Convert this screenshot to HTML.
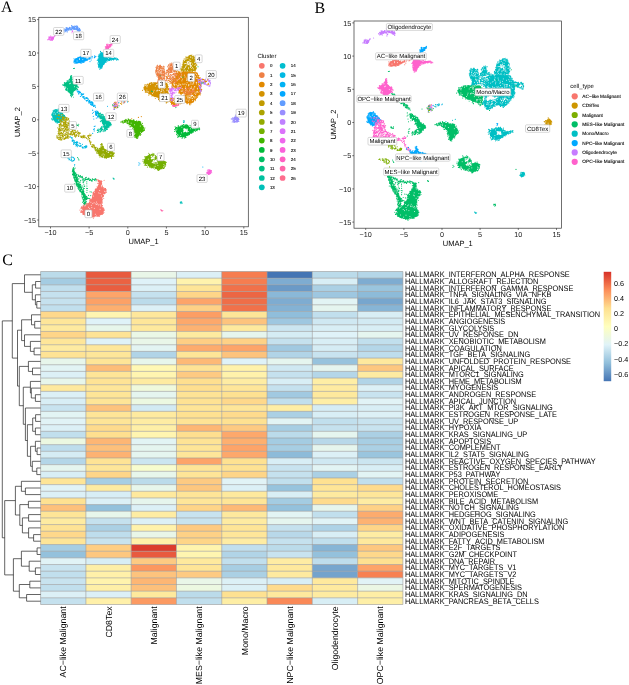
<!DOCTYPE html><html><head><meta charset="utf-8"><title>Figure</title><style>html,body{margin:0;padding:0;background:#fff}svg{display:block}text{font-family:"Liberation Sans",sans-serif;fill:#000;text-rendering:geometricPrecision}.sm{stroke:#000;stroke-width:.1px}.se{font-family:"Liberation Serif",serif}.tk{font-size:7.2px;fill:#1a1a1a}.ax{font-size:7.5px}.lb{font-size:6px;text-anchor:middle}.lt{font-size:6px}.rl{font-size:8px}.cl{font-size:8.8px}.hl{font-size:7.2px}</style></head><body>
<svg width="629" height="685" viewBox="0 0 629 685">
<rect width="629" height="685" fill="#fff"/>
<text class="se" x="1.1" y="12.2" font-size="16">A</text>
<clipPath id="cpA"><rect x="38.8" y="17.3" width="209.5" height="209.5"/></clipPath>
<g clip-path="url(#cpA)"><path d="M48.3 37.5L48.5 39.7L50.7 40.5L53.7 39.3L54.3 37L51.6 36.2Z" fill="#EE67EC"/><path d="M51.1 37.5h0m2.4 1.4h0m-2.8-1.5h0m-1 0.2h0m4.3-1h0m-0.7 1.5h0m-1.9 0.2h0m-1.4 0.6h0m-0.6 0.2h0m-0.1 0.6h0m1.8-3h0m0 1.3h0m-0.4-1.4h0m4-0.7h0m-4.8 2.4h0m-0.4-1.3h0m3 3.2h0m-4.9-0.5h0m4.6 0.2h0m-1.2 0.5h0m0.7-1.2h0m-0.5-2.6h0m-0.3 0h0m-2.1 3h0m1.6-0.4h0m3.1-1.6h0m-4.5-0.8h0m2.4 1.2h0m2-0.1h0m-1.5 0.4h0m0.7 0.7h0m-0.8-0.6h0m-1.1-2.4h0" stroke="#EE67EC" stroke-width="1.15" stroke-linecap="round" fill="none"/><path d="M50.1 38.9h0m1-2.2h0" stroke="#fff" stroke-width="0.85" stroke-linecap="round" fill="none"/><path d="M55 35.6h0m3.5-0.8h0" stroke="#EE67EC" stroke-width="1.15" stroke-linecap="round" fill="none"/><path d="M64.2 30.3L64.9 31.6L68.4 29.9L72.6 28.7L76.5 29.4L79.2 31.2L80 29.8L77.1 27L72.7 26.7L68.4 28.1Z" fill="#619CFF"/><path d="M64.6 29.1h0m10.5 0h0m4.8 3.1h0m-6.6-3.8h0m4.3 2.3h0m-3.1-3.2h0m-7.3 4.4h0m6.1-5.3h0m-9 4.7h0m13.8-1.5h0m-9.6-0.5h0m-3.2 1.8h0m9.5-5.1h0m1.9 3.8h0m-8.1-1h0m-2.4 0.4h0m10.7 0.6h0m2.2-0.4h0m-4.1-2.3h0m-1.5 0.4h0m-8.7 4.4h0m10.2-5h0m-0.6 1.9h0m3.3 1.4h0m-8.8 0h0m10.6-0.2h0m-0.7 0.1h0m-11.8 1h0m-3.5-0.7h0m3.9-2.1h0m-0.4-0.5h0m4.7 0.9h0m-6.5 0.7h0m5.1-1.3h0m-4.3 2.7h0m8.7-2.8h0m-4.3 0.9h0m-3-0.5h0m-2.6 1.6h0m3-0.8h0m8.6-0.6h0m3.1-0.3h0m-11 1.7h0m0.1-1.7h0m9.8 1.7h0m-7.1-1.8h0m8.3 0.5h0m-3.6 0.9h0m-11.8 1.1h0m11.7-3.8h0m2.1 1h0m-3.8 1.5h0m-4.7-2.2h0m-3 1.7h0m5 0.7h0m5-0.6h0m3.4 0.5h0m-4.9-3.4h0m4 4.8h0m-1-3h0m-1-2.1h0m-2.4 1.8h0m-8.1 2.5h0m9.8-1.9h0m-1.3-0.4h0m-2.9 2.3h0m-1.5-0.3h0m1.9-1.1h0m-2.4-0.7h0m2.7-0.2h0m2.9-1.2h0m-6.2 2h0m10.9 1.9h0m-10.4-2.8h0m6.9-0.1h0m-11 2h0m11.9 0.7h0m2.3-0.6h0m-14.4 0.9h0m0.1-0.8h0m0.4-1.2h0m7.5 0.9h0m-1.8-3.2h0m4.8 2.4h0m-10.3 1.7h0m9.8-4.2h0m-0.5 2.1h0m3.2 2.9h0m-11.3-1.7h0m4.4-3.1h0m-6.8 5h0m12.4-0.9h0m-6.1-5h0m-4.5 4.7h0m5.7-2.6h0m1.9-0.7h0m-1.3 1.4h0m-7.3 1.8h0m-1.3 0.1h0m14.8-0.4h0m0 0.9h0m-12.4-3.1h0m11.2 2.9h0m-14.1-0.4h0m4.8-1.7h0m-4.1 2.1h0m2.6-1.8h0m5.3-2.5h0m3.5 0.7h0m1.8 0.6h0m-1.8 1.4h0m1.3-1.5h0m-11.5 0.2h0m-0.5 3.2h0m8.2-3.8h0m4.9 3.2h0m-6-2.1h0m-7.7 3.4h0m12.6-4.8h0" stroke="#619CFF" stroke-width="1.15" stroke-linecap="round" fill="none"/><path d="M64.7 31.7h0m-0.5-1.6h0m6.8-2.1h0m4.7-0.3h0" stroke="#fff" stroke-width="0.85" stroke-linecap="round" fill="none"/><path d="M72.8 31.1h0m-0.5 0.3h0m-0.3 1.3h0" stroke="#EE67EC" stroke-width="1.15" stroke-linecap="round" fill="none"/><path d="M104.8 48.4L107.4 49.1L111.2 46.5L111.9 43.6L107 45.1Z" fill="#FF61C3"/><path d="M110 47.1h0m1.7-2.6h0m-4.3 2.4h0m-0.8 2.1h0m1.3-0.8h0m0.4-1.3h0m1.4-1h0m-2.2-1.2h0m2.5-0.2h0m1-0.2h0m-3.2 4.4h0m-1.8 0.6h0m6.2-5.5h0m-3.8 2.9h0m-0.8-0.1h0m-0.5-2.6h0m0.5 3.2h0m4.2-2h0m-6.3 4.1h0m1-4.5h0m2.4 0.4h0m0.1 0h0m-3.3 1.5h0m6.4-3.5h0m-2.5 3.1h0m-0.8-1.9h0m1 2.8h0m-2.3-2.1h0m-1.1 2.9h0m-0.9-1h0m5.7-3.1h0m-3.6 3.2h0m0-1.3h0m-0.4 0h0m3.7 0.7h0m-0.9 0.1h0m-3.2 1.7h0m1.7 0.1h0m3.1-3.9h0m-3.2 1h0m-1-0.1h0m0.3 2.2h0m-2.4-0.8h0" stroke="#FF61C3" stroke-width="1.15" stroke-linecap="round" fill="none"/><path d="M111.3 46.3h0m-3-1.2h0" stroke="#fff" stroke-width="0.85" stroke-linecap="round" fill="none"/><path d="M74.3 60.9L74.8 62.7L77 63.5L82.1 62.6L86.4 60.5L86.9 58.9L85.2 57.8L81.8 57.1L78 57.5L75.3 58.7Z" fill="#00A8FF"/><path d="M80.9 59.6h0m-5.8 1.8h0m9.1-0.8h0m-10.4 0.5h0m4.8-2.1h0m-2.8 2.6h0m9.6-2.6h0m-5.3 1.8h0m-4.2-0.5h0m4.4 0h0m-0.8-0.1h0m3.6-0.6h0m3.6-0.2h0m-10.8 1.6h0m4 1.7h0m0.4-3.7h0m-4.9 2h0m5.3-4.1h0m-0.6 0.9h0m-1.8 1.9h0m3.9 0.4h0m-3.7-1.3h0m7.4 0.8h0m-10.1-0.7h0m1.2 3.6h0m6.2-3h0m-5.8 2.6h0m8.3-1.3h0m1-0.8h0m-10.1-0.2h0m3.1 2.7h0m4.4-3.8h0m-9.2 4.2h0m9.5-1.2h0m-4.2-4.4h0m-4.5 2.2h0m8 2.4h0m-8.6 1.6h0m4.7-4.8h0m1.4-1.9h0m-0.5 5.7h0m5.6-2.2h0m-9.2 2.5h0m1.6-2.6h0m-0.4-0.7h0m7.8 0.9h0m-10.3 1.2h0m6.9-1.5h0m1.1-1.6h0m-9.8 4.1h0m7.3 0.7h0m-6.8-1.9h0m6.1-3.7h0m3.2 4.3h0m-2.1-0.1h0m-6.9 0.2h0m2.2 0.3h0m9.1-4.4h0m-11.3 4h0m6.1-1.4h0m6.4-1.2h0m-11.1-0.5h0m3.6 1.2h0m1.9-0.6h0m1.5 0.3h0m0.6 0.8h0m-5.3 0.9h0m4.7-4.1h0m1 2.1h0m-7.9 3.5h0m4.1-6.4h0m0.4 6.3h0m1.1-0.2h0m1.9-0.4h0m-4.8-2.3h0m5.1-1.9h0m-4.3 1.7h0m-0.9-2.2h0m-0.5 1.4h0m1.7-0.1h0m-2.8-0.2h0m-1.4 0.4h0m2.1-1.8h0m0.5 3.6h0m3.9-0.7h0m3.3-2.2h0m-6.4-0.9h0m2.2-0.2h0m-2 2h0m4.3 0.5h0m-8.3 0.9h0m7.3 1.9h0m2-3.5h0m-2.2 2.7h0m3.2-3.3h0m-9.1 0.9h0m4-1.1h0m1.3-0.1h0m-5.6 3.4h0m-1.9-1.3h0m8.6-2h0m-5.4 4.6h0m5.2-2.5h0m-8.2 0.1h0m8.1 0.5h0m-1.6 1.7h0m-0.9 0h0m3.8-2.8h0m-4.8-1.8h0m4.5-0.5h0m-5.3 0.9h0m-4.5 0.6h0m7.6 3.1h0m2.5-2.9h0m-7.4 0.5h0m6.6-0.3h0m-4 0.1h0" stroke="#00A8FF" stroke-width="1.15" stroke-linecap="round" fill="none"/><path d="M79.6 58.6h0m0 0.9h0m-2.5 1.5h0m-2.3 1.9h0m8-3.3h0m-1 3.5h0" stroke="#fff" stroke-width="0.85" stroke-linecap="round" fill="none"/><path d="M90.1 58.7h0m1.9-2.3h0m-1.8 1.2h0m4.9-0.7h0m0.8-0.4h0m-6 0.7h0m-2 1.8h0m4.5-2.3h0m-3.4 2.5h0m1.2-1.3h0m4.3-0.5h0m-6.8 1.9h0m6.6-1.6h0m-6.2 0.6h0m3.8-0.4h0m-2.8 0h0m5.6-2h0m-4.7 2.4h0m-0.6 0h0m0.2 0.6h0" stroke="#00A8FF" stroke-width="1.15" stroke-linecap="round" fill="none"/><path d="M91.2 60h0m-1.2 1.6h0m-2.8-1.1h0" stroke="#00A8FF" stroke-width="1.15" stroke-linecap="round" fill="none"/><path d="M100.4 53L98.8 56.3L97.9 60.5L98.4 66.4L99.8 68.8L102 67.1L104.2 63.7L106.5 60.9L111.9 59.6L117.9 59.3L118 58.8L110.2 57.8L104.8 57.4L104.5 57.2L103.6 54.6L102.1 52Z" fill="#00BECF"/><path d="M102.4 66.6h0m0.8-4.3h0m13-4.3h0m-5.4-0.1h0m-5.5 3.1h0m-5.5 4.4h0m0.8-0.9h0m9.2-4h0m-9.6 0h0m2.2-5.3h0m14.8 4.5h0m-15.4-7h0m-1 10.6h0m-2 1.7h0m13.8-6.4h0m-1.7-0.1h0m0.1 0.5h0m3.9-0.7h0m-11.6-2h0m-0.2 0.2h0m11.3 1.4h0m-13.6-2.9h0m2.9 7.4h0m-2.4-3h0m-2-3.9h0m-0.3 8.9h0m4.4-8h0m9.8 2.8h0m-13.9 5.6h0m6.8-2.6h0m11.5-2.8h0m-16.4-3.1h0m-2.8 9.7h0m2.8-10.6h0m1.1 0.6h0m-2.5 5.1h0m0.9-2.3h0m1.3-4.9h0m-3.9 8.9h0m7.3-4.8h0m-3.2-3h0m-1.5 11.8h0m3.5-4.3h0m-6 2h0m6.9-10.4h0m-4.1 2.6h0m5.8 4.2h0m-7.5-0.7h0m-0.4 7.4h0m2-1.5h0m13.1-6.9h0m-12.4 9h0m-1.7-14.4h0m2.5 1.7h0m-2.2 2.1h0m-0.7 1.4h0m11.5-0.5h0m-8.5 3.8h0m6.4-3.9h0m0.8 1.3h0m-11 4h0m15.6-5.3h0m-10.8 1.7h0m-5.5-0.9h0m13.9-0.6h0m-12.1-3.1h0m4.7 4.3h0m-6.3 3.4h0m1.7 1.7h0m8.6-4.9h0m-6.2-4.7h0m-2.9 4.2h0m1.5 0h0m12.7-0.6h0m-14 10.2h0m8.1-9.7h0m-1.3-2.2h0m-4.8 1.2h0m3.2-0.8h0m-1.6-4.1h0m-0.1 0.1h0m9.6 5.8h0m-6.7-0.2h0m-6.2 1.9h0m0.3 7.7h0m9-11.3h0m-8.3-3.4h0m4.3 3.9h0m-5.7 7.8h0m4.8-2.1h0m-3.7-12.3h0m7.6 7.9h0m9.4-0.5h0m-15.7-2.6h0m1.8 5.9h0m-2.2-2.9h0m0.5 8h0m0.1-3.3h0m-2.1 4.1h0m4.9-6.1h0m5.4-2.6h0m-12.4 3.8h0m3.6-4.9h0m12 1.7h0m-12.3-1.2h0m15.5 1.4h0m-17.7-5.1h0m16.9 3.9h0m-12.8-5.8h0m0.6 10.7h0m-5.3-7.5h0m5.2-1.1h0m3.7 6.1h0m-5.2-5.7h0m5.7 1.2h0m-4.9 6.3h0m8.5-2.9h0m-7.3 0.6h0m-4.2-6.1h0m8.7 2.8h0m-8.3 9.8h0m1.5-8.9h0m3.1 3h0m-2.9-7.9h0m-1.9 10h0m5-6.2h0m-5.5 5.1h0m-0.4-3.5h0m14.2 0.7h0m-8.1 2.2h0m3.7-1.2h0m-9.5-2.1h0m14.2 0.5h0m-11.2-1.9h0m2.5 4.6h0m10.5-2.9h0m-16.7 8.2h0m14.8-8.6h0m-9.1 5.4h0m6.9-5.1h0m-12.8 1.1h0m4.1 2.7h0m-0.2-8.1h0m1.9 8.2h0m10.2-3.9h0m-10.9-0.4h0m-4.4 8h0m3.1-5.1h0m-3.9 1.8h0m2.1 5.8h0m0.6-14.7h0m17.4 5.7h0m-14.1-4.3h0m7.1 3.3h0m-10-5.9h0m8.9 5.8h0m-11.7-3.7h0m6 3.4h0m-7.4 2h0m6.1-4h0m1.8 5.8h0m-2.8 0.1h0m-1.8-10.2h0m1.2 15.8h0m0.5-10.8h0m0.3-2.6h0m-2.4 11.7h0m3-1.8h0m-4.4-7.5h0m13.4 2h0m-8.8 2.3h0m-2.7 6.3h0m3.6-6.3h0m12.8-1.8h0m-5.4-0.8h0m-10.5 4.7h0m3-4.4h0m-0.5 5.4h0m7.4-5h0m-4-0.7h0m-8.6 1.5h0m4.1 5.5h0m-1.2-3.3h0m1.6-3.4h0m1.5 0.3h0m-2.7-1.8h0m1.3 1.8h0m-0.3 1.2h0m-3.8 3h0m1.6 2h0m6.9-4.2h0m-7.7 3.5h0m-0.1-5.8h0m15.5-0.7h0m-14.6-6.6h0m1 15h0" stroke="#00BECF" stroke-width="1.15" stroke-linecap="round" fill="none"/><path d="M98.3 63.2h0m9.1-2h0m-7.9 7h0m9-9.8h0" stroke="#fff" stroke-width="0.85" stroke-linecap="round" fill="none"/><path d="M70.8 75.6L69.5 80L63 84.6L65.1 86.4L67.8 90.8L71.2 95.1L72.7 96.3L73.4 91.7L76.6 89.8L78.1 86.7L76.6 84.5L72.2 81.7L71.6 78.1Z" fill="#00C083"/><path d="M77.6 89.5h0m-9.1-2.6h0m0.1 3.7h0m-0.2-8.2h0m1.4 5.8h0m1.9-10.4h0m0.9 4.7h0m2.6 3.3h0m-4.5 9h0m0.9 2h0m3.6-10h0m-3.2-1h0m-5-3h0m0.2-2.2h0m4.7-0.9h0m3.1 7.4h0m-4.7-5.1h0m0.4 13.6h0m0.4-13.6h0m-6 3.4h0m6.7 5h0m-2.7-7.4h0m-1 8.4h0m8.1-3.7h0m-2.7 9.3h0m-8.8-10.1h0m11.9 1.1h0m-9.3-3.8h0m8.1 1.5h0m-4.9 1.4h0m-4.7-2.7h0m3.6 4.7h0m3.5-0.5h0m-1.1-9.7h0m-3.2 7.7h0m2.6-7.6h0m4.5 6.4h0m-8.3 0.3h0m2.4 4h0m4.4-0.8h0m-7.8-1.7h0m9.2-0.2h0m-5.9-6.5h0m5.6 4h0m-8.4 1.7h0m10.2 1h0m-5.3-7.5h0m1.6 11.2h0m0.1-7.1h0m-1.7 6.5h0m-6.8-7.3h0m-1.4 2.5h0m5.5-5.6h0m-1.4 4.9h0m-0.5 1.1h0m4.3-5.9h0m-2.4 12.1h0m-1.1-11.2h0m-3.3 5.7h0m1.2-1.3h0m3.8 1.3h0m3.2 0.8h0m-7.7-1.4h0m5.6-1.4h0m3-1.5h0m1.6 3.5h0m-0.7 1.7h0m-5.4 3.1h0m-2.6-1.1h0m4.6-10.4h0m0.6 10.4h0m-0.4-0.9h0m5.4-4.5h0m-1.9 3.2h0m-11.2-3h0m7.7-2h0m1.3 4.3h0m-4.7 0.3h0m-0.5 2.4h0m2.3 0.5h0m-3.8-3.6h0m4.3-7.3h0m1.8 0h0m-1.8 4.3h0m-3.6 5.9h0m2.9-10.3h0m2.4 7.8h0m-1.5-9.5h0m-3.4 6.5h0m0.3-3h0m-0.5 5h0m4.8-2.3h0m-0.8-7.5h0m1.8 12.5h0m-4.4-5.2h0m7.4 1.4h0m-5.6 1.5h0m-1.3 4.7h0m3.8-9.4h0m4 5.8h0m-6.6-0.4h0m4.2 2.4h0m-3.1-11.3h0m-4 4.2h0m3.3-6h0m1.4 2.2h0m0.3 8.7h0m0.6 7h0m-6-8.8h0m-0.7-0.9h0m3.1-0.1h0m7.9-0.1h0m-0.4 1h0m-3.3-0.7h0m-10.9-0.3h0m5.8-1.7h0m2.3 10.4h0m-2.5-7.8h0m5.8 2.2h0m0-2.6h0m-4.5-4.4h0m0.6 6.4h0m-5.5-1.8h0m8-3.4h0m-4.2 9.7h0m4.3-9.3h0m-5.7-0.3h0m4.6-2.5h0m-2.4 12.5h0m2.9-10h0m-3.1 8.1h0m1.9-0.3h0m5.7-6.2h0m-8.8 3.2h0m-2.3-2.4h0m8.5 0.2h0m0.2-0.4h0m3.5 4.9h0m-4.6 4.8h0m-1.9-0.7h0m-1.4-1.5h0m2.4 2.3h0m-3.8-13.1h0m5.6 1.9h0m-3.4-4.2h0m-4.1 7.7h0m1.3-3.4h0m-3.3-0.6h0m5.8 10.7h0m1.2-16.2h0m-4.2 8.1h0m-1.6 4.1h0m5.2 2.5h0m2.2 1.9h0m-2.4 1.5h0m-0.9-16h0m-2.3 8.6h0m2.3-3.3h0m-2.1 4.2h0m-1.2-4.8h0m-0.8-0.7h0m7.6 11.2h0m-4.5-13.5h0m2.1 10.3h0m-0.4-9.9h0m1.9 2.6h0m-0.7-8.1h0m-8.1 8.7h0m8.5-3.1h0m-5.3 8.3h0m4.9-8.9h0m-2.9-0.5h0m1.9-0.6h0m0.1-3.5h0m0.5 2.8h0m-1.3 12.3h0m1.7-8.5h0m-0.3 9.5h0m2.4-5.4h0m-7.7 3.3h0m6.4-3.6h0m-5.2 0.3h0m-1 0.8h0m7.3-5.3h0m2.5 2.5h0m-5.4-1.3h0m-0.8-3.9h0m1.5 16.4h0m-1.5-10.3h0m1-3.9h0m1.1-4.8h0m0.1 7.6h0m-5.8 4.3h0m6-9.8h0m-4.7 4.6h0m0.9-1.6h0m-1.8 6.6h0m0.5-0.9h0m0.8 0.7h0m5.7-5.9h0m4.9 4.6h0m-13.9-3.3h0m7.5 11.2h0m-1.5-14.3h0m-4.8 4.1h0m6.9 7.7h0m-0.4-6.2h0" stroke="#00C083" stroke-width="1.15" stroke-linecap="round" fill="none"/><path d="M74.4 86.7h0m-1.2 9.8h0m0-2.8h0m-7.4-6.4h0m2.2-6.4h0m-0.4 8h0m5.7 6.3h0m-8.3-8.4h0m-1.8-2.5h0m5.9-3.4h0m1.5 2.4h0m6.4 4.2h0m-7.4-3.8h0" stroke="#fff" stroke-width="0.85" stroke-linecap="round" fill="none"/><path d="M73.5 68.5h0m0.9-0.2h0" stroke="#00C083" stroke-width="1.15" stroke-linecap="round" fill="none"/><path d="M84.3 96.7h0m8.1 8h0m-9.1-6.9h0m4 2.5h0m2.8 2.2h0m-0.7-1.8h0m-4.5-1.5h0m8.9 5.6h0m-0.8 0.5h0m-14.5-13.9h0m13.1 11.3h0m-12.9-11.5h0m-1.9-0.4h0m2.6 1.8h0m1.6 1.2h0m-1.2-1.8h0m-0.4 0.4h0m-1.4-0.3h0m10.8 10.8h0m-5.8-8.5h0m3.6 3.2h0m-4.3-3h0m0.4 2.4h0m0.8-0.4h0m5.1 4.7h0m3.9 0.9h0m-9.8-7.8h0m9.2 9.5h0m-13.3-9.9h0m1.2-1.8h0m12.2 13.2h0m-13.3-12.2h0m1.9-0.7h0m-0.8-1.1h0m-0.7 1.7h0m13.4 9.9h0m-14.1-11.6h0m5.3 2.4h0m-0.8 2.9h0m3.1 0.9h0m-5.9-5.2h0m10.5 12h0m-10.2-8h0m1.7-2.6h0m11.1 9.3h0m-7.3-4.8h0m2.4 1h0m-5.2-1.7h0m11.9 8.7h0m-2.5-3.9h0m-15-11.4h0m0.5 1.1h0m12.7 12h0m-6.5-5.7h0m6.9 6.4h0m-9.3-9.8h0m8.9 8.7h0m4.3 1.7h0m-17-14h0m8.1 9.2h0m6.2 3.3h0m-2.5-3.3h0m-1.3-1.5h0m5.5 6.8h0m-4.6-2.9h0m-8.4-8.9h0m7 4.8h0m3.6 5.4h0m-5.1-3.8h0m3.3 0.2h0m0.7 1.5h0m-9.2-8h0m4.3 3.8h0m-6.7-5h0m10.2 7.3h0m1.4 2.2h0m-4-1.6h0m0.2-2.5h0m5.3 3.8h0m-2.8-1.5h0m-5.8-6.5h0m-5.7-2.2h0m4 1.7h0m2.7 5.1h0m-0.2-1.7h0m8.3 6.8h0m-5-3.2h0m4 1.7h0m-12.5-8.6h0m10.8 8h0m-0.5 0.1h0m-5.4-5.2h0m3.4 1.4h0m-5.6-2.4h0m9.5 5.9h0m-3.7-3.5h0m6 8.3h0m-4.5-4.3h0m0.5-0.7h0" stroke="#00B2F4" stroke-width="1.15" stroke-linecap="round" fill="none"/><path d="M97.6 116.4h0m1 0.3h0m-1.6-5.7h0m-0.7 1.4h0m-0.4 2.4h0m2.2 1.2h0m-1.5-0.5h0m1.7-2.7h0m-0.4 2.2h0m-1.4-2.1h0m1.1-0.7h0m0.1 3.1h0m1.3 1.4h0m-3.6-4.6h0m0.3 0.7h0m3.3 2.2h0m-1.4 1.7h0m-0.2-2.8h0m0.7-1.6h0m0.9 2.8h0m-2.2-0.8h0m1.2 1.2h0m0.2-1.4h0m-0.3 3.7h0m-2.4-3.6h0m2.4-2.6h0m-2.5-0.1h0m0.9 6.6h0m-0.8-4.8h0m1.1-0.1h0m-0.5-2.2h0m0.5 3.9h0m-1.6-3.7h0" stroke="#00B2F4" stroke-width="1.15" stroke-linecap="round" fill="none"/><path d="M92.7 110.3h0m0.7 2h0m2.7 0.7h0m-3.4-2.9h0m2.9 1.6h0m-3.1 1.6h0m3-6h0" stroke="#00B2F4" stroke-width="1.15" stroke-linecap="round" fill="none"/><path d="M116.7 104.8h0m-2.1 4.7h0m0.8-5.9h0m-1.7 1.8h0m1.2-1.7h0m-0.3 3h0m0.3-1h0m-0.6 2.1h0m0.3-1.8h0m-0.1 0h0m1.1 0.9h0m-1.1-0.4h0" stroke="#00B2F4" stroke-width="1.15" stroke-linecap="round" fill="none"/><path d="M113.7 103.7h0m0.1 5.6h0m3.4-7.6h0m-0.4 1.2h0m1 2h0m-3.1 1.2h0m1.1 0.9h0m-0.3-2.3h0m-1.2-1.9h0m0.4 2.3h0m2.9 0.6h0m-0.6-2.7h0" stroke="#FF66AA" stroke-width="1.15" stroke-linecap="round" fill="none"/><path d="M115.1 102h0m3.7 1.1h0m-1.3 3.3h0m-2.3-3.4h0m0.5 4.6h0m0.5-3h0m0.7 3.5h0m-1.1-4.5h0m1.1 0.5h0m-3.6 2.7h0" stroke="#F8766D" stroke-width="1.15" stroke-linecap="round" fill="none"/><path d="M114.3 107.9h0m1.6-5.7h0m0.5 4.2h0m-1.9-2.2h0m0.7 3.4h0m0.8-0.9h0m-3.1-1h0m4.8 1.7h0m-3.1-4.7h0" stroke="#C19B00" stroke-width="1.15" stroke-linecap="round" fill="none"/><path d="M115.5 106.3h0m-1.3-2.5h0m4.8 2h0m-6.4-0.9h0m5.1 2.3h0" stroke="#00BD63" stroke-width="1.15" stroke-linecap="round" fill="none"/><path d="M115.3 105.9h0m0.5 0.1h0m-2.1 0h0m0.3 3h0m0.5-5.5h0m2.1 2.6h0" stroke="#DB72FB" stroke-width="1.15" stroke-linecap="round" fill="none"/><path d="M124.5 102h0m-2.8 1.8h0m-0.1 0.4h0m3-3.2h0m-4.1 2.5h0m1.3-1.4h0m6.3-0.8h0" stroke="#D39200" stroke-width="1.15" stroke-linecap="round" fill="none"/><path d="M123.2 101.7h0m1.1 1.1h0m-5.5-0.2h0m8.8-0.7h0" stroke="#00B2F4" stroke-width="1.15" stroke-linecap="round" fill="none"/><path d="M124.8 101.4h0m-3.5 0.3h0m3.6 0.4h0m-1.3 0.8h0" stroke="#F8766D" stroke-width="1.15" stroke-linecap="round" fill="none"/><path d="M107.5 106.2h0" stroke="#00B2F4" stroke-width="1.15" stroke-linecap="round" fill="none"/><path d="M51.9 114.2L52.5 118.3L55.5 121.9L58.9 123.1L62.5 120.1L65.4 117.2L63.7 114.4L59.9 111.9L57.6 109L54.2 110.7Z" fill="#00C0B9"/><path d="M56.4 121.4h0m6.4-2.7h0m-5-0.9h0m3-0.5h0m1.6 1.1h0m-1.2 1.8h0m2.4-1.1h0m-10.5-8.2h0m5.7 2.8h0m-4.7 2.9h0m0.4-0.4h0m7.3 1.9h0m-2 4.2h0m1.8-4.1h0m-0.1-0.3h0m-6.4-0.4h0m3.1-4.6h0m-6.4 1.2h0m12.7 2h0m-12.2 3.7h0m7.4-1.3h0m-1.5 2.2h0m-1.6-6.3h0m4.9 3.2h0m-3.2 3.3h0m0-11.4h0m0.8 3.5h0m-2.5-1.8h0m7.4 7h0m-1.5-1.6h0m-8 3.4h0m-1.8-7h0m6.6 5h0m-6.5-5.5h0m1.3-1.1h0m6.6 3.1h0m-3.6 8h0m2.5-12.2h0m0.5 2.7h0m-2.4 0.6h0m2.2 6.5h0m1.4-1.2h0m2.4 1.1h0m-4.5-5.7h0m1.6 0h0m-3.6 6.5h0m7.3-5.4h0m-11.1 3.8h0m7.9-1.4h0m-5.8 2.3h0m5.3-2.9h0m0.9-2.5h0m-2.7-3.3h0m-0.1 10.9h0m-5.8-2.3h0m0.2-7.7h0m8.5 3.6h0m-9.7-0.4h0m12.8 2.1h0m-7.7-1.3h0m3.4 0.4h0m-5.7-5.4h0m8.6 7.4h0m-3.4-1.5h0m-3.2 2.3h0m-1.9-3.2h0m5.1 1.2h0m5.2-0.5h0m-5-5.8h0m-3.1 2.4h0m4.5 6.5h0m-2.4-5.7h0m3.4 0.6h0m-1.6-1.8h0m-6.4-2h0m6.5 8.5h0m0.6-2.2h0m-3.7 3.6h0m-4.5-10h0m2.9 7h0m-2.9-2.7h0m-1.8-0.4h0m12.5 3.2h0m1.1-1.1h0m-2.6 0.4h0m-0.9-4.5h0m-3.6 8.1h0m3.9-0.4h0m-6-3.5h0m-1.6-4.6h0m6.3 7.8h0m-4-7.8h0m1.7 3.4h0m-4.7 1.8h0m-0.3-0.6h0m-0.4 1.7h0m0-5.8h0m7.3 2.1h0m-4.5 5.1h0m-2.9-6.6h0m4.7-0.4h0m4.6 0h0m1.2 6.8h0m-4.6-3.1h0m-5.5-1.9h0m-1.8 3.9h0m9-4.3h0m-2.3 2.5h0m-3.5-5.4h0m1.3 2.1h0m-0.6-1.9h0m1.1-1.9h0m5.6 8.7h0m-4.3-4.8h0m0.3-4.1h0m-3 3.8h0m-0.7-3.6h0m10.9 7.5h0m-8.6-8h0m-1.7 11.7h0m0-1.7h0m4.4-1.4h0m-2.3-6.4h0m-5.3 2.9h0m3.7 3.6h0m-2.6-1.8h0m7.5 1.7h0m-7.8-5h0m4.9-1.6h0m-4.6 0.7h0m5.3-0.8h0m-0.2 10.9h0m1-1.3h0m0.7-4.3h0m-4.7 0.5h0m-1.4-0.8h0m1-3.7h0m2 0.1h0m0.4 10.4h0m-1.1-4.8h0m2.7 3.9h0m-5.3-10.9h0m1 1.5h0m0.4 7.9h0m5.4-5.3h0m-5.2 0h0m0.1 5.7h0m-2.9-6.2h0m5.4 3.7h0m-3.8-6.4h0m4.5 6.5h0m-2 1.2h0m-2.4-7.4h0m7.7 6h0m-2-3.6h0m-3.4 5.9h0m3.7-4.6h0m-1.4-3.2h0m-2-3.4h0m3.6 4.5h0m-1.6-1.2h0m-5.6 1.7h0m11.1 3.9h0m-2.8 2.5h0m-3.8-4.6h0m5.4-2.5h0m-4.2-3.3h0m5 6.9h0m-5.5-8.8h0m4 9h0m-3.2 3.7h0m2.8-4.6h0m-7.7-6.8h0m8.3 6.8h0m-6.9-7.3h0m4.2 7.9h0m-3 2h0m-0.8-1.1h0m5.5-2.2h0m-6.3-0.7h0m4.2 0h0m-4.4 1.8h0m6.3 2.4h0m2.7-1.6h0m-2.7-5.4h0m-2.6 4.4h0m5.7 1h0m-10.3-7.7h0m6 5.7h0m-3.5-4.4h0m3.8 0.6h0m-4.1 7.8h0m-0.4 2h0m-4-3.6h0m3.7-5.4h0m5.5 5.2h0m1-4.2h0" stroke="#00C0B9" stroke-width="1.15" stroke-linecap="round" fill="none"/><path d="M59.1 113.8h0m-1.1-2.6h0m-0.5-2.2h0m1.2 11.2h0m3-5h0m-7.6-2.9h0m-0.2 1.8h0m1.7 0h0m1.6-1.6h0" stroke="#fff" stroke-width="0.85" stroke-linecap="round" fill="none"/><path d="M57.7 118.3h0m7.5 1.9h0m-4.2-5.5h0m-1.9 4h0m0.9 2.4h0m-2.7-2.6h0m6.5 1h0m-1.8 2.3h0m-3.8-6.9h0m6.6 4.9h0m1.1-0.7h0m-5.1-1.9h0m-0.8 4.8h0m-3.9-6.8h0m1.1 3.2h0m3.5-1.8h0m2.3-0.6h0m-3.5-0.8h0m3.2-0.9h0m-4.1 1.1h0m3 6h0" stroke="#ACA300" stroke-width="1.15" stroke-linecap="round" fill="none"/><path d="M60.7 130.3h0m18.9 2.5h0m-15.7-14.2h0m11.6 12.2h0m-14.2 9h0m6.2-14.2h0m1.6-3.6h0m-9.6 15.5h0m-1.3-6.3h0m5.6-2.3h0m-2.9-9.3h0m13.2 12.5h0m-7.2 5.2h0m1.1-13.4h0m-3.9-3.1h0m-1 4.4h0m7.5 9.3h0m-2.2-5.4h0m-2.5-4.7h0m7.4 8.6h0m-5.8-0.1h0m-3.7-15.3h0m-1.2 1.5h0m3.5 14.2h0m8.3 2.6h0m-9.2-15.9h0m0.3 4.6h0m3.6 12.4h0m4-7.4h0m-11.9-4h0m7.4-2.1h0m-1.3-5.6h0m-5.9 11.8h0m-3 3.3h0m1.8-8.6h0m0.9 13.7h0m4.2 0h0m-1-11h0m-4 11.1h0m-2.2-4.4h0m3.9 1.9h0m-1.8 3.7h0m4.2-9h0m1.5-4.3h0m-3.6-7.8h0m0 10.3h0m3.8 8.8h0m2-5.6h0m-9-2.3h0m4.5-4.7h0m6.3 1.9h0m3.1 6h0m-12-11.4h0m1.1 0.4h0m-3 10.1h0m9.5-9.1h0m1.7 6h0m1.1 5.4h0m-8-2.3h0m4.2 5.7h0m0.1 0.5h0m-4.8-3.8h0m11.7-0.8h0m-0.1 1.3h0m2.1 0.1h0m-4.6-4.9h0m-8.1-9.9h0m4.7-0.5h0m-6 17.5h0m2.1-11.1h0m2.8-3.2h0m-1 3h0m-3 7.1h0m0-13.5h0m0.4 1.3h0m-2.7 12h0m-2.6 0.2h0m3.3 6.5h0m-1.2-15.6h0m2.6 1.8h0m-4.2-0.7h0m8 10.8h0m-3.3-9.6h0m1 1.8h0m15.5 5.3h0m-21.1-8.7h0m19.7 10.9h0m-17.7-6.8h0m8.4-5h0m-3.8 0.3h0m-5.1 9.8h0m5.6-3.9h0m1.7-1.8h0m0.1 10.4h0m1.9-13.4h0m-5.7-4.2h0m2.5 3.6h0m2.3 6h0m-8.4 0.7h0m18.5 2.2h0m-14.3-7.9h0m-2.4 10.1h0m2.1-18.2h0m7.1 12.2h0m2.5 4.8h0m-4.2-5.6h0m-4.6-6.4h0m3.1 9.9h0m-3.2-5.8h0m-1.2 12.1h0m3.1-1.4h0m-3.2-10.8h0m1.8 11.5h0m-1.6-2.4h0m1.4 1.5h0m0.9-19.3h0m0.4 12.4h0m12.8 3.3h0m-18.7-3.5h0m12.4 3.9h0m-7.3 0.9h0m0 3.3h0m-6 1h0m-0.7-13.4h0m12.1 6.3h0m-7.1-0.5h0m-4.6 2.7h0m0.6-10.8h0m-0.3 4.1h0m6.6 3.7h0m3.9-7.9h0m2.4 7.1h0m-2.1 3.4h0m-11.3 1.1h0m16-2.4h0m-2.1 1.8h0m-8-12.6h0m-6.9 12.4h0m5.7-9.4h0m-4.9 7.4h0m8.4 4.7h0m-4.7-18.4h0m-0.8 2.9h0m2.5-3.8h0m0.3 16.1h0m-3.7-8.1h0m0.3 14.7h0m9.5-5.6h0m2.5-0.2h0m-9.3-3.1h0m-1.2-8.8h0m-2.7 15h0m-3.6-0.3h0m6.2-6.2h0m6.4-2.2h0m9.5 5.9h0m-9.9-8.9h0m-8.5 4.2h0m14.6 1.1h0m-7 2.9h0m-5.9 2h0m-3.7-6.1h0m2.5 6h0m13.9-0.9h0m-6.9 2.2h0m-8.2-2.2h0m-0.6-8.3h0m0.9 3.6h0m-0.2-2h0m10.2 1h0m-7.7-11.3h0m6.2 11.6h0m-7.4-9.2h0m6.5 6.6h0m-4.9-9.4h0m-1.3 16.7h0m7.4 2.5h0m7.3-0.9h0m-7 1.5h0m7.5-2.8h0m-8.1-11.1h0m4.2 8.6h0m-7.7 3.6h0m14.8-1.9h0m-11.9 2h0m2.1-7.4h0m3 1.7h0m-7.4-2.9h0m9.6 5.8h0m-10.1-9.2h0m-6.7 14h0m16.3-4.8h0m-12.2-7.7h0m4.7-4.9h0m-1.2 6.4h0m1.7 11.7h0m-2.8-11.8h0m1-4.3h0m-6.3 10.9h0m6.8 4h0m-5.4-12.4h0m-4.2 11.1h0m9.4-17.2h0m5.8 16.7h0m-0.6-6.2h0m-8.1-5.8h0m2.3 15.3h0m9.8-1.4h0m-9.8-17.1h0m6.8 10.8h0m-4.1-7.3h0m9.2 9.9h0m-14.1 3.6h0m4.3-6.9h0m-9.3 8.9h0m13.6-7.7h0m-12.6-0.9h0m8.6-11.6h0m5.6 13.3h0m-7.6-9.3h0m4 8.8h0m0.6 3.1h0m-8.6-0.7h0m6.9-0.2h0m-1.9 2.5h0m11.5-2.4h0m-11.7-7.2h0m1.5-7.9h0m-4.5-1.5h0m2.1 8.5h0m-2.7 10.3h0m16-2.9h0m-13.5-3.8h0m-0.8-6.6h0m-4.6 2.9h0m5.8 6.6h0m-0.8 5.5h0m12.9-1.7h0m-12.2 2.4h0m-1-13.2h0m11.6 6.5h0m0.2 3.8h0m-13.1 3.7h0m10.6-6h0m-9.5 2.1h0m10.4 0.3h0m-15 2h0m2-20.7h0m1.3 2.5h0m14.4 12.8h0m-14.5-8h0m0.4 9.9h0m-5.3 3.4h0m3.9-3.6h0m-2.5 1.7h0m0.6-4.9h0m7-1.2h0m-6.5 2.8h0m-1.9-4.4h0m0.7 0.1h0m6.2-7.8h0m1.2 9.9h0m5.4 4.3h0m-12.1-1.8h0m4.6-1.6h0m-2.6 7.1h0m16-2h0m-21.3 2h0m8.3-3.6h0m5.3-5.7h0m-3.2-8.9h0m-2.8 18.1h0m-6.1 0.9h0m0.4 0.1h0m2.7-5.3h0m14.8 0.5h0m-12.5-7.1h0m-1-1.3h0m-1.5 7h0m16.9-0.3h0m-17.4-2.3h0m9.9 2.1h0m-8.7 1.2h0m7.4 1h0m-3.6-6.6h0m7.9 2.4h0m-13-7.6h0m2.2 5.5h0m1.4 10.8h0m-7-11.3h0m1.8-3.2h0m18.1 6.3h0m-16.3-4.1h0m7.3-8.6h0m-9.6 18.5h0m11.5-9.2h0m-3.6-2.6h0m-5.8 0.5h0m13.6 10.8h0m-9.9-6.4h0m-5.3 0.1h0m-2 7.9h0m4.9-11.9h0m6.4-1.2h0m-11.7 12h0m6.7-14.6h0m7.5 11h0m-4.9-13.8h0m-7.6 14.4h0m6.8-5.1h0m0.3-7.2h0m0.8-2.1h0m-2.9 3.7h0m3.3-3.2h0m11.5 16.7h0m-13.9 2.2h0m-4.6 1.2h0m4.8-10.1h0m0.3-11.9h0m7.5 16.2h0m-10.4-4.4h0m-1.3 0.8h0m-2.9 3.4h0m9.1 2.3h0m6-2.7h0m-9.7-16.4h0m12.4 19.1h0m-16.1 2.6h0m-1.2-10.1h0m7.2-0.2h0m-2.9 1.7h0m-5.9 7.7h0m4.2-0.4h0m5-19.3h0m-7.6 17h0m10.5-14.5h0m-10.7 9.4h0m10.2-4.8h0m-9.1 3.3h0m12.5 6.5h0m-4-0.4h0m1.9-10.7h0m0.3 9.5h0m-5.7-11.4h0m1.7 10.3h0m0.8-4.3h0m-5.1-8.9h0m5 15.3h0m-0.9-7.6h0m-7.4 12.6h0m6.6-19.9h0m-5.9 10.2h0m7.6-2.6h0m-2.4-3.6h0m0.7 5.5h0m10.7 3.3h0m2-0.2h0m-17.6-11.7h0m-0.4 18.3h0m2.6-2.6h0m-2.5-5.5h0m9.6-7.3h0m-0.5-2.5h0m1.8 11.6h0" stroke="#ACA300" stroke-width="1.15" stroke-linecap="round" fill="none"/><path d="M84.2 137.4h0m-1-1h0m5.1-1.1h0m-4.6 1.4h0m0.3-0.4h0m-0.7 1.2h0m5.8-1.7h0m-6.8 2h0m-1.1-0.4h0m-0.3-0.6h0m7.7-1.2h0m2.5-0.8h0m-9.2 1.4h0m2.2 1.4h0m6.2-2.1h0m-8.7 2h0m0.9-1.3h0m5.2-0.2h0m0.5-0.3h0m-3.9 1.5h0m-3.6-1.1h0m3.5 1.7h0m-0.6-1.1h0m-1.9-0.1h0m9.1-0.9h0m-1.6-0.1h0m-4.3 0.3h0m-1.1-0.5h0m3.7 0.7h0m-3.2 1h0m-2.4-0.8h0m6.8 0h0m-3.2 1h0m4.4-1.5h0m-0.1-1.7h0m-6.7 3.5h0" stroke="#ACA300" stroke-width="1.15" stroke-linecap="round" fill="none"/><path d="M91.1 142.1h0m-1.1-0.4h0m4.1 4.3h0m0.2 0h0m-0.1 2.1h0m0.1-1.4h0m-7.4-8.2h0m-0.6-0.6h0m8.1 7.8h0m-0.8-0.4h0m-3.2-2.3h0m-2.6-3.3h0m2.7 2.3h0m-0.1 1.2h0m5.3 4h0m-2.8-2.2h0m0-0.4h0m-0.5 2h0m-2.8-5.6h0m6.5 6.2h0m-4.1-2.4h0m1 2.3h0m-4-8.2h0m-2-0.6h0m2.7 2.9h0m0.8 3h0m2 3h0m-3.6-8.3h0m0.9-0.6h0m1.9 8h0m-2-6.1h0m0.4 2.5h0m-1.6-5.3h0m4.9 9.6h0m2.3 0.7h0m-0.6 0.2h0m-0.1 1.8h0m-5.6-8.8h0" stroke="#ACA300" stroke-width="1.15" stroke-linecap="round" fill="none"/><path d="M101.5 145.3L101.4 146.7L99.4 149.4L96.5 149.6L97 152L100 156.3L104.8 158.1L109.7 157.5L113.3 155.7L114.3 153.7L112.2 152L107.1 150.2L104.5 148.8L101.8 146.2Z" fill="#93AA00"/><path d="M100.9 147.7h0m1.2-1.2h0m7.6 5.4h0m-8.9-2.1h0m8.7 2.4h0m-9.6 4.7h0m8.6-4.3h0m1.2 3.3h0m-8.2-2.1h0m8.4-2.4h0m-4.8-1.3h0m-4.1 1.3h0m-0.8 1.1h0m8.5-0.3h0m-5.2-5.4h0m-4.8 3.4h0m12 3.9h0m-10-1.2h0m13.1 2.2h0m-11.3-6.5h0m7.7 2.6h0m-6.2-0.5h0m-3.9-1.6h0m1.3 0.3h0m11 2.2h0m-1.7 3h0m-11.8 0.4h0m3.8 0.9h0m-6.8-6h0m7.3 6.7h0m9-4.7h0m-1.8-0.3h0m-12.2-0.4h0m0.2 0.4h0m12.1-0.6h0m1 5h0m-4.4-2.5h0m-5.3 1.4h0m9.8 3.5h0m-11.9-7h0m7.5 5.8h0m-3.6-10.1h0m2.9 6.4h0m-5.6 0.1h0m5.1-1.8h0m2.8 0h0m-8.9-0.1h0m5.2 1.6h0m-2.3 4.1h0m4.2-0.3h0m-4.4-5.8h0m-3 2.9h0m6.4-0.6h0m-7.7-0.9h0m3.9-3.1h0m0.1 3.3h0m-0.3-1.3h0m1.7 1.8h0m-0.9-6.3h0m8.4 6.3h0m-11.5-1.5h0m3.4-3.2h0m3.9 5.2h0m-7.2-3h0m-2.2 2.3h0m1.8 0.3h0m1.9-2.8h0m0.3 5.6h0m1.3-0.7h0m-1-5.8h0m-0.6-2h0m1.8 1.6h0m-5.9 1.3h0m-0.2 2.8h0m5.8 1.8h0m-2.9-1.7h0m3.8 3.2h0m-4-5.5h0m7.3 2.2h0m0.1-1.7h0m-6.2-0.7h0m3.4-1.4h0m7.2 7.5h0m-9.2-1.6h0m-4-2.9h0m4-1.2h0m2.4 1.8h0m6.2-1.4h0m-4.7 0.9h0m4.7-1.8h0m1.6 3.7h0m-14.8-3.8h0m8.8 7.4h0m0.7-5.3h0m-9.4-1.1h0m6.5 2.2h0m-0.3-2.6h0m-0.1-2.6h0m8.7 7h0m-15.8-3.3h0m5.7 3h0m6.4 0.5h0m-5.4-2.2h0m-0.1-1.4h0m3.6 3.7h0m-6.1-4.3h0m-3.4-3.2h0m4.6 3.6h0m1.2-3.1h0m-1.6 4.1h0m7-2.4h0m-7.2-6.2h0m11.5 11.8h0m-7.6-4.5h0m-4.9-1.2h0m3.2 5.1h0m7.9-3.1h0m-8.9-2.5h0m-5.5 0.8h0m16 2.2h0m-10.5-2.6h0m4-0.2h0m-6.9 3.6h0m5 3.8h0m-7.1-9.7h0m3.1-2.1h0m11.1 9.4h0m-0.3-1.8h0m1.2-0.7h0m-13.4-0.4h0m5.1 2.1h0m4.7 1.6h0m-2.7-3.6h0m7.8 0.5h0m-10.7 4.1h0m-0.4-0.7h0m7.6-5.8h0m-8.8 4.8h0m5.9-1.7h0m5.2-0.7h0m-16-4.1h0m4.9 1.7h0m5.1 2.6h0m-7.7 0.6h0m10.1-2.9h0m-4.1 3.4h0m4.5-3.1h0m-5.4 4.3h0m6.7-0.1h0m-1.3 0.3h0m3.7-0.5h0m-5.1 1.6h0m5.3-1h0m-9.7-3.5h0m-3.9-3.1h0m0.5-4.9h0m0.2 8.4h0m4.4 4.4h0m2.5-3.3h0m-2.9 2.9h0m-5.5-8.5h0m3.2-0.2h0m7.6 7.8h0m-6.3 1.4h0m-5.6-6.3h0m13 5.3h0m-0.4-3.9h0m-7.8-4.8h0m6.1 5.2h0m3.5 2h0m-3-2.9h0m-0.4 3h0m-5.9-4.8h0m-5.3 2.4h0m10.2 0h0m-7.6-2.2h0m9.7 0.4h0m-14.8-0.1h0m6.3 2.7h0m9.2-1.5h0m-11 1.7h0m3.4 1.2h0m5.3-4.3h0m-8.7-1.4h0m13.8 4.1h0m-16.7-0.5h0m4.4-9h0m3 13.6h0m4.5-5.7h0m-6.8-3.1h0m-0.6 4.9h0m-0.9 1h0m8.6-0.7h0m-2.8 1.6h0m-3.8-9.1h0m-0.7 4.5h0m-5.2-1h0m1.6 1.8h0m15 3.1h0m-4.1-1.5h0m-6.4 1.6h0m3.3 2.6h0m-9-5.9h0m8.5 0.3h0m0.3 6.2h0m-7.3-4.6h0m3.5-9.1h0m3.3 9.7h0m2.8-4h0m-0.4 6h0m-5.2-1.6h0m8.3-1.2h0m-13.3-4.2h0m14.4 7.1h0m-11-6.6h0m2.1 3.5h0m1-3.2h0m0.7 5.3h0m0.7-0.9h0m2.9 1.5h0m-6.6-5.1h0m-2.1 3.1h0m11 1.7h0m-8.8 0.9h0m-3.5-5.9h0m6.4 0.5h0m-2-2.7h0m-5.1 4.4h0m13.2 2.5h0m-11.8-2.7h0m-1.2 0h0m5.9 0.3h0m-8.4-3.9h0m8.3 8.6h0m0.2-2.9h0m-5.1-1h0m2.8-8.8h0m-0.3 4.6h0m6.9 5.8h0m3.3-1.4h0m2.1-0.7h0m-7.9-3.1h0m-0.2 6.5h0m3.6-5.1h0m-9.6 4h0m1-7.4h0m0.3 0.5h0m12.5 7.6h0m-8.7-3.9h0m-4.6 2.5h0m3.5-0.1h0m5.2 1.1h0m-6.9-9.9h0m0.3 10h0m-0.4-7.3h0m0.3 6.8h0m-2.6 0.3h0m-2.7-4.5h0m4.6 5.9h0m3-0.5h0m8.2-0.9h0m-11.9-4.7h0m9.9 4.7h0m-2.4 1.7h0m2.8-5.8h0m-3.4-0.7h0m3.3 4.2h0m-5.6 0.8h0m-1.3-5h0m-4.1 0.8h0m1.6-0.8h0m-4.9 0.4h0m8.2 4h0m-0.1 1.4h0m-7.3-4.9h0m7.4 0.7h0" stroke="#93AA00" stroke-width="1.15" stroke-linecap="round" fill="none"/><path d="M104.3 154.9h0m2.3-3.7h0m-3.2 6.5h0m-6.1-4.8h0m13.6 1.5h0m-7.8-3.8h0m10.6 4.7h0m-11.7-0.2h0m1.7 1.3h0m-0.6-2.4h0m5-1.7h0m0.3 0.2h0" stroke="#fff" stroke-width="0.85" stroke-linecap="round" fill="none"/><path d="M94.6 147.5h0m0.7 1.5h0m-1.4-4.1h0m-2.1 1.8h0m0.3-0.6h0m3.8 1.7h0" stroke="#93AA00" stroke-width="1.15" stroke-linecap="round" fill="none"/><path d="M83.6 147.7h0m1.6-1.1h0m-12.1-6.2h0m4.6 5.4h0m-4.2-2.9h0m3.8 3.8h0m-3.5-5.9h0m1.3 2h0m0.1 1.5h0m9.6 2.3h0m2.1-0.5h0m-10.3-0.7h0m-4.2-4.9h0m10.4 6.3h0m2.7 0.8h0m-3.3-0.1h0m-5.9-3.1h0m-2.2-2.7h0m0.1 0.6h0m7 3.4h0m5 0.8h0m-12.1-3.1h0m4.1 1.8h0m-5.6-3.9h0m8 4.5h0m-3.3-1.6h0m8.4 1.5h0m-4.6 0.4h0m-4.9-1.8h0m-4.1-5.7h0m2.5 2.1h0m9.8 5.8h0m-13.9-9.7h0m16.2 10.3h0m-13.1-2.8h0m-1.9-6.4h0m6 6.7h0m-3.5-3.6h0m-2.1-3.4h0m0.4 3.5h0m-1.5-3.9h0m11.4 10.6h0m-1.7-2.4h0m1.8 2.5h0m-10.3-7.8h0m7.6 6.3h0m6.4 0.5h0m-5.2-0.7h0m5.5-0.4h0m-0.6 0.2h0m-2.6 2h0m2.5-0.3h0m-13.7-6.7h0m1-1.3h0m11.8 8.2h0m-4.6-1.8h0m-4.3-0.2h0m3.1-0.2h0m-3.9-1.5h0" stroke="#00B9E3" stroke-width="1.15" stroke-linecap="round" fill="none"/><path d="M76.7 142.7h0m-0.2 0.8h0m3.1-0.4h0m-2.4-0.4h0m-0.1-0.1h0m-1.7-0.1h0m1-0.5h0m3.9 1.6h0m-4.4-1.3h0m2 0.5h0m4.5 1.5h0m-5.1-2.4h0m-0.4-0.4h0" stroke="#00B9E3" stroke-width="1.15" stroke-linecap="round" fill="none"/><path d="M72 161.5h0m2.5-2.1h0m-3.1-2.8h0m1.8 0.8h0m-7.6 0.1h0m3.4 1.1h0m2.6-0.8h0m1.5 3.1h0m-3-3.5h0m-5.3-1.2h0m5.3 1.1h0m1.8 3.2h0m-0.8-1.5h0m-0.3 1.3h0m-1.7-0.5h0m-4.6-2.8h0m10.1 1.8h0m-6.5-2.2h0m5.9 3.8h0m-5.2-2.5h0m0.7 1.6h0m4.2 0.7h0m-4.6-1.1h0m-0.8-1.5h0m3.8-0.6h0m-0.7-0.3h0m-1.2-0.4h0m3.7 1.8h0m-10-1.1h0m7.2-0.8h0m-3.6 1.6h0m-0.2-1.4h0m4.2 2.9h0" stroke="#00B9E3" stroke-width="1.15" stroke-linecap="round" fill="none"/><path d="M74.6 165.8h0m0.1-1.3h0" stroke="#00B9E3" stroke-width="1.15" stroke-linecap="round" fill="none"/><path d="M77.6 157.5h0m1.3 2.4h0m-0.6-1.1h0" stroke="#00BD63" stroke-width="1.15" stroke-linecap="round" fill="none"/><path d="M78.4 125.8h0m-1-0.4h0m-1.4-0.7h0m0.4 0.6h0m-0.1-1.3h0m1.3 1.5h0m1.1-1.3h0m-1.7 0.6h0" stroke="#00BD63" stroke-width="1.15" stroke-linecap="round" fill="none"/><path d="M97.5 112.2L97.1 114L101.4 120.2L103.3 125.3L105.6 128.7L108.3 127.6L111.2 124.7L110.7 122.7L107 120.8L104.4 116.9L100.7 113.2Z" fill="#00C19F"/><path d="M102.5 123.3h0m1.1-2.3h0m3 3.5h0m3.1-0.9h0m-7.4-1h0m0.8-2.6h0m1.8 4.2h0m-0.7 0.1h0m1.9 0.1h0m-4.2-5.6h0m-2.5-1.9h0m9 9.3h0m-0.2 0.6h0m-5.7-5h0m4.2 2.9h0m4.5 0.1h0m-3.1-1.7h0m-2.4 5.3h0m-4-7.5h0m-1.2-6.1h0m-3.2-1.8h0m5.8 11.9h0m5.2-0.5h0m-2.3 0.8h0m-7.2-11h0m0.4 1.6h0m2 5.2h0m1-1.2h0m-1.6-6.8h0m1 2.2h0m0.8 0.3h0m7.1 6.7h0m-5.9-5.9h0m4.6 5.6h0m-1.1-0.1h0m-4.8-7.5h0m4.2 12.6h0m-9-14.7h0m11.3 14.1h0m-12.6-12.3h0m8.5 13.2h0m-7-15.2h0m0.8 1.1h0m8.3 7.3h0m-6.4 1.2h0m6.6-1.3h0m3.1 3h0m-1.7 3.5h0m-6.5-5.8h0m7.4 4.8h0m-0.7-1h0m-5.4-9.9h0m4.2 10.6h0m-2.8 0.7h0m-1.4-7.3h0m-1.3-1.2h0m-3.6-3.1h0m5.8 12.1h0m4.7-3.4h0m0 3.1h0m-6.8-9.2h0m3.6 8.7h0m-0.3-5.6h0m-0.4 3.2h0m1.5 4.4h0m0.4-1.2h0m-2.8-7.2h0m4.7 1.7h0m-7.1-1.4h0m3.4 1.5h0m0.3 7.2h0m5.4-4.8h0m-8.4-9.3h0m2.8 8.3h0m-0.2-1.7h0m-6.9-7.7h0m-0.8-1.3h0m8.5 12.1h0m-1.5-5.1h0m3.6 4.9h0m-6.2-9.3h0m6 7h0m-8.1-5.1h0m0.6 1.9h0m3.8 1.3h0m-3.9-4.4h0m2.1 2.8h0m1.1-2.2h0m1.4 2.7h0m-3.2-0.9h0m-0.6-1.7h0m2.2 0.2h0m-0.8 2.9h0m5.8 6.1h0m1.5-2.8h0m0.4 1.7h0m-7.4-2.3h0m-3.4-6.9h0m8.1 13.2h0m0.4-4.1h0m-5.3-4.1h0m5 7.7h0m-4.7-6.7h0m3.9 4.7h0m-7.7-10.4h0m6.4 4.8h0m3.7 1.1h0m-6.9 0h0m2.9 2h0m5.7-0.2h0m-4.9 1.2h0m-3.1-1.4h0m5.2 2.7h0m-0.7-0.7h0m-2.4-6.6h0m6.5 6.4h0m-6.3 3.8h0m1.3 1h0m2.7-1.7h0m-5.8-0.9h0m-2.3-5.7h0m3.7-0.4h0m-0.1 2h0m0.1-0.7h0m-1.3-1.3h0m0.3-0.1h0m1.3 4.8h0m-7.8-12.3h0m13.7 10.1h0m-9.3-3.8h0m3.1-1.1h0m1.9 8.4h0m-2-10h0m-1.3 4.9h0m4.7 1.9h0m-4 0.3h0m1-4.1h0m-1.5 0.3h0m7.4 5.8h0m-6.3-1.7h0" stroke="#00C19F" stroke-width="1.15" stroke-linecap="round" fill="none"/><path d="M97.5 114.7h0m2.6 0.1h0m1.6 4.7h0m0.5-3.8h0m3.1 9.3h0m-7.5-10.1h0" stroke="#fff" stroke-width="0.85" stroke-linecap="round" fill="none"/><path d="M105.2 127.6h0m-0.9-0.7h0m-2.5 1.8h0m-3.5 1.9h0m2.9-0.6h0m0-2h0m-1.3 1.3h0m-2.7 1.2h0m1.1 1.4h0m3.5-1.4h0m-3.9-0.7h0m8.4-2.4h0m-8.8 5.1h0m9.1-3.4h0m-4.1 0.1h0m0.1 0.2h0m-1.4-0.2h0m4.3 1.5h0m-7.4-0.6h0m4.7-0.5h0m2.2 1.3h0m-3.1-3.2h0m-3.8 2.2h0m8.9-2.6h0m-6 4h0m-0.3-0.5h0m-2.9-1.1h0m2.1 2.2h0m0.1-0.5h0m6.3-1.8h0m-6 2.3h0m-2.1-2.9h0m9.1 0.4h0m-4.2 2.2h0m1.3-3.3h0m-1.3-1.3h0m2-0.2h0m-3.8 1.3h0m-1.3 0.9h0m0.5-0.9h0m-0.9 1.7h0m1.1-0.7h0m3.6 1.9h0m0.6-1.9h0m-6.3 1.6h0m8.3-2h0m-2.4 1h0m0.7-2.8h0m0.2 3.4h0m-1.3-3.5h0m-0.6 3.3h0m2.5-1.1h0m-4.3-2.3h0m-0.1 2.6h0" stroke="#00C19F" stroke-width="1.15" stroke-linecap="round" fill="none"/><path d="M96.9 114.8h0m0.7-1.5h0m-1-0.9h0m0.9 0.4h0m-1.4 2.7h0m0.1-2.5h0m1-0.6h0m0.2-0.4h0m-0.7 2.4h0" stroke="#00B2F4" stroke-width="1.15" stroke-linecap="round" fill="none"/><path d="M94.2 126.5h0m-0.5 2.9h0m0.5 1.5h0m-1.5 2.5h0m1.7-4.5h0m-0.2-0.2h0m0.9-2.6h0" stroke="#00B2F4" stroke-width="1.15" stroke-linecap="round" fill="none"/><path d="M93.8 119h0m-0.5-2.7h0" stroke="#00B2F4" stroke-width="1.15" stroke-linecap="round" fill="none"/><path d="M121.2 121.4L125.5 122.8L130.4 125.2L133.7 128.5L135.3 137.4L136.5 138.9L140.9 133.3L144 130.9L144.7 128.9L142.4 125.2L140.1 122.1L130.9 120.1L124.6 120.6Z" fill="#41B500"/><path d="M139.8 126h0m-8.7 0h0m6.5 5.1h0m-13.9-9.7h0m18.2 9.3h0m-8.9-9.9h0m-4.6 2.5h0m10.8 8.3h0m-0.1-4.9h0m1.2 2.2h0m2.5-1.8h0m-4.6-0.2h0m-13-4.4h0m13 10.5h0m-3.7 2.4h0m-2.2-10.5h0m5.1 7.3h0m-1.9-3.5h0m3.7 2.7h0m0.5-8.5h0m-15.9-2.2h0m5.9 3.3h0m5.7 5.1h0m-2.2-1.7h0m-3.8-4.1h0m10.7 4.5h0m-1.5-1.8h0m-4.6-5.9h0m2.4 14.6h0m-0.2-11.6h0m0.3 13.5h0m3.5-10.1h0m1-1.2h0m-7.6 6.3h0m4.2 6.7h0m0.9-14.4h0m-4.7 2h0m3.2-0.1h0m2.9 2.9h0m-0.2-3.9h0m-3.9 7.7h0m-13.1-9.9h0m15.5-1.3h0m-6.1-0.6h0m7.4 8.5h0m0.1-6.8h0m2.3 5.8h0m-4.2 1.3h0m0.8-3.7h0m-10.2-5h0m7.9 1.5h0m-2.6-0.4h0m9.1 7.8h0m-14.4-9.9h0m11.9 2.4h0m-3 8.9h0m-1.7 1.2h0m0.9-9.4h0m-0.1 5.9h0m-1.5-1.7h0m1.7-1h0m1.6-1.5h0m5 2.4h0m-2.6 5.4h0m-3.5-4.7h0m-7.1-0.9h0m-0.6-3.1h0m7.8 4.5h0m7.2 2.2h0m-9-3.7h0m-1.3-3.3h0m0.4 1.3h0m1 1.7h0m-10-5.8h0m5.5 5h0m3.1-1.7h0m-5.4-4.1h0m1 4.6h0m9.3 2.8h0m0.2 5h0m-8.9-12.3h0m5.4 13.3h0m-1.1 3.7h0m2.5-8.9h0m5.7-1.8h0m-7.3 7.8h0m1.7-5.3h0m-11.7-8.5h0m4.3 1.3h0m1-1.4h0m6.7 12.6h0m-1.3-1.1h0m-2.5-10.7h0m5.4 5h0m-9.1-3.3h0m0.9 3.1h0m6.7 4.1h0m-0.7 7.2h0m-3.6-6.3h0m6.8-9.1h0m-7.1 4.7h0m3.5-0.4h0m-1.4-1.5h0m6.7 6.6h0m-0.1-5.3h0m2.8 3.3h0m-5.9-1.7h0m1.3 7.7h0m0.3-12.6h0m-9.1-0.2h0m4.5 4h0m3.1 7h0m-7.9-11.8h0m5 12h0m5.9-0.9h0m1.7-3.7h0m-2.2 3.3h0m-2.6-4.2h0m1.9 1.4h0m-6.4-8.4h0m-8-1.5h0m5.6 5.2h0m-3.3-4.8h0m12.1 15.5h0m-0.3-13.1h0m-1.6 11.7h0m-11-10.3h0m13.4 10.6h0m-2.5-3.3h0m1.6 1.8h0m-10.7-10.7h0m10.3 2.9h0m-17.3-3.8h0m11.9 4.4h0m2.2-3.6h0m-14.6 0h0m14 6.9h0m-13-7.5h0m12.3 10.5h0m3.7-1.2h0m-2.4-2h0m1-2h0m-11.3-6.7h0m11.9 13.4h0m0.1-7.2h0m-2.5 3.4h0m6.7 0.9h0m-2.6-6.6h0m-0.7 6.8h0m-3-4.8h0m3.9 2.8h0m-13.5-8.6h0m7.8 9.3h0m6.6 1h0m0.1-2.5h0m-6.4-1.3h0m2.3 1.4h0m2.5 1.7h0m-3.1-6.4h0m-1.9 7.7h0m7.3 0.9h0m-0.4-7.1h0m0.4 3.2h0m-10.8-1.2h0m9.9 0.7h0m-8.5-1.5h0m1.7-0.4h0m3.9 1h0m-14.2-4.1h0m0.4-0.4h0m12.6 7.6h0m-7.7-10h0m13.9 8.2h0m-13.3-7.4h0m-1.3-1.5h0m5.1 7.2h0m9.4 1.4h0m-4-5.3h0m-5.1 11.2h0m2.6-9.8h0m8 5.7h0m-5.4-8h0m-0.8 8.9h0m-5.1-6.5h0m-6.1-2.6h0m8.2 11.7h0m4.2-11.4h0m-10.1 3.6h0m-4.9-3.2h0m3.6 0.1h0m15.8 8.3h0m-9.9-0.6h0m-9.5-7.2h0m8.3 4.4h0m0.2 1.6h0m11.2 1.6h0m-20-7.8h0m15.2 2.5h0m-3.4 10.1h0m0.5-2.7h0m2.4-0.2h0m-6.7-6.1h0m9.4 0h0m-18.1-2.7h0m11.5 1h0m-4.3-3.3h0m11.3 4.3h0m-3.2-2.1h0m-3.1-1.5h0m-0.8 1.1h0m5.8 1.5h0m-2.1 10.3h0m6.5-6.5h0m-11.8-0.8h0m2.6-1.8h0m-10.7-4.7h0m11.5 4.7h0m4.4-3.2h0m-3.7 8.3h0m5-1h0m-11.1-8.3h0m9.6 12.7h0m-3.2-3.9h0m3.2-2.8h0m-3.7 9h0m1.2 0.8h0m1-12.4h0m3.1 3.4h0m-2.2-5h0m-5.3 7.7h0m7.6-7.2h0m-1.9 7h0m-5.7-7.7h0m-0.4 6.7h0m3.8-7.4h0m-4.9 2.4h0m1.7 5.2h0m1.7-0.1h0m-3.6-2.5h0m1.3 0.5h0m5.8 7.7h0m3.2-4.5h0m-13.1-8.8h0m7.6 3.9h0m1.2 1.4h0m-5.3-6.6h0m5.9 10.1h0m-3.2-2.2h0m1.4-3.1h0m-4.9-3.6h0m6.8 8.4h0m-13.6-8.1h0m16.6 3.3h0m-1 3.8h0m-1.2-3.3h0m-3.8-5h0m-3 2.8h0m0.9 4.8h0m-11.2-6h0m14.7 9.2h0m-1-6.3h0m-3.1 4.3h0m-8.7-7.5h0m11.1 10.3h0m-2.6-8.4h0m0.6-0.7h0m4.8 6.8h0m-4.9-3.2h0m4-3.4h0m1.3 6.4h0m-3.2-3.3h0m-9.5-4h0m9.2 14.5h0m2.3-13.3h0m-10.4-2.6h0m10.6 12h0m3.5-5.4h0m-18.9-6.1h0m20.4 6.4h0m-11.7-3.2h0m5.2 11.2h0m-10.5-15.2h0m10.7 4.6h0m-2.8 1.6h0m2.3 8.4h0m-1.2-1h0m0.3-0.3h0m4.7-7.4h0m-0.6-4.7h0m-4 2.8h0m3.2 2.8h0m3.6-2.3h0m-2.7 8.2h0m-14-13.7h0m6.5 3.5h0m10 6.4h0m-21.9-7.9h0m17.1 4.1h0m-13.5-5.8h0m18.8 9.8h0m-2.7-4.7h0m-5 8.2h0m1.8-9.9h0m-9.7-3h0m9.7 4.1h0m-3.8-4.9h0m2.1 13.7h0" stroke="#41B500" stroke-width="1.15" stroke-linecap="round" fill="none"/><path d="M123.8 122h0m20.7 5.9h0m-17.8-5.9h0m5.9 5.9h0m11.3 1.2h0m-18.1-6.2h0m2.4-0.2h0m6.7 10.8h0m-0.4-8.7h0m5.8 1.3h0m-17-5h0m17.4 11.3h0m-10.4-6.8h0m-1.8-4.3h0m13.7 3.5h0m-11.1-1.6h0" stroke="#fff" stroke-width="0.85" stroke-linecap="round" fill="none"/><path d="M138.4 117.4h0m-6.7 1.4h0m9.6-2.2h0" stroke="#E28900" stroke-width="1.15" stroke-linecap="round" fill="none"/><path d="M175.6 127.6L175.6 130.4L176.6 133.3L179.7 136.4L183.3 137.8L195 130.8L199.7 129.2L200 128.7L192.8 129.3L189.4 126.1L186.5 124.9Z" fill="#00BA38"/><path d="M177.4 128.9h0m19.7 1.7h0m-9 0.1h0m-4.6 1.7h0m4.9-3.9h0m1.9 3.9h0m1-2.9h0m-4.9 3.1h0m0.7-7.2h0m-1 7.6h0m-0.6 0h0m6.3-0.9h0m-7.4-5.8h0m11.6 3.3h0m-14.8-1.9h0m1.3 7h0m3.4-1.7h0m-8.1-4.7h0m12.2-2.9h0m-11.1 8.3h0m7.5-6h0m-4.1 3.9h0m9.6-3.3h0m-14.2 8.9h0m8.9-9.3h0m6.6 1.9h0m-15.1-3h0m10.9 7.4h0m9.8-6h0m-17.6-2.1h0m-2.4 6.3h0m6.6-6.9h0m7.1 6.3h0m-6.5 2.8h0m-2-8.4h0m9.3 5.9h0m-10.5-6.4h0m3.1 11.7h0m10.6-7.5h0m-14.4 8.3h0m-4.2-7.4h0m7.2-6.3h0m8.8 4h0m-12.5 4h0m-3.9-1.4h0m3.7 4.1h0m-3.2-5.6h0m-2.5-1.4h0m5.3 6.5h0m-5.2-5.8h0m5 7.8h0m9-7.2h0m-5.7 3.8h0m3.2-8.1h0m-6.2 6h0m-1.8 1.9h0m7.9-6h0m0.8-0.2h0m-4.8 10.2h0m12.7-6.5h0m-16.2 0.4h0m5.7-0.7h0m9.7 0h0m-14.8 4.3h0m10.9-6.5h0m-7.5-3.5h0m-0.8 2.8h0m1.2 4.7h0m-4 3.6h0m8.2-8.1h0m-8.8 1.5h0m8.9 2.2h0m-13.6-1.8h0m1.8-0.4h0m0.7 3.7h0m0.5-3.1h0m9.5 5.9h0m4.1-4.9h0m-13.7 5h0m4.3-9.1h0m-2.8 8.6h0m4.1-7.4h0m13 1.8h0m-19.4 4.8h0m2.9-2.5h0m2.7 3.4h0m-1.3-7.6h0m16 2.6h0m0.4-1.2h0m-10.8-0.4h0m3.4 1.4h0m1 2.8h0m-0.5-3h0m5-1.1h0m-12.3 4.4h0m-2.8 0h0m6.9-1.4h0m-6.3-3.8h0m7.4 0.2h0m-9.8 4.4h0m9 2.5h0m-1.6-7.4h0m9.3 3.5h0m-14-2.5h0m6.7 0.5h0m0.5 5.6h0m-10.7-3.1h0m2-0.3h0m5.2 1.3h0m2.1 0.5h0m12.5-3.5h0m-12.7-3.8h0m7.7 4.4h0m-17.9-1.3h0m9 7.5h0m-5-6.1h0m2.3 1.8h0m1.4 5.8h0m0.5-10h0m-8.9 2.3h0m10 0h0m-8.9-0.5h0m15 2.6h0m-4.4 0.8h0m-9.2-7.4h0m13.2 7.5h0m-14.9-4.3h0m9.7-2.7h0m0.4-1.5h0m-6.8 7.5h0m1.7 0.2h0m4 0.9h0m-3.8-5.6h0m6.4 3.7h0m-11.9-1.7h0m9.7 5.4h0m-7.8-5.4h0m4.4 2.2h0m-4-2.7h0m4.1-1.5h0m9.5 3.2h0m-13.7-1.4h0m8.8 2h0m6.1-2.4h0m-6.6 3.4h0m-8.5-4h0m6.9 4.9h0m-1.6-4.3h0m7.5 0.2h0m-15.3-2.1h0m23 1.3h0m-16.6 1.1h0m0.6 6.1h0m3.6-1.6h0m1.7-2.2h0m-3.6-2.7h0m-1.7 2.3h0m-6.3-2.6h0m4.1 5.4h0m5.4-6h0m-9.1 6.3h0m6.5-4.3h0m-5.1 6.3h0m5.9-7.2h0m-2.3-4h0m2.7 0.5h0m-9.7 0.8h0m16.4 4h0m-8.2-2.2h0m-5.4 2h0m9.8-4.9h0m0.2 5.1h0m9.5-1.6h0m-7.7 4.1h0m1.9-5.1h0m-14.5 1.9h0m7.2-1.2h0m9 0.9h0m-8.4-1h0m4.7 0.4h0m-14.8 2.2h0m21.6-1.4h0m-16-0.8h0m7.3 5.3h0m-8.7 2.2h0m12.4-4.4h0m-8.8-6.5h0m4.2-1.1h0m-8.8 5.9h0m5.8-1h0m1.3 1.1h0m-4.2 4.9h0m13.3-6.6h0m-3.4 0.3h0m-12 6.9h0m-1-8.1h0m16.9 2.3h0m-7 0.1h0m0.2-2.8h0m4.9 1.8h0m-11.1 1.9h0m4 2.8h0m11.7-5h0m-1.2 1.3h0m-11.5 2.5h0m-1.3-5.6h0m-4 5.5h0m0.7-4.9h0m2.1 2.8h0m-0.3-3.1h0m1.4 0.3h0m2 2.5h0m-1.5 2.9h0m4.7-0.8h0m-8.2-0.3h0m2.6 4.4h0m1.6-8.4h0m-3.2 2.8h0m-1.8 0.7h0m0.1 1.7h0m6.6 0.2h0m-4.8 0.6h0m4.9-7.7h0m9.6 2.4h0m-6.5 5.4h0m-2.3 0.8h0m-5-4.4h0m14-0.8h0m-11.1-2.5h0m14.6 0.5h0m-16.7 8.6h0m-1.3-3h0m-1.1-7.5h0m10.2 4.8h0m-5.4-5.4h0m-5.5 5.5h0m4.7-3h0m-7.6 0.6h0m5 6.2h0m-2.8-7.8h0m-1.1-1h0m10.7 9h0m1.9-4.5h0m-10.8 4.1h0m13.1-5.1h0m-13.5-1h0m-0.2 0.5h0m6.5-2.3h0m11.6 1.5h0m-11.6 1.8h0m-0.2-4.2h0m3.8 3.7h0m-9.6 1h0m10-4h0m-0.2 8h0m-10.7-4.8h0m-2.1-1h0m8.2 9h0m4.9-11.1h0m-10 1.6h0m2.7 2.7h0m0.9 5h0m-1.9-8.6h0m0.6-2.2h0m1.8 7.1h0m1.5 3.8h0m-5.7-2.5h0m0-0.3h0m3-5.6h0m0-1.7h0m-5.8 1.8h0m5.2 0.2h0m9.3 4.6h0m0.1-0.5h0m4.1-1h0m-7.5 1.7h0m8.5-3.9h0m-3.6 1.8h0m-0.2 0.4h0m-6.8-1.2h0m-0.4 4.6h0" stroke="#00BA38" stroke-width="1.15" stroke-linecap="round" fill="none"/><path d="M195.8 130.1h0m-6.5-3.9h0m-2.4 4.4h0m3.7-1.8h0m-12.8 6.1h0m3.6-2h0m7-1.4h0m-6.5-4.2h0m-4.5-0.5h0m12-0.4h0m-5.8 11.1h0m0-5.6h0m-2.9 3.6h0m-3.8-6.4h0m-0.8 1.2h0" stroke="#fff" stroke-width="0.85" stroke-linecap="round" fill="none"/><path d="M184.5 129.6h0m0 0.2h0m2.4 2.1h0m0.4-0.6h0m-1.4-2.2h0m-0.1 0.6h0m0.6 1.5h0m0.8 0.2h0m-2.4-0.1h0m1.6 0.4h0m-0.1-1h0m0.9-1.3h0m-2.4 1h0m-1.3-1.3h0m3.7 0.9h0m-2.6-1.1h0m0.9 0.6h0m1.5 0.6h0m-2.8 1.4h0m0.3-2.6h0m-0.6 2h0m3-1h0m-1.1 0.4h0m0.1 0.9h0m-1.7-1.2h0m-0.1 1.7h0m1.9-0.6h0m1.2-2h0" stroke="#fff" stroke-width="1.15" stroke-linecap="round" fill="none"/><path d="M184.2 122.1h0m0-1.2h0m-0.8 0h0m0.1 1.6h0" stroke="#00C0B9" stroke-width="1.15" stroke-linecap="round" fill="none"/><path d="M144.4 158.5L143.8 162.1L145.5 165L149.4 166.5L158.7 169.7L163.2 168.2L166.1 165.2L165.4 161.8L162.6 160.4L157.7 161.1L157.3 161L156.7 157.7L153.7 154.8L150.9 154.5L147.1 156.3Z" fill="#73B000"/><path d="M149.3 154.6h0m13.7 13.1h0m-1.7-3.7h0m-6.7-6.1h0m4.9 6.4h0m-4.8-3.3h0m-0.4-0.5h0m0.6 5.7h0m-11.2-3.5h0m13.1 5.7h0m-12.7-5.2h0m7.4 1.2h0m1.2-5.3h0m-9.6 0.4h0m15.7 5.4h0m-2.5-5h0m-5.3 4.6h0m-6.2-2.5h0m13.4 5.6h0m-5.5-3h0m-0.5 1.3h0m-3.3-3.8h0m12 6.7h0m-5.2-2.2h0m-7.9-3h0m10.8 6.2h0m-6.4-9.3h0m8 3.8h0m1.8 0.1h0m-6.5 3.9h0m-0.7 0.7h0m-5-4.6h0m-1.3-7.6h0m11.2 10.9h0m-2.4-8.6h0m4.9 7.7h0m-5.1-1.6h0m-0.7-0.7h0m7 3.1h0m-17-2.1h0m12.3-3.2h0m6.9 3.4h0m-8.9-3h0m2.8 4h0m-2.3-0.6h0m-1.6-2.9h0m-3.4 0.2h0m0.9-3.5h0m1.6-1.5h0m10.2 8h0m-13.2-6.9h0m-5.2 4.5h0m7.9 3h0m-4.9-1h0m0.9-6.7h0m0.2-0.4h0m12.1 3.2h0m-7.7 3.7h0m-6.5-10h0m6.6 9.7h0m-1.2-6.4h0m-3.3 3.6h0m-3.5-5.7h0m7.5 4.7h0m8.7 4.2h0m2.9-3.5h0m-19.7 2.6h0m1.2-8.9h0m10.3 8.7h0m-6.7-10.5h0m-2.1 10.6h0m15.2 0.1h0m-7.1-7.1h0m0.3 11.5h0m1.6-8.3h0m-7.6-3h0m5.5 7.3h0m-10.5 0h0m13.3 1h0m-6-10.1h0m-5.4 1.9h0m6.8 9.3h0m-0.9 0.8h0m-3.4-0.7h0m-0.3-3.5h0m3.6-6.6h0m-3.4 2.9h0m8.1 2.7h0m6.5-1.2h0m-0.6 4.2h0m-11.9-7.6h0m-1.5 0.5h0m-4.1 8.1h0m10.5-3.5h0m-7.9-1.9h0m-0.8-2.7h0m1 3.8h0m-2.8-2.1h0m4.1 1.7h0m8.3 2.5h0m2.3-0.7h0m0.4-2.2h0m-14-4.5h0m-2.2 7.2h0m10.6-4.8h0m-4-6.6h0m-1.2 13.2h0m3.6 1h0m-2.4-12.6h0m-8.3 6h0m12.6-2.5h0m-6.4 4.6h0m7.3 7.4h0m0-8.3h0m5.9 3.8h0m0-1.1h0m-17-3.6h0m1.9-4.7h0m-4.6 4.6h0m9.9 0.7h0m7.8 5.2h0m-13.2-13.7h0m-0.4 4.9h0m3-2h0m3.6 11.8h0m1.5-11.4h0m0.6 5.8h0m1.9 7.3h0m-10.4-13.8h0m1.2 10.3h0m-4.1-1.4h0m18.2 0.9h0m-8.5-2.3h0m-0.5 1.8h0m0.4 2.7h0m-12.3-6.7h0m10.3 2.7h0m2.5-3.5h0m4 5.1h0m-8.9-3.6h0m-0.6 2h0m-5.4-1.4h0m9.6-1.9h0m5.3 7.4h0m-6.3-5.2h0m-5.6-5.2h0m4.6 9.1h0m2.4 0.8h0m9.5-0.1h0m-12.6-9.4h0m-3.2-2.3h0m15.6 12.3h0m-9.1-4.5h0m4.2 5.5h0m-3.1-11.2h0m6.7 7h0m-3.4-3h0m3.8-2.1h0m-6.9 1.3h0m0.8-2.5h0m-4.1-2h0m3.5 2.3h0m-11.3 1.3h0m2.2-3.6h0m7.6 11.6h0m0.3-11.2h0m9.4 6.2h0m-15.5-3.5h0m14 1.2h0m-7.2-3.4h0m-2.7 3.8h0m10.4 1.8h0m-10-1h0m-8.4 3.2h0m0.5-8.4h0m17.3 5h0m-9.1-7.6h0m-0.9 13.2h0m4.4-7h0m-12.6-0.6h0m9.3 6.3h0m-1.4-10.2h0m7 6.5h0m-8.1 1.3h0m1.5-9.1h0m-2.9 3.8h0m0.8-0.9h0m-5.2 0.7h0m0.2-1.3h0m1.3 1.2h0m14.9 8.8h0m-11.2-2.3h0m-1.9-7h0m-1.6 2h0m17.1 3.3h0m-5.5 1h0m2-3.9h0m-7.3 6.8h0m4.9-3.2h0m-9-2.2h0m-2.6-0.6h0m5.3 4.9h0m6.7-4.3h0m-9.7-0.6h0m4.4 0.8h0m-5.3-3h0m3.9-3.9h0m-5.6 4h0m12.3 3.5h0m2.2-2.2h0m-1.9 1.4h0m-6.8-2.4h0m-6 1.8h0m3.5-0.5h0m11.6 7.5h0m-10.7-2.5h0m14.3-3.5h0m-13.4 6h0m6.4-5.1h0m-2.3 1h0m-7.2-1.1h0m16.2-0.4h0m-9.7-3.4h0m1.9-0.4h0m-9.7 2.5h0m7.6 4.2h0m5.7-2.1h0m-4.5 3.3h0m-3.3-7.8h0m-7 1.9h0m6.8 1.3h0m-5.1 0.9h0m1.9 0.1h0m4.1-7.2h0m-2.7 12h0m9.5-6.4h0m-13.7 3.7h0m5-6.7h0m10.7 5.2h0m-6.8-2.5h0m-9.3 2.4h0m16.9 5.3h0m1.7-6.5h0m-3.9 1.3h0m-4.3-0.2h0m-9.7-6h0m4.2 10.7h0m2-5h0m3.6 4.3h0m-9.8-5h0m9.6-3.2h0m-12.5 6.1h0m8.6-2.1h0m-3.3-0.8h0m13.1 2.2h0m-16.2 0.3h0m18.3-1.6h0m-7.8 3.4h0m4.5 2.1h0m-6.6-3.1h0m-5-1.1h0m0 0.7h0m6.9 3.8h0m-5-6.4h0m-4-5h0m-3.1 3.3h0m15.1 5.1h0m-15-9.3h0m8.9-2.4h0m10.3 10.3h0m-5.3 1.3h0m-9.2-11.1h0m8.1 11.6h0m6.6-4.9h0m-4.5 8h0m-11.6-8h0m0.9-5.5h0m1.9 4.9h0m7.7 4.6h0m5.9-3.3h0m-18.2-4.6h0m-1.3-0.1h0m4.4 2.2h0m11 2.8h0m-14.2-2.5h0m12.5 3.2h0m2.7 2.7h0m0.8-1.5h0m-7.4-3.9h0m-2 6.1h0m6-2.4h0m-10.1-6h0m2.4 0.4h0m1.8 1.6h0m12.1 3.6h0m-3.2 5.1h0m-16.7-6.5h0m-0.3-2h0m4.9 7h0m0-3.3h0m13.7 2.1h0m-9.7 0.7h0m4.6-2.9h0m2 2.8h0m-0.3-0.1h0m-15.4-4.2h0m3.2-3.5h0m6 8.6h0m-0.4-0.4h0m0.3 1.2h0m-7.2-11.7h0m7.2 6.3h0m-8.8-2.5h0m16.5 7.3h0m-13.6-2.5h0m2.9-4.6h0m-2.7 2.2h0m6.7-5.8h0m0.6-1.3h0m-3.4 12.2h0m4.6-3.3h0m1.7-1h0m2.7 3.3h0m-13.9-5.6h0m17.3 5.5h0m1.3-2.6h0m-16.9-7h0m14.7 4.4h0m-11.4 3.9h0m-6.2-7.3h0m5.7-3.2h0m7.3 15.3h0m-0.7-2.1h0m-4-0.9h0m-0.9-2.1h0m1.8 1.4h0m-5.1-9.2h0m1.7 6h0m3.4-3.5h0m-1 6h0" stroke="#73B000" stroke-width="1.15" stroke-linecap="round" fill="none"/><path d="M155.2 166.3h0m-7.8-0.9h0m17.6 0.1h0m-1 1.3h0m-11-8.7h0m-8.3 0.4h0m1.7 6.2h0m7.9 3.7h0m-0.2-1.3h0m1.7-3.2h0m-3.5-6.4h0m2.2 5.7h0m9.3 3.7h0m-16.7-2.4h0m10.8 0.9h0m6-0.8h0m-15.6-5.4h0m5.9 9.5h0" stroke="#fff" stroke-width="0.85" stroke-linecap="round" fill="none"/><path d="M152.1 158.3h0m-0.8 0h0m0.9-0.4h0m1.9 0.5h0m-1.3-0.1h0m-1 0.6h0m-0.2-2.3h0m2 1.4h0m0.9-1.1h0m-1.5-0.9h0m0.7 2.2h0m-0.6-0.7h0m-1.8-1.5h0m-0.1 0.6h0m3.3-0.5h0m-1.1 1.5h0m-0.1-0.1h0m0.1-0.9h0m-0.3 1h0" stroke="#fff" stroke-width="1.15" stroke-linecap="round" fill="none"/><path d="M152.9 162.5h0m1.9-0.9h0m1.7-1.7h0m-0.6 0.6h0m0.5-0.4h0m-3.7 1.9h0m-0.5 0.2h0m3.2-1.9h0m1.3 1.3h0m-2.4 0.2h0m-1-1h0m2.2 0.1h0m1.6 1.1h0m-1.9-0.2h0m1.2-0.1h0m-2.6-0.6h0m3.4 2.1h0m-1.5-1.7h0m-1.2 0.3h0m1.4-1h0m-1.8 0.8h0m1.1-0.5h0m-1.1-1.2h0m-0.8 3h0m0.5-1.2h0m1.4-0.9h0" stroke="#fff" stroke-width="1.15" stroke-linecap="round" fill="none"/><path d="M138.9 165.1h0m0-2.4h0m1 1.1h0" stroke="#00B2F4" stroke-width="1.15" stroke-linecap="round" fill="none"/><path d="M206.3 172.6L208.1 175L210.5 173.9L211.3 170.5L208.7 169.3Z" fill="#FA62DA"/><path d="M209.4 173.8h0m-0.1-1.7h0m0.7-1.9h0m0.4 0.7h0m0.6-0.4h0m-0.5 3h0m-2.7-3.5h0m-0.5 0.9h0m2.2 0.4h0m-0.1 1.9h0m-1.4-1.5h0m1.7 1.5h0m1.1-2.3h0m-0.5 2.4h0m-2.2-3.2h0m1.8 2.2h0m1.8 0.5h0m-3.3 0.4h0m0.4 1.3h0m-2-1.4h0m3.7-2.3h0m-1.2-0.7h0m0.7 3.6h0m1.4-3.1h0m-2.1-0.1h0m0.9-0.5h0m1.1 1.6h0m-2.2 2.4h0m0.3-3.2h0m-1.5 2h0m0.9 0h0m-0.2-1.8h0m2.6 1.2h0" stroke="#FA62DA" stroke-width="1.15" stroke-linecap="round" fill="none"/><path d="M208 170.8h0m-1 0.7h0" stroke="#fff" stroke-width="0.85" stroke-linecap="round" fill="none"/><path d="M202.8 167h0" stroke="#00B2F4" stroke-width="1.15" stroke-linecap="round" fill="none"/><path d="M179.8 201.5L181.1 204.1L182.6 203.8L181.3 201.8Z" fill="#00C0B9"/><path d="M181 203.6h0m-0.5-1.2h0m0.7 0.5h0m-1-0.2h0m0.9 0.4h0m0.5-1.2h0m0 1.5h0m0.4-0.7h0" stroke="#00C0B9" stroke-width="1.15" stroke-linecap="round" fill="none"/><path d="M181.2 203.3h0" stroke="#fff" stroke-width="0.85" stroke-linecap="round" fill="none"/><path d="M161.6 210h0m1.2 0.6h0m-1.3 0h0m-0.8-0.8h0m1.3 1.3h0" stroke="#FF66AA" stroke-width="1.15" stroke-linecap="round" fill="none"/><path d="M231.9 119.2L232.6 121L234.5 122.2L237.9 121.6L239.1 118.7L236.9 116.9L234.6 116.6Z" fill="#998EFF"/><path d="M237.7 117.3h0m-4.6 3.2h0m4.9-1.7h0m-1.6-1.2h0m-1.4 4.5h0m-0.6-3h0m2.6 0.2h0m-1.7-2.3h0m-0.4 5.4h0m0.9-6.1h0m1.5 3.5h0m-0.2-2.2h0m-2.9 3.4h0m-0.6-0.1h0m4.2-2.5h0m-4.9 2.6h0m0.5-2.2h0m-1.2 3.2h0m5 0.1h0m-2.8-1h0m-0.2-2.8h0m2.9 3.6h0m-1-4.1h0m-2.1 2.5h0m-0.1-0.2h0m4 0.5h0m-5.2-1.3h0m3.8-3h0m0.4 4.9h0m0.6 0.3h0m-5-2.2h0m2.6-1.6h0m-2.3 2.3h0m4.5-2.8h0m-3.6 5h0m1.3-1.5h0m-1.5 0.3h0m2.7-0.4h0m0.5-1.8h0m-2.2 0.5h0m4 0h0m-1.4-0.2h0m1.4 2h0m-1.3-0.1h0m-1.1-3h0m-0.8 1h0m-0.8 2.7h0m0.8-4h0m2.3 0.8h0m-2.9 1h0m1.5 1.3h0m-1.3-2.7h0m1.7-0.6h0m-3.6 2h0m-1.7-0.6h0m2.6 1.9h0m0.3-2.7h0m4.3 0.3h0m-1 3.2h0m1.3-0.2h0m-3.4-6.3h0m1.3 3.6h0m0.2 3.6h0m-4.9-3.2h0m7 0.2h0m-6.3-1.4h0" stroke="#998EFF" stroke-width="1.15" stroke-linecap="round" fill="none"/><path d="M233 119.1h0m2.3 1.4h0m-2.9-0.2h0" stroke="#fff" stroke-width="0.85" stroke-linecap="round" fill="none"/><path d="M73.3 168.2L72.7 174L74.5 180.3L78.3 187.8L82.8 195.5L84.1 204.2L86.3 205.1L86.3 197.1L81.9 189.5L75.5 174.3L73.7 168.2Z" fill="#00BD63"/><path d="M80.8 186.7h0m-6-6.9h0m0.1-6.2h0m10.3 24.4h0m-11.3-26.6h0m0.3-0.5h0m0.5 6.7h0m6.9 14.3h0m-1.2-1.3h0m-3.9-5.7h0m0-0.2h0m-0.1-4.2h0m7.5 17h0m-9.5-13.8h0m5.5 1.2h0m5.5 10h0m-12.8-24.2h0m8 20.5h0m2.2 1.1h0m-2.6-6.6h0m-1.4-2.1h0m6 16.9h0m-10.7-29.8h0m5 14h0m-5.3-15.2h0m9.5 26.7h0m-5.5-16.1h0m4.5 14.2h0m4.3 5.3h0m-2.4-4.3h0m-11.6-23.6h0m4.2 12.1h0m4.5 5.2h0m5 9.9h0m-8.8-17.9h0m-4.9-11.1h0m1.8 3.5h0m-0.6-0.7h0m12 23.5h0m-0.8 1.3h0m-9.2-24.4h0m-2.7 2.1h0m5.8 6.6h0m-2.3 0.3h0m0.8 2h0m6.8 15h0m-0.5-1h0m0.1 3.2h0m-6.6-16.8h0m5.3 7h0m3.5 7.5h0m-3.3-9.5h0m-4.6-1.2h0m3.2 3.2h0m-7.6-21.6h0m9.6 22.3h0m-0.6-1.4h0m1 0.4h0m3.2 12.6h0m-3.6-12.1h0m-5.8-14.5h0m-1.5 6.9h0m9.2 19.9h0m-7.3-17.6h0m-0.1-3.1h0m-0.5-0.6h0m-0.9-1.3h0m4.3 10.2h0m3.5 5.7h0m1.7 2.2h0m-11-20.2h0m-0.4-1.4h0m2.4 8h0m0.9 0.7h0m0.7 2.7h0m-6-14.9h0m2.5 3.1h0m9.6 21.5h0m-0.1-0.9h0m-1.1-5.7h0m-9.5-14.4h0m3.9 6.5h0m5.8 19.2h0m-6-20.3h0m6.3 8.6h0m-5.9-4.9h0m0.1-8.1h0m5.8 14.4h0m-2.6-5.4h0m-0.9-3.2h0m-5.3-16.7h0m-1.8 6.5h0m10.1 25.1h0m4.2-0.9h0m-13.8-30.3h0m2.7 14.4h0m10.3 13.6h0m-9.7-14.4h0m5.8 15.6h0m0.2-7.4h0m-1.7-2.7h0m4.9 17.8h0m-1.6-7.9h0m-5.7-10.6h0m1 1.6h0m3.8 3.2h0m-2.5-0.3h0m3.2 2.5h0m-10.1-23.5h0m5.2 14.9h0m-2.7-7.2h0m4.6 10.5h0m3.3 10.5h0m-6.6-11.3h0m-4.1-17h0m8.1 23h0m-0.8-2.3h0m-6.5-10.5h0m10.5 18h0m-6.3-12.2h0m-2.7-11.8h0m8.1 29.2h0m-4-18.2h0m5.5 11h0m-8.2-18.2h0m-0.2 3.7h0m0.5 2.2h0m4.6 17.8h0m-2.1-18.3h0m-7.1-13.1h0m13.1 28.5h0m-5.8-9.2h0m3.7 12h0m-4.2-15.1h0m-5.3-11.3h0m-1.1 0h0m7 14.1h0m3.6 10.9h0m-4.3-9.2h0m-3.8-9.9h0m4.2 6h0m3.8 17.2h0m-2.7-9.1h0m-4.7-16.7h0m4.4 12.8h0m-3-10.2h0m-4.6-5.1h0m2.4 0.7h0m4.4 11.6h0m-1.4-6.8h0m-6.9-10.5h0m0.4 2.3h0m3.6 2.1h0m-2.3-7.3h0m10.1 25.6h0m-3.9-6.2h0m-4-5.3h0m7 18.4h0m-3.4-10.4h0m2.5 6.2h0m3.7-0.6h0m-6.6-6.4h0m-0.1-6.2h0m4.6 11h0m-8.7-22.1h0m8.4 30.6h0m-2.7-17.2h0m-6.9-13.1h0m11 29.1h0m1.4-3.4h0m0.2-0.5h0m-0.7-0.6h0m-7.7-10.3h0m-3.7-12.4h0m7.4 16.4h0m-8.1-13.6h0m6.3 10.1h0m1.5 6.1h0m-6.4-15.8h0m10.3 19.6h0m-7.2-9.4h0m7.7 9.9h0m-0.4 6.4h0m-11.2-31.4h0m9 27.2h0m-0.2-6.4h0m-9.8-26.7h0m13.3 29.5h0m-9.5-16.2h0m-2.7-4.7h0m-1.6-7.4h0m11.9 29.1h0m-2.4 1h0m-2.6-12.4h0m6.4 15h0m-2.1 1.7h0" stroke="#00BD63" stroke-width="1.15" stroke-linecap="round" fill="none"/><path d="M85.1 200.3h0m1.1 3.3h0m-8.2-20.9h0m8.6 17.9h0m-11.4-21.8h0m6.3 11.9h0m-3.5-8h0m2.1 5.9h0m3.2 9.8h0m-9.3-22.1h0m10.9 25.2h0m-10.2-31.1h0" stroke="#fff" stroke-width="0.85" stroke-linecap="round" fill="none"/><path d="M92.4 178.7h0m-3 1h0m-7.2-3.1h0m1.4 2.2h0m-1.4-2.4h0m-5.8-1.8h0m19.7 6.2h0m-12.3-1.6h0m-5.7-4.4h0m-1.9 0.7h0m19 3.1h0m-11.3 0.5h0m-3.4-3h0m14.4 3.6h0m-11.2-0.4h0m3.5-0.4h0m8.3 0.1h0m-20.5-4.2h0m7.6 2.8h0m-0.4-0.5h0m6.8 1.3h0m3.8 1.2h0m-13.6-3.2h0m10.2 4.1h0m3.1-0.5h0m-10.6-2.8h0m9.9 3.5h0m-0.2 0.1h0m3.9-1.6h0m-7.1-1h0m-11.5-3.4h0m13.2 5.4h0m-8.2-3.2h0m-0.7-0.3h0m-2.2-1h0m-3.3-2.2h0m9.1 5.2h0m11.6 1.5h0m-1.8 0.1h0m-9-0.6h0m2.5-0.2h0m-9.7-3.3h0m3.7 1.6h0m3.5 2.2h0m0.6-0.6h0m10.4 0h0m-14-1.5h0m9.4 3.3h0m-6.5-2.4h0m-7-3.5h0m14.5 4.1h0m-6.4 0.1h0m-1-1.9h0m4.9 1.7h0m-2.4 0.1h0m-8.1-3.2h0m15.4 2.5h0m-1.3 0.8h0m-6.5 0.1h0m-1.1-2.4h0m-6.1-1.7h0m1.9 1.6h0m6.3 1.3h0m3.1 2.1h0m-1.6-0.4h0m0.9-0.1h0m-12-4.3h0m6.8 3.4h0m4.9 0.5h0m-1.9-0.8h0m-8.7-1.3h0m8.6 1.1h0m-3.5 0.7h0m-3.4-1.7h0" stroke="#00BD63" stroke-width="1.15" stroke-linecap="round" fill="none"/><path d="M83.3 182.4h0m0.6 2.3h0m-0.6 3.4h0m1.2-7.5h0m-2.1-0.9h0m4.1 8.5h0m-2.2 0.3h0m-0.9 0.5h0m-4.5-10.2h0m5.4 7.6h0m2.6-0.4h0m-6.9-3.7h0m0.5-1.5h0m4.2 5.2h0m2.2 6.5h0m-0.7 3.7h0m-2.3-15.1h0m-1.7 6h0m1.4-6.2h0m-0.6 1.2h0m0.5 7.1h0m-1-9.3h0m4.3 3.8h0m0.2 6.6h0m-5-4.6h0m1.3-3h0m3.5-0.9h0m0.7 6.7h0m-6.7-8.3h0" stroke="#00BD63" stroke-width="1.15" stroke-linecap="round" fill="none"/><path d="M90.7 195.6h0m-1 3.1h0m-1.9-0.4h0m-0.3-0.4h0m1-2.6h0m-1.2 2.9h0m1.6 0.2h0m1.2-6.6h0m1.5 0.2h0" stroke="#00BD63" stroke-width="1.15" stroke-linecap="round" fill="none"/><path d="M97 180.4L98.7 182.3L97.5 186.9L93.6 192.1L91.7 198.5L87.1 205L82.7 206.3L81 210.9L83.9 215L90.7 217.1L96.9 216.8L102.3 214.4L104 211L101.6 205.9L102.2 198.2L105.4 193L106 189L102.3 187L101.6 180.9Z" fill="#F8766D"/><path d="M101.3 187.2h0m-0.3 22.4h0m-0.5-3.8h0m-6-2.7h0m5.8 0h0m-10.2-1.8h0m8.3-11.4h0m0.3 25.2h0m1.3-23.7h0m1.9 7.6h0m-8.2-5.5h0m8.8 12.1h0m-14.3-1.2h0m-2 2.3h0m8.6-14.3h0m-11.9 15.6h0m17.6 1.8h0m-0.4-14.1h0m-16.9 13.4h0m17-19.3h0m-11 23.9h0m-1.9-4.6h0m7.6 4.5h0m6.6-7.9h0m4.9-15.7h0m-14.6 24h0m2.8-16.3h0m-1.1-5h0m-9 16.9h0m21.5-17.2h0m-13.4 22.2h0m-5.3-4h0m-5.9 1.8h0m14.6-21.9h0m2.8-0.4h0m-0.4 5.4h0m-6.9 7.9h0m0.7-1.2h0m0.2 6.2h0m1.3 3.3h0m8.7 2.5h0m-6.8-18.8h0m-0.3-5.8h0m2.5 23.1h0m6.6-23h0m-3.6 24.5h0m-5.5 0.2h0m2.4-21.3h0m-1.1 15.1h0m4.5 1.9h0m-1.2 4h0m-14.8-2.4h0m3.1 0.8h0m-5.9-4.5h0m8.8 6.2h0m11-2.8h0m2.6-22.5h0m-8.9 1h0m-2.4 23.2h0m-0.6-4.1h0m11.3-15h0m-7.2 19.6h0m-4.4-3.1h0m5.1-12.8h0m-1.6 5h0m0.6-6.4h0m1.3-6.4h0m-5.7 14.3h0m7.9-14.5h0m-1.5-6.1h0m-3.4 21.1h0m-8.4 4.4h0m8.2 3.4h0m6.6-21.9h0m-3.7 14.9h0m-10.3 7.2h0m15.5-24.9h0m-14.6 17h0m-0.1 3.1h0m7.4 2.5h0m4.1-19.5h0m-8.6 23.3h0m-7.8-1.8h0m9.5-19.5h0m8.3-1.2h0m-19.7 16.9h0m19.9-22.6h0m-10.4 19.4h0m4.7 6.7h0m5.1-31.1h0m-12.4 32.7h0m7.5-10.8h0m-1.5 13.5h0m2.6-29.6h0m5.3 5.5h0m-7.7 8.8h0m0.4-8.8h0m-11.3 21.3h0m11.3-22.3h0m8.6 7h0m-20.7 14.7h0m11.4-9.8h0m-2.6 7h0m9.5-15.1h0m-0.1 10.2h0m-5.7 5.4h0m-8.7-1.1h0m8.3-15.8h0m-4.5 6.2h0m10.4 2.7h0m-17.4 5.3h0m8.4-3.3h0m2.7 2.5h0m2.3-11.6h0m-1.4 17.5h0m-0.1-18.3h0m3 18.3h0m-6.6-1.8h0m12.5-17.7h0m-11.4 15.1h0m5.5-10.9h0m-6-1.9h0m-8.5 9.2h0m9.8-4.4h0m-6.8 13.6h0m7.1-10.3h0m7.9 8.7h0m-7.5-5.6h0m8.9-11.6h0m-0.9 7.6h0m-15.1 4.3h0m8.4-16.5h0m-12.1 14.8h0m0 0.7h0m7-3.5h0m2.1 11.7h0m3.4-5.7h0m-13.3 2.4h0m5.8-1.4h0m0.5-0.3h0m-0.4 2.1h0m11.2-11.1h0m-15.2 7.5h0m14.9-24.5h0m-5.1 22.5h0m6.5-11.3h0m4.3-1.9h0m-3.2-4h0m-6.9 23.2h0m3.6-8.5h0m-0.8 3.9h0m-14.7 1.5h0m9.6 7.5h0m2.2-12.3h0m1.1-0.9h0m-2.5-2.8h0m7 4.4h0m-0.8 6.5h0m-5.3-11.4h0m-8 15.9h0m14.1-15.8h0m-9.6 4.5h0m6.7-24.7h0m3.9 4.2h0m-10 28.6h0m-7.2 0.1h0m18.5-20.1h0m-10 11.1h0m0.9 11.5h0m5.5-25.1h0m1.8-0.8h0m-5.2 21h0m0.1 3.4h0m-7.3-9.4h0m-3.2 5.3h0m12.4-10.9h0m7.2-9.5h0m-4.4-6.6h0m-7.7 16.2h0m-8.9 8.4h0m18.2-17.7h0m-1.6-7.8h0m-10.2 25.5h0m-5.2-1.5h0m9.6-8h0m4.7 15.8h0m0.8-1h0m-10.9-5.7h0m7.7-3.5h0m0-3.9h0m-5.1 9h0m7.1 3.1h0m0-26h0m-10.3 30.5h0m13.9-25h0m-5.7 20.4h0m4.5-12.9h0m-3.9-9.6h0m-2.3 16.7h0m1.5-4.4h0m-8.9 4.3h0m-5.2 5.9h0m15.4-7h0m-7.2 5h0m4.3-17.1h0m2.6-12.6h0m1.5 27.5h0m-1.7-5.8h0m-5.9-1.3h0m11.3-3.8h0m-7.5-7.4h0m5.3 20.2h0m-5.3-13.4h0m-2.7 2.7h0m7.4-13.6h0m-11.2 20h0m12.1-15.9h0m-5 23.1h0m-9.3-1.1h0m15-22.8h0m-11.9 25.8h0m4.7-8h0m3.3-3.9h0m2.6 5.1h0m-1.1-21.8h0m-5.9 17.7h0m6.2-19.1h0m-6.9 12.7h0m5.8 2.1h0m-14.1 15.1h0m0.4 0.6h0m15.6-28.9h0m-7.6 23.9h0m-3.1-8.7h0m-4.3 13.4h0m1.4-0.9h0m10.3-8h0m-11.7 6h0m14.3-12.3h0m-6.7 14.9h0m8.9-12.1h0m-7.3 0.3h0m6.3-16.2h0m-8.1 27.6h0m6.9-8.5h0m1.8-2.6h0m-3.6 13.8h0m3-27.6h0m-13.8 18.2h0m8.1 5.5h0m10.1-21.1h0m-19.4 15h0m14.1 7.6h0m-11.2 1.5h0m8.8-13.9h0m-9.1 14.6h0m12.5-25.8h0m-9 9.7h0m5.9-2.6h0m-7.3 17.2h0m8.5 1.7h0m-3.3-15h0m1.6-4.3h0m-1.5-7.1h0m6.7 1.1h0m-7.8 22.8h0m1.7 2.2h0m-8.3-10.7h0m14.4 4.1h0m-8.6-11h0m10.1-8.9h0m-4.1-6.9h0m3.3 28h0m-1.7 2h0m0-22.4h0m-0.3 6.3h0m-0.5 16.8h0m0.6-13.2h0m-5.6 11.9h0m2.6-10.5h0m-0.1 5.5h0m-13.4 3.5h0m7.4 6.5h0m11.2-4.4h0m-3.2-12.2h0m-6.3 9.4h0m10.9-20.2h0m-12.9 8.9h0m-1.7 11.5h0m9.5-9.4h0m-3 4.9h0m-9.4-1.6h0m12.8 9.3h0m-2.5-9.4h0m-5.4-2.9h0m4.8 14.8h0m-3.2-21h0m2.5 5.8h0m-7.8 8.5h0m8.4-21.6h0m-12.8 22.8h0m1.3-3.3h0m15.4-26h0m-2-0.3h0m1.4 26.5h0m-9.3-1.6h0m-2.6-1.9h0m-6.3 8.1h0m10.3 1.8h0m10.8-20.6h0m-5.6 5.5h0m-4.1 17.6h0m-5.7-10.8h0m11.6-0.4h0m-1.6 8.1h0m0.5-5.7h0m4.4-16.7h0m-1.2 15.9h0m-15.3 7.9h0m7.7-3.3h0m-2.2-9.5h0m5.1 9.7h0m-13.1-2.6h0m17.7-20.6h0m-12.2 12.2h0m13.7 9.7h0m-7.6-3.4h0m-1.5 9.7h0m3.1-15.2h0m-7.1 2.5h0m0.7 2.2h0m9.1-17.8h0m-10.1 17.6h0m6-10.7h0m2.7-14.2h0m-11.6 27.9h0m4.9-0.3h0m-4.6 4.5h0m1.4-6.8h0m12.7-8.1h0m-15.4 7.2h0m16.1-8.8h0m2.4-3.1h0m-2.8 19.9h0m-20-5.5h0m15.9 0.2h0m-4.2 5.5h0m5.5-9.4h0m3.2 4.1h0m-7.9-15.9h0m-2.1 7.6h0m4.5-7.9h0m1 0.9h0m3.2 19.9h0m-5.6 3.5h0m0.8-3.3h0m-12.7 1.8h0m6.6-4.7h0m-4.1 2.3h0m-0.8-2.2h0m-3.1 1.4h0m9.3-10h0m9 4.8h0m-14.2 2.1h0m-2.9-0.3h0m19-7.8h0m-12.2 11.5h0m6-7.9h0m-3.3 1.2h0m2.2 5.9h0m5.7-20.3h0m0.8 13.7h0m-1.8-2.8h0m1.8-6.8h0m-5.1 13.2h0m-0.8-3.7h0m10.1-15.3h0m-8.6 17.8h0m-15.9 1.7h0m12.6-3.3h0m10.7 5.1h0m1-21.3h0m-4.6 24.3h0m-0.6-28.7h0m-12.3 29.7h0m8.8-34.5h0m0.2 33.7h0m2.6-29.7h0m-10.7 26.1h0m13.7-0.7h0m-6.5-1.6h0m-3.9-4.1h0m-4.8 12.1h0m3.1-13.8h0m11.2-18.3h0m0.3 9.6h0m-7.3 18.6h0m11-20.9h0m-4.8-6.2h0m-16.9 28.2h0m15.8-23.9h0m-3.2 18.2h0m-5.7-6.7h0m3.6 16.7h0m8.6-28.6h0m-4.4 4.3h0m2.3-3.6h0m-19.2 17.9h0m11.7 1.2h0m2.2-10.8h0m-7.8 13.4h0m9.5-13.4h0m3.5 3.5h0m-15.8 14.1h0m18-25.2h0m-9.3 4.6h0m2.8 20.2h0m2.7-29h0m-4.6 9.8h0m-11.6 18.9h0m10.6-19.1h0m0.6 19.4h0m9.9-20.5h0m-3.2 8h0m-4.9 9.8h0m4.2-17.6h0m-4.2-3.2h0m-1.1 24.9h0m-2-16.6h0m3.7 11.3h0m3.4-22.5h0m0.7 25.3h0m-0.7-11.2h0m-4-6.6h0m-1.5-3.5h0m1-2.8h0m5.7 13.7h0m-0.7-14.9h0m-7.5 5.1h0m7.1-2.3h0m-11.5 24.5h0m2.8-14.3h0m10.5-0.6h0m-0.4 2h0m1-9.2h0m-12.8 15.5h0m13.1 0.6h0m-11.8 7.8h0m-0.7-14.7h0m8.6-2h0m-7 11.7h0m-6.2-6.7h0m15.7-20.7h0m-5.9 20.2h0m1.1-2.8h0m2.1 13.6h0m-7.3-1.3h0m2-4h0m-0.2-14.6h0m2.2 18h0m1.9-16.6h0m-2.6 16.1h0m8.1 0.3h0m-3.2-2.2h0m5.4-22.9h0m-24.9 21.6h0m5.9 5.2h0m9.8-13.2h0m-2.9 3.7h0m1.1-13.7h0m7.5 9.8h0m-6.1-7.8h0m-6.9 13.2h0m11.1-10.5h0m-13.1 6.5h0m18.6-12.8h0m-9 12.3h0m-7.1 2.2h0m-8.2 7.2h0m20.4-9.8h0m-5.3-3.7h0m-7.4 17.4h0m7.4-9h0m-12.9 5.7h0m9.5 3.8h0m11.1-3.5h0m-4.5-14.3h0m-5.6 12.8h0m6.6-20h0m-2.1 12.7h0m-5.3 11h0m3.8-20.9h0m6.6 13.3h0m-18.4 5h0m17.8-25.9h0m-9.3 7.9h0m-0.6 13.1h0m-11.8 4.1h0m10.7 3.6h0m-4.1-9.7h0m-1.1 9.5h0m1.3-11h0m9.7 11h0m1.5 0.1h0m2-34.5h0m-6.2 35.4h0m8.9-27.8h0m-13.4 19.9h0m13.7-20.7h0m-9.9 26.5h0m1.5-6.3h0m5.1-16.9h0m-3 22.5h0m4.8-23.5h0m-6.5 22h0m7.3-21.5h0m-5.9 5.2h0m2.6-0.7h0m4.7 15.1h0m-13.3 7.1h0m10.2-31.7h0m-10.8 28.2h0m-2.1-2h0m11.7 0h0m-6.1-13.8h0m6.8 9.8h0m-17.9-1.7h0m4.3 1.7h0m11.4-2.2h0m2.9 2.1h0m-2.7-4.1h0m-4.4-2.8h0m-7.7 7.2h0m-3.4 4.9h0m2.5-5.9h0m8.8-0.1h0m5-9.3h0m-1 15.3h0m-4.8-15.4h0m1.5-2.3h0m-9.3 13.8h0m15.8-27.5h0m-13.4 28.5h0m12.5 2.6h0m-6.4 4.1h0m-10.2-2.7h0m9.5-9.1h0m0.7 9h0m0.4-15.9h0m-11.9 14.8h0m18.9-23.7h0m-1.7-3.1h0m4.2 7.7h0m-9.5 16.4h0m-0.3-14.5h0m1.8 19.6h0m1.2-19.1h0m-3.1 18.2h0m5.7-24.8h0m-1.5 10.5h0m3.1-12.7h0m1.5 3.1h0m-10.3 22.3h0m5.5-4.7h0m-7.9-8.7h0m9.6-5.5h0m-13.8 11.9h0m4.2-2.1h0m9.1 2h0m-1.7-5.3h0m0.6 7.9h0m5-13h0m-19.4 14.5h0m18-0.1h0m-9.3 0.2h0m0.9-7.5h0m6.4-13.7h0m1.3 8.4h0m-4.1 4.9h0m-3.2 1.9h0m11.5-11.8h0m-16 15.5h0m8.4-6.4h0m-6.1 3.6h0m5.9-15.1h0m5.4 2.8h0m-19.5 14.3h0m17.2-15.1h0m-12.5 20.3h0m14.8-2.2h0m-5.3-18.1h0m-11.8 15h0m13.1-0.1h0m-2.8-0.7h0m-14.3 4.6h0m18.1-12.7h0m-14.5 7.7h0m13.8-6.1h0m-6.6 4.5h0m5.7-7h0m-0.2 18.6h0m-10.9-11.4h0m9.4-9.8h0m2.5 7.3h0m-1.4-13.4h0m2.5-4.4h0m-5.2 22.6h0m5.3-19.6h0m-1.4 2.4h0m1.5 10.1h0m-14.5 7.9h0m10.9-5h0m0.6-18.6h0m2.6 1.5h0m2.9 10h0m-5.2 14.8h0m-9.4-5.8h0m4.5 3.1h0m9.2 5.8h0m-4.4-12.5h0m8.4-8.2h0m-7.7 18.6h0m1.7-3.9h0m-14.1 5.1h0m12.1-30.7h0m-2.7 16.9h0m2.8 6.6h0m-5.1 13.4h0m-9.4-4.9h0m11.7-9.6h0m3.5 3.8h0m-6-9h0m-9.7 9.9h0m17-6.5h0m4.3-11.1h0m-15.9 23.5h0m17-24.5h0m-7.8 10.8h0m2-7.2h0m-1.7-2.8h0m1.4-5.9h0m-0.4 1h0m-8.7 21.1h0m6.4 2.7h0m0.5-6h0m-2.9 12.9h0m3.3-18.2h0m-14.4 9.8h0m0.3 0.7h0m5.2 2h0m10.3-30h0m-3 24.6h0m3.8 7.2h0m-7.6-13.7h0m3.6 14.4h0m-7.4-6.5h0m1.7 0.8h0m6.1 1.4h0m-6.1-6.1h0m7 6.5h0m-5.4-9.1h0m8.4-14.3h0m-16 22.2h0m13.9 0.6h0m-4-0.2h0m8.6-15.6h0m0.7 15.9h0m-20.5-0.7h0m4.8 5.8h0m14.6-19.1h0m-2.5-11.7h0m-6.8 30.9h0m8.2-19.1h0m-3.7-2h0m-5.1 7.2h0m12.6-9.9h0m-19.7 15.8h0m16.6-20h0m-3.7 2.9h0m3.9 10.9h0m0.2-5.7h0m-5.4 11.8h0m-4-7.5h0m1.3-5.5h0m-5.8 11.6h0m1.5-4.3h0m11.1-11.2h0m1.3 6.2h0m-15.7 12.9h0m8.6-5.6h0m-10.2 2.1h0m16.6 5.1h0m-1.4-22.9h0" stroke="#F8766D" stroke-width="1.15" stroke-linecap="round" fill="none"/><path d="M100.4 205.9h0m-0.3 3.4h0m-11.1 5.8h0m6.8-11.2h0m-1.7-1.1h0m8.1-18.2h0m-20.5 24.7h0m0.2 0h0m7.8-0.8h0m12-21.8h0m-16.8 19.3h0m15.2-1.6h0m-7.3-0.8h0m3.6 0.8h0m8-13.1h0m-7.8 24.8h0m3.5-22.6h0m4.3 1.2h0m-18.5 18.2h0m9.4 1.4h0m-9.7-9.2h0m13.2-12.2h0m-0.1 12.1h0m-0.5-20.8h0m4 18.9h0m-20 7.4h0m14.4-8.4h0m-3.3-6h0m-1.5 11.5h0m12.1-19.7h0m-15.4 19.4h0m13.1-11.3h0m-4 7.9h0m-3-11.7h0m5.1-1.7h0m-8.4 22.6h0m0-7.8h0m-0.4-3h0m12.6-7.9h0m-9.2 14h0m11.6-16.6h0m-10.7 24.7h0m6.2-31h0m-4.6-5.1h0" stroke="#fff" stroke-width="0.85" stroke-linecap="round" fill="none"/><path d="M104.1 180.2h0" stroke="#F8766D" stroke-width="1.15" stroke-linecap="round" fill="none"/><path d="M113.6 178.9h0m0.5-0.1h0m0 0.3h0m-1-1h0" stroke="#00C19F" stroke-width="1.15" stroke-linecap="round" fill="none"/><path d="M143.7 89.9L148.4 93.5L158.5 98.5L163.6 100.4L167.6 101.6L169.3 98.3L168 93.3L168.7 88.2L167.5 83.8L163.4 82.9L157.1 82.3L147.8 84.2L145.4 85.9Z" fill="#D39200"/><path d="M151 87.1h0m-1.7 0.6h0m-4.7 0.6h0m6.3-5.4h0m10.1 4.1h0m-0.5 1.8h0m-1.6 1.8h0m0.4 3.9h0m4.9-1.1h0m3.8-2.5h0m-1.6 5.5h0m0.7-1.3h0m-19.7-4.4h0m16.7 5.6h0m-1.4-12.8h0m-5.1 9.4h0m-6.9-6.6h0m-6.6 2.7h0m16-0.5h0m1.7-0.2h0m-16.5-2h0m18.9 3.4h0m-2-6.3h0m4.6 18.9h0m-15-9.1h0m11.3 4.2h0m-10.3-14h0m-8.3 1.6h0m13.3 11.8h0m5.4-5.3h0m-7.2-8.6h0m-10.2 5.4h0m19.3 13.2h0m-10.2-11.4h0m-2-3.4h0m-2.7 2.1h0m10.7-3.5h0m-7 8h0m12.1-4.5h0m-1.8-1.1h0m-6.4-4.6h0m9 5.5h0m-0.6-1.4h0m-4.9 1.3h0m5.1 11.8h0m-4.7-10.1h0m-13.3-4.7h0m10.9 7.5h0m4.2-8.5h0m-4 2.4h0m1.9 10.8h0m-9.9-9.1h0m2 5.5h0m13.8-6.1h0m-14.8 3h0m13.6 4.5h0m-9.6-6.6h0m6.6 7.6h0m-6.1-4.7h0m10.9 6.8h0m-2.1 0.4h0m0.9-3.5h0m-15.7-10.7h0m-5 5.5h0m21.7 11.5h0m-20.2-11.8h0m17.7 7.7h0m-6.7 1.7h0m-0.6-16.3h0m3 5.1h0m5.3-0.4h0m-22.2-0.1h0m20.6 12.2h0m-1-3.2h0m-8.4-7.8h0m0.6 4.3h0m-1.4-6.2h0m13.4 5.6h0m-3.2-5.8h0m-14.8-2.3h0m13.9-1.5h0m-3 6h0m-5.3 9.2h0m10.1-12.2h0m-10.2 9.4h0m10.5-2.4h0m-9-6.5h0m11.7 13.2h0m-23.6-12.4h0m10.9 5.6h0m1.8-6.3h0m1.7 3.8h0m8.1 9.1h0m-22-8.5h0m20.5-6h0m0.9 5.2h0m-6.7-1.6h0m-1.9 0.3h0m6.4 12h0m-12.2-7.8h0m-3.8-5.7h0m6.1 4.3h0m12.6 7.9h0m-9.9-4.4h0m-3.8-6.2h0m9.4 5.9h0m4.8 1.1h0m-1.9 0.8h0m-12.2-10.5h0m-4 1.4h0m12.2-4.4h0m-2.8 0.3h0m-2.9 13.2h0m7.9-4.6h0m-18.1-4.8h0m14-3h0m8.7 0.2h0m-16.6 8.4h0m9.6-7.2h0m-9.1 1.6h0m3.1 4.1h0m12.3 2.3h0m-11.6-1.5h0m1.1-9.2h0m9 0.7h0m-19.3 6h0m10.8 6.1h0m5-7.9h0m-2.4 6.6h0m6.6 0.5h0m-1.5-12.2h0m-3.9 5.9h0m1.9-2.4h0m-8.4 4.8h0m-0.8-8.5h0m14.2 15.3h0m-17.9-8.8h0m-5.5 2.9h0m14.2 6.4h0m8.5-10h0m-10.6 9h0m1.9-5h0m-14.2-4.5h0m9.7-2.7h0m-7.8 3.4h0m17.4-2.9h0m-6.4 6.1h0m-9.1-3.3h0m16.8 7.1h0m-4.5-0.4h0m-15.6-5.7h0m18.7 3.4h0m-6-3.7h0m-4.2 2.1h0m-6.7-6.5h0m13.7 10.7h0m1.6-6h0m-9.5-2h0m3.4-4.2h0m6.4 6.4h0m5.4-1.2h0m-14.5 4.2h0m14.6 3.7h0m-10-7.6h0m-7.1 5.7h0m15.4-4.5h0m-1 8.5h0m-4.2-3.2h0m-0.5-5.6h0m-9.8-2.2h0m9 0h0m-1.5-3.9h0m-3.9 1.3h0m-5.6 8.8h0m12.7-10.7h0m-2.9 14.8h0m7.6-2.6h0m-11.4-11h0m-3.6 6.8h0m5.5 4h0m7.4-11.7h0m-1.7 6.6h0m-9.6-5h0m-4.5 0.3h0m13.4 10.7h0m-8.4-3h0m-1.4-4.8h0m0.8-0.7h0m7.7-0.8h0m6.9 5h0m-4.6 6.4h0m1.7-12.1h0m-10.5 2.4h0m10.1 4.9h0m2.4-3.9h0m-12.9 0.4h0m12.8 3.3h0m-3.9 0h0m-18.3-5.3h0m6.5-3.8h0m15.9 5.6h0m-4.9-3.8h0m-1.3 1.4h0m1.4 0.6h0m-2.1 3.3h0m2 5.1h0m1.8-2.3h0m-2.4 4.5h0m3.6-1.5h0m-16.3-1.8h0m9.9-6h0m-9.4-5.8h0m14.8 16h0m-3.7-3.8h0m-1.7-1.3h0m6.4-6.7h0m-11.6-4.6h0m-2.7 1.5h0m6.1 11.7h0m6.3-11.7h0m-13.5-0.4h0m9.5 9.4h0m7.4-1.6h0m0-5.2h0m0 3.9h0m-0.5-5.1h0m-6.6 6.5h0m-2.2 1.3h0m8.3 5.4h0m-19.7-14h0m-1.3 3.9h0m3.2 3.3h0m18.1-7.7h0m-6.9 9.7h0m-11.9-6h0m15.7-2.5h0m-13.2 6.7h0m9.6 6.9h0m-0.7-3.3h0m5.4-4.8h0m-1-5.7h0m3 12.2h0m-7.1-2.7h0m-5.5-2.7h0m-0.5-1.4h0m4.7 6.9h0m1.9 3h0m3.3-4.5h0m-16.9-8.9h0m22.2 13.4h0m-16-16.6h0m16.8 5.5h0m-3.5 1.9h0m-3.4-1.8h0m-4.9 2.5h0m-2.3-4.6h0m3.6 9.4h0m-0.4-13.6h0m-4.5-0.3h0m10.8 8.8h0m0.6-6.1h0m-9.4-2.1h0m-1.1 12.7h0m-0.2 0.5h0m-2.2-4h0m7.9 1h0m3 2.2h0m2.4 0.9h0m-8-0.7h0m1.5-1.9h0m3.6-5.9h0m1-1.2h0m3.2 13.3h0m-12.2-16.3h0m7.4 8.7h0m2.5-8.3h0m-2.2 14.2h0m-4.4-11.1h0m8.7 15.5h0m-10.4-9.7h0m9.6-1.8h0m3.1 2h0m-22.7-4.1h0m22.2-3.8h0m-16.8 7.9h0m14.7-9.7h0m-12.9 8h0m-1.9-1.7h0m16.8-0.6h0m-6-3h0m-7.1 0.2h0m-8.2-1.5h0m4.5 7.8h0m15.1-8.4h0m-12.4 2.5h0m4.2 1.9h0m6.7-6h0m-3.4 3.6h0m-11.1 7.1h0m12.3 1.8h0m5.5-2.6h0m-9.2-2.2h0m4.6 2h0m-8.2 3.7h0m2.2-3.5h0m-6-5h0m8-1.4h0m-14.8 3.9h0m11.9 0.8h0m-1.5-7.8h0m-1.2 8.2h0m9.5 6.8h0m-1.2-15.7h0m-8.2 12.5h0m3.2 2.2h0m9-13.4h0m-9.1 2.8h0m10.8 9.3h0m-16.2-4.5h0m8.8 1.4h0m-13.9-3.5h0m8-4.5h0m6.9 13.2h0m-4.2-15.3h0m3 8.2h0m7.3 6.6h0m-20.3-7.5h0m3.9 0.2h0m10.8 8.5h0m3.8-9.3h0m-18.3-5.6h0m20.3 14.2h0m-10.2-14.3h0m4.3 5.4h0m2.3-2.1h0m-13.8-3.3h0m16.2 7.7h0m-6.9 2.8h0m9.1 7.2h0m-6.6-2.7h0m-7.2-9h0m-2.8-0.6h0m5.3-6.1h0m7.6 1.9h0m-5.8-1.1h0m-2.9 2.7h0m-6.9-0.8h0m8.9 5.2h0m-6-8h0m-6.1 9.3h0m6.2 3h0m1.6-1.9h0m3 0.1h0m9.1 8.3h0m-12.7-6.3h0m4-7.5h0m-14.9 2.2h0m10.8 3.9h0m-1.6 0.6h0m9.2-1.6h0m-2 5.3h0m6.4-1.1h0m-11.7-7.1h0m1.6 0.2h0m4.9 5.6h0m-15.8-9.2h0m13.6 2.7h0m-4.7-3.3h0m1.2 4h0m9.5 0.3h0m-6.7-4.9h0m9.5 11.9h0m-11.7-6.6h0m-3.1 5h0m-3.7-5.1h0m6.3-1.3h0m-2.5 3.8h0m-3.4-6.7h0m14.8 9.8h0m0.2-4.8h0m-18.2-5.3h0m9.9-0.7h0m6.4 2.3h0m5.6-2.7h0m-9.1 3.8h0m8.9 3.2h0m-16.4-8h0m11.5 9.1h0m-3.5-9.9h0m1 10.7h0m-0.3-11h0m-1 13.3h0m9.9 0.7h0m-21.3-8.8h0m12.7 12.5h0m0.3-7.7h0m-0.7-4.7h0m-12.3 2.9h0m7-6.7h0m8.6-1.5h0m-11.3 6h0m1.6 3.4h0m4.3 2.1h0m5.1 0.4h0m5 5.9h0m-3-12.9h0m-12 2.7h0m9.5 5.1h0m0.8-0.6h0m5.1 2.9h0m-4.3-12.3h0m-1.1 12.7h0m0.6-0.7h0m4.1 0h0m-18.4-5h0m1-2.2h0m14.9 1.3h0m-4-8.1h0m-12.3 8.6h0m13.5 0.6h0m-9-4h0m11.5 0.9h0m-0.5 8.6h0m1.8-4.2h0m-16.7-7.1h0m0.4 5.1h0m-1.6 0.1h0m21.2-2.6h0m-4.3 11.1h0m-9-13.7h0m1.6 3.5h0m-0.2-8h0m9.1 0.8h0m-17.4 0.7h0m18.1 7h0m-2.6 6h0m-14.2-11.9h0m17.5-0.3h0m-4.8 10.6h0m-18.9-7.9h0m12.1 3h0m7.9-4.7h0m-11.3-0.8h0m11.2 9.1h0m2.6-3.6h0m1.4 6.4h0m-15.4-2.3h0m6.4-11.2h0m-6.4 5.4h0m15.8-2.2h0m-9.6-3h0m-7.3 5.3h0m17.9 5h0m-14.6-9.9h0m-2 6.3h0m5.3-4.3h0m8.9-2.9h0m0.4 6h0m-12 2.8h0m12 0.8h0m-8.7-1h0m10.3 3.1h0m-1.7-1.6h0m-18.9-4.4h0m12-4h0m5.9 12h0m-16.1-13.9h0m16.4 0.8h0m-11.4 11.1h0m8.2-4.9h0m-8.6 0.7h0m8.8-7.4h0m-13.2 2.8h0m9.5 0.7h0m3.7-2.5h0m-0.8-1.1h0m-2.7-0.1h0m-8.4-0.7h0m16.3 18.9h0m-16.7-16.4h0m17.8-0.3h0m-3.4 3.6h0m-8.7 0.1h0m-1-4.8h0m13 10.9h0m-8.5-1.2h0" stroke="#D39200" stroke-width="1.15" stroke-linecap="round" fill="none"/><path d="M161.8 89h0m-5.3-6.6h0m1 1.8h0m-13 6.2h0m17.9 10h0m-5.5-9.4h0m-4.4 2.6h0m-5.5-0.6h0m12.7-4.4h0m-9.1-4.3h0m14.6 3.3h0m-0.4-0.1h0m-4.1 4.4h0m7.6-1.2h0m-4.9 6.5h0m-16.4-10.3h0m8.8 10.7h0m4.7-3.8h0m2.2 6.5h0m1.3-8.3h0m2.6 8.6h0m-3.2-10.4h0m-4.1-3.9h0m8.7 15.6h0m-8.8-16h0m9.2-0.6h0m-13.1 0.8h0m-1.2 4.2h0m-0.6 1.7h0m-6.8-6h0m18 8.3h0m-0.5-5.8h0m2.9 0.6h0m-9.6 1.1h0m8.8 6.1h0m0.4 2.6h0m-0.4-5.3h0m2.4-2.1h0m-21.2 2h0m11.5-3h0m-2.1 7h0m4.7-6.1h0m-5.1-6.8h0m0.5 6.1h0m8.5 10.4h0m-4.4-1.6h0m-8.1-16.2h0m-4.5 8.6h0m14.7 6.3h0m5.7 0.5h0m-6.9-9.4h0m5.4 11.3h0m0.9-15.2h0m-4.3 15.7h0m0.1-4.5h0m2.9-6h0m-19.7-5h0m15.6 11.4h0m-3.2-12.2h0m3.4-2.5h0m3.3 14.8h0m-18.3-13.2h0m11.4 6.6h0m4.4-4.1h0m-17 3.7h0m21.3 7.1h0m-9.4-12.2h0m-11.7 6.5h0m14.1-8h0m0.7 7.3h0m3.4-5h0m0.2 14.7h0m-6.4-16.7h0" stroke="#fff" stroke-width="0.85" stroke-linecap="round" fill="none"/><path d="M155.7 69.2L156.3 74L158.2 77.3L157.9 82.1L160.7 82.1L163.6 80.2L164.8 75.4L164.8 70.5L163.1 66.9L160.2 65.2L157.4 66.3Z" fill="#EE8045"/><path d="M160.9 77.6h0m3.6-0.9h0m-1.5 1.1h0m-4.8-3.8h0m1.9-8.8h0m-0.2 14.9h0m-0.3-2.2h0m-0.5-0.9h0m2.2-10.3h0m1.1 5h0m1.3-0.5h0m-4-0.3h0m-2.9 5h0m3-0.8h0m-1.7-6.1h0m4.6 6.1h0m-5.2-0.1h0m0.1-1h0m2.7 7.4h0m-1-11.8h0m4.1 6.9h0m-1.3 0.6h0m1.9 3.6h0m-4.5-4.7h0m2.6-0.6h0m-2.6-0.6h0m2.2-2.4h0m-2.8-3.4h0m0.6 7.2h0m0.4 5h0m-0.5-10.3h0m-1.1 5.2h0m-1.1-10.7h0m2.4 1.2h0m-0.3-0.3h0m-0.6 7.7h0m5.3-5.8h0m-1.1-0.3h0m-4.3 4.6h0m5.6-1.8h0m-4 3.9h0m1.4-3.6h0m-4.2-5.6h0m2.9 13.1h0m-3.1-11.3h0m3.7 13.4h0m1.2-9.7h0m-1.8 7.2h0m-1.6-2.8h0m5 1.1h0m-0.3 1.7h0m-5.8-2.5h0m4.8 5.5h0m1-11.7h0m-7.3 4.3h0m1.8 8h0m3.2-3.6h0m-4.9-5.8h0m6 6.5h0m-2.6-1.1h0m2-7.6h0m-1.7 1.3h0m2.5 2.9h0m-3.4 6.5h0m4-0.4h0m0-2.2h0m-1.1 0.3h0m-4.8 3.9h0m1.8-12.1h0m4.9 1.8h0m-1.8 1.6h0m-3.4 6.6h0m-0.3-9.4h0m4.3 2h0m-2.7 0.8h0m2.4-0.6h0m-1.5 8.3h0m-0.3-6.9h0m-1.9-6.2h0m-2.6 1.6h0m5.3 1h0m2.2 4.4h0m-4-4.1h0m4.4-4.7h0m-4.7 9.5h0m1-8.8h0m2.3 7.3h0m-1.4-4h0m-2.1 10.3h0m1-8.4h0m2.4-3.6h0m1.4 9h0m-6.1 2.4h0m4.6-6h0m-3.5 6.3h0m1.3-9.2h0m-0.3-5.8h0m2.4 2.7h0m-1.3 3.3h0m-0.6 6.3h0m-4.5-5.3h0m0.3-0.3h0m8-1h0m-1.4 8.9h0m0.4-9.5h0m-4.4 7.2h0m-0.2-1.6h0m-1.9-9.1h0m2.7 10.8h0m2.7-6.5h0m0.6 3.4h0m1.5 2h0m-1 2.4h0m-2.8-13.7h0m1.6 5.7h0m-2.2-0.7h0m1.4 0.1h0m2.3-4.3h0m-3.8 3.4h0m-1.4-2.3h0m4.3 4.3h0m0 2.9h0m-6.1-7.8h0m7 6.9h0m0 3h0m-2.1-8.4h0m-0.3 4.2h0m-2.4 0.3h0m2.3-6.4h0m-0.9-1.1h0m0.8 16.4h0m-2.8-12h0m2.3-4.1h0m3.8 8.4h0m-3.8 3.8h0m-2.2-0.3h0m0.6 4.1h0m5.4-4.7h0m-8.6-6.2h0m3.7 1.4h0m1.7 2h0m1.3 3.3h0m-5.4-7h0m4.3-3.3h0m0.3 3.7h0m1.3 0.8h0m-1-3h0m-2.3 4.9h0m1.3 6.2h0m-3.8-10.7h0m6 12.3h0m-4.7-13.7h0m5.7-1.3h0m-2.7 8.1h0m-4.7-0.8h0m2-3.7h0m-0.5 2.8h0m4.5-2.1h0m-3.7-2.6h0m4.3 6.3h0m-4.6-7.4h0m1.6 5.3h0m-2.9-5.4h0m-0.2 5.5h0m-1.1-4.7h0m5.5 12.5h0m-0.7-13.3h0m-0.2 7.7h0m3.6-7.7h0m-5.3 7h0m-2 0.8h0m-0.1-6h0m1.6-0.3h0m-2.7 2.8h0m1 0h0m2.8 1.1h0m-2.5 1.6h0m5.8-3.7h0m-2.2 10.7h0m2.7-0.5h0m-0.7-11.9h0m1.5 4.9h0m-6.7 1.8h0m1.5-5.6h0m4.4 5.4h0m-3.1-7.9h0m-3.4 4.7h0" stroke="#EE8045" stroke-width="1.15" stroke-linecap="round" fill="none"/><path d="M160.4 72h0m3.6-1.8h0m-1.9-2.5h0m-4.1 3.4h0m3.7 0.1h0m-3.6 0.9h0m1.5-1.4h0m1.5 1.6h0m-0.9 0.9h0m-1.2-0.4h0m-3.4-3.1h0m8.1 10h0m-0.5-6.1h0m-5-6.3h0m4.5 10.6h0m-5.1 2.2h0m4.4-3.4h0m-1.4-7.4h0m-2.9 0.2h0m5.2 0.2h0m-1.5 0.1h0m1.9 7h0m-5.2-7.9h0m-1.7 4h0m4.4 6.6h0m3.4-9.3h0m-2.5 3.5h0m0.3 2.4h0" stroke="#fff" stroke-width="0.85" stroke-linecap="round" fill="none"/><path d="M167.8 66.6L168.3 69.9L171.2 70.5L173.1 68.9L172.5 63.4L169.5 64.2Z" fill="#EE8045"/><path d="M170.4 65.9h0m0.9-0.7h0m1.7 3h0m-2.8 0.9h0m3.4-5.4h0m-2.2 2.6h0m-0.4 3.2h0m0.2-6.3h0m0.3 3.1h0m-1.5-2.9h0m-0.8 3.3h0m0.9 4.5h0m2.3-3h0m-3.1 2.5h0m3.1-4.3h0m1.2 1.4h0m-4 1.7h0m-1.3-3.9h0m4.2 1.8h0m-1.9-0.2h0m0 0.4h0m0.6 2.8h0m1.6-5.1h0m-1.5 2.2h0m-0.7 1.2h0m1.3-1.9h0m-0.1 0.4h0m-3.1-1h0m3.2-3.2h0m0.4 4.1h0m-0.5 2.6h0m-0.4-1.6h0m1.9-4.4h0m-4.4 4.8h0m0.5-2.6h0m-0.6-1.4h0m0.6 3.8h0m0.8-3.3h0m1.4 5.1h0m-2.9-2.2h0m2.6-3.2h0m1.1 2h0m0.8 2.5h0m-4.4-2.7h0m-1.2 0.2h0m4.4 2.3h0" stroke="#EE8045" stroke-width="1.15" stroke-linecap="round" fill="none"/><path d="M172.9 65.2h0m-3.4 0.7h0m0.5-1.9h0m-1.1 3.6h0m4.5-0.8h0m-2.3-0.2h0m-3.4 1.7h0m1-1.7h0" stroke="#fff" stroke-width="0.85" stroke-linecap="round" fill="none"/><path d="M168.8 71.8h0m0.3 0.7h0m6.3 8.2h0m0-3.9h0m-2.1-3h0m3.5 1.4h0m-9 0.3h0m10.1 2.2h0m-0.8-3.9h0m-9.1 0.8h0m3.3 8h0m-3.8-5h0m6.5 2.2h0m-3.6-7h0m7.6 3.2h0m-10 0.2h0m5.7-0.5h0m7.5 2.1h0m-8.1-6.8h0m-5 11.3h0m8.5-8.9h0m-3.9 5.7h0m0.9-4.5h0m6.3 2.8h0m-9.4 1.5h0m5.8-5.1h0m-7.8 6.7h0m1.5 0.7h0m0.9 0.5h0m9.6-5.7h0m-13.8 1.5h0m11 1.7h0m-4.9 1.9h0" stroke="#E28900" stroke-width="1.15" stroke-linecap="round" fill="none"/><path d="M180.6 69L182.1 70.5L191.4 71.7L195.4 70.6L196 66.5L195.4 60.3L193.6 56.8L190.2 55.6L186 57.4L183.6 60.4L183 65.4Z" fill="#C19B00"/><path d="M181.6 68.3h0m8.5-9.9h0m4.8 7.4h0m-8.1-4.7h0m-2.3 2.5h0m-1 0.6h0m2-4h0m10.7 5h0m-10.1-1.7h0m6.8-0.8h0m-1.5-5.6h0m-4.5 9.7h0m-0.9 2.4h0m5.4-13.1h0m2.2 11.5h0m-3.7 1.2h0m2-13.7h0m-2.4 1.7h0m-6.4 5.4h0m6.6 1.3h0m-2.6 4.2h0m1.2 1.1h0m1.5-5.5h0m0.9-7.9h0m-5.9 14.3h0m-0.4-4.8h0m0.5 6.4h0m4.5-12.1h0m-5.1 7.9h0m3.2 3h0m6.5-3.9h0m-7-3.3h0m-2.9-3.9h0m5.1 6.5h0m2.4-4.5h0m4 7.8h0m-4-0.7h0m3.4 1.1h0m-3.6-3.7h0m-0.5-1h0m-0.3-2.2h0m-2.2 1.1h0m2.6-0.1h0m-7.8 8.1h0m-1-1.8h0m11-6h0m-6.8 4h0m3.3 4.1h0m2.7-11h0m-1.5-0.7h0m-7.3 4.9h0m5.9 3.2h0m-0.6-8.4h0m3.3 12.2h0m-3.8-6h0m0.1-1.3h0m-3.7 4.7h0m5.9-3.8h0m-1.6-9.1h0m-1.4 8.8h0m2.3 1.3h0m-5.7 0.5h0m6.5-0.9h0m1.7 3.3h0m-4.9-6.7h0m6-6.4h0m-8.5 13h0m6.5-3.6h0m3.7-1.8h0m-12 5.1h0m8.8-0.5h0m-5-4h0m-3.3 4.8h0m8.7-4.5h0m-0.4-2.9h0m2.6 4.7h0m-12.2 1.4h0m9.6-5.7h0m-8.4 8.6h0m8.5-8.3h0m0.6-0.8h0m2.6 6.5h0m-5.1-11h0m-2.4 4.5h0m-0.6 7.5h0m-1.6-1.8h0m-2.6-3.7h0m0.6 2h0m1.2 4.2h0m6.2-1.1h0m-2.9-0.9h0m1.4-5.9h0m-2.6-2h0m5.1 10.4h0m-9.5-4.7h0m8.9-4.9h0m-0.6-1.8h0m-1.5 2.6h0m-5.8 1.1h0m4.8 9.2h0m7.4-11h0m-6.6 0.3h0m2.7 2.4h0m-1.1 1.3h0m1.6 6.7h0m-5.2-4.6h0m4.4-6h0m-9.2 3.2h0m2.3-3.9h0m8.4 2.2h0m-2.3 2.4h0m-4.3-6.3h0m2.3 11.1h0m-3.4-4.6h0m1.9-7.9h0m8.6 4.4h0m-6.6-2.5h0m-4.2 11.7h0m4.3-10.1h0m2.1 5.7h0m2.9 4.4h0m-8-6.4h0m5.8 4.3h0m-3.4-2.7h0m5.1 3.4h0m-8.4-3.8h0m8.9-6.4h0m-6.6 1.1h0m-0.2 8.5h0m4.1-2.4h0m-1.1 0.9h0m-4.9-9.2h0m10 2h0m-4.1 3.8h0m-0.5-4.8h0m-5.5 6.3h0m2.8 1.5h0m-2.1 3.4h0m3.7 1.9h0m-5-7.6h0m2.2 4.7h0m-0.4-9.7h0m-0.4-1h0m0 12.9h0m-1.9-7.1h0m8-6.5h0m-3.5 3.8h0m6.6 7h0m-9.4-0.3h0m8.5-7.2h0m-8.9 0.5h0m1.9 5.9h0m1.4 1.3h0m-2.8-0.7h0m0.8 1.4h0m4.9-11.4h0m-9.9 12.2h0m2.5-8.3h0m-1.1 9.3h0m4.8-5.5h0m-6.2 3.2h0m12.5-8.8h0m-1 1.9h0m-6.5 8.2h0m3.5-5.3h0m-9.5 4.1h0m13.6-8.7h0m-4.2 5.4h0m5.1 0.3h0m-1.6-4.9h0m-5 0.5h0m5.4-4.3h0m-1.9-0.7h0m2 2.9h0m-0.4 0.7h0m-1.5 0.4h0m-0.6-0.8h0m-6-3.2h0m7.7 0.4h0m-5.6 8.2h0m4.6-3.8h0m-8.4 6.6h0m9.7 2.3h0m2.9-5.5h0m-8.5-1.9h0m-0.8 4.7h0m0.3-2.7h0m-1-4.5h0m8.8 7.8h0m-8.5-10.1h0m-2.7 0.6h0m10.5 2.3h0m-9.3 7.2h0m-0.8-7.1h0m7.5 6h0m-0.5-3.4h0m-4 8.2h0m1.8-5.1h0m4.2-10.9h0m-9.7 8.1h0m12.3 3.5h0m-6.1-6.2h0m2.1 5.4h0m3.2-3.9h0m-7.4-4.1h0m-1 8.4h0m3.4 0h0m-1.4-4.3h0m-8.4 6h0m11.2-8.4h0m-0.6 6.6h0m4.8 0.9h0m-0.8 0h0m-3.9 3.6h0m-3-13.8h0m3.9 6.1h0m-2.4 0.6h0m-4.9-4.1h0m5.1-5h0m6.1 8.8h0m-7.2-8.8h0m-4.5 11.7h0m-0.5 0.1h0m6.9-8.1h0m-1.2 5h0m-9.2 4.7h0m0.3-0.7h0m12.1-8h0m-2.7 9.2h0m-2-9.1h0m7.2 0.6h0m-2-0.3h0m-3.1 4.5h0m-5.5-2.2h0m9.8-4h0m-7.9 6.9h0m3 0.4h0m-5.5-1.7h0m-0.3-4.2h0m0.1 4.1h0m6 1.2h0m5.3 4.5h0m-1.8-0.9h0m-7.9-4h0m4.8-5.4h0m-6.5 10.6h0m5.2-10.2h0m1.6 0.8h0m-9.7 9.4h0m9.6-10.1h0m-3 1.5h0m4.9 5.9h0m-3.3-0.7h0m-2.1-7.2h0m-3.2 3.2h0m5.5-3.5h0m5.8 1.9h0m0.6 7.5h0m-7.5-9.3h0m1.1 2.6h0m4.9 5.9h0m0.1-4.9h0m-1.2-7h0m-2.5 10h0m-3.3 5.4h0m-4.2-1.2h0m-0.1-9.4h0m0.5 3h0m8.9-3.9h0m-10.6 6.2h0m6.3 2.3h0m-0.4-8.1h0m-2 1.5h0" stroke="#C19B00" stroke-width="1.15" stroke-linecap="round" fill="none"/><path d="M195.1 62.1h0m-6.3-0.6h0m-3.6-3.6h0m1.1 1h0m9.6 5.8h0m-3.4 2.7h0m-7.2-8.4h0m3.2 9.7h0m-2.9-2.4h0m8 2.6h0m-6.5-4.7h0m2.2-4.2h0m2.5 8.5h0m-5.8-5h0m3.7-0.5h0m0.8 4.1h0m-1.8 0.6h0m2.2-10.6h0m3.8 5.5h0m-9.2 0.9h0m-0.7-4h0m4.4 4.3h0m2 7.3h0m-6.6-2.8h0m6.9-2.2h0m-9.6 2.1h0m2.6-4.5h0m8 0.4h0m-4.7-5.8h0m4.6-0.3h0m-0.8 7.8h0m3.7-4.5h0m-10.2 9.1h0m5.6-10.1h0m-5.2 7.1h0m-1.5 1.6h0m3.1-7.5h0m3.4-4.4h0m0 7.8h0m-4 1h0m8.3-0.5h0m-4.3 1.9h0m-6.1-6.8h0m3.1 10.2h0" stroke="#fff" stroke-width="0.85" stroke-linecap="round" fill="none"/><path d="M188 63.5h0m2.9-1h0m-1.2 0.2h0m-1.6 1.9h0m0.7-2.9h0m1.6 1.3h0m-2.5 1.8h0m2.2-1.8h0m0.2 2.7h0m-0.1-0.8h0m0.5-1.3h0m-2.2 0.5h0m1.9 1.8h0m-3.3-2.9h0m0.6-0.9h0m0.1 0.5h0m1.2 1.6h0" stroke="#fff" stroke-width="1.15" stroke-linecap="round" fill="none"/><path d="M176.7 71.5L176.6 75.6L173.4 78.9L171.3 83.4L171.8 87.7L176.4 87.7L180.3 93.4L183.9 94L184.2 94.3L184.3 94.7L180.1 97.5L170.1 98.8L169.1 100.8L172 104.3L174.9 105.4L179.8 103.6L182.4 102.3L188.9 103.5L193.6 102.4L195.5 98.7L197.4 96.1L199.9 94.2L201.1 91.9L201.1 84.4L199.8 78.8L198 74.4L195.7 71.6L191.4 72.8L181.8 71.5Z" fill="#E28900"/><path d="M181.4 94.2h0m-1.4 7.8h0m6.3-15h0m-11.1 18.4h0m0.9-22.1h0m10-8.9h0m-7.5 5.4h0m12.8 15.7h0m4 5.1h0m2.7-14.8h0m-7.6 4.4h0m1.3-6.8h0m-20.3 20h0m20.9-27.8h0m-15.7 11.4h0m-1.9-3.2h0m18.4 3.6h0m-13.9 1.7h0m19.6-4.6h0m-15.1 17.3h0m-4.6-1.5h0m8-13.4h0m6-0.8h0m-2.6-2.7h0m-10.5 0.3h0m6.7-9.7h0m-11 25.2h0m8.2-16.2h0m0.9 1.3h0m0.9-4.3h0m-5.1 2.1h0m9.3 5.6h0m-16.1-7.1h0m12.4 18.8h0m-3.1-18.2h0m-4 9.5h0m16.5-0.4h0m-22.6 11h0m12.8-3.9h0m4.7-20h0m-10.9 15.5h0m1.6-12.9h0m-2.4 2.3h0m12.4 1.4h0m-11.3 15.5h0m0.2-25.8h0m8.7-1.4h0m6.8 22.7h0m-22.2 7.2h0m8.6-9.7h0m8.9-17.7h0m1.4 14.8h0m8.4-2.8h0m-16.4 4.9h0m15.3-12.4h0m-16 23.4h0m-1-24.2h0m5.7-3.5h0m-5.7 23.9h0m-5.5-27h0m12.5 32.1h0m-15.7-3.5h0m12.1-14.8h0m6.7-8.1h0m-12.7 8.1h0m18.1 0h0m-11.2 18.3h0m-12.9-1.2h0m20-10.9h0m-2.1-6h0m-3.4-8h0m3.1 19.5h0m-7.6-5.6h0m12-12.6h0m-19.3 6.6h0m5.4-6.4h0m5.6 15.6h0m4.3-3.5h0m-3.5 1.8h0m-12.9-16.1h0m12.1 5.2h0m-12.2 5.8h0m-6.1 13.3h0m9.8-19.3h0m6.9-9h0m10.1 0.1h0m-15 13.3h0m0.4-12h0m13.1 8.2h0m-6.4 19.4h0m-3.4-4.3h0m-7 5.7h0m4.8-15.4h0m-4.2-8h0m2 19.9h0m3.7-21h0m5.3 0.9h0m-9-1.1h0m-2.3-4.9h0m1.2-0.3h0m11.2 7.4h0m-15.8 4.3h0m5-6.7h0m-1.6 7.4h0m11.9 14.4h0m-0.1-15h0m2.7 13.7h0m-6.8-6.4h0m-8.4-15.7h0m21.1 2.6h0m-4.1 17.9h0m-20.9-15h0m15.7 12.5h0m-11.8-21.2h0m22.9 11.8h0m-4.4-12.6h0m-15.5 0.2h0m-3.9 24h0m22.2-19.4h0m-2.3 12.9h0m-14.5-0.8h0m6.1 11.4h0m11.4-17.9h0m-7.1 0.1h0m-3.3 2.7h0m-3.1-9.4h0m12.9 3.4h0m-14.9 16.7h0m1.5-13.7h0m5.6-8.6h0m-12.2 14.4h0m18.5-6.5h0m-7.9 5.3h0m0.2 2.7h0m0.3-4.9h0m-18.9 13.4h0m11.3-25.3h0m-8.8 11.2h0m9.1-3.2h0m1.6-7.8h0m14.5 15.5h0m-5.9 8.7h0m-20.6 0.1h0m12-7.4h0m-6 10.4h0m-5.9-15.9h0m11.7 7h0m-10.3-11.1h0m4.4 7h0m14.9 1.4h0m-7.1 12h0m4.2-21.6h0m3.8-5.7h0m-8.7 8.2h0m-4.2 15.2h0m-5.5-11.8h0m17-9.3h0m-8.7 7.3h0m-1.1 2.4h0m10.2-10.2h0m-4.9 17.3h0m11.7-12.2h0m-16.4-4.2h0m3 17.7h0m0.1-3.6h0m10.7-12.5h0m-14.8 18.3h0m7 7.4h0m-16.9-20.7h0m10.7 7.4h0m7.5-18.9h0m1.7 21.9h0m-12.1-19.9h0m17.7 21.8h0m-16.1 2.1h0m-4.2-10.6h0m3.2 4.3h0m-10.8 7.6h0m30-18.7h0m-2.8 10h0m-13.5 0.4h0m-12.2-10.2h0m18.7 16.9h0m6.9-2.6h0m-10.1-13.7h0m-4.3 10.9h0m8.8-10.2h0m-6.1 4.6h0m1.8 10.7h0m8.4-16.2h0m-16.2 18.3h0m15.9-2.3h0m-15-3.2h0m2.5-15.1h0m14.2 7.5h0m-4.4 10.4h0m-8.9-5.3h0m16.2-5.3h0m-4.9-10.6h0m-19.7 30.3h0m6.6-31h0m-4.2 2h0m9.2-4.4h0m2.9 1h0m-12 25.4h0m1-0.1h0m2.9-26.3h0m6.7 9.5h0m4.3-5.4h0m-14 1.6h0m-2.1 20.9h0m11.2-6.2h0m-7-14.8h0m-9.5 25.7h0m6.7-5.7h0m21.3-3.9h0m-4.7-2.7h0m-10.4-1.1h0m15.2-6.7h0m-10.5 19.3h0m-7-12.6h0m5.1-0.7h0m7.6 10.2h0m-9.6-16.8h0m9.6 8.8h0m-7.1 6.4h0m0.7-13.8h0m-11.1-4.3h0m15.6-3.8h0m-7.5 15h0m5.9-14.1h0m-1.2 11h0m1.8-1.6h0m-6.5-11.1h0m11.5 21.7h0m-3.8-20.3h0m4.1 18.2h0m-4.8-14.7h0m-6.5-5.2h0m15.6 8.4h0m-18.8 6.7h0m9 3.3h0m-4-4.1h0m0.2-4.5h0m-6.4-4.2h0m9 13.8h0m-14.6-9.8h0m8.1-3h0m16.2 8.8h0m-15.3-0.8h0m-0.3-3.8h0m-0.3 13.3h0m8.7-24h0m-16.7 13.3h0m7.6-1.9h0m8.2 2.2h0m-22.8 12h0m19.1-11.1h0m-3.5 11.1h0m-9.5-21.7h0m10.4 0.4h0m-11.3 3.3h0m0.9-4.8h0m17.1 18.3h0m1-23.8h0m-8.5 12.5h0m-2.6 0.5h0m-1.9 17h0m-1.7-15.1h0m1.6-0.8h0m12.1 5.6h0m-14-13.8h0m11.9 24.4h0m9-8.6h0m-10.2 2.5h0m-3-2.7h0m-8.6 4.2h0m1.6-21.3h0m2.3 13.3h0m17.4-11.7h0m-18 18.3h0m-2-3.8h0m11.1 0.5h0m2.7 4h0m-11.3-16h0m3.8 19.5h0m-0.3-25.2h0m-6.9 2.3h0m15.2 0.1h0m-6.9-4.8h0m-2.6 11h0m13.7-2.6h0m-4.3 19.4h0m-9.1-10.4h0m16-1.4h0m-8.3 4.2h0m-1.3-2.2h0m-1.6 4.4h0m8.6-18.3h0m-2.6-1.6h0m-4.4 0.1h0m-7.9 3.3h0m-0.5-3.7h0m11 11h0m-11.1-0.6h0m12.6-2h0m-10.3-11.3h0m-14.1 10.9h0m29.8 2.5h0m-4.4 5.8h0m-11.8-9.1h0m4.1 11.1h0m-12 5.7h0m10.9-25.9h0m6.8 12.3h0m-11.3-13.1h0m-7.4 26.1h0m2.8 1.7h0m1.5-9.8h0m0.3 0.7h0m-4.7-6.6h0m3 15.1h0m19.5-23.6h0m-25 8.2h0m9.2 14.1h0m19.5-14.5h0m-24.7-2.6h0m16.3-9.2h0m-2.4 26.9h0m7-19.1h0m-9.7-2.4h0m3 11.3h0m-0.7 15.1h0m-2.5-18.3h0m3.5-8.6h0m-18.8 21.6h0m17.6-17.1h0m-6.3 18.2h0m-2.4-16.5h0m2-1.7h0m13.6 3.4h0m1.3 3.6h0m-8.1-0.9h0m-9.2-2.6h0m15.5-8.9h0m2.9 7.9h0m-15.5 7.9h0m-5.5 10.6h0m21.2-19.4h0m-18.1-8.3h0m-0.3 4.8h0m13.1 14.7h0m-12.1 4.1h0m6-25.9h0m-1.1 22.8h0m11.2-9.4h0m-10.8-2.7h0m4.6-8.9h0m-11 25.7h0m10-11.9h0m0.1-1.2h0m-16.6 13.7h0m4.7-0.5h0m-5.5-14.3h0m25.6-3.6h0m-15.8-1.1h0m11 8.4h0m3.1-9.5h0m-8.9-5.3h0m-17.7 25.3h0m21.3-26.2h0m-13.9 23.3h0m4.5-22.9h0m18.2 19.2h0m-8.1 2.2h0m2.9-17.8h0m-6.6-3h0m-6.7 3.3h0m5.9 14.3h0m-10.2-17.8h0m1.5 0h0m1.4 3.4h0m-4.6-1.9h0m6.1 8.6h0m1.7-5h0m13.2 3.3h0m1 6.3h0m-21.7-1.3h0m0.9-12.3h0m18.9 12.9h0m1.8-7.5h0m-16.3-1.6h0m6.3-2.7h0m-9.8 25.4h0m7.1-3.8h0m13-4.3h0m-18.5-17.4h0m-1.5-4.4h0m17.9 8.7h0m-23.4 17.3h0m12.9-13.7h0m8.5 12.2h0m-10.8-15.3h0m-8.4 21.5h0m9.3-22.5h0m9 0.9h0m-10.5-6.8h0m8.9 7.1h0m-0.9 17.1h0m9.9-15.7h0m-4.3 14.6h0m-0.7-3.5h0m-10.3-4h0m-2.1-16.6h0m5.6 27.3h0m-1.4-7.2h0m3.3 6h0m2-23.9h0m-16.9 4.8h0m23.3-2.7h0m-1.6 18.8h0m-8.3-13h0m2.3-2.1h0m-20.2 22.3h0m5.7-5.1h0m23.4-14.5h0m-19-11.9h0m-0.2 24.5h0m-4.3-15.1h0m19.9-8.1h0m-18.7 11h0m1.1-10.2h0m19.5 0.5h0m-20.3 25.7h0m18.3-12.5h0m-1.1-9.5h0m2 0.7h0m-8.2 15h0m-6-21.9h0m-10.9 11.8h0m11.2 1.3h0m3.7-3.4h0m-18.7 17.9h0m28.7-26.6h0m-11.1 13.1h0m5.2 10.1h0m-6.8-5.5h0m-5.2-14.8h0m-6.2 24.8h0m20.6-4.7h0m2.2-15.7h0m-16.7 15.9h0m-5.5 3.8h0m24.1-25.4h0m-11.8 19.2h0m0.8-8.1h0m-8.7 16.1h0m10.5-5.1h0m-6.2 4.1h0m10-25.7h0m5.9 7.5h0m-9.2 12.4h0m1-18.8h0m6 5.8h0m-16.9-9.3h0m6.7 6.1h0m-2.4 5.8h0m11.3-1.5h0m-7.2-9.6h0m4.6 6.1h0m-3.1 13.4h0m7.3-15.9h0m-4.1 14.9h0m-5.3 1.1h0m-1.4 2.6h0m-9.2 8.6h0m-1-19.5h0m8.4-8.1h0m-5.4 23.8h0m16.4-16.9h0m-13.5-3.9h0m4.2 7.1h0m-7.9 15h0m15.4-11.6h0m-14.3-4h0m5 9h0m0 6.1h0m13.5-6.9h0m-5.9-22.7h0m-1.8 10.4h0m-0.2-10.7h0m-4.9 17.2h0m-4.7-1.6h0m9.1-16.3h0m-4.6 21.1h0m4.1-4.4h0m-1 6.2h0m-4.5 7h0m-6.6-1.5h0m10.4 2.9h0m-3.5-16.5h0m2.4-2.2h0m-3.8 12.2h0m3.2-24.8h0m-3.3 9.8h0m-8.4-3.5h0m-0.5 21.3h0m25.4-20.3h0m-9.7 20h0m-7.6-9.4h0m4.4 11.5h0m-13.7 0h0m7.4 1.6h0m13.2-10.9h0m0.2-12.7h0m5 3.4h0m-28.5 18.5h0m17.7-10.4h0m4-3.2h0m-9.1-10.9h0m-5.7-0.2h0m13.1 11.7h0m1.2 12.7h0m2.4-23.2h0m-5 13.6h0m10.5 4.5h0m-3.8-20h0m0.8-1.8h0m1.9 7.3h0m-7.9 2.5h0m-12.6 2.5h0m20.2-4.9h0m-2.6-5.5h0m-12.3 13.5h0m5.3 4.7h0m0.4-20.2h0m12.1 10.5h0m-2.3-1.6h0m-1.8 2.8h0m-7.8-5.2h0m-4.8 6.1h0m7 18.6h0m5.5-5.6h0m-12.9-2.8h0m15-4.9h0m-24.3 11.2h0m22.8-21.7h0m-7 0h0m-0.1 7.6h0m-4.1-2h0m13.1 5.9h0m-15-20.1h0m-5.3 30.3h0m7-13.8h0m-3.5-12.1h0m15.7-3.9h0m-18.3-0.9h0m-3.9 34.3h0m26.3-22.2h0m-23.7 13.8h0m13.8 5.8h0m-5-21.6h0m6.4 1h0m-5.4 1h0m6.6 0.1h0m-19.6 20.5h0m26.2-9.9h0m-13.9-4.9h0m-4.6-8.5h0m11 1.8h0m-2.3 5.3h0m0.3-4.1h0m-6.3-5.4h0m-5.7-5.7h0m7.9 5.2h0m9.7 7.7h0m-0.7 5.5h0m-24.1 10.7h0m22.4-29.3h0m-10 5.7h0m6 5.2h0m-6 6.9h0m-6.7 8.6h0m23.1-17.6h0m-0.8-2.3h0m-8-5h0m-0.8 18h0m0.3-7.8h0m-8.4 13.8h0m9.2-2.3h0m4.7-7.5h0m-1.2-2.7h0m-11.6 13h0m3.2-3.1h0m1.6-3h0m7.7-6.4h0m-13 15.7h0m13.1-13.2h0m-14-1.4h0m17.2-1.1h0m-4.9-2.7h0m4.1-6.3h0m-24.9 8.6h0m19.6 14.1h0m-6.7-25.8h0m-1.6 13.9h0m-2.7-8.1h0m0.1 20.3h0m5.5-21h0m-8.7 11.1h0m2.2 12.7h0m14.8-7.7h0m-15.1-18.7h0m8.9 1.6h0m-19.3 5.7h0m23.5 10.1h0m-18.5 10.5h0m9.1-8.8h0m-7.3 2.3h0m9.4-6.9h0m-8.5 12.9h0m3.9-27.5h0m5.8 4.9h0m9.7-3h0m-19.3 3.2h0m19.4 7.2h0m3 0h0m-21.1-1h0m7.6-13.9h0m0 13.3h0m5.2 12.4h0m-3.6-1.9h0m-10.5-26.3h0m4.9 28h0m11.8-23.9h0m-17.5 27.4h0m13-25.7h0m-6.5 16.2h0m6-3.8h0m0.4-8.3h0m-14.1 19.2h0m15.4-16.8h0m-10.3 8h0m-3.9 12.3h0m-3.4-0.3h0m3.5-23.6h0m3.5-6.3h0m-3.7 0.2h0m4.2 5.8h0m3.2 6.3h0m-12.2 14.6h0m18.7-1.4h0m-7.3-19h0m1.9 5.2h0m9.1 1.1h0m-14.9-8.5h0m15.7 6.1h0m-4.8-3.2h0m2.2 18.3h0m-3.3-11.2h0m2.6-10.4h0m3.5 16.1h0m-21.6 5.2h0m9.1-5.9h0m17.2-7.5h0m-28.6 1.4h0m12.5-12.5h0m-5.2-1.9h0m11.1 12.2h0m-2.8-12h0m-10.7-2.1h0m9.1 15.5h0m-3.6-8.5h0m-5.4-2.3h0m-2.4 26.6h0m3.8-17h0m11.9 4h0m1.5-8.2h0m-0.6 19.8h0m9.1-20.5h0m-3 1.1h0m-17.9-4.1h0m0.1 10.5h0m10.4-7.5h0m2 8.3h0m-9.1 11.4h0m-7.6 0.8h0m1.7-26.5h0m7.8-1.9h0m10.3 23.2h0m-3.2 5.6h0m-10-21.9h0m0.5 18.6h0m1.8 1.3h0m6.6-8.4h0m-11-5.7h0m4.2-7.9h0m11.6 17.6h0m-12.2-19.7h0m5.9 15.6h0m-0.9-4.6h0m-10.2-14.2h0m0 15.9h0m16.5 5.9h0m-9.7 3.6h0m1.8-24.8h0m9.3 15.2h0m-3.3-2.1h0m-7.1 4.4h0m-5.7 13.5h0m5.1-15.6h0m-11.8-9.2h0m23.7 17.9h0m-15-10.4h0m8.5-8.9h0m-7.4 14h0m9.9 9.3h0m-14.6-19h0m5.8 16.7h0m1.1-23.3h0m-9.8 1h0m9.1 0.2h0m6.9 13.8h0m-1.2-10.1h0m-11 7.8h0m-1.1-12h0m13.7 4.3h0m-7.5 14.1h0m3.3-17.3h0m1.6 8.1h0m-4.7 6.4h0m9.6-17.9h0m-2 18.6h0m-15.4-15.1h0m6.3 10.7h0m5.7 2.3h0m-8.9-15.6h0m17.5 3.7h0m0.1 7.2h0m-19.4 3.5h0m11.9-9.5h0m4.7 13h0m-11.3-4.1h0m15.1-0.6h0m-13.1-10h0m-3.4 6.9h0m4.4 15.7h0m12.7-18.9h0m-14.7 16.9h0m-9.6-12.3h0m17.1 1.2h0m2.4-8.7h0m-3.7 10.8h0m-2.6-2.8h0m-1.3 10.5h0m-13.3-19.3h0m7.3 20.3h0m11.7-20.7h0m-8.3 1h0m0 5h0m-5.4 1h0m15.9-11.5h0m-9.1 4.3h0m-0.9 4.2h0m5.3-1.2h0m-5.2-5.9h0m12.3 10.6h0m-2.6 11.1h0m0.3 2.1h0m5.7-18.2h0m-8.3 19.4h0m6.2-20.8h0m-13.2 12.8h0m6.8 4.2h0m-7.1-7.3h0m3.5 3.2h0m6.2-9.2h0m-13.9 6.9h0m16.9 4.6h0m-2.4-21.3h0m-17.1 32.6h0m1.8-23.1h0m17.8-1.2h0m-25.3 18.8h0m3.1-15.8h0m23.6 2.8h0m-25.3 1.5h0m23.4-11.1h0m-14.8 6.9h0m11.9 6.2h0m-2.5 0.8h0m-13-18.3h0m14.6 17.7h0m-10.5-11.1h0m-2.7 5.6h0m11.1 7.2h0m-13.5-8h0m19-1.7h0m-14 15.3h0m-0.4-13h0m-2.5 15.9h0m-3.6-1h0m15.9-4.9h0m2.1-17.3h0m-11.1 13.7h0m13.5-0.7h0m0.2-10.6h0m-22 21.1h0m18-17.6h0m-20.7 3.1h0m9.1 12.3h0m-4.5 6.8h0m14-23.3h0m7.5 10.4h0m-18.3-16.6h0m20.5 15.1h0m-8.2-11.2h0m4.8 9.4h0m-19.5-3.3h0m15.3-5.6h0m-6.7-7.7h0m-4 14.8h0m17.3-6.8h0m-23.7 23.5h0m19.9-7.1h0m0.2-4.6h0m4.5-8.3h0m-13.7-6.6h0m5.7 4.9h0m-0.4 19.2h0m-4.7-10.3h0m-1.3-4.7h0m-6.4 14.4h0m19.5-21.8h0m-11.4 15.7h0m-12.6-13.5h0m13.6 6h0m-9.9-2.8h0m1.7 16.4h0m-1.4-19.4h0m10.6 9.5h0m-14.4-7.9h0m18.2 16.3h0m-13.3-18.5h0m7.7-1.5h0m-1.4 7.8h0m-5.1 3.6h0m7-17.7h0m-4.4 12h0m11.8 1.5h0m-0.8-0.9h0m-10 11.3h0m8.9-13.5h0m-3.4-7.6h0m-12.4 5.4h0m-4.6 22.9h0m15.4-12.6h0m-7.7-9.8h0m-0.9 7.5h0m2.1-0.1h0m12.4-11h0m-0.5-6.8h0m-9 2.6h0m8.1 26h0m-13.5-22.1h0m11.5 19.6h0m-16.4-13.8h0m16.8 1.5h0m-11.5 8.1h0m9.2-16h0m10 4.1h0m-27.4 3h0m5.3 16.9h0m9.5-7.7h0m-7.7 5.8h0m6-20.9h0m14.3 11.3h0m-24.3-12h0m-6 21.7h0m21.5-18.2h0m-6.7 15h0m-11-16.9h0m17.6-5.6h0m-9.1 16.1h0m19.9-0.3h0m-27.1-9.9h0m1.8 24.4h0m15-11.6h0m-3.8-13.7h0m-10.8 20.9h0m14.9-12.2h0m8.5-9.5h0m-11.6 17.9h0m5.5-10.6h0m-2-6.9h0m1.2 22.9h0m-13.2-28.1h0m18.4 18.1h0m-20.3-7.6h0m6 2.5h0m15.5-0.7h0m-13.8 5h0m-10-3.2h0m5.2-10.8h0m9.5 4.4h0m5.9 8.8h0m-22.7-4.5h0m7.6-5.5h0m16.2 6.4h0m-20.2-15.1h0m24.4 12.3h0m-17.5 17.7h0m-8.8-1.6h0m15.5-18h0m-1.7 4.1h0m-12.9-6.3h0m18 16.2h0m-17.2-8.2h0m24-5.8h0m-23.3-2.9h0m6.9 13.5h0m-12.7-5.2h0m12.4-4h0m-6-8.8h0m3.8 0.2h0m-6.1 7.9h0m19.9 16.4h0m-2.5-5.6h0m-15.2-15h0m2.2 0.9h0m-0.1 20.9h0m14.4-26.5h0m-12.3 28.8h0m6.8-11.3h0m-5.9-12.5h0m5.7 5.5h0m-1.5 12.2h0m-11.2-15.4h0m14.6-6.1h0m-1.2 18.7h0m-0.4 8.4h0m-1.6-4h0m-0.4-10.3h0m12.3-2.1h0m-0.8 5.3h0m-15.5-11.9h0m8.7-2.5h0m-2.3 20.5h0m6.6-6.4h0m-25.7 12.2h0m18-28.4h0m-4.5 20.4h0m2.3-5.5h0m-5.4-2.9h0m5.9 7.4h0m-1.7-3.3h0m5 2.3h0m2.8-5.8h0m-23 12.2h0m25.3 0.7h0m-6.7-18.2h0m10 0.1h0m-3.4 10.1h0m-13.4-13.3h0m3.4 18.1h0m-7.7-25h0m-6 27.5h0m7.4-9h0m2.1-2h0m10.1 0.4h0m-14.4-16.2h0m4.8 16.7h0m3-14.6h0m5.2 28.2h0m-11.4-25.2h0m12.4 4.2h0m-3 10.3h0m-2 9.4h0m13.5-17.1h0m-16.3 2.9h0m13.1 3.5h0m-24.3-1.8h0m28.7 5h0m-21-8.5h0m5.3-12.3h0m9.7 3.5h0m2.1 17.7h0m-11.6-5.4h0m8.8-5.6h0m-18.2 15.1h0m-1.7-10.3h0m16.2-14.8h0m-4.1 18.9h0m3.9 1.6h0m-14.7 7.5h0m-0.2-15.7h0m8.5 3.7h0m-3.7-8.8h0m17.1 7.2h0m2-9.8h0m1.5 11.7h0m-8.3-1.1h0m-2.2 9.8h0m-1.3-1.1h0m-11.8 2.6h0m9.5-12h0m6.2-8.9h0m-2.3 1h0m8.5 15.6h0m-22.5-23.5h0m0.2 6.4h0m7.8-1.8h0m-11.6 25.4h0m4.9-29.4h0m-2.7 5.6h0m0.7 8.8h0m18.8 7.7h0m-13.6-1.4h0m1.8 5.9h0m14.3-25.4h0m-15.1 12.1h0m16.6 2.1h0m-13.5-0.2h0m-11.5 12.6h0m21.4-5.8h0m4.9-9.2h0m-7.6 15.6h0m-16.6-2.3h0m2.9-26h0m16.9 20.9h0m-14.8 10.1h0m7-20.6h0m-0.1-6.3h0m4.7 12.8h0m6 2h0m-22.3 9.2h0m16.6-25.3h0m-16.8 27.6h0m14.1-6.4h0m9.7-13.8h0m2.1 8.3h0m-11.2-14.8h0m4.3 9.2h0m-4.8 15.5h0m-0.8-7.3h0m5-2.1h0m-6.6 12.5h0m-14.6-4.5h0m21.2-16.9h0m-2 20.3h0m-8.3-17.6h0m-10.1 1.3h0m4.3-2.9h0m8.5 1h0m6.8 12.6h0m0.5-4.8h0m-12.1-9.4h0m12.4-3.7h0m-18.4 20.9h0m20.9-22.9h0m-24.8 23.7h0m10.1-7.2h0m-3.1-6.9h0m1.3-10.2h0m-5 28.6h0m12.7-7.5h0m-2.7-18.5h0m-6.7 5.4h0m0.6 8.1h0m12.2 9.4h0m-5.9-5.8h0m5.6-7.5h0m-17.7-6.2h0m20.5 15.8h0m-12.2-12.6h0m7.5-7.8h0m0.7 18.8h0m10.4-10.2h0m-25.7 18.4h0m10.5-26.7h0m0.5 19.3h0m-12.4 2.7h0m7.2-24.3h0m-0.7 22.5h0m14-3h0m-1.9-6.7h0m-17.9-6.1h0m20.8-5.7h0m-14.2 10.1h0m5.1 1.5h0m10.1 5.3h0m-0.2-12h0" stroke="#E28900" stroke-width="1.15" stroke-linecap="round" fill="none"/><path d="M197.8 76.2h0m0.5 6.6h0m-16.7-5.5h0m8.6 18h0m-16.6-11.3h0m11.8 6.2h0m-3.4-1.5h0m14.2-6.1h0m-12.8 10.6h0m-8.5-8.9h0m10.1 10h0m-7.3 7.5h0m-2.4 0.2h0m15.7-17.8h0m-4.6 5.6h0m2.8 10h0m2.1-11.5h0m-17.2-0.4h0m5 13.1h0m1.7-24.6h0m1.9 7.7h0m14.7 4.9h0m-18.6-9.7h0m3.5-0.1h0m-2.8-0.6h0m2.1-3.8h0m14.9-0.2h0m-12 20.3h0m7.9-5.4h0m-14.3-3.9h0m7.6 7h0m7.2-1.1h0m-8.3 2.6h0m0.4-10.1h0m-7.1 14.8h0m-4.6 1.1h0m19.2 0.7h0m1.4-12.4h0m-15.4 12h0m10.6-5.1h0m-7.9-22.3h0m17.3 9.6h0m-16.4 13.7h0m2.5-20.9h0m-11.1 4.1h0m9.8 20.1h0m11.4-12.6h0m-6.2 14.3h0m-7.6-3.2h0m4.7-10.9h0m-5.3-2.2h0m8.5 7h0m-9.8-7.9h0m14.5 5.4h0m-2 4.6h0m1.2-3.6h0m3.7-18.7h0m-8 13.2h0m6.3 13.2h0m1.4-5.8h0m-6.7-11.4h0m6.4-7.6h0m-22.6 14.1h0m17.6-5.9h0m5.6 1h0m-17.4 15.8h0m-0.6 2.6h0m4-12h0m8.5-6h0m-1-6.9h0m-15.1 3.9h0m-3.6 5h0m9.7 0.2h0m-6.3-0.3h0m19.1-0.9h0m-16.2-11.6h0m-5.4 14h0m25.7-7.8h0m-17.5 18.9h0m6.8-14.6h0m-9.1 18.6h0m0-15.6h0m17.7 8.8h0m3.3-13h0m-9.9 3.4h0m-14.6-7.5h0m21.3 19.6h0m-13.9-5.7h0m-5.6-16h0m9 13.4h0m-1.4-4.4h0m-8.2 15h0m1.9-27.3h0m8.8 12.8h0m0.5 15.3h0m-13.4 1.5h0m24.5-9.3h0m-9-13.9h0m5.8 8.3h0m0 13.7h0m-18.8 4.3h0m0.3-19.9h0m17.8-3h0m-8.5 6.7h0m-11.3-2.9h0m10.7-8.6h0m-2.9 21.3h0m4.3-18h0m2.1 5.4h0m1.2 4.4h0m-8.9-12.9h0m18.8 8.5h0m-17.7 12.3h0m16.7-17.9h0m-17.2 21.8h0m15.8-10.4h0m-5.7-4.5h0m-13.5 0h0m10.8 9.2h0m9.7-11.4h0m1.9-4.9h0m-13.5-0.2h0m-10.1 22.4h0m22.5-16.5h0m-22.1-14.6h0m9.5 7.2h0m-5.6 12.9h0m14.8 2.2h0m-14-12.5h0m-7.8 3.2h0m19.4-1.3h0m-6.4 8.2h0m-10-11.2h0m6.7 17h0m-9.3 3.8h0m2.5-20.2h0m3.6-8.3h0m12 9.6h0m-13.5 3.4h0m3 15.8h0m-10.9-16.4h0m13.2 18.4h0m-2-11.8h0m-9.2 10.5h0m3.6-20.9h0m0.9 6.6h0m21.2 8.3h0m-5.5-13.9h0m-5 22.3h0m-8.1-16.3h0m-10.1 13.6h0m23-23.8h0m3.9 14.5h0m-3.1 5.1h0m0.8-3.8h0m2.5-4.9h0m-2.8-16.6h0m2.1 12.2h0m-1.1-7.2h0m-14.9 20.9h0m19.6-3.5h0m-20.7-4.8h0m-5.3 10.5h0m10.8 3.3h0m5.5-14.7h0m5.8-10h0m-3.6 5.7h0m-18.2-1.7h0m25.6 8.8h0" stroke="#fff" stroke-width="0.85" stroke-linecap="round" fill="none"/><path d="M184 91h0m3.1 2.7h0m5.3-3.7h0m-8.2 1.6h0m3.2-0.9h0m8.5 2.9h0m-9.2-5.5h0m4 1.2h0m0 3.8h0m-4.1-4.4h0m3.4 2.5h0m0.6 0.2h0m2.5 0.2h0m0.5-1h0m-2.9 4.4h0m-6.4-3.1h0m3.2 2h0m6.9-4.9h0m-5.8-0.5h0m-4.3 0.5h0m6.7 2.2h0m3.5 0h0m-6.9 0.5h0m-0.9 0.1h0m4.2 1.9h0m1.8-0.9h0m2-0.8h0m-6.8 0.3h0m4.8-3.6h0m-6.6 1.4h0m-0.3-0.8h0m-0.7 5.2h0m3.5-1.7h0m-5.1-3h0m5.2 4h0m2.6 0.2h0m-3.9-0.2h0m-3.5-4.4h0m8 2.8h0m0.9-0.6h0m-3.4 2.8h0m5.1-3.1h0m-1.4-0.3h0m-10 0.2h0m3.9 2.6h0m-0.9-3.5h0m-2.1 2.1h0m4.1-2.2h0m6-0.8h0m-0.8 4.9h0m-3.9-5.6h0m1 4.6h0m-6 0h0m0.7-1.8h0m6.3 0.2h0m-2.5 1.8h0m-3-2h0m2.3-3h0m0.6-0.3h0m3.6 2.8h0m-1.4 4.3h0m-5.1-1.6h0m4.2 0.5h0m-1.3-2.4h0m-1.8-3.8h0m-2 4.3h0m4.8-4.6h0m-0.5 4.4h0m1.1-1.1h0m1.9 0.7h0m-9.4-2.5h0" stroke="#EE8045" stroke-width="1.15" stroke-linecap="round" fill="none"/><path d="M174.3 75.2h0m-3.9 4.3h0m-1.6-1h0m6.2-0.4h0m-1-7h0m-4.5 7.1h0m3.6-6.3h0m2.6-1.9h0m-8.5 4.1h0m3.5 5.6h0m3.7-7.6h0m-2.3 9.9h0m-7.7-3.5h0m2.4-4.5h0m2.6 4.1h0m-3.9 2.8h0m4.6-2.1h0m0.9-4.4h0m2.4 7.8h0m-8.4-1.6h0m-1.8-6.4h0m3.8 4.4h0m0.1-6.5h0m-0.2 2h0m3.7-3h0m-2.9-0.7h0m3.4 3.2h0m-6.6-3.8h0m6.9 3.1h0m4.3 8.5h0m-2.6-11h0m-0.5 7h0m1.8-6.7h0m-1.3 0.4h0m0.4 5.8h0m-5.4-5.3h0m-1 5.2h0m4.1-4.5h0m-0.9 2h0m-0.8 7.2h0m-4.8-3.3h0m9.9-1.9h0m-5.2-2h0m2.3 1.5h0m-3.5-2.6h0m-1.8 5.9h0m0.1-5h0m5.6 4h0m3.4-6.9h0m-5-1.2h0m-5.8 1.3h0m2.9-1.3h0m4.1 0.9h0m3 2.4h0m-6 1.3h0m-1.7 3.6h0m-2.9-5.5h0m8 3.3h0m3.2 6.6h0m-8.8-6.6h0m6.1 0.6h0m-5.4 1.5h0m7.4-6.5h0m-5.8 4.8h0m7 5.5h0m-9.5-7.7h0m8.3 6.7h0m-2.7-0.7h0m-7.2-0.7h0m6.6-8.4h0m-6.8 3.9h0m8.9 3.9h0m-0.7-5.9h0m2.8-3.6h0m-3.2 5.8h0m1.3-0.9h0m-7 6.3h0m6.2-11h0m0.7 4.2h0m-2.8-2.1h0m5.1 1.7h0m-2.6 8.3h0m-8.2-5.8h0m7.1 2.7h0m-5.5-5.6h0m4.8 9.8h0m-0.5-13.4h0m0 5.2h0m-2.1-3.1h0m7.3 0.7h0m-6.1 5h0m-0.2-1.2h0m-3.9-2h0m10.6 0.7h0m-8.3-3.6h0m4.5 8.4h0m2.7-6h0m-4.1-2.2h0m4.7 2.3h0m-6.9 4.8h0m-2.5-8.1h0m0.5 7.6h0m-2.4 2.8h0m11.4-8.2h0m-2.4 10h0m-6.9-11.5h0m3.4 1.5h0m-1.9-3.1h0m1.5 5.5h0m1.7-3.4h0m3.1 5.6h0m-3.6 0.5h0m-2.2-1.8h0m3.3-3.5h0m2.7 2.3h0m-3.7 0.4h0m4.3 0.1h0m-3.1-2.1h0m-3.3-2.9h0m-2.3 2.5h0m5 6.3h0m-5.3-2.6h0m5.4-0.7h0m-5 3.5h0m1.6-0.3h0m2.7 3.3h0m-4.3-9.9h0m-1 0.6h0m8.5 6.6h0m-1.2-9.1h0m-1.5 12.7h0m0.2-4.8h0m2.9-4.1h0m1.2 4.2h0m-4.4-7.4h0m3.1-1h0m1.1 7.8h0m-4.6-5.7h0m-3.6 6.2h0m0.3-4.1h0m2.8-3.8h0m-5.8 3.3h0m5.2 8.4h0m-2.7-1.1h0m6.5-3.6h0m-4-4.9h0m2.8 2.1h0m-3.1 5.6h0m1.1-9.2h0m5.4 4.9h0m-5.5 0.4h0m3.2 3.3h0m-0.3 0.5h0m1.8-5.8h0m-0.3 1.3h0m-6-1.6h0m-3.6 6.6h0m7.8-5.1h0m-7 0.9h0m4.3-0.1h0m-2.3 2.6h0m-0.1-6.2h0m7 4.5h0" stroke="#EE8045" stroke-width="1.15" stroke-linecap="round" fill="none"/><path d="M179.5 79.4h0m-1.1-1.8h0m-1.6 3.6h0m4.7-7.3h0m-3.5-0.5h0m0.4 2.5h0m-1.4-0.8h0m1.1 2.8h0m0.1-1.7h0m-0.7-1.5h0m1.4 2.9h0m-0.3-4.9h0m-2.3 7.8h0m3.8-4.5h0m-0.1 1.5h0m-3.7 2.5h0m3.6-5.5h0m-2.7 4.7h0" stroke="#EE8045" stroke-width="1.15" stroke-linecap="round" fill="none"/><path d="M187.1 96.1h0m2.7 1.1h0m1.2-0.4h0m-3 1.1h0m4.2 0.5h0m-2.2-0.3h0m-0.2-0.5h0m2.8-2h0m-1.4-0.2h0m0.1 1.3h0m2.4-0.1h0m-5.7 1h0m3.1-1h0m1.3-1.3h0" stroke="#fff" stroke-width="1.15" stroke-linecap="round" fill="none"/><path d="M168.7 87.5h0m-0.1-2.9h0m0.8 3.6h0m1.3-3.7h0m0 1.2h0m-0.4-1.1h0m-1.3 0.8h0m1.8 0h0m-0.7-0.2h0" stroke="#fff" stroke-width="1.15" stroke-linecap="round" fill="none"/><path d="M174.8 77.1h0m-7.6-3.7h0m6.7-1.2h0m-2.3 1.2h0m-4.3 0.8h0m5.2-0.7h0m1.2 2h0m-4.3-0.9h0m4.9 2.4h0m-2-1.4h0m0.4-3.6h0m-5.8 3.3h0m3.7-1.7h0" stroke="#fff" stroke-width="1.15" stroke-linecap="round" fill="none"/><path d="M177.1 89.1h0m-4.8 4.8h0m-0.1 1h0m5.6-6.9h0m-5.9 0.1h0m-0.9 11.7h0m3.1-11.3h0m-3.4 9.3h0m2-4.6h0m-0.9 0.4h0m3-3.3h0m-2.6 10h0m0.7-3.1h0m-1.9-6.9h0m0.7 10.5h0m1.4-7.1h0m3.1-3.3h0m-0.7-0.3h0m-4.6 5.1h0m0.6-4.3h0m3.2 2.3h0m-3.1-4.1h0m0.7 8h0m-1.2-5.9h0m3.8-0.5h0m-5.2-2.3h0m3 1.7h0m-1 10h0m-1.9-11.1h0m2.6 5.7h0m-1.1 2.5h0m-1.1-4h0m0.5-4.3h0m7.1 1.4h0m-4.9 8.9h0m-0.2-4.2h0m0.6-1.2h0m1.9-4.1h0m-4.5 3.5h0m-1-2.7h0m3 1.4h0m0.7 0.5h0m-1.8 7.8h0m-0.4-4.1h0m-1.7-5h0m1.5 8.4h0m3.4-9.4h0m1-0.7h0m3.5-0.5h0m-7.1 0.9h0m0.7-1.4h0m6.4-0.5h0m-3.7 1.8h0m4.4-2.1h0m-6 1.1h0m-2.8 4.4h0m0.7 0.1h0m6.7-3.9h0m-6 5.1h0m-0.7 1.1h0m1.1 2.6h0m4.1-10h0m-0.5 3.9h0m-5.8-2.1h0m7.4-1.4h0m-4.9-0.2h0m-0.9 11.6h0m0.3-2.2h0m0.1-7.9h0m2.3 2.8h0m-4-1.5h0m-0.4 0.2h0m1.2 4.1h0m-0.6-5.7h0m1.4 2.7h0m4.6-4h0m1.5 2.1h0m-7 5.6h0m-1.1-3.1h0m-0.3-3.5h0m1.9-2.8h0m0.8 12.5h0m-0.9-10.2h0m1.4 0.7h0m2.5 0.1h0m1.3-0.8h0" stroke="#DB72FB" stroke-width="1.15" stroke-linecap="round" fill="none"/><path d="M181.5 86.8h0m-1.2 1.6h0m-0.1-0.2h0" stroke="#DB72FB" stroke-width="1.15" stroke-linecap="round" fill="none"/><path d="M205.2 80.6h0m-2.7-0.8h0m1.5 4.2h0m1.6 0.1h0m-1.1-0.4h0m0.9-4.5h0m-3.3-0.3h0m5.7 0.4h0m-8.7 0.3h0m10.6 6.7h0m-11.1-6.5h0m0.6-0.4h0m2.4 4.8h0m-0.5-2.2h0m8.3-1h0m-9.6 5.1h0m0.6-4.6h0m5.2 1.5h0m-6.4 3.7h0m11.2-4.1h0m-0.2 1.1h0m-3.8 1.2h0m-6.3-1.8h0m2.6-3h0m7.1 1.2h0m0.2-0.4h0m-9.7-1.7h0m3.2 3.6h0m0.7 0.1h0m6.3 0.6h0m-12.7-3.6h0m8.8 0.9h0m2.2 0.3h0m-0.5-0.1h0m-4.7-1.5h0m-2.3 4.2h0m8.2-1.7h0m-1.3-2.6h0m-7.4 4.7h0m-0.2-2.7h0m8.8 4.5h0m-6.6-5.8h0m-4.5 1.4h0m6.5 0h0m3.9-1.3h0m-6.2-0.9h0m0.7 0.4h0m-1.7 4.6h0m0-0.6h0m-2.9-4.1h0m10.7 2.3h0m-10.2 4.6h0m7.3-5.4h0m-5.5-1.7h0m-1.8 2.4h0m6.7 0h0m-1 0.9h0m-5.1 3.8h0m8.5-5.5h0m-7.1-1.8h0m9.1 5.8h0m-8.5-5.5h0m2.7 1.4h0m-2 0.9h0m3.4 0.2h0m1.9 3.3h0m-8.2 1.7h0m2.9-4.6h0m2.1 0.4h0m0.3 1.4h0m-3.8-1.5h0m2.8 1h0m0.2-0.7h0m4.8 3h0m-0.5-2.1h0m-8.6-2.5h0m5.3-1.4h0m-1.1 1.6h0m-3.7-0.7h0m0-1.5h0m2.6 2.4h0m-2.5 4.4h0m-2-3.9h0m1.4-0.4h0m10.3-1.6h0m-9 2.1h0m-1.2-0.9h0" stroke="#BF80FF" stroke-width="1.15" stroke-linecap="round" fill="none"/><path d="M208.8 84.2h0m-5.1-4.7h0m-1.1-0.1h0m2.6 2.5h0m-0.9-1.9h0m2.9 4.6h0m-2-3.6h0m-2.1-1.7h0m4.3 0.6h0m-1.6 1.5h0m2.8 2.9h0m-2-2.8h0m-3.3 0.8h0m4.9 1h0" stroke="#E28900" stroke-width="1.15" stroke-linecap="round" fill="none"/><path d="M199.7 88.6h0m0.3 0h0m0.4 4.1h0m-1.2-6.3h0m0.9 5h0m1.3-5.6h0m0.1 5h0m-1.9-3.8h0m1 1.7h0m0 0.4h0m0.7 2h0m-1.2-3.9h0m0.2 3.1h0m0.2 0.2h0m0.4-3.5h0" stroke="#BF80FF" stroke-width="1.15" stroke-linecap="round" fill="none"/><path d="M172 105.1L172.7 106.6L175.5 106.4L179.1 104.6L178.8 103.9L174.9 105.1Z" fill="#FF66AA"/><path d="M174.4 106.1h0m0.1-0.1h0m-0.7 0.4h0m2.9-1h0m2.1-0.7h0m-1.9 1.2h0m1.6-1.1h0m0 0.3h0m-5.3 0.9h0m2.6-0.1h0m1.2-1.8h0m-4.3 1h0m0.3 0.9h0m4.1-1.2h0" stroke="#FF66AA" stroke-width="1.15" stroke-linecap="round" fill="none"/><path d="M177.3 104.1h0" stroke="#fff" stroke-width="0.85" stroke-linecap="round" fill="none"/><path d="M175.9 107.6h0" stroke="#00BD63" stroke-width="1.15" stroke-linecap="round" fill="none"/><path d="M151.5 91.1h0m0.8 0.4h0" stroke="#00BD63" stroke-width="1.15" stroke-linecap="round" fill="none"/><path d="M160.1 75.7h0" stroke="#00BD63" stroke-width="1.15" stroke-linecap="round" fill="none"/><path d="M183 77.1h0" stroke="#00BD63" stroke-width="1.15" stroke-linecap="round" fill="none"/><path d="M203 83.1h0m-1.2-0.2h0" stroke="#00BD63" stroke-width="1.15" stroke-linecap="round" fill="none"/><path d="M198 66.7h0" stroke="#00BD63" stroke-width="1.15" stroke-linecap="round" fill="none"/></g>
<rect x="38.8" y="17.3" width="209.5" height="209.5" fill="none" stroke="#333" stroke-width="0.7"/>
<text class="tk" x="50.5" y="235.4" text-anchor="middle">−10</text>
<text class="tk" x="89.1" y="235.4" text-anchor="middle">−5</text>
<text class="tk" x="127.8" y="235.4" text-anchor="middle">0</text>
<text class="tk" x="166.4" y="235.4" text-anchor="middle">5</text>
<text class="tk" x="205.1" y="235.4" text-anchor="middle">10</text>
<text class="tk" x="243.8" y="235.4" text-anchor="middle">15</text>
<text class="tk" x="36.1" y="222.6" text-anchor="end">−15</text>
<text class="tk" x="36.1" y="189.2" text-anchor="end">−10</text>
<text class="tk" x="36.1" y="155.8" text-anchor="end">−5</text>
<text class="tk" x="36.1" y="122.4" text-anchor="end">0</text>
<text class="tk" x="36.1" y="89.0" text-anchor="end">5</text>
<text class="tk" x="36.1" y="55.6" text-anchor="end">10</text>
<text class="tk" x="36.1" y="22.2" text-anchor="end">15</text>
<path d="M50.5 226.8v1.7M89.1 226.8v1.7M127.8 226.8v1.7M166.4 226.8v1.7M205.1 226.8v1.7M243.8 226.8v1.7M38.8 220.0h-1.7M38.8 186.6h-1.7M38.8 153.2h-1.7M38.8 119.8h-1.7M38.8 86.4h-1.7M38.8 53.0h-1.7M38.8 19.6h-1.7" stroke="#333" stroke-width="0.7" fill="none"/>
<text class="ax" x="143.6" y="244.3" text-anchor="middle">UMAP_1</text>
<text class="ax" transform="translate(20.3 122.1) rotate(-90)" text-anchor="middle">UMAP_2</text>
<rect x="53.6" y="27.5" width="10.2" height="7.8" rx="1" fill="#fff" stroke="#bdbdbd" stroke-width="0.6"/>
<text class="lb" x="58.7" y="33.5">22</text>
<rect x="73.5" y="31.9" width="10.2" height="7.8" rx="1" fill="#fff" stroke="#bdbdbd" stroke-width="0.6"/>
<text class="lb" x="78.6" y="37.9">18</text>
<rect x="110.1" y="35.6" width="10.2" height="7.8" rx="1" fill="#fff" stroke="#bdbdbd" stroke-width="0.6"/>
<text class="lb" x="115.2" y="41.6">24</text>
<rect x="80.8" y="49.3" width="10.2" height="7.8" rx="1" fill="#fff" stroke="#bdbdbd" stroke-width="0.6"/>
<text class="lb" x="85.9" y="55.4">17</text>
<rect x="103.5" y="49.3" width="10.2" height="7.8" rx="1" fill="#fff" stroke="#bdbdbd" stroke-width="0.6"/>
<text class="lb" x="108.6" y="55.4">14</text>
<rect x="73.0" y="76.4" width="10.2" height="7.8" rx="1" fill="#fff" stroke="#bdbdbd" stroke-width="0.6"/>
<text class="lb" x="78.1" y="82.5">11</text>
<rect x="93.5" y="93.1" width="10.2" height="7.8" rx="1" fill="#fff" stroke="#bdbdbd" stroke-width="0.6"/>
<text class="lb" x="98.6" y="99.2">16</text>
<rect x="117.3" y="93.1" width="10.2" height="7.8" rx="1" fill="#fff" stroke="#bdbdbd" stroke-width="0.6"/>
<text class="lb" x="122.4" y="99.2">26</text>
<rect x="58.8" y="104.4" width="10.2" height="7.8" rx="1" fill="#fff" stroke="#bdbdbd" stroke-width="0.6"/>
<text class="lb" x="63.9" y="110.5">13</text>
<rect x="105.9" y="112.8" width="10.2" height="7.8" rx="1" fill="#fff" stroke="#bdbdbd" stroke-width="0.6"/>
<text class="lb" x="111.0" y="118.9">12</text>
<rect x="69.5" y="121.6" width="6.9" height="7.8" rx="1" fill="#fff" stroke="#bdbdbd" stroke-width="0.6"/>
<text class="lb" x="73.0" y="127.7">5</text>
<rect x="107.5" y="143.3" width="6.9" height="7.8" rx="1" fill="#fff" stroke="#bdbdbd" stroke-width="0.6"/>
<text class="lb" x="111.0" y="149.3">6</text>
<rect x="61.1" y="149.9" width="10.2" height="7.8" rx="1" fill="#fff" stroke="#bdbdbd" stroke-width="0.6"/>
<text class="lb" x="66.2" y="156.0">15</text>
<rect x="64.7" y="184.3" width="10.2" height="7.8" rx="1" fill="#fff" stroke="#bdbdbd" stroke-width="0.6"/>
<text class="lb" x="69.8" y="190.3">10</text>
<rect x="85.0" y="209.9" width="6.9" height="7.8" rx="1" fill="#fff" stroke="#bdbdbd" stroke-width="0.6"/>
<text class="lb" x="88.5" y="216.0">0</text>
<rect x="195.2" y="54.9" width="6.9" height="7.8" rx="1" fill="#fff" stroke="#bdbdbd" stroke-width="0.6"/>
<text class="lb" x="198.7" y="60.9">4</text>
<rect x="173.2" y="62.2" width="6.9" height="7.8" rx="1" fill="#fff" stroke="#bdbdbd" stroke-width="0.6"/>
<text class="lb" x="176.7" y="68.2">1</text>
<rect x="206.2" y="70.6" width="10.2" height="7.8" rx="1" fill="#fff" stroke="#bdbdbd" stroke-width="0.6"/>
<text class="lb" x="211.3" y="76.7">20</text>
<rect x="187.7" y="73.5" width="6.9" height="7.8" rx="1" fill="#fff" stroke="#bdbdbd" stroke-width="0.6"/>
<text class="lb" x="191.1" y="79.6">2</text>
<rect x="158.2" y="80.3" width="6.9" height="7.8" rx="1" fill="#fff" stroke="#bdbdbd" stroke-width="0.6"/>
<text class="lb" x="161.7" y="86.4">3</text>
<rect x="159.6" y="93.8" width="10.2" height="7.8" rx="1" fill="#fff" stroke="#bdbdbd" stroke-width="0.6"/>
<text class="lb" x="164.7" y="99.9">21</text>
<rect x="174.7" y="95.6" width="10.2" height="7.8" rx="1" fill="#fff" stroke="#bdbdbd" stroke-width="0.6"/>
<text class="lb" x="179.8" y="101.7">25</text>
<rect x="191.5" y="120.3" width="6.9" height="7.8" rx="1" fill="#fff" stroke="#bdbdbd" stroke-width="0.6"/>
<text class="lb" x="194.9" y="126.4">9</text>
<rect x="157.2" y="153.0" width="6.9" height="7.8" rx="1" fill="#fff" stroke="#bdbdbd" stroke-width="0.6"/>
<text class="lb" x="160.6" y="159.1">7</text>
<rect x="197.0" y="174.6" width="10.2" height="7.8" rx="1" fill="#fff" stroke="#bdbdbd" stroke-width="0.6"/>
<text class="lb" x="202.1" y="180.7">23</text>
<rect x="236.1" y="109.2" width="10.2" height="7.8" rx="1" fill="#fff" stroke="#bdbdbd" stroke-width="0.6"/>
<text class="lb" x="241.2" y="115.2">19</text>
<rect x="126.9" y="129.5" width="6.9" height="7.8" rx="1" fill="#fff" stroke="#bdbdbd" stroke-width="0.6"/>
<text class="lb" x="130.3" y="135.6">8</text>
<text class="lt" x="257.4" y="57.6">Cluster</text>
<circle cx="261.8" cy="65.8" r="2.85" fill="#F8766D"/>
<text class="sm" x="269.9" y="67.4" font-size="4.4">0</text>
<circle cx="261.8" cy="75.1" r="2.85" fill="#EE8045"/>
<text class="sm" x="269.9" y="76.7" font-size="4.4">1</text>
<circle cx="261.8" cy="84.5" r="2.85" fill="#E28900"/>
<text class="sm" x="269.9" y="86.1" font-size="4.4">2</text>
<circle cx="261.8" cy="93.8" r="2.85" fill="#D39200"/>
<text class="sm" x="269.9" y="95.4" font-size="4.4">3</text>
<circle cx="261.8" cy="103.2" r="2.85" fill="#C19B00"/>
<text class="sm" x="269.9" y="104.8" font-size="4.4">4</text>
<circle cx="261.8" cy="112.5" r="2.85" fill="#ACA300"/>
<text class="sm" x="269.9" y="114.1" font-size="4.4">5</text>
<circle cx="261.8" cy="121.9" r="2.85" fill="#93AA00"/>
<text class="sm" x="269.9" y="123.5" font-size="4.4">6</text>
<circle cx="261.8" cy="131.2" r="2.85" fill="#73B000"/>
<text class="sm" x="269.9" y="132.8" font-size="4.4">7</text>
<circle cx="261.8" cy="140.6" r="2.85" fill="#41B500"/>
<text class="sm" x="269.9" y="142.2" font-size="4.4">8</text>
<circle cx="261.8" cy="149.9" r="2.85" fill="#00BA38"/>
<text class="sm" x="269.9" y="151.5" font-size="4.4">9</text>
<circle cx="261.8" cy="159.3" r="2.85" fill="#00BD63"/>
<text class="sm" x="269.9" y="160.9" font-size="4.4">10</text>
<circle cx="261.8" cy="168.6" r="2.85" fill="#00C083"/>
<text class="sm" x="269.9" y="170.2" font-size="4.4">11</text>
<circle cx="261.8" cy="178.0" r="2.85" fill="#00C19F"/>
<text class="sm" x="269.9" y="179.6" font-size="4.4">12</text>
<circle cx="261.8" cy="187.3" r="2.85" fill="#00C0B9"/>
<text class="sm" x="269.9" y="188.9" font-size="4.4">13</text>
<circle cx="282.6" cy="65.8" r="2.85" fill="#00BECF"/>
<text class="sm" x="290.7" y="67.4" font-size="4.4">14</text>
<circle cx="282.6" cy="75.1" r="2.85" fill="#00B9E3"/>
<text class="sm" x="290.7" y="76.7" font-size="4.4">15</text>
<circle cx="282.6" cy="84.5" r="2.85" fill="#00B2F4"/>
<text class="sm" x="290.7" y="86.1" font-size="4.4">16</text>
<circle cx="282.6" cy="93.8" r="2.85" fill="#00A8FF"/>
<text class="sm" x="290.7" y="95.4" font-size="4.4">17</text>
<circle cx="282.6" cy="103.2" r="2.85" fill="#619CFF"/>
<text class="sm" x="290.7" y="104.8" font-size="4.4">18</text>
<circle cx="282.6" cy="112.5" r="2.85" fill="#998EFF"/>
<text class="sm" x="290.7" y="114.1" font-size="4.4">19</text>
<circle cx="282.6" cy="121.9" r="2.85" fill="#BF80FF"/>
<text class="sm" x="290.7" y="123.5" font-size="4.4">20</text>
<circle cx="282.6" cy="131.2" r="2.85" fill="#DB72FB"/>
<text class="sm" x="290.7" y="132.8" font-size="4.4">21</text>
<circle cx="282.6" cy="140.6" r="2.85" fill="#EE67EC"/>
<text class="sm" x="290.7" y="142.2" font-size="4.4">22</text>
<circle cx="282.6" cy="149.9" r="2.85" fill="#FA62DA"/>
<text class="sm" x="290.7" y="151.5" font-size="4.4">23</text>
<circle cx="282.6" cy="159.3" r="2.85" fill="#FF61C3"/>
<text class="sm" x="290.7" y="160.9" font-size="4.4">24</text>
<circle cx="282.6" cy="168.6" r="2.85" fill="#FF66AA"/>
<text class="sm" x="290.7" y="170.2" font-size="4.4">25</text>
<circle cx="282.6" cy="178.0" r="2.85" fill="#FE6D8D"/>
<text class="sm" x="290.7" y="179.6" font-size="4.4">26</text>
<text class="se" x="314.6" y="12.9" font-size="16">B</text>
<clipPath id="cpB"><rect x="354.0" y="21.0" width="207.5" height="207.2"/></clipPath>
<g clip-path="url(#cpB)"><path d="M363.6 40.7L363.7 42.9L365.9 43.7L368.9 42.5L369.5 40.2L366.8 39.4Z" fill="#C77CFF"/><path d="M366.3 40.7h0m2.3 1.4h0m-2.7-1.5h0m-0.9 0.2h0m4.2-1h0m-0.7 1.5h0m-1.9 0.1h0m-1.4 0.6h0m-0.6 0.3h0m0 0.5h0m1.7-2.9h0m0 1.3h0m-0.4-1.4h0m3.9-0.7h0m-4.7 2.4h0m-0.4-1.3h0m2.9 3.2h0m-4.7-0.5h0m4.4 0.2h0m-1.1 0.4h0m0.7-1.1h0m-0.5-2.6h0m-0.3 0h0m-2.1 3h0m1.6-0.5h0m3.1-1.5h0m-4.5-0.8h0m2.4 1.2h0m2-0.1h0m-1.6 0.4h0m0.8 0.7h0m-0.8-0.6h0m-1.1-2.4h0" stroke="#C77CFF" stroke-width="1.15" stroke-linecap="round" fill="none"/><path d="M365.4 42.1h0m0.9-2.2h0" stroke="#fff" stroke-width="0.85" stroke-linecap="round" fill="none"/><path d="M370.2 38.9h0m3.4-0.9h0" stroke="#C77CFF" stroke-width="1.15" stroke-linecap="round" fill="none"/><path d="M379.2 33.5L380 34.9L383.4 33.2L387.6 31.9L391.3 32.6L394.1 34.5L394.8 33L392 30.3L387.6 30L383.4 31.3Z" fill="#C77CFF"/><path d="M379.6 32.4h0m10.3 0h0m4.8 3h0m-6.5-3.8h0m4.2 2.3h0m-3-3.2h0m-7.2 4.4h0m6-5.3h0m-8.9 4.7h0m13.7-1.5h0m-9.6-0.5h0m-3.1 1.8h0m9.4-5.1h0m1.9 3.8h0m-8.1-0.9h0m-2.3 0.4h0m10.6 0.6h0m2.2-0.4h0m-4.1-2.3h0m-1.5 0.3h0m-8.6 4.4h0m10.1-4.9h0m-0.6 1.8h0m3.3 1.4h0m-8.7 0h0m10.4-0.1h0m-0.6 0h0m-11.7 1.1h0m-3.5-0.8h0m3.9-2.1h0m-0.4-0.4h0m4.6 0.8h0m-6.4 0.7h0m5.1-1.3h0m-4.3 2.7h0m8.6-2.7h0m-4.2 0.9h0m-3-0.6h0m-2.6 1.6h0m3-0.7h0m8.5-0.7h0m3-0.3h0m-10.9 1.7h0m0.2-1.7h0m9.6 1.7h0m-7-1.7h0m8.2 0.4h0m-3.6 0.9h0m-11.6 1.1h0m11.5-3.8h0m2.1 1.1h0m-3.7 1.4h0m-4.7-2.1h0m-2.9 1.7h0m5 0.6h0m4.8-0.5h0m3.4 0.5h0m-4.9-3.4h0m4 4.8h0m-1-3h0m-0.9-2.1h0m-2.4 1.8h0m-8 2.4h0m9.6-1.9h0m-1.2-0.4h0m-2.9 2.3h0m-1.4-0.3h0m1.8-1.1h0m-2.3-0.6h0m2.6-0.2h0m2.8-1.3h0m-6 2h0m10.7 1.9h0m-10.2-2.8h0m6.8 0h0m-10.9 2h0m11.7 0.6h0m2.3-0.6h0m-14.2 1h0m0.1-0.9h0m0.4-1.1h0m7.4 0.8h0m-1.8-3.2h0m4.8 2.5h0m-10.2 1.6h0m9.7-4.1h0m-0.6 2.1h0m3.2 2.9h0m-11.2-1.8h0m4.5-3h0m-6.8 4.9h0m12.3-0.9h0m-6.1-4.9h0m-4.4 4.6h0m5.6-2.6h0m1.9-0.6h0m-1.3 1.4h0m-7.2 1.8h0m-1.3 0h0m14.6-0.4h0m0 1h0m-12.2-3.1h0m11.1 2.8h0m-14-0.4h0m4.7-1.6h0m-4 2h0m2.6-1.7h0m5.2-2.6h0m3.5 0.8h0m1.7 0.5h0m-1.7 1.5h0m1.2-1.5h0m-11.3 0.2h0m-0.5 3.1h0m8.1-3.8h0m4.8 3.2h0m-5.9-2h0m-7.6 3.3h0m12.4-4.7h0" stroke="#C77CFF" stroke-width="1.15" stroke-linecap="round" fill="none"/><path d="M379.7 34.9h0m-0.5-1.5h0m6.8-2.1h0m4.6-0.3h0" stroke="#fff" stroke-width="0.85" stroke-linecap="round" fill="none"/><path d="M387.7 34.3h0m-0.5 0.3h0m-0.3 1.3h0" stroke="#C77CFF" stroke-width="1.15" stroke-linecap="round" fill="none"/><path d="M419.3 51.6L421.8 52.2L425.7 49.7L426.3 46.8L421.5 48.2Z" fill="#00A9FF"/><path d="M424.4 50.2h0m1.7-2.6h0m-4.3 2.4h0m-0.7 2.1h0m1.3-0.8h0m0.3-1.3h0m1.5-1h0m-2.2-1.1h0m2.4-0.3h0m1-0.1h0m-3.1 4.3h0m-1.8 0.6h0m6.1-5.4h0m-3.7 2.9h0m-0.9-0.1h0m-0.4-2.6h0m0.5 3.1h0m4.1-2h0m-6.2 4.1h0m1-4.5h0m2.3 0.5h0m0.1 0h0m-3.2 1.5h0m6.3-3.6h0m-2.5 3.1h0m-0.8-1.8h0m1.1 2.8h0m-2.4-2.1h0m-1 2.9h0m-0.9-1h0m5.6-3.1h0m-3.5 3.1h0m-0.1-1.3h0m-0.4 0.1h0m3.7 0.7h0m-0.9 0.1h0m-3.1 1.6h0m1.7 0.1h0m3-3.9h0m-3.2 1.1h0m-0.9-0.1h0m0.3 2.1h0m-2.4-0.8h0" stroke="#00A9FF" stroke-width="1.15" stroke-linecap="round" fill="none"/><path d="M425.7 49.5h0m-2.9-1.2h0" stroke="#fff" stroke-width="0.85" stroke-linecap="round" fill="none"/><path d="M389.2 63.9L389.7 65.7L391.9 66.5L396.9 65.7L401.1 63.5L401.6 62L399.9 60.9L396.6 60.2L392.8 60.5L390.1 61.8Z" fill="#F8766D"/><path d="M395.7 62.6h0m-5.8 1.8h0m9.1-0.7h0m-10.3 0.4h0m4.8-2.1h0m-2.8 2.6h0m9.4-2.6h0m-5.2 1.9h0m-4.1-0.5h0m4.4 0h0m-0.8-0.1h0m3.5-0.7h0m3.6-0.1h0m-10.7 1.6h0m3.9 1.6h0m0.5-3.6h0m-4.9 1.9h0m5.2-4h0m-0.6 0.8h0m-1.8 1.9h0m3.8 0.5h0m-3.5-1.3h0m7.2 0.7h0m-9.9-0.7h0m1.2 3.6h0m6.1-2.9h0m-5.8 2.5h0m8.2-1.2h0m1-0.8h0m-9.9-0.3h0m3 2.7h0m4.3-3.7h0m-9 4.1h0m9.4-1.1h0m-4.2-4.4h0m-4.4 2.2h0m7.9 2.4h0m-8.5 1.5h0m4.6-4.7h0m1.4-1.9h0m-0.5 5.7h0m5.5-2.2h0m-9.1 2.5h0m1.7-2.6h0m-0.5-0.8h0m7.7 0.9h0m-10.1 1.2h0m6.8-1.5h0m1.1-1.5h0m-9.8 4h0m7.3 0.7h0m-6.7-1.8h0m6.1-3.7h0m3.1 4.2h0m-2.1-0.1h0m-6.8 0.2h0m2.1 0.3h0m9-4.4h0m-11.1 4h0m6-1.3h0m6.3-1.3h0m-11-0.5h0m3.6 1.2h0m1.9-0.5h0m1.5 0.2h0m0.6 0.9h0m-5.3 0.8h0m4.7-4h0m1 2h0m-7.9 3.6h0m4.1-6.4h0m0.4 6.2h0m1-0.1h0m1.9-0.5h0m-4.6-2.3h0m5-1.8h0m-4.3 1.7h0m-0.9-2.2h0m-0.5 1.4h0m1.7-0.1h0m-2.7-0.2h0m-1.4 0.4h0m2-1.8h0m0.5 3.6h0m3.9-0.7h0m3.3-2.3h0m-6.4-0.8h0m2.2-0.3h0m-2 2.1h0m4.3 0.5h0m-8.3 0.8h0m7.3 2h0m1.9-3.5h0m-2.1 2.7h0m3.2-3.3h0m-9 0.9h0m3.9-1.1h0m1.3-0.1h0m-5.6 3.3h0m-1.8-1.2h0m8.5-2.1h0m-5.3 4.6h0m5.1-2.4h0m-8.1 0.1h0m8 0.4h0m-1.6 1.8h0m-0.8-0.1h0m3.7-2.7h0m-4.8-1.8h0m4.5-0.5h0m-5.2 0.9h0m-4.5 0.6h0m7.5 3h0m2.5-2.8h0m-7.3 0.4h0m6.5-0.3h0m-4 0.2h0" stroke="#F8766D" stroke-width="1.15" stroke-linecap="round" fill="none"/><path d="M394.4 61.7h0m0 0.9h0m-2.4 1.5h0m-2.3 1.9h0m7.9-3.4h0m-1 3.6h0" stroke="#fff" stroke-width="0.85" stroke-linecap="round" fill="none"/><path d="M404.8 61.7h0m1.9-2.2h0m-1.9 1.2h0m5-0.7h0m0.7-0.4h0m-5.9 0.7h0m-2 1.7h0m4.5-2.2h0m-3.4 2.5h0m1.2-1.4h0m4.2-0.4h0m-6.6 1.9h0m6.5-1.6h0m-6.2 0.6h0m3.7-0.4h0m-2.7 0h0m5.5-2h0m-4.6 2.4h0m-0.6 0h0m0.2 0.5h0" stroke="#F8766D" stroke-width="1.15" stroke-linecap="round" fill="none"/><path d="M405.8 63.1h0m-1.1 1.6h0m-2.8-1.1h0" stroke="#F8766D" stroke-width="1.15" stroke-linecap="round" fill="none"/><path d="M415 56.1L413.4 59.3L412.5 63.6L413 69.5L414.4 71.8L416.5 70.1L418.7 66.7L420.9 64L426.3 62.7L432.2 62.4L432.3 61.9L424.6 60.9L419.3 60.5L419 60.3L418.1 57.6L416.7 55.2Z" fill="#FF61CC"/><path d="M417 69.6h0m0.7-4.3h0m12.9-4.2h0m-5.3-0.1h0m-5.5 3.1h0m-5.5 4.3h0m0.9-0.9h0m9-3.9h0m-9.4-0.1h0m2.1-5.2h0m14.6 4.4h0m-15.2-6.9h0m-1 10.5h0m-2 1.7h0m13.7-6.4h0m-1.7 0h0m0.1 0.5h0m3.9-0.7h0m-11.5-2h0m-0.2 0.1h0m11.2 1.5h0m-13.4-2.9h0m2.8 7.4h0m-2.4-3h0m-2-4h0m-0.2 8.9h0m4.3-7.9h0m9.6 2.7h0m-13.6 5.6h0m6.7-2.6h0m11.3-2.7h0m-16.1-3.1h0m-2.8 9.6h0m2.7-10.6h0m1.1 0.7h0m-2.4 5.1h0m0.9-2.4h0m1.2-4.8h0m-3.8 8.9h0m7.1-4.9h0m-3-3h0m-1.6 11.8h0m3.5-4.2h0m-5.9 1.9h0m6.8-10.3h0m-4 2.6h0m5.6 4.2h0m-7.3-0.7h0m-0.4 7.3h0m2-1.5h0m12.9-6.8h0m-12.3 8.9h0m-1.6-14.4h0m2.5 1.8h0m-2.2 2h0m-0.7 1.5h0m11.3-0.6h0m-8.3 3.9h0m6.3-3.9h0m0.8 1.2h0m-11 4h0m15.5-5.2h0m-10.7 1.7h0m-5.4-1h0m13.7-0.5h0m-12-3.1h0m4.7 4.3h0m-6.2 3.3h0m1.7 1.7h0m8.4-4.9h0m-6.1-4.6h0m-2.8 4.1h0m1.5 0.1h0m12.5-0.7h0m-13.8 10.2h0m7.9-9.7h0m-1.2-2.1h0m-4.7 1.1h0m3.1-0.7h0m-1.6-4.1h0m0 0.1h0m9.4 5.8h0m-6.6-0.2h0m-6.2 1.8h0m0.4 7.7h0m8.9-11.3h0m-8.3-3.3h0m4.3 3.9h0m-5.6 7.7h0m4.7-2.1h0m-3.7-12.1h0m7.5 7.8h0m9.3-0.6h0m-15.5-2.5h0m1.8 5.8h0m-2.2-2.8h0m0.6 7.9h0m0-3.2h0m-2.1 4.1h0m4.9-6.1h0m5.3-2.6h0m-12.2 3.7h0m3.5-4.8h0m11.9 1.7h0m-12.2-1.2h0m15.4 1.4h0m-17.5-5.2h0m16.7 3.9h0m-12.6-5.7h0m0.5 10.6h0m-5.2-7.4h0m5.1-1.1h0m3.7 6.1h0m-5.1-5.7h0m5.6 1.1h0m-4.9 6.3h0m8.4-2.8h0m-7.1 0.6h0m-4.2-6.1h0m8.6 2.8h0m-8.2 9.7h0m1.4-8.8h0m3.1 2.9h0m-2.9-7.9h0m-1.9 10.1h0m5-6.2h0m-5.5 5h0m-0.3-3.4h0m14 0.7h0m-8.1 2.2h0m3.7-1.2h0m-9.3-2.2h0m14 0.5h0m-11.1-1.8h0m2.5 4.6h0m10.4-3h0m-16.5 8.2h0m14.5-8.6h0m-8.9 5.4h0m6.8-5h0m-12.6 1.1h0m4.1 2.6h0m-0.3-8h0m1.9 8.1h0m10-3.9h0m-10.7-0.3h0m-4.3 7.9h0m3-5.1h0m-3.8 1.8h0m2.1 5.8h0m0.6-14.6h0m17.1 5.6h0m-13.9-4.2h0m7 3.3h0m-9.8-5.9h0m8.8 5.7h0m-11.7-3.6h0m6 3.4h0m-7.3 1.9h0m6-4h0m1.8 5.8h0m-2.7 0.1h0m-1.8-10.1h0m1.1 15.8h0m0.5-10.8h0m0.3-2.6h0m-2.3 11.6h0m2.9-1.8h0m-4.3-7.4h0m13.2 2h0m-8.7 2.2h0m-2.6 6.3h0m3.5-6.3h0m12.6-1.7h0m-5.3-0.8h0m-10.4 4.6h0m3-4.4h0m-0.5 5.4h0m7.3-4.9h0m-4-0.7h0m-8.5 1.4h0m4.1 5.5h0m-1.2-3.3h0m1.6-3.4h0m1.5 0.4h0m-2.7-1.8h0m1.3 1.8h0m-0.3 1.2h0m-3.7 2.9h0m1.6 2h0m6.8-4.1h0m-7.6 3.5h0m-0.2-5.8h0m15.4-0.7h0m-14.4-6.6h0m1 14.9h0" stroke="#FF61CC" stroke-width="1.15" stroke-linecap="round" fill="none"/><path d="M412.9 66.3h0m8.9-2.1h0m-7.8 7h0m9-9.8h0" stroke="#fff" stroke-width="0.85" stroke-linecap="round" fill="none"/><path d="M385.7 78.5L384.4 83L378 87.6L380.1 89.3L382.7 93.7L386.1 97.9L387.7 99.1L388.3 94.6L391.5 92.7L393 89.6L391.5 87.4L387.1 84.6L386.5 81Z" fill="#FF61CC"/><path d="M392.4 92.4h0m-9-2.6h0m0.2 3.7h0m-0.2-8.1h0m1.3 5.6h0m1.9-10.3h0m0.9 4.7h0m2.6 3.3h0m-4.4 8.9h0m0.8 2h0m3.6-9.9h0m-3.2-1h0m-4.9-3h0m0.2-2.2h0m4.7-0.8h0m3 7.3h0m-4.6-5.1h0m0.4 13.6h0m0.3-13.6h0m-5.9 3.4h0m6.6 4.9h0m-2.7-7.3h0m-0.9 8.4h0m8-3.7h0m-2.7 9.3h0m-8.7-10.1h0m11.8 1.1h0m-9.2-3.8h0m8 1.5h0m-4.9 1.4h0m-4.6-2.7h0m3.6 4.7h0m3.4-0.5h0m-1.1-9.6h0m-3.1 7.6h0m2.6-7.6h0m4.4 6.4h0m-8.2 0.3h0m2.4 4h0m4.3-0.8h0m-7.7-1.7h0m9.1-0.2h0m-5.9-6.5h0m5.6 4h0m-8.3 1.7h0m10 1h0m-5.1-7.5h0m1.5 11.2h0m0.1-7.1h0m-1.6 6.4h0m-6.8-7.2h0m-1.4 2.5h0m5.5-5.5h0m-1.4 4.8h0m-0.5 1.1h0m4.2-5.9h0m-2.4 12h0m-1.1-11.1h0m-3.2 5.7h0m1.2-1.3h0m3.8 1.3h0m3.1 0.8h0m-7.6-1.4h0m5.5-1.4h0m3-1.5h0m1.6 3.5h0m-0.7 1.7h0m-5.3 3.1h0m-2.6-1.1h0m4.5-10.4h0m0.6 10.4h0m-0.4-0.9h0m5.4-4.5h0m-1.9 3.1h0m-11.1-2.9h0m7.7-2h0m1.2 4.3h0m-4.6 0.3h0m-0.6 2.4h0m2.4 0.5h0m-3.8-3.6h0m4.3-7.3h0m1.7 0.1h0m-1.7 4.2h0m-3.7 5.8h0m2.9-10.2h0m2.4 7.8h0m-1.5-9.4h0m-3.4 6.4h0m0.4-3h0m-0.6 5h0m4.8-2.3h0m-0.8-7.5h0m1.8 12.5h0m-4.3-5.2h0m7.3 1.5h0m-5.5 1.4h0m-1.3 4.6h0m3.7-9.3h0m3.9 5.7h0m-6.5-0.3h0m4.2 2.3h0m-3.1-11.1h0m-3.9 4.1h0m3.3-5.9h0m1.3 2.1h0m0.3 8.7h0m0.6 6.9h0m-5.9-8.7h0m-0.7-0.9h0m3.1-0.1h0m7.8-0.1h0m-0.4 1h0m-3.3-0.7h0m-10.7-0.3h0m5.7-1.7h0m2.3 10.3h0m-2.6-7.7h0m5.8 2.1h0m0-2.5h0m-4.5-4.3h0m0.7 6.3h0m-5.5-1.8h0m7.9-3.3h0m-4.1 9.5h0m4.2-9.1h0m-5.7-0.4h0m4.6-2.4h0m-2.3 12.4h0m2.8-10h0m-3 8h0m1.9-0.3h0m5.6-6h0m-8.7 3.1h0m-2.3-2.4h0m8.4 0.2h0m0.2-0.4h0m3.4 4.8h0m-4.5 4.8h0m-1.9-0.6h0m-1.4-1.5h0m2.4 2.2h0m-3.8-13h0m5.6 2h0m-3.4-4.3h0m-4 7.7h0m1.3-3.4h0m-3.3-0.5h0m5.7 10.6h0m1.2-16.1h0m-4.1 8h0m-1.6 4.1h0m5.1 2.5h0m2.2 1.8h0m-2.4 1.6h0m-0.8-16h0m-2.4 8.6h0m2.3-3.3h0m-2 4.2h0m-1.2-4.8h0m-0.8-0.7h0m7.5 11.1h0m-4.5-13.4h0m2.1 10.3h0m-0.4-9.9h0m1.9 2.6h0m-0.6-8h0m-8.1 8.6h0m8.4-3.1h0m-5.2 8.2h0m4.8-8.7h0m-2.8-0.6h0m1.9-0.6h0m0-3.4h0m0.5 2.8h0m-1.2 12.2h0m1.6-8.5h0m-0.2 9.4h0m2.3-5.3h0m-7.6 3.3h0m6.3-3.6h0m-5.1 0.3h0m-1 0.8h0m7.2-5.3h0m2.5 2.5h0m-5.4-1.3h0m-0.7-3.8h0m1.4 16.2h0m-1.4-10.2h0m1-3.9h0m1.1-4.7h0m0 7.5h0m-5.7 4.3h0m6-9.7h0m-4.7 4.5h0m0.9-1.5h0m-1.8 6.5h0m0.5-0.9h0m0.7 0.7h0m5.7-5.9h0m4.8 4.5h0m-13.7-3.2h0m7.4 11.2h0m-1.5-14.2h0m-4.7 4h0m6.8 7.7h0m-0.4-6.2h0" stroke="#FF61CC" stroke-width="1.15" stroke-linecap="round" fill="none"/><path d="M389.3 89.6h0m-1.1 9.8h0m-0.1-2.9h0m-7.2-6.3h0m2-6.4h0m-0.3 8h0m5.6 6.2h0m-8.2-8.3h0m-1.8-2.5h0m5.8-3.4h0m1.6 2.4h0m6.3 4.2h0m-7.3-3.7h0" stroke="#fff" stroke-width="0.85" stroke-linecap="round" fill="none"/><path d="M388.4 71.5h0m0.9-0.2h0" stroke="#00BE67" stroke-width="1.15" stroke-linecap="round" fill="none"/><path d="M399.1 99.6h0m8 7.9h0m-9-6.9h0m3.9 2.5h0m2.8 2.2h0m-0.7-1.8h0m-4.5-1.5h0m8.8 5.6h0m-0.7 0.4h0m-14.3-13.7h0m12.9 11.2h0m-12.7-11.4h0m-1.9-0.4h0m2.5 1.8h0m1.6 1.2h0m-1.2-1.8h0m-0.3 0.3h0m-1.5-0.3h0m10.7 10.8h0m-5.7-8.4h0m3.5 3.1h0m-4.2-2.9h0m0.4 2.3h0m0.7-0.4h0m5.1 4.7h0m3.9 0.9h0m-9.7-7.8h0m9.1 9.5h0m-13.1-9.9h0m1.1-1.7h0m12.1 13h0m-13.1-12.1h0m1.9-0.7h0m-0.9-1.1h0m-0.7 1.8h0m13.3 9.8h0m-13.9-11.5h0m5.2 2.3h0m-0.8 3h0m3 0.8h0m-5.7-5.1h0m10.3 11.8h0m-10-7.9h0m1.6-2.5h0m10.9 9.2h0m-7.2-4.8h0m2.4 1h0m-5.1-1.7h0m11.7 8.7h0m-2.5-3.9h0m-14.8-11.3h0m0.6 1h0m12.5 12h0m-6.4-5.7h0m6.7 6.4h0m-9.1-9.7h0m8.7 8.6h0m4.4 1.6h0m-16.9-13.9h0m8.1 9.2h0m6.1 3.3h0m-2.5-3.3h0m-1.3-1.5h0m5.4 6.8h0m-4.5-2.9h0m-8.3-8.8h0m6.9 4.8h0m3.5 5.3h0m-5-3.8h0m3.3 0.2h0m0.6 1.5h0m-9-8h0m4.3 3.9h0m-6.6-5h0m10 7.2h0m1.4 2.2h0m-4-1.6h0m0.2-2.5h0m5.3 3.8h0m-2.8-1.5h0m-5.8-6.5h0m-5.6-2.1h0m4 1.7h0m2.6 5.1h0m-0.1-1.8h0m8.1 6.8h0m-4.9-3.2h0m3.9 1.7h0m-12.2-8.5h0m10.5 7.9h0m-0.4 0.1h0m-5.4-5.2h0m3.4 1.4h0m-5.5-2.3h0m9.4 5.8h0m-3.7-3.5h0m6 8.2h0m-4.5-4.2h0m0.5-0.7h0" stroke="#00BE67" stroke-width="1.15" stroke-linecap="round" fill="none"/><path d="M412.2 119.2h0m1 0.2h0m-1.6-5.6h0m-0.7 1.3h0m-0.4 2.5h0m2.2 1.1h0m-1.5-0.5h0m1.7-2.6h0m-0.4 2.2h0m-1.4-2.2h0m1.1-0.7h0m0.1 3.1h0m1.3 1.5h0m-3.6-4.7h0m0.3 0.7h0m3.3 2.3h0m-1.4 1.6h0m-0.2-2.8h0m0.7-1.5h0m0.9 2.7h0m-2.2-0.7h0m1.1 1.1h0m0.3-1.4h0m-0.3 3.7h0m-2.4-3.6h0m2.4-2.5h0m-2.5-0.1h0m0.9 6.5h0m-0.7-4.7h0m1-0.2h0m-0.5-2.1h0m0.5 3.8h0m-1.5-3.6h0" stroke="#00BE67" stroke-width="1.15" stroke-linecap="round" fill="none"/><path d="M407.3 113h0m0.7 2.1h0m2.8 0.6h0m-3.5-2.8h0m3 1.5h0m-3.2 1.6h0m3.1-5.9h0" stroke="#00BE67" stroke-width="1.15" stroke-linecap="round" fill="none"/><path d="M431.1 107.6h0m-2.1 4.7h0m0.8-5.9h0m-1.8 1.7h0m1.2-1.6h0m-0.2 3h0m0.3-1h0m-0.6 2.1h0m0.3-1.9h0m-0.2 0.1h0m1.2 0.9h0m-1.2-0.4h0" stroke="#7CAE00" stroke-width="1.15" stroke-linecap="round" fill="none"/><path d="M428.1 106.5h0m0.1 5.5h0m3.4-7.4h0m-0.5 1.1h0m1 2h0m-3 1.1h0m1 0.9h0m-0.2-2.2h0m-1.2-1.9h0m0.4 2.3h0m2.8 0.6h0m-0.5-2.7h0" stroke="#FF61CC" stroke-width="1.15" stroke-linecap="round" fill="none"/><path d="M429.4 104.9h0m3.7 1h0m-1.3 3.3h0m-2.2-3.4h0m0.4 4.5h0m0.6-2.9h0m0.6 3.5h0m-1.1-4.5h0m1.2 0.5h0m-3.6 2.7h0" stroke="#C77CFF" stroke-width="1.15" stroke-linecap="round" fill="none"/><path d="M428.6 110.7h0m1.7-5.7h0m0.5 4.2h0m-1.9-2.2h0m0.7 3.3h0m0.8-0.8h0m-3.1-1h0m4.7 1.7h0m-3-4.7h0" stroke="#7CAE00" stroke-width="1.15" stroke-linecap="round" fill="none"/><path d="M429.8 109.1h0m-1.2-2.5h0m4.7 2h0m-6.3-0.9h0m5.1 2.3h0" stroke="#00BE67" stroke-width="1.15" stroke-linecap="round" fill="none"/><path d="M429.7 108.7h0m0.5 0.1h0m-2.1 0h0m0.3 3h0m0.5-5.5h0m2.1 2.6h0" stroke="#00BFC4" stroke-width="1.15" stroke-linecap="round" fill="none"/><path d="M438.8 104.8h0m-2.9 1.8h0m0 0.4h0m3-3.2h0m-4.1 2.5h0m1.2-1.4h0m6.3-0.8h0" stroke="#00BFC4" stroke-width="1.15" stroke-linecap="round" fill="none"/><path d="M437.5 104.5h0m1.1 1.1h0m-5.5-0.2h0m8.7-0.7h0" stroke="#00A9FF" stroke-width="1.15" stroke-linecap="round" fill="none"/><path d="M439.1 104.2h0m-3.5 0.3h0m3.6 0.4h0m-1.4 0.8h0" stroke="#00BFC4" stroke-width="1.15" stroke-linecap="round" fill="none"/><path d="M422 109h0" stroke="#00BE67" stroke-width="1.15" stroke-linecap="round" fill="none"/><path d="M367.1 116.9L367.6 121L370.6 124.6L374 125.7L377.5 122.8L380.4 119.9L378.7 117.2L375 114.7L372.7 111.7L369.4 113.4Z" fill="#00A9FF"/><path d="M371.5 124.1h0m6.4-2.7h0m-5-0.9h0m2.9-0.5h0m1.6 1.1h0m-1.1 1.8h0m2.3-1.1h0m-10.4-8.1h0m5.7 2.7h0m-4.7 3h0m0.4-0.4h0m7.3 1.8h0m-2 4.1h0m1.8-4h0m-0.1-0.3h0m-6.4-0.4h0m3.1-4.6h0m-6.4 1.2h0m12.6 2h0m-12.1 3.7h0m7.4-1.3h0m-1.5 2.2h0m-1.5-6.2h0m4.8 3.1h0m-3.2 3.3h0m0-11.3h0m0.7 3.4h0m-2.4-1.7h0m7.3 6.9h0m-1.5-1.6h0m-7.9 3.4h0m-1.7-7h0m6.5 5h0m-6.5-5.4h0m1.4-1.1h0m6.4 3h0m-3.4 8h0m2.4-12.1h0m0.5 2.6h0m-2.4 0.6h0m2.2 6.4h0m1.3-1.1h0m2.5 1.1h0m-4.5-5.7h0m1.6 0h0m-3.6 6.5h0m7.2-5.4h0m-10.9 3.8h0m7.8-1.4h0m-5.8 2.3h0m5.3-2.9h0m0.8-2.5h0m-2.6-3.2h0m-0.1 10.8h0m-5.7-2.3h0m0.1-7.6h0m8.5 3.5h0m-9.6-0.4h0m12.6 2.1h0m-7.6-1.2h0m3.3 0.3h0m-5.5-5.3h0m8.5 7.3h0m-3.4-1.5h0m-3.2 2.3h0m-1.8-3.1h0m4.9 1.1h0m5.2-0.4h0m-5-5.9h0m-2.9 2.4h0m4.4 6.5h0m-2.4-5.6h0m3.3 0.5h0m-1.5-1.8h0m-6.3-1.9h0m6.3 8.4h0m0.7-2.2h0m-3.7 3.6h0m-4.5-10h0m2.9 7h0m-2.9-2.7h0m-1.7-0.4h0m12.4 3.2h0m1-1.1h0m-2.6 0.4h0m-0.8-4.5h0m-3.6 8.1h0m3.8-0.4h0m-5.9-3.5h0m-1.5-4.5h0m6.1 7.7h0m-3.9-7.8h0m1.7 3.5h0m-4.6 1.7h0m-0.3-0.6h0m-0.5 1.7h0m0.1-5.8h0m7.2 2.1h0m-4.4 5.1h0m-3-6.6h0m4.7-0.4h0m4.6 0.1h0m1.2 6.7h0m-4.6-3.1h0m-5.5-1.8h0m-1.7 3.8h0m8.9-4.3h0m-2.3 2.6h0m-3.4-5.4h0m1.3 2h0m-0.7-1.9h0m1.1-1.8h0m5.5 8.6h0m-4.2-4.8h0m0.3-4h0m-3 3.7h0m-0.7-3.6h0m10.8 7.5h0m-8.4-8h0m-1.8 11.6h0m0-1.6h0m4.4-1.4h0m-2.3-6.4h0m-5.3 2.9h0m3.7 3.6h0m-2.5-1.8h0m7.4 1.7h0m-7.7-5h0m4.8-1.5h0m-4.6 0.6h0m5.3-0.7h0m-0.2 10.8h0m1-1.3h0m0.7-4.3h0m-4.7 0.5h0m-1.3-0.7h0m0.9-3.8h0m2 0.1h0m0.5 10.3h0m-1.1-4.6h0m2.6 3.8h0m-5.2-10.9h0m1 1.6h0m0.3 7.8h0m5.4-5.3h0m-5.1 0.1h0m0 5.6h0m-2.8-6.2h0m5.3 3.7h0m-3.7-6.4h0m4.4 6.5h0m-1.9 1.2h0m-2.5-7.4h0m7.6 6h0m-1.9-3.6h0m-3.4 5.9h0m3.6-4.6h0m-1.3-3.1h0m-2-3.5h0m3.5 4.5h0m-1.5-1.2h0m-5.5 1.7h0m10.9 3.9h0m-2.7 2.5h0m-3.8-4.5h0m5.3-2.5h0m-4.1-3.3h0m4.9 6.8h0m-5.4-8.7h0m3.9 8.9h0m-3.1 3.6h0m2.8-4.5h0m-7.7-6.8h0m8.2 6.8h0m-6.8-7.3h0m4.2 7.9h0m-3 2h0m-0.7-1.1h0m5.4-2.1h0m-6.2-0.8h0m4.1 0h0m-4.4 1.9h0m6.3 2.3h0m2.6-1.5h0m-2.7-5.5h0m-2.5 4.4h0m5.6 1h0m-10.2-7.6h0m6 5.6h0m-3.4-4.4h0m3.6 0.6h0m-4 7.8h0m-0.4 2h0m-3.9-3.6h0m3.6-5.4h0m5.5 5.2h0m1-4.1h0" stroke="#00A9FF" stroke-width="1.15" stroke-linecap="round" fill="none"/><path d="M374.2 116.5h0m-1.1-2.5h0m-0.5-2.3h0m1.2 11.2h0m2.9-5h0m-7.5-2.8h0m-0.1 1.7h0m1.6 0h0m1.6-1.6h0" stroke="#fff" stroke-width="0.85" stroke-linecap="round" fill="none"/><path d="M372.8 121h0m7.4 1.9h0m-4.1-5.5h0m-1.9 4h0m0.9 2.4h0m-2.7-2.6h0m6.4 1h0m-1.7 2.3h0m-3.8-6.8h0m6.6 4.8h0m1-0.7h0m-5-1.9h0m-0.8 4.8h0m-3.8-6.8h0m1 3.2h0m3.5-1.8h0m2.2-0.6h0m-3.4-0.8h0m3.1-0.9h0m-4 1.2h0m3 5.9h0" stroke="#FF61CC" stroke-width="1.15" stroke-linecap="round" fill="none"/><path d="M375.7 132.9h0m18.7 2.5h0m-15.5-14.1h0m11.4 12.2h0m-13.9 8.9h0m6.1-14.2h0m1.6-3.5h0m-9.6 15.4h0m-1.2-6.3h0m5.5-2.3h0m-2.9-9.2h0m13.1 12.4h0m-7.1 5.2h0m1-13.4h0m-3.8-3h0m-1 4.4h0m7.5 9.2h0m-2.3-5.3h0m-2.4-4.7h0m7.3 8.5h0m-5.8-0.1h0m-3.6-15.1h0m-1.2 1.4h0m3.5 14.2h0m8.2 2.5h0m-9.1-15.8h0m0.3 4.6h0m3.5 12.3h0m4-7.3h0m-11.7-4h0m7.2-2.2h0m-1.2-5.5h0m-5.8 11.8h0m-3 3.2h0m1.8-8.5h0m0.8 13.6h0m4.2 0h0m-1-10.9h0m-4 11h0m-2.1-4.4h0m3.9 1.9h0m-1.9 3.7h0m4.3-9h0m1.4-4.3h0m-3.5-7.7h0m-0.1 10.2h0m3.8 8.8h0m1.9-5.6h0m-8.8-2.3h0m4.4-4.6h0m6.3 1.9h0m3 5.9h0m-11.9-11.3h0m1.1 0.4h0m-2.9 10h0m9.3-9.1h0m1.7 6.1h0m1.1 5.3h0m-7.9-2.3h0m4.2 5.7h0m0.1 0.5h0m-4.7-3.8h0m11.5-0.8h0m-0.1 1.4h0m2 0h0m-4.5-4.8h0m-7.9-9.9h0m4.5-0.5h0m-5.9 17.4h0m2.2-11h0m2.7-3.2h0m-1.1 2.9h0m-2.8 7.1h0m0-13.4h0m0.3 1.3h0m-2.6 11.9h0m-2.6 0.2h0m3.2 6.5h0m-1.2-15.5h0m2.6 1.8h0m-4.1-0.7h0m7.9 10.8h0m-3.3-9.6h0m1 1.7h0m15.3 5.3h0m-20.8-8.6h0m19.4 10.8h0m-17.4-6.7h0m8.2-5h0m-3.7 0.2h0m-5 9.8h0m5.5-3.9h0m1.7-1.8h0m0.1 10.3h0m1.8-13.2h0m-5.6-4.2h0m2.5 3.6h0m2.3 5.9h0m-8.3 0.7h0m18.2 2.2h0m-14.1-7.9h0m-2.3 10.1h0m2-18.1h0m7 12.1h0m2.5 4.8h0m-4.2-5.5h0m-4.5-6.4h0m3.1 9.9h0m-3.2-5.8h0m-1.2 12h0m3.1-1.4h0m-3.1-10.8h0m1.7 11.5h0m-1.5-2.4h0m1.3 1.5h0m0.9-19.2h0m0.4 12.4h0m12.7 3.2h0m-18.5-3.5h0m12.2 3.9h0m-7.2 0.9h0m0 3.3h0m-5.9 1h0m-0.7-13.3h0m12 6.3h0m-7.1-0.5h0m-4.5 2.7h0m0.5-10.8h0m-0.2 4.1h0m6.5 3.7h0m3.9-7.9h0m2.3 7h0m-2.1 3.4h0m-11.1 1.1h0m15.8-2.4h0m-2.1 1.8h0m-7.9-12.5h0m-6.8 12.3h0m5.7-9.3h0m-5 7.3h0m8.4 4.7h0m-4.6-18.2h0m-0.9 2.8h0m2.5-3.8h0m0.3 16h0m-3.6-8h0m0.2 14.5h0m9.4-5.5h0m2.5-0.2h0m-9.1-3.1h0m-1.3-8.7h0m-2.6 14.9h0m-3.6-0.3h0m6.1-6.2h0m6.4-2.1h0m9.3 5.8h0m-9.7-8.8h0m-8.4 4.2h0m14.4 1h0m-7 2.9h0m-5.8 2h0m-3.6-6h0m2.5 5.9h0m13.7-0.9h0m-6.8 2.2h0m-8.1-2.2h0m-0.6-8.3h0m0.9 3.6h0m-0.2-1.9h0m10 0.9h0m-7.6-11.2h0m6.2 11.5h0m-7.3-9.1h0m6.3 6.5h0m-4.8-9.3h0m-1.3 16.6h0m7.3 2.5h0m7.3-0.9h0m-7 1.5h0m7.5-2.8h0m-8.1-11h0m4.2 8.5h0m-7.6 3.7h0m14.6-1.9h0m-11.8 1.9h0m2.1-7.3h0m3 1.6h0m-7.3-2.8h0m9.5 5.7h0m-9.9-9.1h0m-6.7 13.9h0m16.1-4.8h0m-12.1-7.6h0m4.7-4.9h0m-1.2 6.3h0m1.7 11.7h0m-2.8-11.7h0m1-4.3h0m-6.2 10.9h0m6.7 3.9h0m-5.3-12.3h0m-4.2 11h0m9.3-17.1h0m5.7 16.6h0m-0.6-6.2h0m-8-5.8h0m2.3 15.3h0m9.7-1.4h0m-9.7-17h0m6.7 10.7h0m-4-7.2h0m9.1 9.8h0m-14 3.6h0m4.3-6.9h0m-9.3 8.9h0m13.5-7.7h0m-12.5-0.9h0m8.6-11.5h0m5.5 13.3h0m-7.5-9.4h0m3.9 8.8h0m0.6 3.1h0m-8.4-0.7h0m6.8-0.2h0m-1.9 2.5h0m11.3-2.4h0m-11.6-7.2h0m1.6-7.8h0m-4.5-1.4h0m2.1 8.3h0m-2.7 10.3h0m15.8-2.8h0m-13.3-3.9h0m-0.7-6.5h0m-4.7 2.8h0m5.8 6.6h0m-0.8 5.5h0m12.8-1.7h0m-12.1 2.4h0m-1-13.1h0m11.5 6.5h0m0.2 3.7h0m-13 3.6h0m10.5-5.9h0m-9.4 2.2h0m10.3 0.2h0m-14.8 2h0m1.9-20.6h0m1.4 2.5h0m14.1 12.7h0m-14.3-7.9h0m0.4 9.8h0m-5.2 3.4h0m3.9-3.6h0m-2.5 1.7h0m0.5-4.9h0m7-1.2h0m-6.5 2.8h0m-1.8-4.4h0m0.7 0.1h0m6.1-7.7h0m1.2 9.9h0m5.3 4.2h0m-11.9-1.8h0m4.5-1.6h0m-2.6 7.1h0m15.9-2h0m-21.1 1.9h0m8.2-3.5h0m5.2-5.6h0m-3.2-8.9h0m-2.7 18h0m-6 0.8h0m0.4 0.2h0m2.6-5.3h0m14.7 0.5h0m-12.4-7h0m-1-1.4h0m-1.5 7h0m16.8-0.2h0m-17.3-2.4h0m9.8 2.1h0m-8.5 1.2h0m7.2 1h0m-3.5-6.6h0m7.8 2.5h0m-12.8-7.6h0m2.1 5.4h0m1.4 10.8h0m-6.9-11.3h0m1.8-3.1h0m17.9 6.2h0m-16.2-4h0m7.2-8.6h0m-9.4 18.4h0m11.3-9.2h0m-3.5-2.5h0m-5.7 0.5h0m13.4 10.7h0m-9.8-6.4h0m-5.3 0.2h0m-1.9 7.8h0m4.9-11.8h0m6.3-1.3h0m-11.6 12h0m6.6-14.5h0m7.5 10.9h0m-4.9-13.7h0m-7.5 14.3h0m6.7-5.1h0m0.3-7.1h0m0.8-2.1h0m-2.9 3.7h0m3.3-3.2h0m11.3 16.6h0m-13.7 2.1h0m-4.5 1.2h0m4.7-10h0m0.3-11.8h0m7.4 16.1h0m-10.2-4.4h0m-1.4 0.8h0m-2.8 3.4h0m9 2.3h0m5.9-2.7h0m-9.6-16.3h0m12.3 19h0m-15.9 2.6h0m-1.2-10.1h0m7.1-0.1h0m-2.9 1.6h0m-5.8 7.7h0m4.2-0.4h0m4.9-19.2h0m-7.5 16.9h0m10.4-14.4h0m-10.6 9.4h0m10.1-4.8h0m-9 3.3h0m12.3 6.4h0m-3.9-0.4h0m1.8-10.6h0m0.3 9.4h0m-5.6-11.3h0m1.7 10.2h0m0.8-4.2h0m-5.1-8.9h0m5 15.2h0m-0.9-7.6h0m-7.3 12.5h0m6.5-19.7h0m-5.8 10.1h0m7.5-2.5h0m-2.3-3.7h0m0.6 5.5h0m10.5 3.3h0m2-0.2h0m-17.3-11.6h0m-0.4 18.2h0m2.6-2.6h0m-2.6-5.4h0m9.5-7.3h0m-0.4-2.5h0m1.7 11.5h0" stroke="#FF61CC" stroke-width="1.15" stroke-linecap="round" fill="none"/><path d="M398.9 140h0m-0.9-1h0m5-1.1h0m-4.5 1.4h0m0.2-0.4h0m-0.6 1.2h0m5.7-1.7h0m-6.8 2h0m-1-0.4h0m-0.3-0.6h0m7.6-1.2h0m2.5-0.8h0m-9.1 1.4h0m2.2 1.4h0m6.1-2.1h0m-8.6 2h0m0.9-1.3h0m5.1-0.2h0m0.5-0.3h0m-3.9 1.5h0m-3.4-1.1h0m3.4 1.6h0m-0.6-1h0m-1.9-0.1h0m9-0.8h0m-1.6-0.2h0m-4.2 0.3h0m-1.2-0.5h0m3.7 0.7h0m-3.1 1h0m-2.4-0.8h0m6.7 0h0m-3.2 1h0m4.4-1.5h0m-0.2-1.7h0m-6.5 3.5h0" stroke="#FF61CC" stroke-width="1.15" stroke-linecap="round" fill="none"/><path d="M405.8 144.7h0m-1.1-0.5h0m4.1 4.3h0m0.2 0.1h0m-0.2 2h0m0.1-1.4h0m-7.2-8.1h0m-0.7-0.6h0m8 7.8h0m-0.7-0.5h0m-3.3-2.2h0m-2.5-3.3h0m2.6 2.2h0m0 1.2h0m5.2 4.1h0m-2.8-2.3h0m0.1-0.3h0m-0.5 1.9h0m-2.8-5.5h0m6.4 6.2h0m-4-2.4h0m0.9 2.3h0m-3.9-8.2h0m-2-0.6h0m2.7 2.8h0m0.7 3h0m2.1 3.1h0m-3.6-8.3h0m0.9-0.6h0m1.9 7.9h0m-2-6h0m0.4 2.5h0m-1.6-5.3h0m4.8 9.5h0m2.3 0.7h0m-0.5 0.3h0m-0.1 1.8h0m-5.6-8.8h0" stroke="#FF61CC" stroke-width="1.15" stroke-linecap="round" fill="none"/><path d="M416 147.8L416 149.3L414 152L411.1 152.1L411.6 154.5L414.6 158.8L419.3 160.6L424.2 159.9L427.7 158.2L428.7 156.2L426.6 154.5L421.6 152.7L419 151.4L416.4 148.7Z" fill="#00A9FF"/><path d="M415.4 150.2h0m1.2-1.2h0m7.5 5.4h0m-8.7-2.1h0m8.5 2.4h0m-9.5 4.7h0m8.5-4.3h0m1.2 3.2h0m-8-2h0m8.2-2.4h0m-4.7-1.3h0m-4 1.3h0m-0.9 1.1h0m8.5-0.3h0m-5.2-5.4h0m-4.7 3.5h0m11.9 3.8h0m-9.9-1.2h0m12.9 2.1h0m-11.2-6.4h0m7.7 2.6h0m-6.2-0.5h0m-3.9-1.6h0m1.3 0.3h0m10.9 2.2h0m-1.7 3h0m-11.6 0.4h0m3.7 0.9h0m-6.7-6h0m7.2 6.7h0m8.9-4.7h0m-1.8-0.3h0m-12-0.4h0m0.1 0.4h0m12-0.6h0m1.1 5h0m-4.4-2.5h0m-5.2 1.4h0m9.6 3.4h0m-11.8-6.9h0m7.5 5.8h0m-3.6-10.1h0m2.8 6.4h0m-5.4 0.1h0m5-1.7h0m2.7 0h0m-8.7-0.2h0m5.1 1.6h0m-2.3 4.1h0m4.2-0.3h0m-4.4-5.8h0m-2.9 2.9h0m6.3-0.6h0m-7.6-0.9h0m3.8-3.1h0m0.1 3.3h0m-0.3-1.2h0m1.7 1.7h0m-0.8-6.3h0m8.2 6.3h0m-11.3-1.5h0m3.3-3.2h0m3.9 5.2h0m-7.2-3h0m-2.1 2.3h0m1.8 0.3h0m1.9-2.8h0m0.2 5.6h0m1.4-0.7h0m-1-5.8h0m-0.7-2h0m1.8 1.6h0m-5.8 1.3h0m-0.2 2.8h0m5.7 1.8h0m-2.8-1.7h0m3.7 3.2h0m-3.9-5.4h0m7.2 2.1h0m0.1-1.7h0m-6.2-0.7h0m3.4-1.4h0m7.2 7.4h0m-9.2-1.5h0m-3.9-2.9h0m3.9-1.2h0m2.4 1.8h0m6.1-1.4h0m-4.7 0.9h0m4.7-1.8h0m1.6 3.7h0m-14.6-3.8h0m8.7 7.4h0m0.6-5.3h0m-9.2-1h0m6.4 2.1h0m-0.3-2.6h0m-0.1-2.5h0m8.6 6.8h0m-15.6-3.2h0m5.6 3h0m6.3 0.5h0m-5.3-2.2h0m-0.1-1.4h0m3.5 3.7h0m-6-4.3h0m-3.3-3.1h0m4.6 3.5h0m1.1-3.1h0m-1.6 4.1h0m6.9-2.4h0m-7.1-6.1h0m11.4 11.7h0m-7.5-4.5h0m-4.8-1.2h0m3.1 5.1h0m7.8-3.1h0m-8.8-2.5h0m-5.4 0.8h0m15.8 2.2h0m-10.4-2.6h0m4-0.2h0m-6.9 3.6h0m4.9 3.7h0m-6.9-9.5h0m3.1-2.2h0m10.9 9.4h0m-0.3-1.8h0m1.2-0.7h0m-13.3-0.4h0m5.1 2.1h0m4.6 1.6h0m-2.6-3.6h0m7.6 0.5h0m-10.5 4.1h0m-0.4-0.7h0m7.5-5.7h0m-8.7 4.6h0m5.9-1.6h0m5-0.7h0m-15.7-4.1h0m4.8 1.7h0m5.1 2.6h0m-7.7 0.6h0m10-2.9h0m-4 3.4h0m4.4-3.1h0m-5.3 4.3h0m6.6-0.1h0m-1.2 0.2h0m3.6-0.5h0m-5 1.7h0m5.2-1.1h0m-9.6-3.4h0m-3.8-3.1h0m0.4-4.8h0m0.2 8.3h0m4.3 4.4h0m2.5-3.3h0m-2.8 2.9h0m-5.4-8.5h0m3.1-0.2h0m7.5 7.8h0m-6.2 1.4h0m-5.5-6.3h0m12.8 5.3h0m-0.4-3.9h0m-7.7-4.8h0m6.1 5.2h0m3.4 2h0m-2.9-2.9h0m-0.5 3h0m-5.8-4.8h0m-5.2 2.4h0m10.1 0h0m-7.6-2.2h0m9.6 0.4h0m-14.6-0.1h0m6.2 2.7h0m9.1-1.5h0m-10.8 1.6h0m3.3 1.3h0m5.2-4.3h0m-8.6-1.4h0m13.7 4.1h0m-16.5-0.5h0m4.4-8.9h0m2.9 13.5h0m4.4-5.7h0m-6.7-3.1h0m-0.6 4.9h0m-0.8 1h0m8.5-0.7h0m-2.8 1.6h0m-3.8-9h0m-0.6 4.4h0m-5.2-1h0m1.6 1.8h0m14.8 3.1h0m-4.1-1.5h0m-6.3 1.6h0m3.3 2.6h0m-8.9-5.9h0m8.3 0.3h0m0.4 6.2h0m-7.2-4.6h0m3.5-9h0m3.2 9.6h0m2.7-4h0m-0.4 6h0m-5.1-1.6h0m8.2-1.2h0m-13.1-4.1h0m14.2 7h0m-10.9-6.6h0m2.1 3.5h0m1-3.1h0m0.7 5.2h0m0.7-0.9h0m2.8 1.5h0m-6.5-5h0m-2 3h0m10.8 1.7h0m-8.7 0.9h0m-3.5-5.9h0m6.4 0.5h0m-2-2.7h0m-5 4.4h0m13 2.5h0m-11.6-2.7h0m-1.2 0h0m5.8 0.3h0m-8.3-3.9h0m8.3 8.6h0m0.1-2.9h0m-5-1h0m2.8-8.7h0m-0.3 4.5h0m6.8 5.8h0m3.2-1.4h0m2.1-0.7h0m-7.8-3.1h0m-0.3 6.4h0m3.6-5h0m-9.4 4h0m1-7.4h0m0.3 0.5h0m12.2 7.6h0m-8.5-3.9h0m-4.5 2.4h0m3.4 0h0m5.2 1.1h0m-6.9-9.8h0m0.3 9.9h0m-0.4-7.3h0m0.3 6.8h0m-2.5 0.3h0m-2.7-4.5h0m4.5 5.9h0m3-0.5h0m8.1-0.9h0m-11.7-4.7h0m9.8 4.7h0m-2.5 1.6h0m2.8-5.6h0m-3.3-0.8h0m3.3 4.2h0m-5.6 0.8h0m-1.3-5h0m-4 0.8h0m1.6-0.8h0m-4.9 0.4h0m8.1 4h0m-0.1 1.4h0m-7.2-4.9h0m7.3 0.7h0" stroke="#00A9FF" stroke-width="1.15" stroke-linecap="round" fill="none"/><path d="M418.9 157.4h0m2.2-3.7h0m-3.2 6.5h0m-6-4.8h0m13.5 1.5h0m-7.8-3.8h0m10.5 4.7h0m-11.6-0.2h0m1.7 1.3h0m-0.6-2.4h0m5-1.7h0m0.2 0.2h0" stroke="#fff" stroke-width="0.85" stroke-linecap="round" fill="none"/><path d="M409.2 150.1h0m0.7 1.4h0m-1.4-4.1h0m-2.1 1.8h0m0.4-0.6h0m3.7 1.7h0" stroke="#00A9FF" stroke-width="1.15" stroke-linecap="round" fill="none"/><path d="M398.4 150.2h0m1.5-1.1h0m-11.9-6.1h0m4.5 5.3h0m-4.1-2.8h0m3.7 3.7h0m-3.4-5.9h0m1.3 2.1h0m0.1 1.4h0m9.4 2.3h0m2.2-0.5h0m-10.3-0.7h0m-4.1-4.8h0m10.3 6.2h0m2.6 0.8h0m-3.2 0h0m-5.9-3.1h0m-2.1-2.8h0m0.1 0.7h0m6.9 3.3h0m5 0.8h0m-12.1-3h0m4.1 1.8h0m-5.5-4h0m7.9 4.5h0m-3.3-1.6h0m8.3 1.5h0m-4.5 0.4h0m-4.8-1.8h0m-4-5.6h0m2.4 2.1h0m9.7 5.7h0m-13.8-9.6h0m16.1 10.3h0m-13-2.8h0m-1.8-6.4h0m5.9 6.7h0m-3.5-3.7h0m-2.1-3.3h0m0.4 3.5h0m-1.5-3.9h0m11.3 10.5h0m-1.7-2.4h0m1.8 2.5h0m-10.2-7.7h0m7.5 6.2h0m6.3 0.5h0m-5.1-0.6h0m5.5-0.4h0m-0.7 0.1h0m-2.5 2h0m2.5-0.2h0m-13.6-6.8h0m1-1.2h0m11.6 8.1h0m-4.5-1.7h0m-4.2-0.3h0m3-0.2h0m-3.8-1.5h0" stroke="#7CAE00" stroke-width="1.15" stroke-linecap="round" fill="none"/><path d="M391.5 145.2h0m-0.2 0.8h0m3.1-0.4h0m-2.3-0.3h0m-0.2-0.1h0m-1.6-0.1h0m0.9-0.6h0m3.9 1.7h0m-4.3-1.3h0m1.9 0.5h0m4.5 1.4h0m-5.1-2.3h0m-0.3-0.4h0" stroke="#7CAE00" stroke-width="1.15" stroke-linecap="round" fill="none"/><path d="M386.9 163.9h0m2.5-2.1h0m-3.1-2.7h0m1.8 0.8h0m-7.5 0.1h0m3.3 1.1h0m2.6-0.9h0m1.5 3.1h0m-3-3.4h0m-5.2-1.2h0m5.3 1h0m1.7 3.2h0m-0.8-1.5h0m-0.2 1.3h0m-1.7-0.4h0m-4.6-2.8h0m10 1.7h0m-6.4-2.1h0m5.8 3.8h0m-5.1-2.5h0m0.6 1.6h0m4.2 0.7h0m-4.5-1.1h0m-0.9-1.6h0m3.8-0.5h0m-0.7-0.3h0m-1.2-0.4h0m3.7 1.8h0m-9.9-1.1h0m7.2-0.8h0m-3.6 1.6h0m-0.2-1.4h0m4.2 2.9h0" stroke="#7CAE00" stroke-width="1.15" stroke-linecap="round" fill="none"/><path d="M389.5 168.2h0m0.1-1.3h0" stroke="#7CAE00" stroke-width="1.15" stroke-linecap="round" fill="none"/><path d="M392.5 160h0m1.2 2.4h0m-0.5-1.2h0" stroke="#00BE67" stroke-width="1.15" stroke-linecap="round" fill="none"/><path d="M393.3 128.4h0m-1.1-0.3h0m-1.3-0.7h0m0.4 0.6h0m-0.2-1.3h0m1.3 1.5h0m1.1-1.3h0m-1.6 0.6h0" stroke="#00BE67" stroke-width="1.15" stroke-linecap="round" fill="none"/><path d="M412.1 114.9L411.7 116.7L415.9 122.9L417.8 128L420.1 131.4L422.8 130.3L425.6 127.4L425.1 125.4L421.4 123.5L418.9 119.7L415.2 116Z" fill="#00BE67"/><path d="M417 126h0m1.2-2.3h0m2.9 3.4h0m3-0.8h0m-7.3-1h0m0.9-2.6h0m1.7 4.1h0m-0.7 0.2h0m1.9 0.1h0m-4.2-5.6h0m-2.4-1.9h0m8.8 9.2h0m-0.1 0.7h0m-5.6-5h0m4.1 2.8h0m4.4 0.2h0m-3.1-1.7h0m-2.3 5.3h0m-3.9-7.5h0m-1.2-6.1h0m-3.2-1.8h0m5.7 11.9h0m5.2-0.6h0m-2.3 0.9h0m-7.1-11h0m0.4 1.6h0m1.9 5.2h0m1.1-1.2h0m-1.7-6.7h0m1.1 2.2h0m0.8 0.2h0m7 6.7h0m-5.9-5.9h0m4.6 5.6h0m-1.1-0.1h0m-4.8-7.5h0m4.1 12.6h0m-8.8-14.7h0m11.1 14.1h0m-12.4-12.2h0m8.4 13h0m-6.9-15.1h0m0.8 1.1h0m8.2 7.3h0m-6.3 1.2h0m6.5-1.3h0m3 2.9h0m-1.7 3.6h0m-6.4-5.8h0m7.4 4.8h0m-0.7-1h0m-5.4-9.9h0m4.2 10.6h0m-2.8 0.7h0m-1.4-7.3h0m-1.3-1.2h0m-3.5-3.1h0m5.7 12h0m4.7-3.3h0m-0.1 3.1h0m-6.7-9.2h0m3.6 8.7h0m-0.3-5.6h0m-0.4 3.2h0m1.5 4.3h0m0.4-1.2h0m-2.8-7.1h0m4.7 1.7h0m-7.1-1.4h0m3.4 1.5h0m0.3 7.1h0m5.3-4.7h0m-8.3-9.3h0m2.8 8.3h0m-0.2-1.7h0m-6.8-7.7h0m-0.8-1.3h0m8.4 12.1h0m-1.4-5.1h0m3.5 4.9h0m-6.2-9.2h0m5.9 6.9h0m-8-5.1h0m0.6 1.9h0m3.8 1.3h0m-3.9-4.4h0m2.1 2.8h0m1.1-2.2h0m1.4 2.7h0m-3.2-0.8h0m-0.5-1.8h0m2.1 0.2h0m-0.8 2.9h0m5.7 6.1h0m1.5-2.8h0m0.4 1.7h0m-7.2-2.3h0m-3.4-6.8h0m8 13h0m0.3-4.1h0m-5.2-4h0m5 7.6h0m-4.6-6.6h0m3.8 4.7h0m-7.7-10.3h0m6.4 4.7h0m3.7 1.1h0m-6.8 0h0m2.8 2h0m5.6-0.2h0m-4.9 1.2h0m-2.9-1.4h0m5.1 2.6h0m-0.7-0.6h0m-2.4-6.6h0m6.4 6.4h0m-6.2 3.7h0m1.3 1.1h0m2.6-1.8h0m-5.7-0.9h0m-2.3-5.6h0m3.7-0.4h0m-0.1 2h0m0.1-0.7h0m-1.3-1.3h0m0.3-0.1h0m1.3 4.8h0m-7.7-12.2h0m13.6 9.9h0m-9.3-3.7h0m3.1-1.1h0m1.9 8.3h0m-2-9.9h0m-1.3 4.9h0m4.7 1.8h0m-4 0.4h0m1-4.1h0m-1.5 0.3h0m7.3 5.8h0m-6.2-1.8h0" stroke="#00BE67" stroke-width="1.15" stroke-linecap="round" fill="none"/><path d="M412.1 117.4h0m2.5 0.1h0m1.6 4.7h0m0.5-3.8h0m3.1 9.3h0m-7.4-10h0" stroke="#fff" stroke-width="0.85" stroke-linecap="round" fill="none"/><path d="M419.7 130.2h0m-0.9-0.6h0m-2.5 1.7h0m-3.4 1.9h0m2.8-0.5h0m0-2h0m-1.3 1.3h0m-2.6 1.1h0m1.1 1.5h0m3.4-1.5h0m-3.8-0.7h0m8.2-2.4h0m-8.6 5.1h0m9-3.4h0m-4 0.1h0m0.1 0.3h0m-1.5-0.3h0m4.3 1.5h0m-7.3-0.6h0m4.6-0.4h0m2.2 1.3h0m-3.1-3.2h0m-3.7 2.1h0m8.8-2.6h0m-6 4h0m-0.3-0.5h0m-2.8-1.1h0m2 2.3h0m0.2-0.5h0m6.1-1.8h0m-5.8 2.2h0m-2.1-2.9h0m8.9 0.5h0m-4 2.2h0m1.2-3.4h0m-1.3-1.3h0m1.9-0.2h0m-3.6 1.3h0m-1.3 1h0m0.5-0.9h0m-1 1.6h0m1.1-0.6h0m3.6 1.8h0m0.5-1.9h0m-6.1 1.6h0m8.1-1.9h0m-2.3 1h0m0.7-2.9h0m0.2 3.4h0m-1.3-3.4h0m-0.6 3.2h0m2.5-1.1h0m-4.2-2.3h0m-0.2 2.6h0" stroke="#00BE67" stroke-width="1.15" stroke-linecap="round" fill="none"/><path d="M411.5 117.5h0m0.7-1.4h0m-1-0.9h0m0.9 0.3h0m-1.4 2.8h0m0.1-2.5h0m0.9-0.6h0m0.3-0.4h0m-0.7 2.3h0" stroke="#00BE67" stroke-width="1.15" stroke-linecap="round" fill="none"/><path d="M408.9 129.2h0m-0.6 2.9h0m0.5 1.4h0m-1.5 2.5h0m1.7-4.5h0m-0.2-0.1h0m0.9-2.6h0" stroke="#00BE67" stroke-width="1.15" stroke-linecap="round" fill="none"/><path d="M408.5 121.7h0m-0.5-2.7h0" stroke="#00BE67" stroke-width="1.15" stroke-linecap="round" fill="none"/><path d="M435.5 124.1L439.7 125.5L444.5 127.9L447.8 131.2L449.4 140L450.6 141.4L454.9 135.9L458 133.6L458.6 131.6L456.4 127.8L454.2 124.8L445 122.8L438.9 123.3Z" fill="#00BE67"/><path d="M453.8 128.7h0m-8.6 0h0m6.4 5h0m-13.7-9.6h0m18 9.3h0m-8.8-9.9h0m-4.5 2.4h0m10.6 8.4h0m0-5h0m1.2 2.3h0m2.4-1.8h0m-4.6-0.2h0m-12.8-4.4h0m12.8 10.4h0m-3.6 2.4h0m-2.2-10.4h0m5.1 7.3h0m-1.9-3.6h0m3.6 2.8h0m0.6-8.6h0m-15.7-2.1h0m5.8 3.3h0m5.6 5h0m-2.2-1.6h0m-3.7-4.1h0m10.5 4.5h0m-1.5-1.8h0m-4.5-5.9h0m2.4 14.5h0m-0.2-11.6h0m0.3 13.5h0m3.5-10h0m1-1.2h0m-7.6 6.2h0m4.2 6.7h0m0.9-14.3h0m-4.7 1.9h0m3.1-0.1h0m3 3h0m-0.2-4h0m-3.9 7.7h0m-13-9.8h0m15.4-1.4h0m-6-0.5h0m7.2 8.5h0m0.1-6.8h0m2.4 5.7h0m-4.2 1.4h0m0.7-3.8h0m-10-4.9h0m7.8 1.5h0m-2.6-0.4h0m9 7.7h0m-14.2-9.8h0m11.7 2.4h0m-2.9 8.8h0m-1.7 1.2h0m0.9-9.3h0m-0.1 5.9h0m-1.4-1.7h0m1.6-1.1h0m1.5-1.4h0m5 2.4h0m-2.6 5.3h0m-3.4-4.7h0m-7-0.9h0m-0.6-3h0m7.7 4.4h0m7.1 2.2h0m-8.9-3.7h0m-1.3-3.2h0m0.4 1.3h0m1 1.6h0m-9.9-5.7h0m5.4 4.9h0m3.1-1.7h0m-5.3-4h0m1 4.6h0m9.1 2.7h0m0.2 5h0m-8.7-12.2h0m5.3 13.2h0m-1.1 3.7h0m2.5-8.8h0m5.7-1.8h0m-7.3 7.7h0m1.7-5.2h0m-11.5-8.5h0m4.2 1.3h0m1-1.4h0m6.6 12.6h0m-1.3-1.1h0m-2.5-10.7h0m5.3 4.9h0m-9-3.2h0m1 3h0m6.6 4.1h0m-0.7 7.2h0m-3.6-6.3h0m6.8-9h0m-7.1 4.6h0m3.5-0.3h0m-1.4-1.5h0m6.6 6.6h0m-0.1-5.4h0m2.7 3.4h0m-5.7-1.8h0m1.2 7.7h0m0.3-12.5h0m-8.9-0.2h0m4.4 3.9h0m3 7h0m-7.7-11.7h0m4.9 11.9h0m5.8-0.9h0m1.7-3.7h0m-2.2 3.4h0m-2.5-4.3h0m1.8 1.5h0m-6.3-8.4h0m-7.9-1.5h0m5.6 5.1h0m-3.3-4.7h0m11.9 15.4h0m-0.2-13h0m-1.6 11.6h0m-10.9-10.2h0m13.3 10.5h0m-2.5-3.3h0m1.5 1.9h0m-10.5-10.7h0m10.2 2.9h0m-17.2-3.8h0m11.8 4.4h0m2.2-3.6h0m-14.4-0.1h0m13.8 7h0m-12.8-7.5h0m12.2 10.4h0m3.5-1.1h0m-2.3-2h0m0.9-2h0m-11.1-6.7h0m11.8 13.4h0m0.1-7.2h0m-2.5 3.3h0m6.7 0.9h0m-2.6-6.5h0m-0.8 6.7h0m-3-4.8h0m3.9 2.8h0m-13.3-8.5h0m7.8 9.2h0m6.4 1h0m0.1-2.4h0m-6.3-1.3h0m2.2 1.3h0m2.6 1.8h0m-3.1-6.4h0m-1.9 7.6h0m7.2 0.9h0m-0.3-7h0m0.3 3.2h0m-10.7-1.3h0m9.8 0.7h0m-8.4-1.4h0m1.8-0.5h0m3.8 1.1h0m-14-4.1h0m0.4-0.4h0m12.4 7.6h0m-7.7-10h0m13.8 8.2h0m-13.1-7.4h0m-1.3-1.5h0m5.1 7.1h0m9.2 1.5h0m-4-5.3h0m-5 11.1h0m2.6-9.7h0m7.9 5.7h0m-5.3-8h0m-0.8 8.9h0m-5.1-6.5h0m-6-2.6h0m8.1 11.6h0m4.1-11.3h0m-10 3.6h0m-4.7-3.2h0m3.5 0.1h0m15.6 8.2h0m-9.8-0.6h0m-9.4-7.1h0m8.2 4.4h0m0.3 1.6h0m11 1.5h0m-19.7-7.7h0m15 2.4h0m-3.4 10.1h0m0.5-2.6h0m2.3-0.3h0m-6.6-6h0m9.4-0.1h0m-18-2.7h0m11.4 1.1h0m-4.3-3.3h0m11.2 4.3h0m-3.2-2.1h0m-3-1.5h0m-0.8 1.1h0m5.7 1.4h0m-2 10.3h0m6.4-6.5h0m-11.7-0.8h0m2.6-1.7h0m-10.5-4.7h0m11.3 4.6h0m4.3-3.1h0m-3.7 8.3h0m5-1h0m-11-8.3h0m9.5 12.6h0m-3.1-3.8h0m3.2-2.8h0m-3.7 8.9h0m1.1 0.8h0m1-12.3h0m3.1 3.4h0m-2.1-5h0m-5.2 7.6h0m7.4-7.1h0m-1.9 6.9h0m-5.6-7.6h0m-0.4 6.6h0m3.8-7.3h0m-4.8 2.3h0m1.6 5.2h0m1.7 0h0m-3.6-2.6h0m1.3 0.6h0m5.8 7.7h0m3.1-4.6h0m-12.9-8.7h0m7.5 3.9h0m1.2 1.4h0m-5.3-6.6h0m5.8 10h0m-3.1-2.2h0m1.3-3.1h0m-4.8-3.5h0m6.8 8.3h0m-13.4-8h0m16.3 3.2h0m-1 3.8h0m-1.1-3.2h0m-3.8-5h0m-3 2.8h0m0.9 4.7h0m-11-6h0m14.5 9.2h0m-1-6.2h0m-3.1 4.3h0m-8.6-7.5h0m10.9 10.2h0m-2.5-8.3h0m0.6-0.7h0m4.7 6.8h0m-4.8-3.2h0m3.9-3.5h0m1.4 6.4h0m-3.2-3.3h0m-9.4-3.9h0m9.1 14.4h0m2.2-13.2h0m-10.2-2.6h0m10.5 11.9h0m3.4-5.4h0m-18.7-6h0m20.2 6.3h0m-11.5-3.2h0m5.1 11.2h0m-10.4-15.1h0m10.6 4.5h0m-2.8 1.7h0m2.3 8.3h0m-1.2-1h0m0.3-0.2h0m4.6-7.4h0m-0.6-4.7h0m-3.9 2.8h0m3.2 2.8h0m3.5-2.4h0m-2.7 8.2h0m-13.8-13.6h0m6.4 3.5h0m9.9 6.4h0m-21.6-7.9h0m16.9 4h0m-13.4-5.7h0m18.6 9.7h0m-2.7-4.6h0m-4.9 8.2h0m1.8-10h0m-9.6-2.9h0m9.6 4.1h0m-3.8-4.9h0m2.1 13.6h0" stroke="#00BE67" stroke-width="1.15" stroke-linecap="round" fill="none"/><path d="M438 124.7h0m20.4 5.9h0m-17.5-5.9h0m5.8 5.9h0m11.2 1.2h0m-17.9-6.2h0m2.4-0.3h0m6.6 10.8h0m-0.4-8.6h0m5.7 1.2h0m-16.7-4.9h0m17.1 11.2h0m-10.2-6.7h0m-1.8-4.3h0m13.5 3.5h0m-10.9-1.6h0" stroke="#fff" stroke-width="0.85" stroke-linecap="round" fill="none"/><path d="M452.5 120.2h0m-6.6 1.3h0m9.4-2.2h0" stroke="#00BFC4" stroke-width="1.15" stroke-linecap="round" fill="none"/><path d="M489.2 130.3L489.2 133L490.2 136L493.2 139L496.8 140.4L508.4 133.4L513 131.9L513.3 131.3L506.1 132L502.8 128.8L500 127.6Z" fill="#00BFC4"/><path d="M491 131.6h0m19.4 1.6h0m-8.9 0.2h0m-4.5 1.6h0m4.8-3.9h0m1.9 3.9h0m1-2.9h0m-4.8 3.1h0m0.6-7.2h0m-1 7.6h0m-0.6 0h0m6.3-0.9h0m-7.4-5.7h0m11.5 3.2h0m-14.6-1.9h0m1.3 7.1h0m3.4-1.7h0m-8-4.7h0m12-2.9h0m-10.9 8.2h0m7.4-5.9h0m-4.1 3.8h0m9.4-3.3h0m-13.9 8.9h0m8.7-9.2h0m6.6 1.8h0m-15-2.9h0m10.8 7.3h0m9.6-5.9h0m-17.3-2.2h0m-2.3 6.3h0m6.5-6.9h0m7 6.4h0m-6.4 2.7h0m-2-8.3h0m9.2 5.9h0m-10.4-6.5h0m3.1 11.7h0m10.4-7.5h0m-14.2 8.3h0m-4.2-7.4h0m7.1-6.2h0m8.7 4h0m-12.3 3.9h0m-3.9-1.3h0m3.7 4h0m-3.1-5.5h0m-2.5-1.4h0m5.2 6.4h0m-5.2-5.8h0m5 7.8h0m8.9-7.1h0m-5.6 3.7h0m3.1-8.1h0m-6.1 6h0m-1.7 1.9h0m7.7-5.9h0m0.8-0.2h0m-4.7 10.1h0m12.6-6.4h0m-16 0.3h0m5.5-0.6h0m9.6-0.1h0m-14.6 4.3h0m10.8-6.4h0m-7.5-3.6h0m-0.7 2.9h0m1.2 4.7h0m-4 3.5h0m8.1-8.1h0m-8.7 1.6h0m8.8 2.1h0m-13.4-1.7h0m1.7-0.4h0m0.7 3.6h0m0.5-3h0m9.4 5.9h0m4.1-4.9h0m-13.6 4.9h0m4.3-9.1h0m-2.8 8.6h0m4.1-7.3h0m12.8 1.7h0m-19.1 4.8h0m2.8-2.5h0m2.7 3.4h0m-1.3-7.5h0m15.8 2.6h0m0.4-1.2h0m-10.7-0.4h0m3.4 1.3h0m1 2.8h0m-0.5-3h0m4.9-1h0m-12.2 4.3h0m-2.7 0h0m6.9-1.3h0m-6.3-3.8h0m7.4 0.2h0m-9.8 4.4h0m8.9 2.4h0m-1.5-7.4h0m9.1 3.6h0m-13.8-2.5h0m6.6 0.5h0m0.5 5.6h0m-10.5-3.2h0m1.9-0.2h0m5.1 1.2h0m2.2 0.5h0m12.3-3.5h0m-12.6-3.7h0m7.6 4.4h0m-17.6-1.3h0m8.9 7.4h0m-4.9-6.1h0m2.1 1.9h0m1.5 5.7h0m0.5-10h0m-8.8 2.4h0m9.8-0.1h0m-8.7-0.4h0m14.7 2.5h0m-4.3 0.9h0m-9-7.4h0m13 7.5h0m-14.7-4.4h0m9.6-2.7h0m0.4-1.5h0m-6.8 7.5h0m1.7 0.2h0m4 1h0m-3.8-5.7h0m6.3 3.8h0m-11.7-1.7h0m9.6 5.4h0m-7.7-5.5h0m4.3 2.3h0m-3.9-2.8h0m4-1.5h0m9.4 3.2h0m-13.6-1.3h0m8.7 2h0m6-2.5h0m-6.4 3.5h0m-8.5-4h0m6.8 4.8h0m-1.5-4.3h0m7.3 0.3h0m-15-2.2h0m22.7 1.3h0m-16.4 1.2h0m0.6 6h0m3.5-1.6h0m1.7-2.1h0m-3.5-2.7h0m-1.8 2.2h0m-6.2-2.5h0m4.2 5.3h0m5.2-5.9h0m-8.9 6.2h0m6.4-4.3h0m-5 6.3h0m5.8-7.2h0m-2.3-4h0m2.7 0.5h0m-9.6 0.8h0m16.2 4h0m-8.1-2.2h0m-5.3 2h0m9.6-4.8h0m0.2 5h0m9.4-1.6h0m-7.6 4.1h0m1.9-5.1h0m-14.3 2h0m7-1.2h0m8.9 0.8h0m-8.3-0.9h0m4.7 0.4h0m-14.6 2.2h0m21.3-1.4h0m-15.8-0.9h0m7.2 5.3h0m-8.6 2.2h0m12.3-4.3h0m-8.7-6.6h0m4.1-1h0m-8.7 5.9h0m5.8-1.1h0m1.3 1.1h0m-4.2 4.9h0m13.1-6.5h0m-3.3 0.3h0m-11.8 6.8h0m-1-8.1h0m16.6 2.3h0m-6.9 0.1h0m0.2-2.8h0m4.8 1.8h0m-10.9 1.9h0m4 2.8h0m11.5-5h0m-1.2 1.4h0m-11.4 2.4h0m-1.2-5.6h0m-4 5.6h0m0.7-5h0m2.1 2.9h0m-0.3-3.2h0m1.4 0.4h0m1.9 2.4h0m-1.5 2.9h0m4.7-0.8h0m-8.1-0.3h0m2.6 4.4h0m1.6-8.4h0m-3.2 2.8h0m-1.8 0.7h0m0.1 1.8h0m6.6 0.1h0m-4.8 0.6h0m4.8-7.7h0m9.5 2.4h0m-6.4 5.4h0m-2.2 0.8h0m-5-4.4h0m13.8-0.8h0m-11-2.4h0m14.5 0.4h0m-16.5 8.6h0m-1.3-3h0m-1.1-7.4h0m10.1 4.7h0m-5.3-5.4h0m-5.4 5.6h0m4.6-3.1h0m-7.5 0.7h0m4.9 6.2h0m-2.8-7.8h0m-1-1h0m10.5 8.9h0m1.9-4.5h0m-10.7 4.1h0m13-5.1h0m-13.4-0.9h0m-0.1 0.4h0m6.3-2.2h0m11.5 1.4h0m-11.5 1.8h0m-0.2-4.1h0m3.8 3.7h0m-9.4 0.9h0m9.8-4h0m-0.2 8h0m-10.6-4.7h0m-2.1-1.1h0m8.1 9h0m4.9-11.1h0m-9.9 1.7h0m2.7 2.7h0m0.9 4.9h0m-1.9-8.6h0m0.6-2.1h0m1.8 7h0m1.5 3.8h0m-5.7-2.5h0m0-0.2h0m3-5.6h0m-0.1-1.7h0m-5.7 1.7h0m5.2 0.2h0m9.2 4.6h0m0.1-0.5h0m4-1h0m-7.4 1.7h0m8.4-3.9h0m-3.6 1.8h0m-0.1 0.4h0m-6.7-1.1h0m-0.5 4.5h0" stroke="#00BFC4" stroke-width="1.15" stroke-linecap="round" fill="none"/><path d="M509.2 132.8h0m-6.5-3.9h0m-2.3 4.4h0m3.5-1.8h0m-12.6 6h0m3.6-2h0m6.9-1.4h0m-6.4-4.2h0m-4.5-0.5h0m11.9-0.4h0m-5.7 11.1h0m0-5.6h0m-2.9 3.6h0m-3.8-6.4h0m-0.7 1.2h0" stroke="#fff" stroke-width="0.85" stroke-linecap="round" fill="none"/><path d="M498 132.3h0m0 0.1h0m2.4 2.1h0m0.4-0.6h0m-1.4-2.1h0m-0.2 0.5h0m0.6 1.6h0m0.8 0.1h0m-2.3 0h0m1.6 0.3h0m-0.1-1h0m0.8-1.3h0m-2.3 1h0m-1.3-1.3h0m3.6 1h0m-2.5-1.1h0m0.9 0.5h0m1.4 0.6h0m-2.7 1.4h0m0.2-2.6h0m-0.5 2h0m2.9-1h0m-1 0.5h0m0.1 0.9h0m-1.7-1.3h0m-0.2 1.7h0m2-0.6h0m1.1-1.9h0" stroke="#fff" stroke-width="1.15" stroke-linecap="round" fill="none"/><path d="M497.6 124.8h0m0.1-1.2h0m-0.8 0h0m0.1 1.6h0" stroke="#00A9FF" stroke-width="1.15" stroke-linecap="round" fill="none"/><path d="M458.4 161L457.8 164.6L459.5 167.4L463.3 169L472.5 172.1L477 170.6L479.8 167.7L479.1 164.2L476.4 162.8L471.5 163.6L471.1 163.5L470.5 160.2L467.6 157.3L464.8 157L461 158.8Z" fill="#00BE67"/><path d="M463.2 157.1h0m13.6 13h0m-1.8-3.7h0m-6.6-6h0m4.9 6.3h0m-4.8-3.3h0m-0.3-0.4h0m0.6 5.6h0m-11.1-3.5h0m12.9 5.7h0m-12.5-5.2h0m7.3 1.2h0m1.2-5.2h0m-9.5 0.4h0m15.5 5.3h0m-2.5-4.9h0m-5.2 4.5h0m-6.2-2.4h0m13.3 5.5h0m-5.4-2.9h0m-0.5 1.3h0m-3.2-3.8h0m11.8 6.6h0m-5.1-2.2h0m-7.9-3h0m10.7 6.2h0m-6.4-9.2h0m8 3.7h0m1.8 0.1h0m-6.5 3.9h0m-0.6 0.7h0m-5-4.6h0m-1.3-7.5h0m11.1 10.8h0m-2.3-8.5h0m4.8 7.6h0m-5.1-1.6h0m-0.7-0.7h0m6.9 3.1h0m-16.7-2.1h0m12.1-3.2h0m6.8 3.4h0m-8.8-3h0m2.8 4h0m-2.3-0.5h0m-1.6-2.9h0m-3.4 0.1h0m1-3.4h0m1.5-1.6h0m10.1 8h0m-13-6.8h0m-5.2 4.5h0m7.8 2.9h0m-4.8-1h0m0.9-6.7h0m0.2-0.3h0m12 3.2h0m-7.7 3.6h0m-6.4-9.9h0m6.6 9.6h0m-1.2-6.3h0m-3.3 3.6h0m-3.4-5.8h0m7.3 4.8h0m8.7 4.1h0m2.8-3.5h0m-19.5 2.6h0m1.3-8.8h0m10.1 8.6h0m-6.6-10.4h0m-2.1 10.5h0m15 0.1h0m-7-7.1h0m0.3 11.5h0m1.6-8.3h0m-7.5-2.9h0m5.4 7.2h0m-10.4 0h0m13.2 1h0m-6-10h0m-5.3 1.9h0m6.7 9.2h0m-0.8 0.8h0m-3.4-0.7h0m-0.3-3.4h0m3.5-6.6h0m-3.3 2.9h0m8 2.6h0m6.4-1.1h0m-0.6 4.1h0m-11.7-7.5h0m-1.5 0.5h0m-4.1 8.1h0m10.4-3.5h0m-7.8-1.9h0m-0.8-2.7h0m1 3.7h0m-2.7-2h0m4 1.7h0m8.2 2.4h0m2.3-0.7h0m0.4-2.1h0m-13.9-4.5h0m-2.1 7.1h0m10.4-4.8h0m-4-6.5h0m-1.1 13.1h0m3.6 1h0m-2.4-12.5h0m-8.3 6h0m12.5-2.5h0m-6.3 4.5h0m7.2 7.4h0m0-8.3h0m5.8 3.8h0m0-1h0m-16.7-3.7h0m1.8-4.6h0m-4.5 4.6h0m9.8 0.6h0m7.6 5.3h0m-13-13.7h0m-0.4 4.9h0m3-2h0m3.5 11.7h0m1.6-11.3h0m0.5 5.7h0m1.9 7.3h0m-10.3-13.7h0m1.2 10.2h0m-4-1.3h0m18 0.9h0m-8.4-2.4h0m-0.5 1.9h0m0.3 2.6h0m-12.1-6.7h0m10.2 2.8h0m2.5-3.5h0m3.9 5.1h0m-8.8-3.6h0m-0.6 1.9h0m-5.3-1.3h0m9.5-2h0m5.2 7.4h0m-6.3-5.2h0m-5.5-5.1h0m4.6 9h0m2.4 0.8h0m9.3-0.1h0m-12.5-9.3h0m-3.1-2.3h0m15.4 12.2h0m-8.9-4.4h0m4.1 5.4h0m-3.1-11.1h0m6.6 6.9h0m-3.3-3h0m3.8-2.1h0m-6.9 1.3h0m0.8-2.4h0m-4-2h0m3.5 2.3h0m-11.2 1.2h0m2.1-3.5h0m7.6 11.5h0m0.2-11.1h0m9.3 6.2h0m-15.3-3.5h0m13.9 1.1h0m-7.2-3.4h0m-2.7 3.8h0m10.4 1.9h0m-9.9-1h0m-8.3 3.1h0m0.5-8.4h0m17.1 5h0m-9.1-7.5h0m-0.8 13.1h0m4.3-7h0m-12.4-0.5h0m9.2 6.3h0m-1.4-10.2h0m6.9 6.4h0m-8 1.3h0m1.4-9h0m-2.8 3.8h0m0.8-0.9h0m-5.1 0.6h0m0.1-1.3h0m1.4 1.3h0m14.7 8.8h0m-11.1-2.4h0m-1.8-6.9h0m-1.6 2h0m16.8 3.2h0m-5.4 1h0m2-3.9h0m-7.2 6.8h0m4.8-3.2h0m-8.9-2.1h0m-2.6-0.7h0m5.3 4.9h0m6.6-4.2h0m-9.6-0.7h0m4.4 0.9h0m-5.2-3h0m3.8-3.9h0m-5.6 4h0m12.2 3.5h0m2.1-2.2h0m-1.9 1.4h0m-6.6-2.4h0m-5.9 1.8h0m3.4-0.6h0m11.5 7.6h0m-10.6-2.6h0m14.1-3.5h0m-13.2 6h0m6.3-5.1h0m-2.3 1h0m-7.1-1h0m16-0.4h0m-9.6-3.4h0m1.9-0.4h0m-9.6 2.5h0m7.5 4.1h0m5.7-2.1h0m-4.4 3.3h0m-3.3-7.8h0m-6.9 2h0m6.7 1.2h0m-5.1 1h0m1.9 0.1h0m4.1-7.2h0m-2.7 11.9h0m9.4-6.3h0m-13.6 3.7h0m5-6.7h0m10.6 5.1h0m-6.8-2.4h0m-9.1 2.3h0m16.6 5.3h0m1.7-6.5h0m-3.9 1.3h0m-4.2-0.2h0m-9.6-6h0m4.2 10.7h0m2-4.9h0m3.6 4.3h0m-9.8-5.1h0m9.5-3.2h0m-12.3 6.1h0m8.5-2.1h0m-3.3-0.7h0m13 2.1h0m-16.1 0.3h0m18.2-1.6h0m-7.8 3.4h0m4.5 2.1h0m-6.6-3.1h0m-4.9-1.1h0m0 0.7h0m6.9 3.8h0m-5-6.4h0m-4-4.9h0m-3 3.2h0m14.9 5.2h0m-14.8-9.3h0m8.7-2.4h0m10.3 10.2h0m-5.3 1.3h0m-9.1-11h0m8 11.6h0m6.5-4.9h0m-4.4 7.9h0m-11.5-7.9h0m0.9-5.5h0m1.9 4.9h0m7.6 4.5h0m5.8-3.2h0m-17.9-4.6h0m-1.4-0.1h0m4.4 2.2h0m10.8 2.8h0m-13.9-2.6h0m12.3 3.2h0m2.7 2.8h0m0.7-1.5h0m-7.2-4h0m-2 6.1h0m5.9-2.4h0m-9.9-5.9h0m2.3 0.4h0m1.8 1.5h0m11.9 3.6h0m-3.2 5.1h0m-16.4-6.4h0m-0.3-2.1h0m4.8 7h0m0-3.3h0m13.6 2.2h0m-9.6 0.6h0m4.5-2.8h0m1.9 2.7h0m-0.2-0.1h0m-15.2-4.2h0m3.1-3.4h0m6 8.5h0m-0.4-0.3h0m0.2 1.1h0m-7-11.6h0m7 6.3h0m-8.6-2.6h0m16.3 7.3h0m-13.5-2.5h0m2.9-4.5h0m-2.7 2.2h0m6.7-5.8h0m0.5-1.3h0m-3.3 12.1h0m4.6-3.3h0m1.6-0.9h0m2.7 3.2h0m-13.8-5.5h0m17.1 5.4h0m1.3-2.5h0m-16.7-7h0m14.6 4.3h0m-11.3 3.9h0m-6.2-7.2h0m5.7-3.2h0m7.2 15.2h0m-0.7-2.1h0m-3.9-0.8h0m-0.9-2.2h0m1.7 1.4h0m-5-9.1h0m1.7 5.9h0m3.4-3.5h0m-1 6h0" stroke="#00BE67" stroke-width="1.15" stroke-linecap="round" fill="none"/><path d="M469.1 168.7h0m-7.8-0.9h0m17.4 0.1h0m-1 1.3h0m-10.8-8.7h0m-8.3 0.5h0m1.7 6.2h0m7.9 3.6h0m-0.2-1.3h0m1.6-3.2h0m-3.4-6.3h0m2.2 5.6h0m9.1 3.8h0m-16.4-2.5h0m10.7 1h0m5.8-0.8h0m-15.4-5.4h0m5.9 9.4h0" stroke="#fff" stroke-width="0.85" stroke-linecap="round" fill="none"/><path d="M466 160.8h0m-0.8-0.1h0m0.9-0.3h0m1.8 0.5h0m-1.2-0.2h0m-1 0.7h0m-0.2-2.3h0m2 1.4h0m0.8-1.1h0m-1.4-0.9h0m0.7 2.2h0m-0.6-0.7h0m-1.8-1.5h0m-0.1 0.6h0m3.3-0.5h0m-1.1 1.4h0m-0.2 0h0m0.2-0.9h0m-0.3 1h0" stroke="#fff" stroke-width="1.15" stroke-linecap="round" fill="none"/><path d="M466.7 165h0m2-1h0m1.7-1.6h0m-0.6 0.6h0m0.5-0.4h0m-3.7 1.9h0m-0.5 0.1h0m3.2-1.8h0m1.2 1.2h0m-2.3 0.2h0m-1-1h0m2.1 0.1h0m1.6 1.1h0m-1.9-0.2h0m1.3 0h0m-2.7-0.7h0m3.4 2.1h0m-1.5-1.7h0m-1.1 0.4h0m1.3-1.1h0m-1.7 0.9h0m1.1-0.6h0m-1.2-1.2h0m-0.8 3h0m0.5-1.1h0m1.4-0.9h0" stroke="#fff" stroke-width="1.15" stroke-linecap="round" fill="none"/><path d="M452.9 167.5h0m0.1-2.3h0m0.9 1.1h0" stroke="#00BE67" stroke-width="1.15" stroke-linecap="round" fill="none"/><path d="M519.5 175L521.2 177.4L523.7 176.2L524.4 172.9L521.9 171.7Z" fill="#00BFC4"/><path d="M522.5 176.2h0m-0.1-1.7h0m0.7-1.9h0m0.5 0.7h0m0.6-0.4h0m-0.5 3h0m-2.7-3.5h0m-0.5 0.9h0m2.2 0.4h0m-0.2 1.9h0m-1.3-1.5h0m1.6 1.5h0m1.1-2.3h0m-0.5 2.4h0m-2.1-3.2h0m1.7 2.2h0m1.8 0.4h0m-3.2 0.5h0m0.3 1.2h0m-1.9-1.3h0m3.7-2.3h0m-1.2-0.7h0m0.6 3.6h0m1.4-3.1h0m-2-0.1h0m0.8-0.5h0m1.1 1.5h0m-2.2 2.4h0m0.4-3.2h0m-1.6 2.1h0m0.9-0.1h0m-0.1-1.7h0m2.6 1.2h0" stroke="#00BFC4" stroke-width="1.15" stroke-linecap="round" fill="none"/><path d="M521.2 173.2h0m-1.1 0.7h0" stroke="#fff" stroke-width="0.85" stroke-linecap="round" fill="none"/><path d="M516 169.4h0" stroke="#00BE67" stroke-width="1.15" stroke-linecap="round" fill="none"/><path d="M493.3 203.7L494.6 206.3L496.1 206L494.8 204Z" fill="#00BE67"/><path d="M494.5 205.8h0m-0.5-1.2h0m0.7 0.5h0m-1-0.1h0m0.9 0.3h0m0.5-1.2h0m0.1 1.5h0m0.3-0.7h0" stroke="#00BE67" stroke-width="1.15" stroke-linecap="round" fill="none"/><path d="M494.7 205.5h0" stroke="#fff" stroke-width="0.85" stroke-linecap="round" fill="none"/><path d="M475.4 212.2h0m1.2 0.6h0m-1.4-0.1h0m-0.7-0.7h0m1.2 1.3h0" stroke="#00BFC4" stroke-width="1.15" stroke-linecap="round" fill="none"/><path d="M544.7 121.9L545.4 123.7L547.4 124.9L550.7 124.3L551.8 121.4L549.6 119.6L547.4 119.3Z" fill="#CD9600"/><path d="M550.5 120h0m-4.6 3.2h0m4.9-1.7h0m-1.6-1.2h0m-1.4 4.5h0m-0.5-3h0m2.5 0.2h0m-1.7-2.3h0m-0.3 5.4h0m0.8-6.1h0m1.5 3.5h0m-0.2-2.2h0m-2.9 3.4h0m-0.6-0.1h0m4.2-2.5h0m-4.9 2.6h0m0.5-2.2h0m-1.2 3.1h0m5 0.2h0m-2.8-1h0m-0.2-2.8h0m2.9 3.6h0m-1-4.1h0m-2.1 2.5h0m-0.1-0.2h0m3.9 0.5h0m-5.1-1.3h0m3.8-2.9h0m0.4 4.8h0m0.6 0.3h0m-4.9-2.2h0m2.5-1.6h0m-2.2 2.3h0m4.4-2.8h0m-3.6 4.9h0m1.3-1.4h0m-1.5 0.3h0m2.7-0.4h0m0.5-1.8h0m-2.1 0.5h0m3.9 0h0m-1.4-0.2h0m1.4 2h0m-1.3-0.2h0m-1.1-2.9h0m-0.8 1h0m-0.8 2.7h0m0.8-4h0m2.2 0.8h0m-2.8 1h0m1.5 1.3h0m-1.3-2.7h0m1.7-0.6h0m-3.6 2h0m-1.6-0.6h0m2.5 1.9h0m0.3-2.7h0m4.3 0.3h0m-1 3.2h0m1.2-0.2h0m-3.3-6.2h0m1.3 3.5h0m0.2 3.6h0m-4.9-3.2h0m7 0.2h0m-6.3-1.4h0" stroke="#CD9600" stroke-width="1.15" stroke-linecap="round" fill="none"/><path d="M545.8 121.9h0m2.3 1.3h0m-2.9-0.2h0" stroke="#fff" stroke-width="0.85" stroke-linecap="round" fill="none"/><path d="M388.2 170.6L387.6 176.4L389.4 182.6L393.2 190.1L397.6 197.8L398.8 206.4L401 207.3L401 199.3L396.7 191.8L390.4 176.6L388.6 170.6Z" fill="#00BE67"/><path d="M395.6 189h0m-6-6.9h0m0.2-6.1h0m10.1 24.2h0m-11.1-26.4h0m0.2-0.5h0m0.5 6.6h0m6.9 14.2h0m-1.2-1.2h0m-3.9-5.7h0m0-0.2h0m0-4.2h0m7.3 16.9h0m-9.3-13.7h0m5.4 1.2h0m5.5 10h0m-12.7-24.1h0m7.9 20.4h0m2.2 1h0m-2.6-6.5h0m-1.4-2.1h0m6 16.8h0m-10.6-29.6h0m5 13.9h0m-5.3-15.1h0m9.4 26.5h0m-5.5-16h0m4.5 14.2h0m4.2 5.2h0m-2.3-4.3h0m-11.5-23.4h0m4.1 12h0m4.5 5.2h0m4.9 9.8h0m-8.7-17.8h0m-4.8-11h0m1.7 3.5h0m-0.5-0.7h0m11.8 23.4h0m-0.7 1.3h0m-9.1-24.3h0m-2.6 2.1h0m5.7 6.6h0m-2.4 0.2h0m0.9 2.1h0m6.7 14.9h0m-0.6-1.1h0m0.2 3.2h0m-6.5-16.7h0m5.2 7h0m3.5 7.4h0m-3.3-9.4h0m-4.6-1.2h0m3.2 3.2h0m-7.5-21.5h0m9.5 22.2h0m-0.6-1.4h0m1 0.4h0m3.1 12.5h0m-3.6-12.1h0m-5.6-14.3h0m-1.5 6.8h0m9 19.8h0m-7.2-17.5h0m-0.1-3.1h0m-0.4-0.6h0m-0.9-1.3h0m4.3 10.1h0m3.4 5.7h0m1.6 2.2h0m-10.8-20.1h0m-0.4-1.3h0m2.4 7.9h0m0.8 0.7h0m0.7 2.7h0m-5.8-14.9h0m2.4 3.1h0m9.4 21.4h0m0-0.9h0m-1.2-5.6h0m-9.3-14.4h0m3.9 6.6h0m5.6 19h0m-5.9-20.2h0m6.3 8.5h0m-5.9-4.8h0m0.1-8.1h0m5.8 14.4h0m-2.6-5.4h0m-0.9-3.2h0m-5.2-16.6h0m-1.8 6.5h0m10 25h0m4.1-0.9h0m-13.6-30.2h0m2.6 14.3h0m10.3 13.5h0m-9.7-14.2h0m5.8 15.4h0m0.2-7.3h0m-1.7-2.7h0m4.8 17.7h0m-1.5-7.9h0m-5.7-10.5h0m1 1.6h0m3.8 3.2h0m-2.5-0.4h0m3.1 2.6h0m-9.9-23.4h0m5.1 14.8h0m-2.6-7.2h0m4.5 10.5h0m3.3 10.5h0m-6.6-11.3h0m-4-16.9h0m8 22.9h0m-0.8-2.3h0m-6.5-10.4h0m10.5 17.9h0m-6.3-12.2h0m-2.6-11.7h0m8 29h0m-4-18.1h0m5.4 10.9h0m-8.1-18h0m-0.2 3.6h0m0.5 2.3h0m4.6 17.6h0m-2.1-18.2h0m-7-13h0m13 28.3h0m-5.8-9.1h0m3.7 12h0m-4.2-15.1h0m-5.2-11.3h0m-1.1 0h0m6.9 14h0m3.5 10.9h0m-4.2-9.2h0m-3.8-9.8h0m4.2 6h0m3.8 17.1h0m-2.7-9.1h0m-4.7-16.5h0m4.4 12.6h0m-3-10.1h0m-4.5-5h0m2.4 0.6h0m4.3 11.6h0m-1.3-6.8h0m-6.9-10.4h0m0.4 2.3h0m3.5 2.1h0m-2.2-7.3h0m10 25.5h0m-3.9-6.2h0m-3.9-5.3h0m6.8 18.3h0m-3.2-10.3h0m2.4 6.2h0m3.7-0.6h0m-6.6-6.4h0m-0.1-6.2h0m4.5 10.9h0m-8.5-21.9h0m8.3 30.4h0m-2.7-17.1h0m-6.9-13h0m11 28.9h0m1.4-3.3h0m0.1-0.6h0m-0.7-0.5h0m-7.5-10.3h0m-3.7-12.3h0m7.3 16.2h0m-8-13.4h0m6.2 10h0m1.5 6h0m-6.3-15.7h0m10.1 19.5h0m-7-9.3h0m7.6 9.8h0m-0.5 6.4h0m-11-31.2h0m8.9 27.1h0m-0.2-6.5h0m-9.7-26.5h0m13.1 29.3h0m-9.3-16h0m-2.7-4.7h0m-1.6-7.4h0m11.8 28.9h0m-2.4 1.1h0m-2.6-12.4h0m6.4 14.9h0m-2.1 1.7h0" stroke="#00BE67" stroke-width="1.15" stroke-linecap="round" fill="none"/><path d="M399.9 202.5h0m1 3.3h0m-8.1-20.8h0m8.5 17.8h0m-11.2-21.6h0m6.2 11.8h0m-3.5-8h0m2.2 5.9h0m3.1 9.7h0m-9.2-21.9h0m10.7 25h0m-10-30.9h0" stroke="#fff" stroke-width="0.85" stroke-linecap="round" fill="none"/><path d="M407.1 181h0m-3 1h0m-7.1-3h0m1.4 2.2h0m-1.4-2.5h0m-5.7-1.8h0m19.4 6.3h0m-12.1-1.6h0m-5.7-4.5h0m-1.9 0.8h0m18.9 3h0m-11.2 0.5h0m-3.4-2.9h0m14.2 3.6h0m-11.1-0.5h0m3.5-0.3h0m8.2 0h0m-20.2-4.1h0m7.5 2.7h0m-0.4-0.5h0m6.7 1.4h0m3.7 1.1h0m-13.4-3.2h0m10.1 4.2h0m3-0.6h0m-10.4-2.7h0m9.7 3.4h0m-0.1 0.1h0m3.9-1.6h0m-7.1-1h0m-11.3-3.3h0m13 5.3h0m-8.2-3.1h0m-0.6-0.4h0m-2.1-0.9h0m-3.3-2.3h0m8.9 5.2h0m11.5 1.6h0m-1.8 0h0m-8.8-0.6h0m2.4-0.2h0m-9.6-3.2h0m3.7 1.5h0m3.5 2.2h0m0.6-0.5h0m10.2-0.1h0m-13.9-1.4h0m9.3 3.2h0m-6.4-2.3h0m-6.8-3.5h0m14.3 4h0m-6.3 0.1h0m-1-1.8h0m4.8 1.7h0m-2.4 0.1h0m-8-3.2h0m15.2 2.5h0m-1.3 0.7h0m-6.4 0.1h0m-1-2.3h0m-6.1-1.7h0m1.9 1.6h0m6.2 1.3h0m3 2h0m-1.5-0.4h0m0.9-0.1h0m-11.9-4.2h0m6.7 3.3h0m4.8 0.6h0m-1.8-0.9h0m-8.6-1.3h0m8.5 1.2h0m-3.5 0.6h0m-3.3-1.7h0" stroke="#00BE67" stroke-width="1.15" stroke-linecap="round" fill="none"/><path d="M398 184.8h0m0.6 2.2h0m-0.5 3.4h0m1.2-7.5h0m-2.1-0.9h0m4 8.5h0m-2.1 0.3h0m-0.9 0.5h0m-4.5-10.1h0m5.3 7.5h0m2.6-0.4h0m-6.8-3.6h0m0.5-1.6h0m4.2 5.2h0m2.1 6.4h0m-0.7 3.8h0m-2.2-15h0m-1.7 5.9h0m1.3-6.2h0m-0.5 1.2h0m0.5 7h0m-1-9.1h0m4.3 3.7h0m0.1 6.6h0m-4.9-4.6h0m1.3-3h0m3.4-0.8h0m0.7 6.6h0m-6.6-8.2h0" stroke="#00BE67" stroke-width="1.15" stroke-linecap="round" fill="none"/><path d="M405.4 197.9h0m-1 3.1h0m-1.9-0.4h0m-0.2-0.5h0m0.9-2.6h0m-1.1 2.9h0m1.5 0.2h0m1.2-6.5h0m1.5 0.2h0" stroke="#00BE67" stroke-width="1.15" stroke-linecap="round" fill="none"/><path d="M411.6 182.8L413.3 184.6L412 189.2L408.3 194.4L406.4 200.7L401.8 207.2L397.5 208.5L395.8 213L398.7 217.1L405.4 219.2L411.5 218.9L416.9 216.5L418.6 213.1L416.1 208.1L416.7 200.4L419.9 195.2L420.4 191.3L416.8 189.3L416.1 183.2Z" fill="#00BE67"/><path d="M415.9 189.5h0m-0.3 22.3h0m-0.6-3.8h0m-5.9-2.7h0m5.7 0h0m-10-1.8h0m8.1-11.3h0m0.3 25h0m1.4-23.6h0m1.8 7.6h0m-8-5.4h0m8.6 12h0m-14.1-1.2h0m-1.9 2.2h0m8.4-14.2h0m-11.7 15.6h0m17.4 1.7h0m-0.5-13.9h0m-16.6 13.3h0m16.8-19.2h0m-10.9 23.7h0m-1.9-4.5h0m7.5 4.4h0m6.5-7.8h0m4.9-15.6h0m-14.4 23.8h0m2.7-16.2h0m-1-5h0m-8.9 16.9h0m21.2-17.2h0m-13.2 22.1h0m-5.3-3.9h0m-5.8 1.8h0m14.4-21.8h0m2.8-0.4h0m-0.5 5.3h0m-6.7 7.9h0m0.7-1.2h0m0.2 6.1h0m1.2 3.4h0m8.6 2.4h0m-6.7-18.7h0m-0.3-5.7h0m2.5 22.9h0m6.5-22.8h0m-3.6 24.4h0m-5.3 0.1h0m2.3-21.2h0m-1.1 15.1h0m4.4 1.8h0m-1.1 4h0m-14.6-2.4h0m3 0.9h0m-5.8-4.6h0m8.7 6.2h0m10.8-2.8h0m2.6-22.3h0m-8.8 1h0m-2.3 23h0m-0.6-4h0m11.1-14.9h0m-7.1 19.4h0m-4.3-3h0m5-12.8h0m-1.6 5h0m0.6-6.4h0m1.3-6.3h0m-5.7 14.2h0m7.9-14.4h0m-1.5-6.1h0m-3.4 21h0m-8.2 4.4h0m8.1 3.3h0m6.4-21.7h0m-3.6 14.8h0m-10.2 7.2h0m15.3-24.8h0m-14.3 16.8h0m-0.2 3.2h0m7.3 2.5h0m4.1-19.4h0m-8.5 23.2h0m-7.7-1.8h0m9.3-19.5h0m8.2-1.2h0m-19.4 16.9h0m19.7-22.5h0m-10.3 19.3h0m4.6 6.6h0m5.1-30.8h0m-12.3 32.4h0m7.4-10.7h0m-1.4 13.4h0m2.4-29.4h0m5.3 5.5h0m-7.6 8.8h0m0.4-8.8h0m-11.1 21.1h0m11.1-22.2h0m8.5 7h0m-20.4 14.7h0m11.2-9.8h0m-2.5 6.9h0m9.4-14.9h0m-0.1 10.1h0m-5.7 5.3h0m-8.6-1h0m8.3-15.8h0m-4.6 6.2h0m10.3 2.7h0m-17.2 5.2h0m8.4-3.2h0m2.7 2.5h0m2.2-11.5h0m-1.4 17.3h0m-0.1-18.1h0m3 18.1h0m-6.5-1.8h0m12.3-17.6h0m-11.2 15h0m5.4-10.8h0m-6-1.9h0m-8.4 9.2h0m9.8-4.4h0m-6.8 13.5h0m7.1-10.2h0m7.7 8.7h0m-7.3-5.6h0m8.8-11.6h0m-1 7.6h0m-14.9 4.3h0m8.3-16.5h0m-11.9 14.7h0m0 0.8h0m6.9-3.5h0m2 11.6h0m3.4-5.6h0m-13.1 2.4h0m5.7-1.5h0m0.5-0.3h0m-0.4 2.2h0m11-11.1h0m-15 7.4h0m14.7-24.3h0m-5 22.4h0m6.5-11.3h0m4.2-1.8h0m-3.2-4h0m-6.7 23h0m3.5-8.4h0m-0.8 3.9h0m-14.5 1.5h0m9.4 7.4h0m2.2-12.2h0m1.1-0.9h0m-2.5-2.8h0m7 4.4h0m-0.9 6.4h0m-5.2-11.3h0m-7.9 15.8h0m13.9-15.7h0m-9.4 4.4h0m6.6-24.5h0m3.9 4.2h0m-10 28.4h0m-7 0.1h0m18.2-19.9h0m-9.9 11h0m1 11.4h0m5.3-24.9h0m1.8-0.8h0m-5.1 20.9h0m0.1 3.4h0m-7.2-9.5h0m-3.2 5.3h0m12.3-10.8h0m7.1-9.4h0m-4.3-6.6h0m-7.7 16.1h0m-8.8 8.4h0m18.1-17.6h0m-1.6-7.7h0m-10.1 25.3h0m-5.1-1.5h0m9.4-8h0m4.7 15.8h0m0.8-1.1h0m-10.8-5.6h0m7.6-3.5h0m0-3.9h0m-5 8.9h0m6.9 3.1h0m0-25.8h0m-10.1 30.3h0m13.7-24.8h0m-5.6 20.3h0m4.4-12.8h0m-3.8-9.6h0m-2.3 16.6h0m1.5-4.4h0m-8.8 4.3h0m-5.1 5.9h0m15.2-7h0m-7.2 5h0m4.3-17h0m2.6-12.6h0m1.4 27.4h0m-1.6-5.8h0m-5.9-1.3h0m11.2-3.8h0m-7.4-7.3h0m5.3 20.1h0m-5.2-13.4h0m-2.7 2.7h0m7.3-13.5h0m-11.1 19.9h0m12-15.8h0m-5 23h0m-9.2-1.2h0m14.9-22.6h0m-11.8 25.7h0m4.7-8h0m3.2-3.9h0m2.6 5h0m-1.1-21.6h0m-5.9 17.6h0m6.1-19h0m-6.8 12.6h0m5.8 2.2h0m-14 15h0m0.4 0.5h0m15.4-28.7h0m-7.4 23.8h0m-3.1-8.6h0m-4.3 13.3h0m1.5-1h0m10.1-7.9h0m-11.6 6h0m14.2-12.3h0m-6.6 14.8h0m8.8-12h0m-7.2 0.3h0m6.2-16.1h0m-8 27.5h0m6.8-8.5h0m1.7-2.6h0m-3.5 13.7h0m2.9-27.4h0m-13.6 18.1h0m8.1 5.4h0m9.8-20.9h0m-19.1 14.8h0m14 7.6h0m-11.1 1.5h0m8.7-13.8h0m-9 14.6h0m12.3-25.7h0m-8.9 9.6h0m5.9-2.6h0m-7.3 17.1h0m8.5 1.7h0m-3.3-14.9h0m1.6-4.2h0m-1.5-7.2h0m6.6 1.2h0m-7.6 22.6h0m1.6 2.3h0m-8.2-10.7h0m14.3 4h0m-8.6-10.8h0m10-8.9h0m-4.1-6.9h0m3.3 27.9h0m-1.7 2h0m0.1-22.3h0m-0.4 6.3h0m-0.4 16.6h0m0.5-13h0m-5.5 11.7h0m2.6-10.4h0m-0.2 5.5h0m-13.2 3.4h0m7.4 6.6h0m11-4.4h0m-3.1-12.2h0m-6.3 9.4h0m10.8-20.1h0m-12.7 8.8h0m-1.7 11.5h0m9.3-9.4h0m-2.9 4.9h0m-9.3-1.6h0m12.7 9.2h0m-2.5-9.3h0m-5.4-2.9h0m4.8 14.8h0m-3.2-20.9h0m2.5 5.8h0m-7.7 8.3h0m8.3-21.4h0m-12.7 22.7h0m1.4-3.4h0m15.2-25.8h0m-2.1-0.3h0m1.5 26.3h0m-9.2-1.5h0m-2.6-1.9h0m-6.2 8.1h0m10.2 1.7h0m10.6-20.5h0m-5.6 5.5h0m-4 17.5h0m-5.6-10.7h0m11.5-0.4h0m-1.6 8h0m0.5-5.6h0m4.3-16.6h0m-1.2 15.8h0m-15 7.8h0m7.5-3.2h0m-2.2-9.5h0m5.1 9.6h0m-13-2.5h0m17.5-20.5h0m-12 12.1h0m13.5 9.7h0m-7.5-3.4h0m-1.5 9.6h0m3.1-15.1h0m-7 2.5h0m0.7 2.2h0m8.9-17.7h0m-10 17.5h0m6-10.6h0m2.6-14.1h0m-11.3 27.7h0m4.8-0.3h0m-4.6 4.4h0m1.4-6.8h0m12.5-8h0m-15.1 7.2h0m15.8-8.8h0m2.4-3h0m-2.7 19.7h0m-19.8-5.5h0m15.7 0.3h0m-4.2 5.5h0m5.5-9.4h0m3.1 4h0m-7.8-15.7h0m-2.1 7.5h0m4.5-7.8h0m1 0.9h0m3.1 19.7h0m-5.5 3.5h0m0.8-3.2h0m-12.5 1.7h0m6.5-4.6h0m-4.1 2.3h0m-0.8-2.3h0m-3 1.4h0m9.2-9.9h0m8.9 4.8h0m-14 2.1h0m-2.9-0.3h0m18.8-7.8h0m-12.1 11.4h0m6-7.8h0m-3.3 1.2h0m2.1 5.8h0m5.6-20.1h0m0.8 13.6h0m-1.7-2.8h0m1.7-6.7h0m-5 13.1h0m-0.8-3.7h0m10-15.3h0m-8.5 17.8h0m-15.7 1.7h0m12.4-3.3h0m10.6 5h0m1-21.1h0m-4.5 24.1h0m-0.7-28.5h0m-12.1 29.5h0m8.7-34.2h0m0.2 33.5h0m2.6-29.6h0m-10.6 26h0m13.5-0.8h0m-6.3-1.5h0m-3.9-4.1h0m-4.8 12h0m3.1-13.6h0m11-18.3h0m0.4 9.6h0m-7.3 18.5h0m10.9-20.8h0m-4.8-6.1h0m-16.6 27.9h0m15.5-23.7h0m-3.1 18h0m-5.6-6.6h0m3.6 16.7h0m8.4-28.5h0m-4.4 4.3h0m2.3-3.6h0m-18.9 17.8h0m11.6 1.2h0m2.1-10.8h0m-7.6 13.4h0m9.3-13.3h0m3.5 3.4h0m-15.6 14h0m17.7-25h0m-9.1 4.5h0m2.8 20.1h0m2.6-28.8h0m-4.6 9.8h0m-11.4 18.7h0m10.5-18.9h0m0.5 19.2h0m9.8-20.4h0m-3.1 8h0m-4.9 9.8h0m4.1-17.5h0m-4.1-3.3h0m-1 24.8h0m-2-16.5h0m3.6 11.3h0m3.4-22.4h0m0.6 25.2h0m-0.6-11.2h0m-4-6.6h0m-1.5-3.4h0m1-2.9h0m5.6 13.7h0m-0.7-14.8h0m-7.3 5.1h0m7-2.3h0m-11.4 24.3h0m2.8-14.2h0m10.3-0.6h0m-0.4 2h0m1-9.2h0m-12.6 15.4h0m13 0.7h0m-11.7 7.8h0m-0.7-14.7h0m8.5-1.9h0m-7 11.6h0m-6.1-6.7h0m15.5-20.6h0m-5.7 20.1h0m1-2.8h0m2.1 13.6h0m-7.2-1.4h0m2-3.9h0m-0.2-14.5h0m2.2 17.9h0m1.8-16.6h0m-2.6 16h0m8 0.3h0m-3.1-2.2h0m5.3-22.7h0m-24.6 21.5h0m5.8 5.1h0m9.8-13.1h0m-3 3.7h0m1.2-13.6h0m7.3 9.7h0m-5.9-7.7h0m-6.9 13h0m10.9-10.4h0m-12.9 6.5h0m18.4-12.7h0m-8.9 12.2h0m-7 2.2h0m-8.1 7.2h0m20.1-9.8h0m-5.2-3.6h0m-7.2 17.2h0m7.2-8.9h0m-12.7 5.6h0m9.4 3.8h0m10.9-3.4h0m-4.4-14.3h0m-5.5 12.7h0m6.5-19.9h0m-2.1 12.7h0m-5.2 10.9h0m3.7-20.7h0m6.6 13.2h0m-18.2 4.9h0m17.6-25.7h0m-9.2 7.8h0m-0.6 13.1h0m-11.7 4.1h0m10.5 3.6h0m-4-9.7h0m-1.1 9.5h0m1.3-11h0m9.6 10.9h0m1.5 0.2h0m1.9-34.4h0m-6 35.2h0m8.7-27.7h0m-13.2 19.8h0m13.5-20.5h0m-9.7 26.4h0m1.5-6.4h0m5-16.8h0m-3 22.4h0m4.8-23.3h0m-6.5 21.9h0m7.2-21.4h0m-5.8 5.2h0m2.6-0.7h0m4.6 15h0m-13.1 7h0m10-31.5h0m-10.6 28h0m-2.1-2h0m11.6 0.1h0m-6.1-13.7h0m6.8 9.7h0m-17.8-1.7h0m4.3 1.7h0m11.2-2.2h0m2.9 2h0m-2.7-4h0m-4.3-2.8h0m-7.6 7.1h0m-3.3 4.9h0m2.4-5.8h0m8.7-0.1h0m4.9-9.2h0m-0.9 15.1h0m-4.8-15.3h0m1.6-2.3h0m-9.2 13.7h0m15.6-27.3h0m-13.3 28.3h0m12.4 2.7h0m-6.4 4h0m-10-2.7h0m9.4-9h0m0.6 8.9h0m0.4-15.8h0m-11.7 14.7h0m18.6-23.5h0m-1.6-3.1h0m4.1 7.6h0m-9.4 16.3h0m-0.3-14.4h0m1.8 19.5h0m1.2-19h0m-3.1 18.2h0m5.7-24.7h0m-1.5 10.4h0m3-12.6h0m1.5 3.1h0m-10.2 22.1h0m5.5-4.6h0m-7.8-8.7h0m9.5-5.4h0m-13.7 11.8h0m4.1-2.1h0m9 2h0m-1.6-5.2h0m0.6 7.8h0m4.9-13h0m-19.1 14.5h0m17.7-0.1h0m-9.2 0.2h0m1-7.5h0m6.3-13.6h0m1.2 8.3h0m-4 4.9h0m-3.2 1.9h0m11.4-11.7h0m-15.8 15.4h0m8.3-6.4h0m-6 3.6h0m5.8-15h0m5.3 2.7h0m-19.2 14.2h0m16.9-14.9h0m-12.3 20.1h0m14.6-2.1h0m-5.2-18h0m-11.7 14.9h0m13-0.1h0m-2.8-0.7h0m-14.1 4.6h0m17.9-12.7h0m-14.4 7.7h0m13.7-6.1h0m-6.6 4.5h0m5.6-7h0m-0.1 18.5h0m-10.8-11.3h0m9.3-9.7h0m2.5 7.2h0m-1.4-13.3h0m2.5-4.4h0m-5.2 22.5h0m5.2-19.5h0m-1.3 2.4h0m1.5 10h0m-14.4 7.9h0m10.8-5h0m0.6-18.5h0m2.5 1.5h0m2.9 10h0m-5.1 14.7h0m-9.3-5.8h0m4.5 3.1h0m9 5.7h0m-4.3-12.3h0m8.3-8.2h0m-7.6 18.4h0m1.6-3.8h0m-13.9 5.1h0m12-30.5h0m-2.6 16.7h0m2.6 6.6h0m-5 13.3h0m-9.2-4.8h0m11.5-9.6h0m3.5 3.8h0m-6-9h0m-9.5 9.8h0m16.8-6.4h0m4.2-11.1h0m-15.7 23.4h0m16.8-24.3h0m-7.8 10.7h0m2.1-7.1h0m-1.7-2.8h0m1.4-5.9h0m-0.5 1h0m-8.5 21h0m6.3 2.7h0m0.5-6h0m-2.9 12.8h0m3.3-18.1h0m-14.2 9.7h0m0.2 0.8h0m5.2 2h0m10.2-29.9h0m-3 24.5h0m3.8 7.2h0m-7.5-13.7h0m3.5 14.4h0m-7.3-6.5h0m1.7 0.7h0m6 1.5h0m-6-6.1h0m6.9 6.5h0m-5.3-9.1h0m8.2-14.2h0m-15.7 22h0m13.7 0.7h0m-4-0.2h0m8.6-15.5h0m0.6 15.7h0m-20.2-0.6h0m4.7 5.7h0m14.4-19h0m-2.4-11.5h0m-6.7 30.7h0m8.1-19.1h0m-3.7-2h0m-5 7.2h0m12.4-9.8h0m-19.5 15.7h0m16.4-19.9h0m-3.6 2.9h0m3.8 10.8h0m0.2-5.6h0m-5.3 11.7h0m-3.9-7.5h0m1.2-5.4h0m-5.7 11.5h0m1.5-4.2h0m10.9-11.3h0m1.3 6.3h0m-15.5 12.7h0m8.5-5.5h0m-10.1 2.1h0m16.4 5.1h0m-1.3-22.8h0" stroke="#00BE67" stroke-width="1.15" stroke-linecap="round" fill="none"/><path d="M415 208h0m-0.4 3.5h0m-10.9 5.7h0m6.7-11.1h0m-1.7-1.1h0m8-18h0m-20.2 24.5h0m0.2-0.1h0m7.7-0.8h0m11.9-21.6h0m-16.7 19.1h0m15-1.5h0m-7.2-0.8h0m3.6 0.8h0m7.9-13h0m-7.7 24.6h0m3.4-22.4h0m4.3 1.1h0m-18.3 18.1h0m9.3 1.5h0m-9.6-9.2h0m13.1-12.1h0m-0.1 12h0m-0.5-20.6h0m3.9 18.7h0m-19.7 7.4h0m14.2-8.4h0m-3.3-5.9h0m-1.5 11.4h0m12-19.6h0m-15.2 19.3h0m12.9-11.2h0m-3.9 7.8h0m-2.9-11.6h0m4.9-1.7h0m-8.2 22.4h0m0-7.7h0m-0.4-3h0m12.4-7.8h0m-9.1 13.9h0m11.5-16.5h0m-10.6 24.5h0m6.2-30.8h0m-4.6-5.1h0" stroke="#fff" stroke-width="0.85" stroke-linecap="round" fill="none"/><path d="M418.7 182.6h0" stroke="#00BE67" stroke-width="1.15" stroke-linecap="round" fill="none"/><path d="M427.9 181.2h0m0.6-0.1h0m-0.1 0.3h0m-0.9-0.9h0" stroke="#00BE67" stroke-width="1.15" stroke-linecap="round" fill="none"/><path d="M457.7 92.8L462.4 96.3L472.4 101.3L477.3 103.2L481.3 104.4L482.9 101.1L481.7 96.2L482.3 91.1L481.2 86.7L477.1 85.8L470.9 85.2L461.7 87.1L459.4 88.8Z" fill="#00BE67"/><path d="M464.9 90h0m-1.7 0.6h0m-4.6 0.6h0m6.2-5.4h0m10 4.1h0m-0.5 1.8h0m-1.6 1.7h0m0.4 3.9h0m4.9-1h0m3.7-2.5h0m-1.6 5.4h0m0.7-1.3h0m-19.5-4.3h0m16.6 5.6h0m-1.5-12.8h0m-4.9 9.3h0m-6.9-6.5h0m-6.5 2.6h0m15.8-0.4h0m1.7-0.2h0m-16.3-2h0m18.6 3.4h0m-1.9-6.3h0m4.5 18.8h0m-14.8-9.1h0m11.2 4.2h0m-10.2-13.9h0m-8.2 1.6h0m13.1 11.7h0m5.3-5.2h0m-7.1-8.6h0m-10 5.3h0m19 13.2h0m-10.1-11.3h0m-1.9-3.4h0m-2.7 2.1h0m10.6-3.5h0m-6.9 8h0m11.9-4.5h0m-1.8-1.1h0m-6.3-4.5h0m8.9 5.4h0m-0.6-1.4h0m-4.8 1.3h0m5 11.7h0m-4.7-10h0m-13.1-4.7h0m10.8 7.5h0m4.1-8.4h0m-3.9 2.3h0m1.8 10.8h0m-9.7-9.1h0m2 5.4h0m13.6-6.1h0m-14.6 3.1h0m13.4 4.4h0m-9.4-6.5h0m6.5 7.5h0m-6.1-4.7h0m10.8 6.8h0m-2.1 0.5h0m0.9-3.5h0m-15.5-10.7h0m-4.9 5.5h0m21.4 11.4h0m-20-11.7h0m17.5 7.6h0m-6.6 1.7h0m-0.6-16.2h0m2.9 5.1h0m5.3-0.4h0m-21.9-0.1h0m20.4 12.2h0m-1.1-3.2h0m-8.3-7.8h0m0.6 4.3h0m-1.4-6.2h0m13.3 5.6h0m-3.1-5.8h0m-14.7-2.3h0m13.7-1.5h0m-2.9 6h0m-5.3 9.1h0m10-12.1h0m-10.1 9.4h0m10.4-2.5h0m-8.9-6.4h0m11.5 13.1h0m-23.2-12.3h0m10.8 5.5h0m1.7-6.2h0m1.7 3.8h0m8 9h0m-21.7-8.4h0m20.2-6h0m0.9 5.2h0m-6.6-1.6h0m-1.9 0.3h0m6.3 11.9h0m-12-7.8h0m-3.7-5.6h0m5.9 4.2h0m12.5 8h0m-9.8-4.4h0m-3.7-6.2h0m9.3 5.9h0m4.7 1h0m-1.9 0.8h0m-12-10.4h0m-4 1.4h0m12-4.4h0m-2.7 0.3h0m-2.9 13.2h0m7.9-4.6h0m-17.9-4.8h0m13.8-3h0m8.5 0.3h0m-16.3 8.3h0m9.5-7.2h0m-9 1.6h0m3 4h0m12.2 2.3h0m-11.4-1.4h0m1.1-9.2h0m8.8 0.7h0m-19 6h0m10.6 6.1h0m5-7.9h0m-2.5 6.6h0m6.6 0.5h0m-1.5-12.2h0m-3.8 5.9h0m1.8-2.4h0m-8.3 4.7h0m-0.7-8.4h0m14 15.2h0m-17.7-8.7h0m-5.4 2.9h0m14 6.3h0m8.4-9.9h0m-10.5 8.9h0m1.9-4.9h0m-14-4.5h0m9.5-2.7h0m-7.7 3.4h0m17.2-2.9h0m-6.3 6.1h0m-9-3.3h0m16.6 7h0m-4.5-0.3h0m-15.3-5.7h0m18.4 3.3h0m-5.9-3.6h0m-4.2 2h0m-6.5-6.4h0m13.4 10.6h0m1.6-5.9h0m-9.3-2.1h0m3.3-4h0m6.3 6.3h0m5.4-1.2h0m-14.4 4.2h0m14.5 3.7h0m-9.9-7.6h0m-7 5.7h0m15.2-4.5h0m-1 8.5h0m-4.2-3.3h0m-0.4-5.5h0m-9.7-2.2h0m8.8 0h0m-1.4-3.9h0m-3.9 1.3h0m-5.5 8.7h0m12.5-10.6h0m-2.8 14.7h0m7.5-2.6h0m-11.3-10.8h0m-3.5 6.6h0m5.4 4h0m7.3-11.6h0m-1.7 6.6h0m-9.5-5h0m-4.4 0.3h0m13.3 10.7h0m-8.4-3h0m-1.3-4.8h0m0.8-0.7h0m7.6-0.8h0m6.8 5h0m-4.6 6.4h0m1.7-12.1h0m-10.4 2.4h0m10.1 4.9h0m2.3-3.9h0m-12.8 0.4h0m12.6 3.3h0m-3.8-0.1h0m-18-5.2h0m6.4-3.8h0m15.7 5.6h0m-4.8-3.8h0m-1.4 1.4h0m1.5 0.6h0m-2.2 3.3h0m2.1 5h0m1.7-2.3h0m-2.3 4.5h0m3.5-1.4h0m-16.1-1.8h0m9.8-6h0m-9.3-5.8h0m14.6 15.9h0m-3.7-3.8h0m-1.6-1.3h0m6.3-6.6h0m-11.4-4.6h0m-2.7 1.5h0m6 11.6h0m6.3-11.6h0m-13.4-0.4h0m9.4 9.4h0m7.3-1.6h0m0-5.2h0m0 3.8h0m-0.5-5h0m-6.5 6.5h0m-2.2 1.2h0m8.2 5.5h0m-19.4-14h0m-1.4 3.9h0m3.2 3.2h0m18-7.6h0m-6.9 9.6h0m-11.7-5.9h0m15.4-2.5h0m-13 6.7h0m9.5 6.8h0m-0.7-3.3h0m5.4-4.7h0m-1-5.7h0m2.9 12.1h0m-7-2.6h0m-5.5-2.7h0m-0.4-1.4h0m4.6 6.8h0m1.9 3h0m3.3-4.4h0m-16.7-8.9h0m21.9 13.4h0m-15.8-16.6h0m16.6 5.5h0m-3.5 1.9h0m-3.4-1.8h0m-4.7 2.5h0m-2.3-4.6h0m3.5 9.4h0m-0.4-13.6h0m-4.4-0.2h0m10.6 8.7h0m0.6-6.1h0m-9.2-2.1h0m-1.1 12.6h0m-0.3 0.5h0m-2.1-4h0m7.8 1h0m3 2.2h0m2.3 1h0m-7.9-0.8h0m1.5-1.8h0m3.5-5.9h0m1.1-1.2h0m3.1 13.2h0m-12.1-16.1h0m7.4 8.6h0m2.4-8.3h0m-2.1 14.1h0m-4.4-11h0m8.6 15.4h0m-10.3-9.6h0m9.5-1.8h0m3.1 1.9h0m-22.4-4h0m21.9-3.8h0m-16.6 7.9h0m14.5-9.7h0m-12.7 8h0m-1.9-1.8h0m16.6-0.5h0m-5.9-3h0m-7.1 0.2h0m-8.1-1.5h0m4.5 7.7h0m14.9-8.3h0m-12.2 2.5h0m4.1 1.9h0m6.6-6h0m-3.4 3.6h0m-10.9 7h0m12.1 1.8h0m5.5-2.6h0m-9.1-2.1h0m4.6 2h0m-8.1 3.6h0m2.1-3.4h0m-5.9-5h0m7.8-1.4h0m-14.5 3.8h0m11.7 0.9h0m-1.5-7.8h0m-1.1 8.2h0m9.4 6.8h0m-1.3-15.7h0m-8 12.5h0m3.1 2.1h0m8.9-13.3h0m-8.9 2.8h0m10.6 9.3h0m-16.1-4.5h0m8.8 1.4h0m-13.8-3.6h0m8-4.4h0m6.8 13.2h0m-4.2-15.3h0m3 8.2h0m7.2 6.5h0m-20-7.4h0m3.8 0.2h0m10.7 8.4h0m3.7-9.2h0m-18-5.6h0m20 14.2h0m-10.1-14.3h0m4.2 5.4h0m2.3-2.1h0m-13.6-3.3h0m16 7.6h0m-6.8 2.9h0m9 7.1h0m-6.6-2.7h0m-7.1-9h0m-2.7-0.5h0m5.2-6.1h0m7.6 1.9h0m-5.8-1.1h0m-2.8 2.7h0m-6.9-0.8h0m8.8 5.2h0m-5.9-8h0m-6.1 9.3h0m6.1 2.9h0m1.7-1.8h0m3 0h0m8.9 8.3h0m-12.5-6.2h0m3.9-7.5h0m-14.7 2.1h0m10.7 3.9h0m-1.6 0.7h0m9.1-1.7h0m-2 5.3h0m6.3-1.1h0m-11.6-7h0m1.7 0.2h0m4.7 5.6h0m-15.5-9.2h0m13.4 2.7h0m-4.7-3.3h0m1.3 4h0m9.4 0.3h0m-6.7-4.9h0m9.4 11.8h0m-11.6-6.5h0m-3.1 5h0m-3.5-5.1h0m6.2-1.3h0m-2.6 3.8h0m-3.3-6.7h0m14.6 9.8h0m0.3-4.9h0m-18-5.2h0m9.8-0.7h0m6.3 2.3h0m5.5-2.7h0m-9 3.8h0m8.8 3.1h0m-16.2-7.9h0m11.3 9h0m-3.4-9.8h0m1 10.6h0m-0.3-10.8h0m-1 13.1h0m9.8 0.7h0m-21-8.7h0m12.4 12.4h0m0.4-7.6h0m-0.7-4.7h0m-12.1 2.9h0m6.8-6.7h0m8.6-1.5h0m-11.2 6h0m1.5 3.4h0m4.3 2.1h0m5 0.4h0m5 5.8h0m-3-12.8h0m-11.8 2.7h0m9.4 5h0m0.7-0.5h0m5.1 2.9h0m-4.3-12.3h0m-1.1 12.6h0m0.7-0.6h0m4-0.1h0m-18.2-4.9h0m1-2.2h0m14.7 1.2h0m-3.9-8h0m-12.2 8.5h0m13.4 0.7h0m-8.9-4.1h0m11.3 1h0m-0.5 8.5h0m1.8-4.2h0m-16.5-7h0m0.4 5.1h0m-1.6 0.1h0m21-2.6h0m-4.3 11h0m-8.9-13.6h0m1.6 3.5h0m-0.2-8h0m9 0.8h0m-17.1 0.7h0m17.8 7h0m-2.5 6h0m-14.1-11.9h0m17.3-0.3h0m-4.7 10.6h0m-18.7-7.9h0m11.9 3h0m7.8-4.7h0m-11.2-0.8h0m11.1 9.1h0m2.6-3.6h0m1.4 6.3h0m-15.3-2.3h0m6.4-11.1h0m-6.3 5.4h0m15.6-2.2h0m-9.5-3h0m-7.2 5.3h0m17.7 4.9h0m-14.4-9.8h0m-2 6.3h0m5.2-4.3h0m8.8-2.9h0m0.4 6h0m-11.8 2.8h0m11.8 0.8h0m-8.6-1h0m10.2 3.1h0m-1.7-1.6h0m-18.7-4.4h0m11.8-4h0m5.9 11.9h0m-15.9-13.8h0m16.2 0.9h0m-11.3 10.9h0m8.1-4.8h0m-8.5 0.7h0m8.7-7.4h0m-12.9 2.8h0m9.3 0.7h0m3.6-2.5h0m-0.7-1.1h0m-2.7 0h0m-8.3-0.8h0m16.1 18.8h0m-16.5-16.2h0m17.6-0.4h0m-3.4 3.6h0m-8.6 0.1h0m-1-4.8h0m12.9 10.8h0m-8.4-1.1h0" stroke="#00BE67" stroke-width="1.15" stroke-linecap="round" fill="none"/><path d="M475.6 91.9h0m-5.3-6.6h0m1 1.8h0m-12.8 6.2h0m17.7 10h0m-5.5-9.4h0m-4.3 2.6h0m-5.5-0.6h0m12.5-4.4h0m-8.9-4.3h0m14.4 3.3h0m-0.4-0.1h0m-4 4.4h0m7.5-1.2h0m-4.9 6.4h0m-16.1-10.2h0m8.6 10.6h0m4.7-3.8h0m2.1 6.5h0m1.3-8.2h0m2.6 8.5h0m-3.2-10.4h0m-4-3.8h0m8.6 15.5h0m-8.7-15.9h0m9.1-0.6h0m-12.9 0.8h0m-1.2 4.2h0m-0.6 1.7h0m-6.7-6h0m17.7 8.2h0m-0.5-5.8h0m2.9 0.6h0m-9.5 1.2h0m8.7 6.1h0m0.4 2.5h0m-0.3-5.3h0m2.3-2h0m-20.9 1.9h0m11.3-3h0m-2.1 7h0m4.7-6h0m-5.1-6.8h0m0.5 6.1h0m8.4 10.3h0m-4.3-1.6h0m-8.1-16.1h0m-4.4 8.5h0m14.5 6.3h0m5.6 0.5h0m-6.7-9.4h0m5.3 11.3h0m0.9-15.1h0m-4.3 15.6h0m0.2-4.4h0m2.8-6h0m-19.5-5h0m15.4 11.3h0m-3.1-12.1h0m3.3-2.5h0m3.3 14.7h0m-18.1-13.1h0m11.3 6.6h0m4.4-4.1h0m-16.8 3.7h0m21 7h0m-9.3-12.1h0m-11.5 6.5h0m13.8-8h0m0.8 7.2h0m3.4-4.9h0m0.1 14.6h0m-6.3-16.6h0" stroke="#fff" stroke-width="0.85" stroke-linecap="round" fill="none"/><path d="M469.5 72.2L470.1 77L472 80.2L471.7 85L474.5 85L477.4 83.1L478.6 78.3L478.6 73.5L476.8 69.9L474 68.2L471.2 69.3Z" fill="#00BFC4"/><path d="M474.6 80.6h0m3.6-0.9h0m-1.4 1.1h0m-4.8-3.8h0m1.9-8.8h0m-0.2 14.9h0m-0.3-2.2h0m-0.5-0.9h0m2.2-10.2h0m1 4.9h0m1.4-0.5h0m-4-0.3h0m-2.9 4.9h0m3-0.7h0m-1.7-6.1h0m4.5 6.1h0m-5.1-0.1h0m0.1-1h0m2.6 7.4h0m-0.9-11.8h0m4.1 6.8h0m-1.3 0.7h0m1.8 3.6h0m-4.4-4.7h0m2.6-0.6h0m-2.6-0.6h0m2.2-2.4h0m-2.8-3.4h0m0.5 7.1h0m0.5 5h0m-0.5-10.2h0m-1.1 5.1h0m-1.1-10.6h0m2.4 1.2h0m-0.3-0.3h0m-0.6 7.7h0m5.2-5.8h0m-1.1-0.2h0m-4.2 4.5h0m5.6-1.8h0m-4 3.9h0m1.4-3.6h0m-4.2-5.5h0m2.9 12.9h0m-3-11.2h0m3.5 13.4h0m1.3-9.7h0m-1.8 7.1h0m-1.6-2.7h0m4.9 1.1h0m-0.3 1.7h0m-5.7-2.6h0m4.7 5.6h0m1-11.7h0m-7.2 4.3h0m1.8 8h0m3.2-3.7h0m-4.9-5.7h0m5.9 6.5h0m-2.6-1.1h0m2-7.6h0m-1.6 1.3h0m2.5 2.9h0m-3.4 6.4h0m4-0.4h0m0-2.1h0m-1.1 0.3h0m-4.7 3.8h0m1.7-12h0m4.8 1.8h0m-1.8 1.6h0m-3.3 6.5h0m-0.3-9.3h0m4.3 2h0m-2.7 0.8h0m2.3-0.6h0m-1.5 8.3h0m-0.2-7h0m-1.9-6.1h0m-2.5 1.6h0m5.1 1h0m2.2 4.4h0m-3.9-4.1h0m4.3-4.6h0m-4.6 9.4h0m1-8.8h0m2.2 7.3h0m-1.3-4h0m-2.1 10.3h0m1-8.5h0m2.4-3.5h0m1.3 8.9h0m-6 2.4h0m4.5-5.9h0m-3.4 6.3h0m1.2-9.2h0m-0.2-5.7h0m2.3 2.7h0m-1.2 3.1h0m-0.6 6.4h0m-4.5-5.3h0m0.3-0.3h0m7.9-1h0m-1.3 8.8h0m0.4-9.4h0m-4.4 7.2h0m-0.2-1.6h0m-1.9-9.1h0m2.7 10.7h0m2.6-6.5h0m0.6 3.4h0m1.5 2.1h0m-1 2.3h0m-2.7-13.5h0m1.6 5.6h0m-2.2-0.7h0m1.3 0.1h0m2.3-4.2h0m-3.7 3.3h0m-1.4-2.2h0m4.3 4.2h0m-0.1 2.9h0m-6-7.8h0m7 6.8h0m0 3.1h0m-2.1-8.4h0m-0.4 4.2h0m-2.3 0.3h0m2.3-6.3h0m-0.9-1.2h0m0.8 16.4h0m-2.8-12h0m2.3-4.1h0m3.8 8.4h0m-3.9 3.7h0m-2.1-0.2h0m0.6 4.1h0m5.4-4.7h0m-8.6-6.2h0m3.7 1.4h0m1.7 2h0m1.3 3.3h0m-5.4-7h0m4.3-3.3h0m0.3 3.7h0m1.3 0.8h0m-1-3h0m-2.3 4.8h0m1.3 6.3h0m-3.8-10.7h0m5.9 12.3h0m-4.6-13.7h0m5.6-1.3h0m-2.7 8.1h0m-4.5-0.8h0m1.9-3.7h0m-0.5 2.7h0m4.4-2.1h0m-3.6-2.5h0m4.2 6.2h0m-4.5-7.3h0m1.6 5.3h0m-2.9-5.4h0m-0.2 5.5h0m-1.1-4.6h0m5.4 12.3h0m-0.6-13.2h0m-0.2 7.6h0m3.5-7.5h0m-5.2 6.9h0m-2 0.7h0m-0.1-5.9h0m1.7-0.3h0m-2.8 2.8h0m1 0h0m2.8 1.1h0m-2.5 1.6h0m5.8-3.7h0m-2.2 10.7h0m2.6-0.6h0m-0.6-11.8h0m1.5 4.9h0m-6.7 1.7h0m1.5-5.5h0m4.3 5.3h0m-3-7.8h0m-3.4 4.6h0" stroke="#00BFC4" stroke-width="1.15" stroke-linecap="round" fill="none"/><path d="M474.2 75h0m3.6-1.8h0m-1.9-2.5h0m-4.1 3.4h0m3.7 0.1h0m-3.6 0.9h0m1.5-1.5h0m1.5 1.7h0m-1 0.9h0m-1.1-0.5h0m-3.4-3h0m8.1 9.9h0m-0.5-6h0m-5-6.3h0m4.5 10.5h0m-5.1 2.3h0m4.4-3.4h0m-1.4-7.4h0m-2.9 0.2h0m5.1 0.2h0m-1.4 0.1h0m1.8 7h0m-5.1-7.9h0m-1.7 4h0m4.3 6.5h0m3.4-9.2h0m-2.4 3.5h0m0.3 2.4h0" stroke="#fff" stroke-width="0.85" stroke-linecap="round" fill="none"/><path d="M481.5 69.7L482 72.9L484.8 73.4L486.7 71.9L486.2 66.4L483.1 67.2Z" fill="#00BFC4"/><path d="M484 69h0m1-0.7h0m1.6 2.9h0m-2.7 0.9h0m3.3-5.4h0m-2.1 2.6h0m-0.5 3.2h0m0.3-6.3h0m0.2 3.1h0m-1.4-2.9h0m-0.9 3.3h0m0.9 4.5h0m2.4-3h0m-3.1 2.5h0m3-4.3h0m1.2 1.4h0m-3.9 1.7h0m-1.3-3.9h0m4.1 1.8h0m-1.8-0.2h0m0 0.4h0m0.6 2.8h0m1.5-5h0m-1.5 2.1h0m-0.6 1.2h0m1.2-1.9h0m-0.1 0.4h0m-3-0.9h0m3.1-3.3h0m0.5 4.1h0m-0.5 2.6h0m-0.4-1.6h0m1.8-4.3h0m-4.3 4.7h0m0.5-2.6h0m-0.7-1.3h0m0.6 3.7h0m0.8-3.3h0m1.4 5.1h0m-2.9-2.1h0m2.6-3.3h0m1.1 2h0m0.8 2.5h0m-4.3-2.7h0m-1.2 0.2h0m4.3 2.3h0" stroke="#00BFC4" stroke-width="1.15" stroke-linecap="round" fill="none"/><path d="M486.5 68.3h0m-3.3 0.6h0m0.5-1.8h0m-1.2 3.5h0m4.5-0.8h0m-2.2-0.2h0m-3.4 1.7h0m1-1.7h0" stroke="#fff" stroke-width="0.85" stroke-linecap="round" fill="none"/><path d="M482.5 74.8h0m0.3 0.6h0m6.1 8.2h0m0.1-3.9h0m-2.1-2.9h0m3.4 1.3h0m-8.8 0.4h0m9.9 2.2h0m-0.7-4h0m-9.1 0.9h0m3.4 7.9h0m-3.8-4.9h0m6.4 2.2h0m-3.6-7h0m7.5 3.2h0m-9.8 0.2h0m5.6-0.5h0m7.4 2h0m-8-6.7h0m-4.9 11.2h0m8.3-8.8h0m-3.8 5.7h0m0.9-4.5h0m6.2 2.7h0m-9.2 1.6h0m5.7-5.2h0m-7.8 6.7h0m1.6 0.7h0m0.9 0.5h0m9.4-5.6h0m-13.6 1.5h0m10.9 1.6h0m-4.8 1.9h0" stroke="#00BFC4" stroke-width="1.15" stroke-linecap="round" fill="none"/><path d="M494.1 72L495.6 73.5L504.8 74.7L508.7 73.6L509.3 69.5L508.7 63.4L507 59.8L503.6 58.7L499.5 60.5L497.1 63.4L496.5 68.4Z" fill="#00BFC4"/><path d="M495.1 71.3h0m8.4-9.8h0m4.7 7.3h0m-8-4.7h0m-2.3 2.5h0m-1 0.7h0m2.1-4.1h0m10.5 5h0m-9.9-1.6h0m6.6-0.9h0m-1.4-5.5h0m-4.5 9.6h0m-0.9 2.4h0m5.3-13h0m2.2 11.4h0m-3.6 1.3h0m2-13.7h0m-2.4 1.6h0m-6.4 5.4h0m6.6 1.3h0m-2.6 4.2h0m1.2 1.1h0m1.5-5.4h0m0.9-7.9h0m-5.8 14.2h0m-0.4-4.7h0m0.4 6.3h0m4.5-12.1h0m-5 7.9h0m3.1 3h0m6.5-3.9h0m-7-3.3h0m-2.8-3.8h0m5 6.5h0m2.4-4.5h0m3.9 7.7h0m-3.9-0.7h0m3.3 1.1h0m-3.5-3.6h0m-0.5-1.1h0m-0.3-2.2h0m-2.2 1.2h0m2.6-0.1h0m-7.7 8h0m-1-1.8h0m10.9-6h0m-6.7 4h0m3.2 4.1h0m2.6-10.9h0m-1.4-0.7h0m-7.2 4.9h0m5.8 3.1h0m-0.5-8.3h0m3.2 12.1h0m-3.8-6h0m0.1-1.2h0m-3.6 4.6h0m5.7-3.7h0m-1.5-9.1h0m-1.4 8.8h0m2.3 1.2h0m-5.6 0.5h0m6.4-0.9h0m1.7 3.3h0m-4.9-6.7h0m6-6.4h0m-8.4 13h0m6.4-3.6h0m3.6-1.8h0m-11.8 5.1h0m8.7-0.5h0m-4.9-4h0m-3.3 4.8h0m8.5-4.5h0m-0.3-2.9h0m2.6 4.8h0m-12.1 1.3h0m9.4-5.7h0m-8.2 8.6h0m8.4-8.3h0m0.6-0.7h0m2.6 6.4h0m-5.1-10.9h0m-2.4 4.5h0m-0.6 7.4h0m-1.5-1.8h0m-2.6-3.7h0m0.6 2h0m1.2 4.2h0m6-1.1h0m-2.8-0.9h0m1.4-5.8h0m-2.6-2h0m5.1 10.3h0m-9.4-4.7h0m8.8-4.8h0m-0.6-1.8h0m-1.5 2.6h0m-5.7 1h0m4.7 9.2h0m7.3-10.9h0m-6.5 0.3h0m2.7 2.3h0m-1.1 1.3h0m1.5 6.7h0m-5.1-4.6h0m4.4-6h0m-9.1 3.3h0m2.2-3.9h0m8.4 2.2h0m-2.3 2.3h0m-4.3-6.2h0m2.4 11h0m-3.4-4.6h0m1.9-7.8h0m8.4 4.4h0m-6.5-2.6h0m-4.2 11.7h0m4.3-10h0m2.1 5.7h0m2.8 4.3h0m-7.8-6.3h0m5.7 4.2h0m-3.4-2.7h0m5 3.4h0m-8.2-3.8h0m8.7-6.3h0m-6.5 1h0m-0.1 8.5h0m4-2.4h0m-1.1 0.9h0m-4.9-9.1h0m9.9 2h0m-4 3.7h0m-0.5-4.8h0m-5.4 6.3h0m2.7 1.5h0m-2.1 3.4h0m3.7 1.9h0m-5-7.5h0m2.2 4.6h0m-0.3-9.6h0m-0.5-1.1h0m0 12.9h0m-1.8-7h0m7.9-6.5h0m-3.5 3.7h0m6.5 7h0m-9.3-0.3h0m8.4-7.1h0m-8.7 0.5h0m1.8 5.8h0m1.4 1.3h0m-2.8-0.7h0m0.8 1.4h0m4.8-11.4h0m-9.7 12.2h0m2.5-8.3h0m-1.1 9.3h0m4.7-5.5h0m-6.1 3.2h0m12.3-8.7h0m-0.9 1.9h0m-6.5 8.1h0m3.5-5.2h0m-9.4 4h0m13.5-8.7h0m-4.2 5.5h0m5 0.2h0m-1.6-4.9h0m-4.9 0.5h0m5.4-4.2h0m-2-0.7h0m2.1 2.8h0m-0.5 0.7h0m-1.5 0.4h0m-0.5-0.7h0m-6-3.2h0m7.6 0.4h0m-5.5 8.2h0m4.6-3.9h0m-8.3 6.6h0m9.6 2.3h0m2.8-5.4h0m-8.4-2h0m-0.8 4.7h0m0.3-2.7h0m-0.9-4.5h0m8.6 7.8h0m-8.4-10h0m-2.6 0.6h0m10.3 2.3h0m-9.1 7.1h0m-0.8-7h0m7.4 5.9h0m-0.5-3.4h0m-4 8.2h0m1.8-5.1h0m4.1-10.8h0m-9.5 8.1h0m12.1 3.4h0m-6-6.2h0m2 5.5h0m3.2-4h0m-7.3-4h0m-1 8.3h0m3.4 0h0m-1.4-4.2h0m-8.3 5.9h0m11.1-8.3h0m-0.6 6.5h0m4.7 0.9h0m-0.8 0h0m-3.8 3.6h0m-3-13.7h0m3.9 6h0m-2.4 0.6h0m-4.8-4.1h0m5-4.9h0m6 8.7h0m-7-8.7h0m-4.6 11.6h0m-0.5 0.2h0m6.9-8.1h0m-1.2 4.9h0m-9 4.7h0m0.2-0.7h0m12-8h0m-2.7 9.2h0m-1.9-9h0m7 0.6h0m-2-0.3h0m-3 4.4h0m-5.4-2.2h0m9.6-4h0m-7.7 6.9h0m2.9 0.4h0m-5.5-1.7h0m-0.2-4.1h0m0 4h0m6 1.2h0m5.2 4.5h0m-1.8-0.9h0m-7.8-4h0m4.8-5.3h0m-6.5 10.5h0m5.2-10.2h0m1.6 0.9h0m-9.6 9.2h0m9.4-10h0m-2.9 1.6h0m4.9 5.8h0m-3.3-0.7h0m-2.1-7.2h0m-3.1 3.3h0m5.4-3.5h0m5.7 1.9h0m0.7 7.4h0m-7.5-9.3h0m1.1 2.7h0m4.8 5.8h0m0.2-4.9h0m-1.3-6.9h0m-2.4 9.9h0m-3.3 5.4h0m-4.2-1.2h0m-0.1-9.4h0m0.5 3h0m8.9-3.9h0m-10.5 6.2h0m6.3 2.4h0m-0.5-8.2h0m-2 1.6h0" stroke="#00BFC4" stroke-width="1.15" stroke-linecap="round" fill="none"/><path d="M508.4 65.2h0m-6.2-0.6h0m-3.5-3.7h0m1.1 1h0m9.4 5.9h0m-3.4 2.6h0m-7-8.3h0m3.1 9.6h0m-2.9-2.4h0m7.9 2.7h0m-6.4-4.7h0m2.2-4.3h0m2.5 8.5h0m-5.8-4.9h0m3.7-0.5h0m0.8 4h0m-1.8 0.6h0m2.2-10.6h0m3.8 5.6h0m-9.2 0.8h0m-0.7-4h0m4.4 4.3h0m2 7.3h0m-6.5-2.8h0m6.8-2.2h0m-9.5 2.1h0m2.6-4.5h0m7.8 0.5h0m-4.5-5.9h0m4.5-0.3h0m-0.8 7.9h0m3.6-4.5h0m-10 9h0m5.5-10h0m-5.1 7.1h0m-1.5 1.5h0m3-7.4h0m3.4-4.4h0m-0.1 7.8h0m-3.9 1h0m8.2-0.5h0m-4.2 1.8h0m-6-6.8h0m3.1 10.2h0" stroke="#fff" stroke-width="0.85" stroke-linecap="round" fill="none"/><path d="M501.4 66.6h0m2.8-1.1h0m-1.1 0.3h0m-1.6 1.8h0m0.7-2.9h0m1.6 1.3h0m-2.5 1.8h0m2.2-1.8h0m0.2 2.7h0m-0.1-0.8h0m0.5-1.3h0m-2.2 0.5h0m1.9 1.8h0m-3.3-2.8h0m0.6-0.9h0m0.1 0.4h0m1.2 1.6h0" stroke="#fff" stroke-width="1.15" stroke-linecap="round" fill="none"/><path d="M490.2 74.5L490.2 78.6L487 81.9L485 86.3L485.4 90.5L490 90.6L493.8 96.3L497.4 96.9L497.7 97.1L497.7 97.5L493.6 100.4L483.8 101.6L482.8 103.6L485.6 107.1L488.5 108.2L493.3 106.4L495.9 105.1L502.3 106.3L507 105.2L508.8 101.5L510.7 98.9L513.2 97L514.3 94.7L514.3 87.3L513.1 81.7L511.3 77.4L509 74.5L504.8 75.7L495.3 74.5Z" fill="#00BFC4"/><path d="M494.9 97.1h0m-1.4 7.7h0m6.2-14.9h0m-10.9 18.3h0m0.9-22h0m9.8-8.8h0m-7.4 5.4h0m12.7 15.6h0m3.9 5.1h0m2.7-14.8h0m-7.5 4.4h0m1.3-6.7h0m-20.1 19.8h0m20.6-27.6h0m-15.5 11.3h0m-1.8-3.2h0m18.2 3.6h0m-13.7 1.6h0m19.3-4.5h0m-15 17.3h0m-4.5-1.5h0m7.9-13.4h0m6-0.8h0m-2.6-2.7h0m-10.4 0.3h0m6.6-9.6h0m-10.8 25h0m8.1-16.1h0m0.9 1.3h0m0.9-4.2h0m-5.1 2h0m9.2 5.6h0m-15.9-7.1h0m12.2 18.7h0m-3-18h0m-4 9.4h0m16.4-0.4h0m-22.3 10.9h0m12.5-3.9h0m4.7-19.9h0m-10.7 15.4h0m1.5-12.7h0m-2.3 2.2h0m12.2 1.4h0m-11.2 15.4h0m0.2-25.6h0m8.6-1.5h0m6.8 22.7h0m-22 7.1h0m8.5-9.6h0m8.8-17.6h0m1.4 14.7h0m8.3-2.8h0m-16.2 4.9h0m15.1-12.4h0m-15.8 23.3h0m-1-24.1h0m5.7-3.5h0m-5.8 23.8h0m-5.3-26.8h0m12.3 31.9h0m-15.5-3.5h0m11.9-14.7h0m6.7-8.1h0m-12.5 8.1h0m17.8 0h0m-11 18.2h0m-12.8-1.2h0m19.7-10.8h0m-2-5.9h0m-3.4-8.1h0m3 19.5h0m-7.4-5.7h0m11.8-12.4h0m-19 6.5h0m5.3-6.3h0m5.5 15.5h0m4.2-3.5h0m-3.4 1.8h0m-12.7-16.1h0m11.9 5.2h0m-12.1 5.8h0m-5.9 13.2h0m9.7-19.2h0m6.8-9h0m9.9 0.2h0m-14.8 13.2h0m0.4-11.9h0m12.9 8.1h0m-6.3 19.3h0m-3.3-4.3h0m-7 5.7h0m4.8-15.3h0m-4.2-8h0m2 19.8h0m3.7-20.8h0m5.2 0.9h0m-8.8-1.1h0m-2.4-4.9h0m1.3-0.3h0m11 7.3h0m-15.6 4.3h0m4.9-6.7h0m-1.5 7.4h0m11.7 14.3h0m-0.1-14.9h0m2.6 13.6h0m-6.6-6.3h0m-8.3-15.7h0m20.8 2.6h0m-4.1 17.8h0m-20.6-14.9h0m15.5 12.4h0m-11.6-21h0m22.6 11.7h0m-4.3-12.5h0m-15.4 0.2h0m-3.9 23.8h0m21.9-19.2h0m-2.2 12.8h0m-14.3-0.8h0m6 11.3h0m11.3-17.8h0m-7 0.1h0m-3.3 2.7h0m-3.1-9.4h0m12.8 3.4h0m-14.7 16.6h0m1.5-13.6h0m5.4-8.5h0m-12 14.2h0m18.3-6.4h0m-7.8 5.3h0m0.2 2.7h0m0.3-4.9h0m-18.6 13.4h0m11.1-25.2h0m-8.7 11.1h0m9-3.2h0m1.6-7.7h0m14.2 15.4h0m-5.7 8.7h0m-20.3 0h0m11.7-7.3h0m-5.9 10.3h0m-5.8-15.8h0m11.6 6.9h0m-10.2-11h0m4.4 7h0m14.7 1.4h0m-7.1 11.9h0m4.2-21.5h0m3.8-5.6h0m-8.7 8.1h0m-4.1 15.2h0m-5.4-11.8h0m16.7-9.2h0m-8.5 7.2h0m-1.1 2.4h0m10-10.2h0m-4.8 17.3h0m11.6-12.2h0m-16.2-4.1h0m3 17.6h0m0-3.6h0m10.6-12.4h0m-14.6 18.2h0m6.9 7.3h0m-16.6-20.6h0m10.5 7.4h0m7.4-18.8h0m1.7 21.8h0m-12-19.8h0m17.5 21.7h0m-15.9 2h0m-4.2-10.5h0m3.2 4.3h0m-10.6 7.5h0m29.6-18.6h0m-2.8 10h0m-13.4 0.3h0m-11.9-10h0m18.4 16.8h0m6.8-2.7h0m-10-13.6h0m-4.2 10.9h0m8.7-10.2h0m-6.1 4.6h0m1.8 10.6h0m8.4-16h0m-16.1 18.2h0m15.7-2.4h0m-14.7-3.2h0m2.4-15h0m14 7.5h0m-4.4 10.3h0m-8.8-5.2h0m16.1-5.3h0m-4.9-10.5h0m-19.4 30.1h0m6.5-30.9h0m-4.1 2h0m9.1-4.3h0m2.8 1h0m-11.8 25.2h0m0.9-0.1h0m2.9-26.1h0m6.7 9.5h0m4.2-5.4h0m-13.8 1.6h0m-2.1 20.8h0m11-6.2h0m-6.9-14.7h0m-9.3 25.5h0m6.5-5.7h0m21.1-3.8h0m-4.6-2.8h0m-10.4-1h0m15.1-6.6h0m-10.4 19.1h0m-6.9-12.5h0m5-0.7h0m7.6 10.1h0m-9.6-16.7h0m9.5 8.8h0m-6.9 6.4h0m0.6-13.8h0m-10.9-4.3h0m15.4-3.8h0m-7.4 14.9h0m5.8-13.9h0m-1.2 10.9h0m1.8-1.6h0m-6.4-11h0m11.3 21.6h0m-3.7-20.2h0m4 18h0m-4.7-14.5h0m-6.5-5.3h0m15.4 8.4h0m-18.5 6.7h0m8.8 3.3h0m-3.9-4.2h0m0.2-4.4h0m-6.3-4.2h0m8.9 13.7h0m-14.4-9.7h0m8-2.9h0m16 8.7h0m-15.1-0.8h0m-0.3-3.8h0m-0.3 13.2h0m8.6-23.9h0m-16.6 13.3h0m7.6-1.9h0m8.1 2.2h0m-22.5 11.9h0m18.9-11h0m-3.5 11h0m-9.4-21.5h0m10.3 0.3h0m-11.2 3.3h0m0.9-4.7h0m16.9 18.1h0m1-23.6h0m-8.4 12.4h0m-2.6 0.5h0m-1.9 16.9h0m-1.7-15h0m1.7-0.8h0m11.9 5.6h0m-13.9-13.7h0m11.8 24.2h0m8.9-8.6h0m-10.1 2.6h0m-3-2.7h0m-8.5 4.1h0m1.6-21.1h0m2.4 13.2h0m17.1-11.6h0m-17.8 18.2h0m-2-3.9h0m11 0.6h0m2.7 3.9h0m-11.1-15.8h0m3.7 19.3h0m-0.3-25h0m-6.9 2.3h0m15.1 0h0m-6.8-4.8h0m-2.6 11h0m13.5-2.6h0m-4.2 19.3h0m-9.1-10.3h0m15.8-1.5h0m-8.1 4.3h0m-1.3-2.2h0m-1.6 4.3h0m8.5-18.2h0m-2.6-1.5h0m-4.3 0h0m-7.9 3.3h0m-0.4-3.6h0m10.8 10.9h0m-10.9-0.6h0m12.4-2h0m-10.1-11.2h0m-14 10.8h0m29.4 2.5h0m-4.3 5.8h0m-11.6-9.1h0m4 11h0m-11.8 5.7h0m10.8-25.7h0m6.6 12.2h0m-11.1-13h0m-7.3 25.9h0m2.7 1.7h0m1.6-9.7h0m0.2 0.7h0m-4.6-6.6h0m2.9 15h0m19.3-23.5h0m-24.7 8.2h0m9.1 14h0m19.3-14.4h0m-24.5-2.5h0m16.1-9.2h0m-2.3 26.7h0m6.9-19h0m-9.6-2.3h0m3 11.1h0m-0.7 15.1h0m-2.5-18.2h0m3.4-8.6h0m-18.5 21.5h0m17.4-17h0m-6.2 18.2h0m-2.4-16.5h0m2-1.7h0m13.4 3.4h0m1.3 3.6h0m-8-0.9h0m-9-2.6h0m15.2-8.9h0m2.8 7.9h0m-15.3 7.8h0m-5.4 10.6h0m21-19.3h0m-17.9-8.2h0m-0.2 4.8h0m12.9 14.6h0m-12 4h0m5.9-25.7h0m-1.1 22.7h0m11.1-9.4h0m-10.7-2.7h0m4.6-8.9h0m-10.9 25.6h0m9.9-11.8h0m0.1-1.2h0m-16.4 13.6h0m4.7-0.5h0m-5.5-14.2h0m25.3-3.6h0m-15.7-1h0m10.9 8.2h0m3.1-9.4h0m-8.8-5.2h0m-17.4 25.2h0m21-26.1h0m-13.8 23.1h0m4.5-22.8h0m17.9 19.2h0m-7.9 2.2h0m2.8-17.8h0m-6.5-2.9h0m-6.6 3.2h0m5.8 14.2h0m-10-17.7h0m1.4 0.1h0m1.4 3.3h0m-4.5-1.8h0m6 8.5h0m1.7-4.9h0m13 3.2h0m1 6.3h0m-21.4-1.3h0m0.9-12.3h0m18.6 12.9h0m1.8-7.4h0m-16.1-1.6h0m6.2-2.7h0m-9.7 25.2h0m7.1-3.7h0m12.8-4.3h0m-18.2-17.4h0m-1.5-4.3h0m17.7 8.6h0m-23.2 17.2h0m12.7-13.6h0m8.4 12.2h0m-10.6-15.3h0m-8.3 21.4h0m9.2-22.4h0m8.9 0.9h0m-10.4-6.7h0m8.7 7.1h0m-0.8 16.9h0m9.8-15.6h0m-4.3 14.5h0m-0.7-3.4h0m-10.1-4h0m-2.2-16.5h0m5.6 27.1h0m-1.4-7.2h0m3.3 6h0m1.9-23.7h0m-16.6 4.8h0m23-2.8h0m-1.6 18.8h0m-8.2-13h0m2.3-2h0m-20 22.1h0m5.7-5.1h0m23-14.4h0m-18.7-11.8h0m-0.2 24.4h0m-4.2-15h0m19.6-8.1h0m-18.5 10.9h0m1.2-10.1h0m19.2 0.5h0m-20.1 25.5h0m18.1-12.4h0m-1.1-9.4h0m2 0.6h0m-8.1 15h0m-5.9-21.8h0m-10.8 11.7h0m11 1.3h0m3.7-3.4h0m-18.4 17.8h0m28.3-26.4h0m-10.9 13h0m5.1 10h0m-6.8-5.4h0m-5.1-14.7h0m-6.1 24.6h0m20.3-4.6h0m2.2-15.7h0m-16.5 15.8h0m-5.4 3.8h0m23.8-25.2h0m-11.6 19.1h0m0.7-8.1h0m-8.5 16h0m10.3-5.1h0m-6.1 4.1h0m9.9-25.5h0m5.8 7.4h0m-9.1 12.3h0m1-18.6h0m5.9 5.7h0m-16.6-9.2h0m6.5 6h0m-2.3 5.8h0m11.1-1.5h0m-7.1-9.5h0m4.5 6h0m-3 13.4h0m7.2-15.9h0m-4 14.9h0m-5.2 1.1h0m-1.4 2.6h0m-9.1 8.5h0m-1-19.4h0m8.3-8.1h0m-5.4 23.7h0m16.2-16.8h0m-13.3-3.9h0m4.1 7.1h0m-7.8 14.9h0m15.3-11.5h0m-14.1-4h0m4.8 8.9h0m0 6.1h0m13.4-6.9h0m-5.8-22.5h0m-1.8 10.3h0m-0.2-10.6h0m-4.8 17.1h0m-4.7-1.6h0m9-16.2h0m-4.5 20.9h0m4-4.3h0m-1 6.2h0m-4.4 6.9h0m-6.5-1.5h0m10.2 2.9h0m-3.5-16.4h0m2.5-2.1h0m-3.8 12h0m3.2-24.7h0m-3.3 9.9h0m-8.3-3.5h0m-0.5 21.1h0m25.1-20.1h0m-9.6 19.8h0m-7.5-9.4h0m4.3 11.5h0m-13.5 0h0m7.4 1.7h0m12.9-11h0m0.3-12.6h0m4.9 3.4h0m-28.1 18.4h0m17.5-10.4h0m3.9-3.1h0m-9-10.8h0m-5.6-0.3h0m13 11.7h0m1.1 12.6h0m2.4-23.1h0m-5 13.5h0m10.4 4.6h0m-3.8-19.9h0m0.8-1.9h0m1.9 7.3h0m-7.8 2.5h0m-12.4 2.5h0m19.9-4.8h0m-2.6-5.5h0m-12.1 13.4h0m5.3 4.7h0m0.3-20.1h0m12 10.4h0m-2.3-1.6h0m-1.7 2.8h0m-7.7-5.2h0m-4.8 6.1h0m6.9 18.4h0m5.4-5.5h0m-12.7-2.8h0m14.8-4.8h0m-24 11.1h0m22.5-21.6h0m-6.9 0h0m-0.1 7.6h0m-4-2h0m12.9 5.9h0m-14.8-20h0m-5.2 30.1h0m6.9-13.8h0m-3.5-12h0m15.5-3.8h0m-18.1-0.9h0m-3.8 34h0m26-21.9h0m-23.5 13.6h0m13.6 5.8h0m-4.9-21.5h0m6.4 1h0m-5.3 1h0m6.4 0.1h0m-19.3 20.3h0m25.9-9.7h0m-13.7-4.9h0m-4.6-8.4h0m10.9 1.8h0m-2.3 5.2h0m0.2-4.1h0m-6.2-5.3h0m-5.6-5.7h0m7.9 5.2h0m9.5 7.6h0m-0.7 5.4h0m-23.8 10.7h0m22.1-29.1h0m-9.8 5.7h0m5.9 5.1h0m-6 6.9h0m-6.6 8.5h0m22.8-17.4h0m-0.7-2.3h0m-8-5h0m-0.7 17.8h0m0.2-7.7h0m-8.2 13.7h0m9.1-2.3h0m4.6-7.5h0m-1.2-2.6h0m-11.4 12.9h0m3.1-3h0m1.6-3h0m7.6-6.4h0m-12.8 15.6h0m12.9-13.1h0m-13.8-1.4h0m17-1.1h0m-4.8-2.7h0m4-6.3h0m-24.6 8.6h0m19.4 14h0m-6.7-25.6h0m-1.5 13.7h0m-2.7-8h0m0.1 20.3h0m5.4-21h0m-8.6 11.1h0m2.2 12.6h0m14.6-7.7h0m-14.9-18.5h0m8.8 1.6h0m-19.1 5.6h0m23.2 10.1h0m-18.2 10.4h0m9-8.8h0m-7.2 2.3h0m9.2-6.8h0m-8.4 12.8h0m3.9-27.4h0m5.7 4.9h0m9.5-2.9h0m-18.9 3.2h0m19.1 7h0m2.9 0h0m-20.8-0.9h0m7.5-13.8h0m0.1 13.2h0m5 12.4h0m-3.5-2h0m-10.4-26.1h0m4.9 27.9h0m11.6-23.9h0m-17.2 27.3h0m12.8-25.6h0m-6.4 16.2h0m5.9-3.9h0m0.4-8.2h0m-14 19.1h0m15.2-16.7h0m-10.1 8h0m-3.8 12.2h0m-3.4-0.3h0m3.5-23.4h0m3.4-6.3h0m-3.7 0.2h0m4.2 5.7h0m3.2 6.3h0m-12.1 14.5h0m18.5-1.3h0m-7.2-18.9h0m1.9 5.1h0m8.9 1.1h0m-14.7-8.5h0m15.5 6.1h0m-4.7-3.2h0m2.1 18.3h0m-3.2-11.2h0m2.5-10.4h0m3.5 16.1h0m-21.3 5.1h0m8.9-5.8h0m17.1-7.5h0m-28.3 1.4h0m12.3-12.5h0m-5.1-1.8h0m11 12.1h0m-2.7-11.9h0m-10.6-2.1h0m8.9 15.4h0m-3.5-8.4h0m-5.4-2.3h0m-2.3 26.4h0m3.7-16.9h0m11.7 3.9h0m1.6-8.1h0m-0.6 19.7h0m9-20.3h0m-3 1h0m-17.7-4h0m0.1 10.4h0m10.3-7.5h0m1.9 8.3h0m-8.9 11.3h0m-7.6 0.9h0m1.7-26.4h0m7.8-1.9h0m10.1 23.1h0m-3.1 5.5h0m-9.9-21.8h0m0.5 18.5h0m1.8 1.3h0m6.5-8.3h0m-10.8-5.7h0m4.1-7.9h0m11.4 17.5h0m-12-19.5h0m5.8 15.5h0m-0.9-4.6h0m-10-14.1h0m-0.1 15.8h0m16.4 5.9h0m-9.6 3.5h0m1.7-24.6h0m9.2 15.1h0m-3.2-2.1h0m-7 4.4h0m-5.7 13.4h0m5-15.6h0m-11.6-9.1h0m23.4 17.9h0m-14.8-10.4h0m8.4-8.8h0m-7.3 13.8h0m9.7 9.3h0m-14.4-18.8h0m5.8 16.6h0m1-23.3h0m-9.6 1h0m9 0.3h0m6.8 13.7h0m-1.2-10.1h0m-10.8 7.8h0m-1.1-12h0m13.5 4.4h0m-7.4 14h0m3.2-17.2h0m1.6 8.1h0m-4.6 6.2h0m9.4-17.7h0m-1.9 18.5h0m-15.2-15h0m6.2 10.6h0m5.6 2.3h0m-8.7-15.5h0m17.2 3.6h0m0.1 7.2h0m-19.2 3.5h0m11.8-9.5h0m4.7 13h0m-11.3-4.1h0m15-0.6h0m-12.9-9.9h0m-3.4 6.9h0m4.3 15.5h0m12.5-18.8h0m-14.4 16.9h0m-9.5-12.3h0m16.9 1.2h0m2.3-8.7h0m-3.6 10.7h0m-2.6-2.7h0m-1.3 10.4h0m-13.1-19.1h0m7.2 20.1h0m11.6-20.6h0m-8.3 1h0m0 5h0m-5.2 1h0m15.7-11.4h0m-9 4.2h0m-0.9 4.2h0m5.2-1.2h0m-5.2-5.8h0m12.2 10.5h0m-2.6 11h0m0.3 2.2h0m5.7-18.2h0m-8.3 19.3h0m6.2-20.6h0m-13.1 12.6h0m6.8 4.3h0m-7-7.3h0m3.4 3.2h0m6.1-9.2h0m-13.7 6.9h0m16.6 4.6h0m-2.3-21.2h0m-16.8 32.4h0m1.7-22.9h0m17.6-1.3h0m-25 18.7h0m3-15.7h0m23.4 2.8h0m-25 1.5h0m23.1-11h0m-14.6 6.8h0m11.7 6.2h0m-2.5 0.7h0m-12.8-18.1h0m14.4 17.5h0m-10.3-11h0m-2.7 5.6h0m11 7.2h0m-13.4-8h0m18.8-1.7h0m-13.8 15.2h0m-0.4-12.9h0m-2.4 15.8h0m-3.6-1h0m15.6-4.8h0m2.1-17.2h0m-11 13.6h0m13.4-0.7h0m0.2-10.6h0m-21.7 21h0m17.8-17.5h0m-20.5 3.1h0m9 12.2h0m-4.4 6.8h0m13.8-23.1h0m7.4 10.2h0m-18.1-16.4h0m20.2 14.9h0m-8.1-11.1h0m4.8 9.4h0m-19.3-3.3h0m15.1-5.6h0m-6.6-7.6h0m-3.9 14.7h0m17.1-6.8h0m-23.4 23.3h0m19.7-7h0m0.1-4.5h0m4.4-8.3h0m-13.4-6.5h0m5.6 4.8h0m-0.5 19.1h0m-4.6-10.3h0m-1.2-4.6h0m-6.3 14.3h0m19.2-21.7h0m-11.3 15.7h0m-12.4-13.5h0m13.4 6h0m-9.8-2.8h0m1.7 16.3h0m-1.4-19.3h0m10.5 9.5h0m-14.2-7.9h0m18 16.3h0m-13.2-18.5h0m7.6-1.5h0m-1.3 7.8h0m-5.1 3.6h0m6.9-17.6h0m-4.3 11.9h0m11.6 1.5h0m-0.7-0.9h0m-9.9 11.2h0m8.7-13.4h0m-3.3-7.5h0m-12.2 5.3h0m-4.6 22.7h0m15.2-12.5h0m-7.6-9.7h0m-0.9 7.5h0m2.1-0.1h0m12.3-10.9h0m-0.6-6.9h0m-8.8 2.7h0m8 25.8h0m-13.4-21.9h0m11.3 19.5h0m-16.1-13.8h0m16.5 1.6h0m-11.3 8h0m9.1-16h0m9.8 4.2h0m-27 2.9h0m5.3 16.8h0m9.4-7.6h0m-7.6 5.7h0m5.8-20.8h0m14.1 11.3h0m-23.9-12h0m-6 21.6h0m21.3-18.1h0m-6.6 15h0m-10.9-16.8h0m17.4-5.6h0m-9 15.9h0m19.6-0.2h0m-26.7-9.8h0m1.8 24.2h0m14.8-11.5h0m-3.7-13.6h0m-10.8 20.7h0m14.7-12.1h0m8.5-9.4h0m-11.5 17.7h0m5.5-10.5h0m-2-6.9h0m1.1 22.8h0m-13-28h0m18.2 18h0m-20.1-7.5h0m5.9 2.5h0m15.4-0.7h0m-13.6 4.9h0m-10-3.1h0m5.2-10.7h0m9.3 4.3h0m5.9 8.8h0m-22.4-4.5h0m7.5-5.5h0m16 6.4h0m-20-15h0m24.1 12.2h0m-17.2 17.6h0m-8.7-1.6h0m15.3-17.9h0m-1.7 4.1h0m-12.7-6.2h0m17.8 16.1h0m-17-8.2h0m23.6-5.7h0m-23-3h0m6.8 13.4h0m-12.5-5.1h0m12.3-3.9h0m-5.9-8.8h0m3.7 0.2h0m-6 7.8h0m19.6 16.4h0m-2.4-5.6h0m-15.1-15h0m2.2 0.9h0m-0.1 20.8h0m14.2-26.3h0m-12.1 28.6h0m6.7-11.2h0m-5.8-12.4h0m5.6 5.4h0m-1.5 12.1h0m-11.1-15.3h0m14.5-6h0m-1.2 18.5h0m-0.4 8.4h0m-1.5-4h0m-0.5-10.2h0m12.2-2.1h0m-0.8 5.3h0m-15.3-11.9h0m8.5-2.5h0m-2.2 20.4h0m6.5-6.3h0m-25.3 12.1h0m17.7-28.2h0m-4.4 20.2h0m2.3-5.4h0m-5.4-2.9h0m5.8 7.3h0m-1.6-3.2h0m4.9 2.2h0m2.8-5.7h0m-22.8 12.1h0m25 0.7h0m-6.6-18.1h0m9.9 0.1h0m-3.3 10.1h0m-13.3-13.3h0m3.4 18h0m-7.6-24.8h0m-6 27.3h0m7.3-8.9h0m2.1-2h0m10 0.3h0m-14.2-16h0m4.7 16.6h0m3-14.5h0m5.1 28h0m-11.2-25h0m12.2 4.1h0m-3 10.3h0m-1.9 9.4h0m13.3-17.1h0m-16.1 2.9h0m12.9 3.5h0m-23.9-1.8h0m28.3 5h0m-20.8-8.5h0m5.3-12.2h0m9.5 3.5h0m2.1 17.5h0m-11.4-5.3h0m8.6-5.6h0m-17.9 15h0m-1.7-10.2h0m16-14.7h0m-4.1 18.8h0m3.9 1.6h0m-14.5 7.4h0m-0.2-15.6h0m8.3 3.7h0m-3.6-8.8h0m16.9 7.2h0m2-9.8h0m1.5 11.6h0m-8.3-1h0m-2.1 9.7h0m-1.3-1.1h0m-11.6 2.6h0m9.4-11.9h0m6-8.9h0m-2.2 1h0m8.4 15.6h0m-22.2-23.4h0m0.2 6.3h0m7.6-1.8h0m-11.4 25.3h0m4.9-29.2h0m-2.7 5.6h0m0.6 8.7h0m18.6 7.7h0m-13.4-1.4h0m1.8 5.8h0m14.1-25.2h0m-14.9 12h0m16.4 2.1h0m-13.3-0.2h0m-11.4 12.5h0m21.1-5.7h0m4.8-9.2h0m-7.4 15.5h0m-16.5-2.3h0m2.9-25.8h0m16.8 20.7h0m-14.7 10.1h0m6.9-20.5h0m-0.1-6.2h0m4.7 12.7h0m5.9 2h0m-22.1 9.1h0m16.5-25.1h0m-16.6 27.4h0m13.9-6.4h0m9.5-13.7h0m2.1 8.3h0m-11-14.7h0m4.3 9.1h0m-4.8 15.4h0m-0.8-7.2h0m4.9-2.2h0m-6.5 12.5h0m-14.4-4.5h0m20.9-16.8h0m-1.9 20.2h0m-8.3-17.5h0m-9.9 1.3h0m4.3-2.8h0m8.4 0.9h0m6.7 12.5h0m0.5-4.8h0m-12-9.2h0m12.2-3.8h0m-18.2 20.8h0m20.7-22.7h0m-24.4 23.5h0m9.9-7.1h0m-3.1-6.9h0m1.3-10.1h0m-4.9 28.4h0m12.5-7.5h0m-2.6-18.4h0m-6.7 5.4h0m0.7 8.1h0m12 9.3h0m-5.9-5.8h0m5.6-7.4h0m-17.4-6.2h0m20.1 15.8h0m-12-12.6h0m7.4-7.7h0m0.7 18.7h0m10.3-10.2h0m-25.4 18.3h0m10.3-26.6h0m0.6 19.3h0m-12.3 2.6h0m7.1-24.1h0m-0.7 22.3h0m13.9-3h0m-1.9-6.6h0m-17.7-6.1h0m20.5-5.6h0m-14 10h0m5 1.4h0m10 5.3h0m-0.2-11.9h0" stroke="#00BFC4" stroke-width="1.15" stroke-linecap="round" fill="none"/><path d="M511.1 79.1h0m0.5 6.7h0m-16.5-5.5h0m8.5 17.9h0m-16.4-11.3h0m11.7 6.2h0m-3.4-1.5h0m14-6.1h0m-12.6 10.6h0m-8.4-8.9h0m9.9 10h0m-7.1 7.4h0m-2.4 0.2h0m15.5-17.6h0m-4.5 5.5h0m2.7 9.9h0m2.1-11.5h0m-17-0.3h0m5 13h0m1.7-24.5h0m1.8 7.7h0m14.5 4.9h0m-18.4-9.6h0m3.5-0.1h0m-2.8-0.7h0m2.1-3.8h0m14.7-0.2h0m-11.8 20.3h0m7.8-5.4h0m-14.2-3.9h0m7.5 6.9h0m7.2-1h0m-8.2 2.6h0m0.3-10.1h0m-6.9 14.7h0m-4.6 1.1h0m18.9 0.7h0m1.4-12.3h0m-15.2 11.9h0m10.5-5.1h0m-7.8-22.1h0m17.1 9.5h0m-16.2 13.7h0m2.5-20.9h0m-11 4.1h0m9.7 20.1h0m11.2-12.6h0m-6.1 14.2h0m-7.5-3.2h0m4.6-10.8h0m-5.1-2.2h0m8.3 6.9h0m-9.7-7.8h0m14.3 5.3h0m-1.9 4.7h0m1.2-3.6h0m3.6-18.6h0m-7.9 13.1h0m6.2 13.2h0m1.4-5.8h0m-6.6-11.4h0m6.3-7.5h0m-22.3 14h0m17.4-5.9h0m5.5 1h0m-17.2 15.8h0m-0.5 2.5h0m3.9-11.9h0m8.4-5.9h0m-1-6.9h0m-14.9 3.9h0m-3.6 4.9h0m9.6 0.2h0m-6.2-0.3h0m18.8-0.9h0m-15.9-11.5h0m-5.3 13.9h0m25.3-7.7h0m-17.3 18.8h0m6.7-14.6h0m-9 18.5h0m0.1-15.5h0m17.4 8.7h0m3.3-12.9h0m-9.8 3.4h0m-14.4-7.4h0m21 19.4h0m-13.7-5.6h0m-5.5-16h0m8.9 13.4h0m-1.4-4.4h0m-8.1 14.9h0m1.8-27.2h0m8.8 12.8h0m0.4 15.2h0m-13.2 1.5h0m24.2-9.2h0m-8.9-13.8h0m5.7 8.2h0m0 13.6h0m-18.5 4.3h0m0.3-19.8h0m17.5-3h0m-8.3 6.7h0m-11.2-2.9h0m10.6-8.5h0m-2.9 21.2h0m4.2-18h0m2.2 5.4h0m1.1 4.4h0m-8.8-12.8h0m18.6 8.4h0m-17.5 12.3h0m16.5-17.8h0m-17 21.7h0m15.6-10.4h0m-5.6-4.5h0m-13.3 0h0m10.7 9.1h0m9.5-11.2h0m1.9-5h0m-13.3-0.2h0m-10 22.4h0m22.2-16.5h0m-21.8-14.5h0m9.3 7.1h0m-5.5 12.9h0m14.6 2.2h0m-13.8-12.4h0m-7.7 3.1h0m19.2-1.2h0m-6.3 8.1h0m-9.9-11.2h0m6.5 16.9h0m-9.1 3.8h0m2.4-20.1h0m3.6-8.2h0m11.9 9.5h0m-13.4 3.5h0m3 15.6h0m-10.8-16.3h0m13.1 18.3h0m-2-11.8h0m-9.1 10.5h0m3.6-20.8h0m0.9 6.6h0m20.9 8.3h0m-5.4-13.9h0m-5 22.2h0m-8-16.3h0m-9.9 13.6h0m22.7-23.7h0m3.8 14.5h0m-3 5h0m0.7-3.8h0m2.5-4.8h0m-2.7-16.5h0m2 12.1h0m-1.1-7.1h0m-14.7 20.7h0m19.4-3.4h0m-20.5-4.8h0m-5.2 10.4h0m10.6 3.3h0m5.5-14.6h0m5.7-10h0m-3.6 5.7h0m-17.9-1.6h0m25.3 8.7h0" stroke="#fff" stroke-width="0.85" stroke-linecap="round" fill="none"/><path d="M497.4 93.9h0m3.2 2.6h0m5.2-3.6h0m-8.1 1.6h0m3.1-0.9h0m8.4 2.9h0m-9.1-5.5h0m4 1.2h0m-0.1 3.8h0m-4-4.4h0m3.4 2.5h0m0.6 0.2h0m2.5 0.2h0m0.4-1h0m-2.8 4.4h0m-6.4-3.1h0m3.2 1.9h0m6.8-4.8h0m-5.6-0.5h0m-4.3 0.5h0m6.6 2.1h0m3.4 0.1h0m-6.8 0.4h0m-0.9 0.2h0m4.2 1.9h0m1.8-1h0m1.9-0.7h0m-6.7 0.3h0m4.8-3.7h0m-6.6 1.5h0m-0.3-0.8h0m-0.6 5.1h0m3.4-1.6h0m-5.1-3h0m5.2 4h0m2.6 0.2h0m-3.8-0.2h0m-3.5-4.5h0m7.8 2.9h0m1-0.6h0m-3.4 2.7h0m5-3.1h0m-1.3-0.3h0m-9.9 0.2h0m3.8 2.7h0m-0.8-3.5h0m-2.1 2.1h0m4-2.3h0m6-0.7h0m-0.8 4.8h0m-3.9-5.5h0m1 4.5h0m-5.9 0h0m0.7-1.7h0m6.2 0.2h0m-2.5 1.7h0m-2.9-1.9h0m2.2-3h0m0.7-0.3h0m3.5 2.7h0m-1.4 4.4h0m-5.1-1.6h0m4.2 0.5h0m-1.3-2.4h0m-1.8-3.8h0m-1.9 4.3h0m4.7-4.6h0m-0.5 4.4h0m1.1-1.1h0m1.9 0.7h0m-9.3-2.5h0" stroke="#00BFC4" stroke-width="1.15" stroke-linecap="round" fill="none"/><path d="M487.9 78.1h0m-3.9 4.3h0m-1.5-1h0m6.1-0.3h0m-1-7h0m-4.4 7h0m3.5-6.3h0m2.6-1.8h0m-8.4 4h0m3.5 5.7h0m3.6-7.6h0m-2.3 9.8h0m-7.5-3.4h0m2.3-4.6h0m2.6 4.1h0m-3.9 2.8h0m4.5-2.1h0m0.9-4.3h0m2.4 7.7h0m-8.3-1.5h0m-1.7-6.4h0m3.7 4.3h0m0.1-6.4h0m-0.2 2h0m3.6-3.1h0m-2.8-0.6h0m3.4 3.2h0m-6.5-3.8h0m6.7 3.1h0m4.3 8.5h0m-2.6-11h0m-0.5 6.9h0m1.8-6.6h0m-1.2 0.4h0m0.3 5.8h0m-5.3-5.3h0m-1 5.1h0m4.1-4.4h0m-0.9 2h0m-0.8 7.1h0m-4.8-3.3h0m9.8-1.8h0m-5.1-2h0m2.2 1.5h0m-3.5-2.6h0m-1.7 5.9h0m0.1-5.1h0m5.6 4h0m3.3-6.8h0m-4.9-1.2h0m-5.8 1.3h0m2.9-1.3h0m4 0.9h0m3 2.4h0m-6 1.2h0m-1.6 3.7h0m-2.9-5.6h0m7.9 3.3h0m3.2 6.6h0m-8.7-6.6h0m6 0.6h0m-5.3 1.6h0m7.3-6.5h0m-5.7 4.7h0m6.9 5.5h0m-9.4-7.6h0m8.2 6.7h0m-2.7-0.8h0m-7.1-0.6h0m6.5-8.4h0m-6.6 3.9h0m8.7 3.8h0m-0.7-5.9h0m2.8-3.5h0m-3.2 5.7h0m1.3-0.8h0m-6.9 6.2h0m6.1-10.9h0m0.8 4.2h0m-2.9-2.1h0m5.1 1.6h0m-2.6 8.4h0m-8.1-5.8h0m7 2.6h0m-5.4-5.5h0m4.8 9.7h0m-0.5-13.3h0m0 5.1h0m-2.1-3h0m7.1 0.7h0m-5.9 5h0m-0.2-1.2h0m-3.9-2h0m10.5 0.7h0m-8.2-3.6h0m4.4 8.4h0m2.7-6h0m-4.1-2.2h0m4.7 2.2h0m-6.8 4.9h0m-2.5-8.1h0m0.5 7.6h0m-2.3 2.7h0m11.2-8.1h0m-2.4 9.9h0m-6.8-11.4h0m3.3 1.4h0m-1.8-3h0m1.4 5.5h0m1.7-3.4h0m3.1 5.5h0m-3.6 0.5h0m-2.2-1.8h0m3.4-3.4h0m2.6 2.3h0m-3.7 0.3h0m4.3 0.2h0m-3.1-2.1h0m-3.2-2.9h0m-2.3 2.5h0m5 6.3h0m-5.3-2.6h0m5.4-0.8h0m-5 3.6h0m1.6-0.3h0m2.6 3.2h0m-4.2-9.8h0m-1 0.6h0m8.4 6.5h0m-1.1-9h0m-1.6 12.6h0m0.3-4.7h0m2.8-4.1h0m1.1 4.1h0m-4.3-7.4h0m3.1-0.9h0m1.1 7.7h0m-4.6-5.6h0m-3.5 6.2h0m0.3-4.2h0m2.7-3.7h0m-5.7 3.3h0m5.1 8.3h0m-2.7-1h0m6.5-3.7h0m-4-4.8h0m2.8 2.1h0m-3 5.5h0m1-9.1h0m5.4 4.8h0m-5.5 0.5h0m3.2 3.3h0m-0.3 0.5h0m1.7-5.9h0m-0.2 1.4h0m-5.9-1.7h0m-3.6 6.6h0m7.7-5.1h0m-6.9 0.9h0m4.3-0.1h0m-2.3 2.6h0m-0.1-6.1h0m6.9 4.5h0" stroke="#00BFC4" stroke-width="1.15" stroke-linecap="round" fill="none"/><path d="M493 82.3h0m-1.1-1.8h0m-1.6 3.6h0m4.7-7.3h0m-3.4-0.4h0m0.4 2.5h0m-1.4-0.8h0m1 2.7h0m0.1-1.6h0m-0.6-1.5h0m1.3 2.8h0m-0.3-4.8h0m-2.2 7.7h0m3.7-4.4h0m0 1.5h0m-3.7 2.4h0m3.6-5.4h0m-2.8 4.6h0" stroke="#00BFC4" stroke-width="1.15" stroke-linecap="round" fill="none"/><path d="M500.6 99h0m2.6 1.1h0m1.2-0.5h0m-3 1.2h0m4.2 0.4h0m-2.2-0.3h0m-0.2-0.4h0m2.8-2h0m-1.4-0.3h0m0.1 1.3h0m2.3 0h0m-5.6 0.9h0m3.1-1h0m1.3-1.3h0" stroke="#fff" stroke-width="1.15" stroke-linecap="round" fill="none"/><path d="M482.4 90.4h0m-0.1-2.9h0m0.8 3.6h0m1.2-3.7h0m0.1 1.2h0m-0.5-1.1h0m-1.2 0.8h0m1.7 0h0m-0.6-0.1h0" stroke="#fff" stroke-width="1.15" stroke-linecap="round" fill="none"/><path d="M488.4 80h0m-7.5-3.6h0m6.6-1.2h0m-2.2 1.2h0m-4.3 0.8h0m5.1-0.7h0m1.2 2h0m-4.3-0.9h0m4.9 2.4h0m-1.9-1.4h0m0.4-3.6h0m-5.8 3.3h0m3.7-1.7h0" stroke="#fff" stroke-width="1.15" stroke-linecap="round" fill="none"/><path d="M490.6 92h0m-4.7 4.8h0m0 0.9h0m5.5-6.8h0m-5.8 0.1h0m-1 11.6h0m3.1-11.2h0m-3.4 9.2h0m2-4.5h0m-0.8 0.4h0m2.9-3.3h0m-2.6 9.9h0m0.7-3.1h0m-1.9-6.9h0m0.7 10.5h0m1.4-7.1h0m3-3.2h0m-0.6-0.3h0m-4.5 5h0m0.6-4.2h0m3.1 2.2h0m-3.1-4.1h0m0.7 8.1h0m-1.1-6h0m3.7-0.5h0m-5.2-2.2h0m3 1.7h0m-1 10h0m-1.9-11.1h0m2.6 5.6h0m-1.1 2.5h0m-1-3.9h0m0.4-4.3h0m7 1.3h0m-4.8 8.9h0m-0.2-4.2h0m0.6-1.1h0m1.8-4.1h0m-4.4 3.5h0m-0.9-2.7h0m2.9 1.4h0m0.7 0.5h0m-1.8 7.8h0m-0.4-4.1h0m-1.7-5.1h0m1.5 8.4h0m3.4-9.4h0m1-0.6h0m3.4-0.5h0m-7 0.9h0m0.7-1.4h0m6.3-0.5h0m-3.6 1.8h0m4.3-2.1h0m-5.9 1.1h0m-2.8 4.3h0m0.7 0.1h0m6.6-3.8h0m-5.9 5h0m-0.7 1.1h0m1.1 2.7h0m4.1-10h0m-0.5 3.9h0m-5.7-2.1h0m7.3-1.4h0m-4.9-0.2h0m-0.8 11.5h0m0.2-2.2h0m0.1-7.8h0m2.3 2.7h0m-3.9-1.4h0m-0.5 0.2h0m1.2 4h0m-0.6-5.6h0m1.5 2.7h0m4.5-4h0m1.4 2.1h0m-6.9 5.6h0m-1-3.2h0m-0.4-3.4h0m2-2.8h0m0.8 12.4h0m-1-10.1h0m1.5 0.7h0m2.4 0.1h0m1.3-0.8h0" stroke="#00BFC4" stroke-width="1.15" stroke-linecap="round" fill="none"/><path d="M495 89.7h0m-1.1 1.6h0m-0.2-0.2h0" stroke="#00BFC4" stroke-width="1.15" stroke-linecap="round" fill="none"/><path d="M518.4 83.5h0m-2.7-0.7h0m1.5 4.1h0m1.6 0.1h0m-1.1-0.4h0m0.9-4.4h0m-3.3-0.3h0m5.7 0.3h0m-8.6 0.4h0m10.5 6.6h0m-11.1-6.4h0m0.6-0.5h0m2.4 4.8h0m-0.5-2.1h0m8.2-1h0m-9.5 5h0m0.7-4.5h0m5.1 1.5h0m-6.4 3.6h0m11.2-4h0m-0.3 1h0m-3.7 1.2h0m-6.3-1.8h0m2.6-3h0m7.1 1.2h0m0.1-0.4h0m-9.5-1.6h0m3.1 3.5h0m0.7 0.1h0m6.2 0.6h0m-12.5-3.5h0m8.7 0.8h0m2.2 0.3h0m-0.5-0.1h0m-4.7-1.4h0m-2.2 4.1h0m8-1.7h0m-1.3-2.5h0m-7.2 4.6h0m-0.3-2.7h0m8.8 4.5h0m-6.5-5.8h0m-4.6 1.5h0m6.5 0h0m3.9-1.3h0m-6.2-0.9h0m0.7 0.4h0m-1.7 4.6h0m0-0.7h0m-2.8-4h0m10.5 2.2h0m-10 4.6h0m7.2-5.3h0m-5.5-1.7h0m-1.7 2.3h0m6.6 0h0m-1 0.9h0m-5.1 3.8h0m8.4-5.5h0m-6.9-1.8h0m8.9 5.8h0m-8.4-5.4h0m2.7 1.3h0m-2 0.9h0m3.4 0.2h0m1.9 3.3h0m-8.1 1.7h0m2.9-4.6h0m2 0.5h0m0.3 1.4h0m-3.8-1.6h0m2.9 1h0m0.1-0.7h0m4.8 3h0m-0.5-2.1h0m-8.5-2.5h0m5.2-1.4h0m-1.1 1.6h0m-3.6-0.7h0m0-1.4h0m2.5 2.3h0m-2.5 4.4h0m-1.9-3.8h0m1.4-0.5h0m10.1-1.6h0m-8.9 2.1h0m-1.1-0.9h0" stroke="#00BFC4" stroke-width="1.15" stroke-linecap="round" fill="none"/><path d="M522 87.1h0m-5.1-4.6h0m-1.1-0.2h0m2.6 2.6h0m-0.8-2h0m2.8 4.6h0m-2-3.6h0m-2.1-1.6h0m4.3 0.6h0m-1.6 1.4h0m2.8 2.9h0m-2-2.8h0m-3.3 0.8h0m4.9 1h0" stroke="#00BFC4" stroke-width="1.15" stroke-linecap="round" fill="none"/><path d="M512.9 91.5h0m0.4 0h0m0.4 4.1h0m-1.2-6.3h0m0.8 5h0m1.3-5.6h0m0.1 5h0m-1.8-3.8h0m1 1.7h0m0 0.4h0m0.7 2h0m-1.3-3.9h0m0.3 3h0m0.1 0.2h0m0.4-3.4h0" stroke="#00BFC4" stroke-width="1.15" stroke-linecap="round" fill="none"/><path d="M485.6 107.9L486.3 109.4L489 109.2L492.6 107.4L492.4 106.7L488.5 107.9Z" fill="#00BFC4"/><path d="M488 108.9h0m0.1-0.1h0m-0.7 0.4h0m2.9-1h0m2-0.7h0m-1.9 1.2h0m1.6-1.1h0m0.1 0.3h0m-5.3 0.9h0m2.6-0.1h0m1.2-1.8h0m-4.3 1h0m0.4 0.8h0m4-1.1h0" stroke="#00BFC4" stroke-width="1.15" stroke-linecap="round" fill="none"/><path d="M490.9 106.9h0" stroke="#fff" stroke-width="0.85" stroke-linecap="round" fill="none"/><path d="M489.5 110.4h0" stroke="#00BE67" stroke-width="1.15" stroke-linecap="round" fill="none"/><path d="M465.4 94h0m0.7 0.3h0" stroke="#00BE67" stroke-width="1.15" stroke-linecap="round" fill="none"/><path d="M473.9 78.7h0" stroke="#00BE67" stroke-width="1.15" stroke-linecap="round" fill="none"/><path d="M496.4 80h0" stroke="#00BE67" stroke-width="1.15" stroke-linecap="round" fill="none"/><path d="M516.2 86h0m-1.2-0.2h0" stroke="#00BE67" stroke-width="1.15" stroke-linecap="round" fill="none"/><path d="M511.3 69.7h0" stroke="#00BE67" stroke-width="1.15" stroke-linecap="round" fill="none"/></g>
<rect x="354.0" y="21.0" width="207.5" height="207.2" fill="none" stroke="#333" stroke-width="0.7"/>
<text class="tk" x="365.7" y="236.8" text-anchor="middle">−10</text>
<text class="tk" x="403.9" y="236.8" text-anchor="middle">−5</text>
<text class="tk" x="442.0" y="236.8" text-anchor="middle">0</text>
<text class="tk" x="480.1" y="236.8" text-anchor="middle">5</text>
<text class="tk" x="518.3" y="236.8" text-anchor="middle">10</text>
<text class="tk" x="556.5" y="236.8" text-anchor="middle">15</text>
<text class="tk" x="351.3" y="224.7" text-anchor="end">−15</text>
<text class="tk" x="351.3" y="191.5" text-anchor="end">−10</text>
<text class="tk" x="351.3" y="158.3" text-anchor="end">−5</text>
<text class="tk" x="351.3" y="125.1" text-anchor="end">0</text>
<text class="tk" x="351.3" y="91.9" text-anchor="end">5</text>
<text class="tk" x="351.3" y="58.7" text-anchor="end">10</text>
<text class="tk" x="351.3" y="25.5" text-anchor="end">15</text>
<path d="M365.7 228.2v1.7M403.9 228.2v1.7M442.0 228.2v1.7M480.1 228.2v1.7M518.3 228.2v1.7M556.5 228.2v1.7M354.0 222.1h-1.7M354.0 188.9h-1.7M354.0 155.7h-1.7M354.0 122.5h-1.7M354.0 89.3h-1.7M354.0 56.1h-1.7M354.0 22.9h-1.7" stroke="#333" stroke-width="0.7" fill="none"/>
<text class="ax" x="457.8" y="245.7" text-anchor="middle">UMAP_1</text>
<text class="ax" transform="translate(336.2 124.6) rotate(-90)" text-anchor="middle">UMAP_2</text>
<rect x="386.4" y="23.6" width="46.0" height="6.8" rx="1" fill="#fff" stroke="#bdbdbd" stroke-width="0.6"/>
<text class="lb" x="409.4" y="29.1">Oligodendrocyte</text>
<rect x="375.6" y="52.8" width="50.7" height="7.0" rx="1" fill="#fff" stroke="#bdbdbd" stroke-width="0.6"/>
<text class="lb" x="401.0" y="58.4">AC−like Malignant</text>
<rect x="356.9" y="95.3" width="54.2" height="7.0" rx="1" fill="#fff" stroke="#bdbdbd" stroke-width="0.6"/>
<text class="lb" x="384.0" y="101.0">OPC−like Malignant</text>
<rect x="475.1" y="88.5" width="35.5" height="7.3" rx="1" fill="#fff" stroke="#bdbdbd" stroke-width="0.6"/>
<text class="lb" x="492.9" y="94.3">Mono/Macro</text>
<rect x="525.5" y="124.8" width="24.2" height="7.5" rx="1" fill="#fff" stroke="#bdbdbd" stroke-width="0.6"/>
<text class="lb" x="537.6" y="130.7">CD8Tex</text>
<rect x="368.0" y="137.4" width="28.8" height="7.7" rx="1" fill="#fff" stroke="#bdbdbd" stroke-width="0.6"/>
<text class="lb" x="382.4" y="143.4">Malignant</text>
<rect x="395.6" y="153.9" width="54.4" height="7.3" rx="1" fill="#fff" stroke="#bdbdbd" stroke-width="0.6"/>
<text class="lb" x="422.8" y="159.7">NPC−like Malignant</text>
<rect x="383.7" y="168.0" width="55.1" height="7.6" rx="1" fill="#fff" stroke="#bdbdbd" stroke-width="0.6"/>
<text class="lb" x="411.2" y="174.0">MES−like Malignant</text>
<text class="lt" x="570.2" y="88.1">cell_type</text>
<circle cx="574.7" cy="96.3" r="3.1" fill="#F8766D"/>
<text class="sm" x="582.3" y="98.0" font-size="4.75">AC−like Malignant</text>
<circle cx="574.7" cy="105.6" r="3.1" fill="#CD9600"/>
<text class="sm" x="582.3" y="107.3" font-size="4.75">CD8Tex</text>
<circle cx="574.7" cy="115.0" r="3.1" fill="#7CAE00"/>
<text class="sm" x="582.3" y="116.7" font-size="4.75">Malignant</text>
<circle cx="574.7" cy="124.3" r="3.1" fill="#00BE67"/>
<text class="sm" x="582.3" y="126.0" font-size="4.75">MES−like Malignant</text>
<circle cx="574.7" cy="133.7" r="3.1" fill="#00BFC4"/>
<text class="sm" x="582.3" y="135.4" font-size="4.75">Mono/Macro</text>
<circle cx="574.7" cy="143.1" r="3.1" fill="#00A9FF"/>
<text class="sm" x="582.3" y="144.8" font-size="4.75">NPC−like Malignant</text>
<circle cx="574.7" cy="152.4" r="3.1" fill="#C77CFF"/>
<text class="sm" x="582.3" y="154.1" font-size="4.75">Oligodendrocyte</text>
<circle cx="574.7" cy="161.8" r="3.1" fill="#FF61CC"/>
<text class="sm" x="582.3" y="163.4" font-size="4.75">OPC−like Malignant</text>
<text class="se" x="2.2" y="264.6" font-size="16">C</text>
<rect x="40.60" y="271.50" width="45.29" height="6.66" fill="#BBDBEA"/>
<rect x="85.89" y="271.50" width="45.29" height="6.66" fill="#E85A3E"/>
<rect x="131.18" y="271.50" width="45.29" height="6.66" fill="#E9F6E8"/>
<rect x="176.47" y="271.50" width="45.29" height="6.66" fill="#DCF0F6"/>
<rect x="221.76" y="271.50" width="45.29" height="6.66" fill="#F67D50"/>
<rect x="267.05" y="271.50" width="45.29" height="6.66" fill="#4575B4"/>
<rect x="312.34" y="271.50" width="45.29" height="6.66" fill="#BBDBEA"/>
<rect x="357.63" y="271.50" width="45.29" height="6.66" fill="#B4D6E8"/>
<rect x="40.60" y="278.16" width="45.29" height="6.66" fill="#A4CCE2"/>
<rect x="85.89" y="278.16" width="45.29" height="6.66" fill="#EB6242"/>
<rect x="131.18" y="278.16" width="45.29" height="6.66" fill="#DFF2F8"/>
<rect x="176.47" y="278.16" width="45.29" height="6.66" fill="#FFF3AD"/>
<rect x="221.76" y="278.16" width="45.29" height="6.66" fill="#F67D50"/>
<rect x="267.05" y="278.16" width="45.29" height="6.66" fill="#7EACD1"/>
<rect x="312.34" y="278.16" width="45.29" height="6.66" fill="#D8EEF5"/>
<rect x="357.63" y="278.16" width="45.29" height="6.66" fill="#7EACD1"/>
<rect x="40.60" y="284.82" width="45.29" height="6.66" fill="#C1DFED"/>
<rect x="85.89" y="284.82" width="45.29" height="6.66" fill="#E95E40"/>
<rect x="131.18" y="284.82" width="45.29" height="6.66" fill="#DCF0F6"/>
<rect x="176.47" y="284.82" width="45.29" height="6.66" fill="#FEE597"/>
<rect x="221.76" y="284.82" width="45.29" height="6.66" fill="#F1714A"/>
<rect x="267.05" y="284.82" width="45.29" height="6.66" fill="#6B9AC7"/>
<rect x="312.34" y="284.82" width="45.29" height="6.66" fill="#ABD0E4"/>
<rect x="357.63" y="284.82" width="45.29" height="6.66" fill="#9AC5DE"/>
<rect x="40.60" y="291.48" width="45.29" height="6.66" fill="#C5E1EE"/>
<rect x="85.89" y="291.48" width="45.29" height="6.66" fill="#FDA469"/>
<rect x="131.18" y="291.48" width="45.29" height="6.66" fill="#C5E1EE"/>
<rect x="176.47" y="291.48" width="45.29" height="6.66" fill="#FED588"/>
<rect x="221.76" y="291.48" width="45.29" height="6.66" fill="#EC6644"/>
<rect x="267.05" y="291.48" width="45.29" height="6.66" fill="#8AB8D8"/>
<rect x="312.34" y="291.48" width="45.29" height="6.66" fill="#9EC7E0"/>
<rect x="357.63" y="291.48" width="45.29" height="6.66" fill="#8DBBD9"/>
<rect x="40.60" y="298.14" width="45.29" height="6.66" fill="#C5E1EE"/>
<rect x="85.89" y="298.14" width="45.29" height="6.66" fill="#FCA166"/>
<rect x="131.18" y="298.14" width="45.29" height="6.66" fill="#BBDBEA"/>
<rect x="176.47" y="298.14" width="45.29" height="6.66" fill="#FDA469"/>
<rect x="221.76" y="298.14" width="45.29" height="6.66" fill="#EF6E48"/>
<rect x="267.05" y="298.14" width="45.29" height="6.66" fill="#7EACD1"/>
<rect x="312.34" y="298.14" width="45.29" height="6.66" fill="#E2F4F4"/>
<rect x="357.63" y="298.14" width="45.29" height="6.66" fill="#77A6CE"/>
<rect x="40.60" y="304.80" width="45.29" height="6.66" fill="#C1DFED"/>
<rect x="85.89" y="304.80" width="45.29" height="6.66" fill="#FDAF6F"/>
<rect x="131.18" y="304.80" width="45.29" height="6.66" fill="#DCF0F6"/>
<rect x="176.47" y="304.80" width="45.29" height="6.66" fill="#FED186"/>
<rect x="221.76" y="304.80" width="45.29" height="6.66" fill="#F1714A"/>
<rect x="267.05" y="304.80" width="45.29" height="6.66" fill="#84B2D4"/>
<rect x="312.34" y="304.80" width="45.29" height="6.66" fill="#E5F5EF"/>
<rect x="357.63" y="304.80" width="45.29" height="6.66" fill="#87B5D6"/>
<rect x="40.60" y="311.46" width="45.29" height="6.66" fill="#FED88B"/>
<rect x="85.89" y="311.46" width="45.29" height="6.66" fill="#FFF5B0"/>
<rect x="131.18" y="311.46" width="45.29" height="6.66" fill="#FEE79B"/>
<rect x="176.47" y="311.46" width="45.29" height="6.66" fill="#FC9E64"/>
<rect x="221.76" y="311.46" width="45.29" height="6.66" fill="#FEE597"/>
<rect x="267.05" y="311.46" width="45.29" height="6.66" fill="#90BEDB"/>
<rect x="312.34" y="311.46" width="45.29" height="6.66" fill="#C1DFED"/>
<rect x="357.63" y="311.46" width="45.29" height="6.66" fill="#D8EEF5"/>
<rect x="40.60" y="318.12" width="45.29" height="6.66" fill="#FEE699"/>
<rect x="85.89" y="318.12" width="45.29" height="6.66" fill="#DFF2F8"/>
<rect x="131.18" y="318.12" width="45.29" height="6.66" fill="#FEE699"/>
<rect x="176.47" y="318.12" width="45.29" height="6.66" fill="#FDA86B"/>
<rect x="221.76" y="318.12" width="45.29" height="6.66" fill="#FDC37D"/>
<rect x="267.05" y="318.12" width="45.29" height="6.66" fill="#9EC7E0"/>
<rect x="312.34" y="318.12" width="45.29" height="6.66" fill="#CFE8F2"/>
<rect x="357.63" y="318.12" width="45.29" height="6.66" fill="#D2EAF3"/>
<rect x="40.60" y="324.78" width="45.29" height="6.66" fill="#FEEA9F"/>
<rect x="85.89" y="324.78" width="45.29" height="6.66" fill="#E7F6EB"/>
<rect x="131.18" y="324.78" width="45.29" height="6.66" fill="#FEE99D"/>
<rect x="176.47" y="324.78" width="45.29" height="6.66" fill="#FDB272"/>
<rect x="221.76" y="324.78" width="45.29" height="6.66" fill="#FEE99D"/>
<rect x="267.05" y="324.78" width="45.29" height="6.66" fill="#CBE5F0"/>
<rect x="312.34" y="324.78" width="45.29" height="6.66" fill="#D8EEF5"/>
<rect x="357.63" y="324.78" width="45.29" height="6.66" fill="#D8EEF5"/>
<rect x="40.60" y="331.44" width="45.29" height="6.66" fill="#FED588"/>
<rect x="85.89" y="331.44" width="45.29" height="6.66" fill="#FEE395"/>
<rect x="131.18" y="331.44" width="45.29" height="6.66" fill="#EAF7E6"/>
<rect x="176.47" y="331.44" width="45.29" height="6.66" fill="#FEEA9F"/>
<rect x="221.76" y="331.44" width="45.29" height="6.66" fill="#E6F5ED"/>
<rect x="267.05" y="331.44" width="45.29" height="6.66" fill="#D5ECF4"/>
<rect x="312.34" y="331.44" width="45.29" height="6.66" fill="#DFF2F8"/>
<rect x="357.63" y="331.44" width="45.29" height="6.66" fill="#E5F5EF"/>
<rect x="40.60" y="338.10" width="45.29" height="6.66" fill="#FEE699"/>
<rect x="85.89" y="338.10" width="45.29" height="6.66" fill="#DFF2F8"/>
<rect x="131.18" y="338.10" width="45.29" height="6.66" fill="#E9F6E8"/>
<rect x="176.47" y="338.10" width="45.29" height="6.66" fill="#FECE84"/>
<rect x="221.76" y="338.10" width="45.29" height="6.66" fill="#FED186"/>
<rect x="267.05" y="338.10" width="45.29" height="6.66" fill="#C5E1EE"/>
<rect x="312.34" y="338.10" width="45.29" height="6.66" fill="#D8EEF5"/>
<rect x="357.63" y="338.10" width="45.29" height="6.66" fill="#C1DFED"/>
<rect x="40.60" y="344.76" width="45.29" height="6.66" fill="#FEEBA1"/>
<rect x="85.89" y="344.76" width="45.29" height="6.66" fill="#FEE79B"/>
<rect x="131.18" y="344.76" width="45.29" height="6.66" fill="#E3F4F2"/>
<rect x="176.47" y="344.76" width="45.29" height="6.66" fill="#FDAB6D"/>
<rect x="221.76" y="344.76" width="45.29" height="6.66" fill="#FDA469"/>
<rect x="267.05" y="344.76" width="45.29" height="6.66" fill="#A1C9E1"/>
<rect x="312.34" y="344.76" width="45.29" height="6.66" fill="#D5ECF4"/>
<rect x="357.63" y="344.76" width="45.29" height="6.66" fill="#B4D6E8"/>
<rect x="40.60" y="351.42" width="45.29" height="6.66" fill="#FEE395"/>
<rect x="85.89" y="351.42" width="45.29" height="6.66" fill="#FEE699"/>
<rect x="131.18" y="351.42" width="45.29" height="6.66" fill="#B1D4E7"/>
<rect x="176.47" y="351.42" width="45.29" height="6.66" fill="#FEE597"/>
<rect x="221.76" y="351.42" width="45.29" height="6.66" fill="#FDC37D"/>
<rect x="267.05" y="351.42" width="45.29" height="6.66" fill="#B1D4E7"/>
<rect x="312.34" y="351.42" width="45.29" height="6.66" fill="#C8E3EF"/>
<rect x="357.63" y="351.42" width="45.29" height="6.66" fill="#BEDDEC"/>
<rect x="40.60" y="358.08" width="45.29" height="6.66" fill="#E7F6EB"/>
<rect x="85.89" y="358.08" width="45.29" height="6.66" fill="#FEE597"/>
<rect x="131.18" y="358.08" width="45.29" height="6.66" fill="#E7F6EB"/>
<rect x="176.47" y="358.08" width="45.29" height="6.66" fill="#FDB976"/>
<rect x="221.76" y="358.08" width="45.29" height="6.66" fill="#DFF2F8"/>
<rect x="267.05" y="358.08" width="45.29" height="6.66" fill="#E5F5EF"/>
<rect x="312.34" y="358.08" width="45.29" height="6.66" fill="#97C3DD"/>
<rect x="357.63" y="358.08" width="45.29" height="6.66" fill="#FEE99D"/>
<rect x="40.60" y="364.74" width="45.29" height="6.66" fill="#E2F4F4"/>
<rect x="85.89" y="364.74" width="45.29" height="6.66" fill="#FDBD78"/>
<rect x="131.18" y="364.74" width="45.29" height="6.66" fill="#FFF8B4"/>
<rect x="176.47" y="364.74" width="45.29" height="6.66" fill="#FEE395"/>
<rect x="221.76" y="364.74" width="45.29" height="6.66" fill="#FFF2AB"/>
<rect x="267.05" y="364.74" width="45.29" height="6.66" fill="#CFE8F2"/>
<rect x="312.34" y="364.74" width="45.29" height="6.66" fill="#E5F5EF"/>
<rect x="357.63" y="364.74" width="45.29" height="6.66" fill="#FDC77F"/>
<rect x="40.60" y="371.40" width="45.29" height="6.66" fill="#DCF0F6"/>
<rect x="85.89" y="371.40" width="45.29" height="6.66" fill="#FEE597"/>
<rect x="131.18" y="371.40" width="45.29" height="6.66" fill="#FFF5B0"/>
<rect x="176.47" y="371.40" width="45.29" height="6.66" fill="#FDCA82"/>
<rect x="221.76" y="371.40" width="45.29" height="6.66" fill="#FFF2AB"/>
<rect x="267.05" y="371.40" width="45.29" height="6.66" fill="#C5E1EE"/>
<rect x="312.34" y="371.40" width="45.29" height="6.66" fill="#B4D6E8"/>
<rect x="357.63" y="371.40" width="45.29" height="6.66" fill="#FEEBA1"/>
<rect x="40.60" y="378.06" width="45.29" height="6.66" fill="#E7F6EB"/>
<rect x="85.89" y="378.06" width="45.29" height="6.66" fill="#FEE395"/>
<rect x="131.18" y="378.06" width="45.29" height="6.66" fill="#FEEBA1"/>
<rect x="176.47" y="378.06" width="45.29" height="6.66" fill="#FEDF8F"/>
<rect x="221.76" y="378.06" width="45.29" height="6.66" fill="#FEECA3"/>
<rect x="267.05" y="378.06" width="45.29" height="6.66" fill="#D8EEF5"/>
<rect x="312.34" y="378.06" width="45.29" height="6.66" fill="#FEEEA5"/>
<rect x="357.63" y="378.06" width="45.29" height="6.66" fill="#B1D4E7"/>
<rect x="40.60" y="384.72" width="45.29" height="6.66" fill="#FEE99D"/>
<rect x="85.89" y="384.72" width="45.29" height="6.66" fill="#FEE699"/>
<rect x="131.18" y="384.72" width="45.29" height="6.66" fill="#EFF9DC"/>
<rect x="176.47" y="384.72" width="45.29" height="6.66" fill="#FEDF8F"/>
<rect x="221.76" y="384.72" width="45.29" height="6.66" fill="#FEE699"/>
<rect x="267.05" y="384.72" width="45.29" height="6.66" fill="#C5E1EE"/>
<rect x="312.34" y="384.72" width="45.29" height="6.66" fill="#FEEBA1"/>
<rect x="357.63" y="384.72" width="45.29" height="6.66" fill="#DCF0F6"/>
<rect x="40.60" y="391.38" width="45.29" height="6.66" fill="#DCF0F6"/>
<rect x="85.89" y="391.38" width="45.29" height="6.66" fill="#FEE597"/>
<rect x="131.18" y="391.38" width="45.29" height="6.66" fill="#E5F5EF"/>
<rect x="176.47" y="391.38" width="45.29" height="6.66" fill="#FEE395"/>
<rect x="221.76" y="391.38" width="45.29" height="6.66" fill="#FEE191"/>
<rect x="267.05" y="391.38" width="45.29" height="6.66" fill="#A1C9E1"/>
<rect x="312.34" y="391.38" width="45.29" height="6.66" fill="#FEE99D"/>
<rect x="357.63" y="391.38" width="45.29" height="6.66" fill="#C8E3EF"/>
<rect x="40.60" y="398.04" width="45.29" height="6.66" fill="#D8EEF5"/>
<rect x="85.89" y="398.04" width="45.29" height="6.66" fill="#FEE597"/>
<rect x="131.18" y="398.04" width="45.29" height="6.66" fill="#ECF8E1"/>
<rect x="176.47" y="398.04" width="45.29" height="6.66" fill="#FEE293"/>
<rect x="221.76" y="398.04" width="45.29" height="6.66" fill="#FED88B"/>
<rect x="267.05" y="398.04" width="45.29" height="6.66" fill="#C1DFED"/>
<rect x="312.34" y="398.04" width="45.29" height="6.66" fill="#FEEEA5"/>
<rect x="357.63" y="398.04" width="45.29" height="6.66" fill="#E1F3F6"/>
<rect x="40.60" y="404.70" width="45.29" height="6.66" fill="#C8E3EF"/>
<rect x="85.89" y="404.70" width="45.29" height="6.66" fill="#FDC37D"/>
<rect x="131.18" y="404.70" width="45.29" height="6.66" fill="#D2EAF3"/>
<rect x="176.47" y="404.70" width="45.29" height="6.66" fill="#FEE597"/>
<rect x="221.76" y="404.70" width="45.29" height="6.66" fill="#FEE699"/>
<rect x="267.05" y="404.70" width="45.29" height="6.66" fill="#FEEEA5"/>
<rect x="312.34" y="404.70" width="45.29" height="6.66" fill="#D5ECF4"/>
<rect x="357.63" y="404.70" width="45.29" height="6.66" fill="#D8EEF5"/>
<rect x="40.60" y="411.36" width="45.29" height="6.66" fill="#E2F4F4"/>
<rect x="85.89" y="411.36" width="45.29" height="6.66" fill="#FEE597"/>
<rect x="131.18" y="411.36" width="45.29" height="6.66" fill="#FEEA9F"/>
<rect x="176.47" y="411.36" width="45.29" height="6.66" fill="#FEE191"/>
<rect x="221.76" y="411.36" width="45.29" height="6.66" fill="#FEDB8D"/>
<rect x="267.05" y="411.36" width="45.29" height="6.66" fill="#ABD0E4"/>
<rect x="312.34" y="411.36" width="45.29" height="6.66" fill="#D8EEF5"/>
<rect x="357.63" y="411.36" width="45.29" height="6.66" fill="#DCF0F6"/>
<rect x="40.60" y="418.02" width="45.29" height="6.66" fill="#E1F3F6"/>
<rect x="85.89" y="418.02" width="45.29" height="6.66" fill="#FEE597"/>
<rect x="131.18" y="418.02" width="45.29" height="6.66" fill="#FEECA3"/>
<rect x="176.47" y="418.02" width="45.29" height="6.66" fill="#FEE395"/>
<rect x="221.76" y="418.02" width="45.29" height="6.66" fill="#FEE191"/>
<rect x="267.05" y="418.02" width="45.29" height="6.66" fill="#E2F4F4"/>
<rect x="312.34" y="418.02" width="45.29" height="6.66" fill="#C1DFED"/>
<rect x="357.63" y="418.02" width="45.29" height="6.66" fill="#C8E3EF"/>
<rect x="40.60" y="424.68" width="45.29" height="6.66" fill="#DCF0F6"/>
<rect x="85.89" y="424.68" width="45.29" height="6.66" fill="#FEDB8D"/>
<rect x="131.18" y="424.68" width="45.29" height="6.66" fill="#FEEFA7"/>
<rect x="176.47" y="424.68" width="45.29" height="6.66" fill="#FDB674"/>
<rect x="221.76" y="424.68" width="45.29" height="6.66" fill="#FDCA82"/>
<rect x="267.05" y="424.68" width="45.29" height="6.66" fill="#A7CEE3"/>
<rect x="312.34" y="424.68" width="45.29" height="6.66" fill="#C5E1EE"/>
<rect x="357.63" y="424.68" width="45.29" height="6.66" fill="#C8E3EF"/>
<rect x="40.60" y="431.34" width="45.29" height="6.66" fill="#C1DFED"/>
<rect x="85.89" y="431.34" width="45.29" height="6.66" fill="#FEDF8F"/>
<rect x="131.18" y="431.34" width="45.29" height="6.66" fill="#FFF5B0"/>
<rect x="176.47" y="431.34" width="45.29" height="6.66" fill="#FEDF8F"/>
<rect x="221.76" y="431.34" width="45.29" height="6.66" fill="#FDA86B"/>
<rect x="267.05" y="431.34" width="45.29" height="6.66" fill="#BBDBEA"/>
<rect x="312.34" y="431.34" width="45.29" height="6.66" fill="#E5F5EF"/>
<rect x="357.63" y="431.34" width="45.29" height="6.66" fill="#ABD0E4"/>
<rect x="40.60" y="438.00" width="45.29" height="6.66" fill="#ECF8E1"/>
<rect x="85.89" y="438.00" width="45.29" height="6.66" fill="#FDB674"/>
<rect x="131.18" y="438.00" width="45.29" height="6.66" fill="#E2F4F4"/>
<rect x="176.47" y="438.00" width="45.29" height="6.66" fill="#FEE395"/>
<rect x="221.76" y="438.00" width="45.29" height="6.66" fill="#FDAF6F"/>
<rect x="267.05" y="438.00" width="45.29" height="6.66" fill="#A4CCE2"/>
<rect x="312.34" y="438.00" width="45.29" height="6.66" fill="#B8D8E9"/>
<rect x="357.63" y="438.00" width="45.29" height="6.66" fill="#A7CEE3"/>
<rect x="40.60" y="444.66" width="45.29" height="6.66" fill="#BEDDEC"/>
<rect x="85.89" y="444.66" width="45.29" height="6.66" fill="#FDC07B"/>
<rect x="131.18" y="444.66" width="45.29" height="6.66" fill="#E5F5EF"/>
<rect x="176.47" y="444.66" width="45.29" height="6.66" fill="#FEE597"/>
<rect x="221.76" y="444.66" width="45.29" height="6.66" fill="#FDA469"/>
<rect x="267.05" y="444.66" width="45.29" height="6.66" fill="#A7CEE3"/>
<rect x="312.34" y="444.66" width="45.29" height="6.66" fill="#E6F5ED"/>
<rect x="357.63" y="444.66" width="45.29" height="6.66" fill="#ABD0E4"/>
<rect x="40.60" y="451.32" width="45.29" height="6.66" fill="#D5ECF4"/>
<rect x="85.89" y="451.32" width="45.29" height="6.66" fill="#FDB272"/>
<rect x="131.18" y="451.32" width="45.29" height="6.66" fill="#E5F5EF"/>
<rect x="176.47" y="451.32" width="45.29" height="6.66" fill="#FEE699"/>
<rect x="221.76" y="451.32" width="45.29" height="6.66" fill="#FDA86B"/>
<rect x="267.05" y="451.32" width="45.29" height="6.66" fill="#8DBBD9"/>
<rect x="312.34" y="451.32" width="45.29" height="6.66" fill="#DCF0F6"/>
<rect x="357.63" y="451.32" width="45.29" height="6.66" fill="#9AC5DE"/>
<rect x="40.60" y="457.98" width="45.29" height="6.66" fill="#B4D6E8"/>
<rect x="85.89" y="457.98" width="45.29" height="6.66" fill="#FEE395"/>
<rect x="131.18" y="457.98" width="45.29" height="6.66" fill="#CBE5F0"/>
<rect x="176.47" y="457.98" width="45.29" height="6.66" fill="#FDA469"/>
<rect x="221.76" y="457.98" width="45.29" height="6.66" fill="#FEE191"/>
<rect x="267.05" y="457.98" width="45.29" height="6.66" fill="#D8EEF5"/>
<rect x="312.34" y="457.98" width="45.29" height="6.66" fill="#CFE8F2"/>
<rect x="357.63" y="457.98" width="45.29" height="6.66" fill="#CBE5F0"/>
<rect x="40.60" y="464.64" width="45.29" height="6.66" fill="#E5F5EF"/>
<rect x="85.89" y="464.64" width="45.29" height="6.66" fill="#FEE699"/>
<rect x="131.18" y="464.64" width="45.29" height="6.66" fill="#F7FCCE"/>
<rect x="176.47" y="464.64" width="45.29" height="6.66" fill="#FEE597"/>
<rect x="221.76" y="464.64" width="45.29" height="6.66" fill="#FEE293"/>
<rect x="267.05" y="464.64" width="45.29" height="6.66" fill="#C8E3EF"/>
<rect x="312.34" y="464.64" width="45.29" height="6.66" fill="#E2F4F4"/>
<rect x="357.63" y="464.64" width="45.29" height="6.66" fill="#D8EEF5"/>
<rect x="40.60" y="471.30" width="45.29" height="6.66" fill="#D8EEF5"/>
<rect x="85.89" y="471.30" width="45.29" height="6.66" fill="#FED588"/>
<rect x="131.18" y="471.30" width="45.29" height="6.66" fill="#E7F6EB"/>
<rect x="176.47" y="471.30" width="45.29" height="6.66" fill="#FEE597"/>
<rect x="221.76" y="471.30" width="45.29" height="6.66" fill="#FED588"/>
<rect x="267.05" y="471.30" width="45.29" height="6.66" fill="#C5E1EE"/>
<rect x="312.34" y="471.30" width="45.29" height="6.66" fill="#ABD0E4"/>
<rect x="357.63" y="471.30" width="45.29" height="6.66" fill="#E2F4F4"/>
<rect x="40.60" y="477.96" width="45.29" height="6.66" fill="#FEE597"/>
<rect x="85.89" y="477.96" width="45.29" height="6.66" fill="#A7CEE3"/>
<rect x="131.18" y="477.96" width="45.29" height="6.66" fill="#BBDBEA"/>
<rect x="176.47" y="477.96" width="45.29" height="6.66" fill="#FDCA82"/>
<rect x="221.76" y="477.96" width="45.29" height="6.66" fill="#E1F3F6"/>
<rect x="267.05" y="477.96" width="45.29" height="6.66" fill="#C1DFED"/>
<rect x="312.34" y="477.96" width="45.29" height="6.66" fill="#FEE191"/>
<rect x="357.63" y="477.96" width="45.29" height="6.66" fill="#C1DFED"/>
<rect x="40.60" y="484.62" width="45.29" height="6.66" fill="#E1F3F6"/>
<rect x="85.89" y="484.62" width="45.29" height="6.66" fill="#FEEBA1"/>
<rect x="131.18" y="484.62" width="45.29" height="6.66" fill="#E7F6EB"/>
<rect x="176.47" y="484.62" width="45.29" height="6.66" fill="#FDC77F"/>
<rect x="221.76" y="484.62" width="45.29" height="6.66" fill="#DCF0F6"/>
<rect x="267.05" y="484.62" width="45.29" height="6.66" fill="#97C3DD"/>
<rect x="312.34" y="484.62" width="45.29" height="6.66" fill="#FEE597"/>
<rect x="357.63" y="484.62" width="45.29" height="6.66" fill="#FEDB8D"/>
<rect x="40.60" y="491.28" width="45.29" height="6.66" fill="#DCF0F6"/>
<rect x="85.89" y="491.28" width="45.29" height="6.66" fill="#D8EEF5"/>
<rect x="131.18" y="491.28" width="45.29" height="6.66" fill="#FEE99D"/>
<rect x="176.47" y="491.28" width="45.29" height="6.66" fill="#FEE597"/>
<rect x="221.76" y="491.28" width="45.29" height="6.66" fill="#FEE99D"/>
<rect x="267.05" y="491.28" width="45.29" height="6.66" fill="#D8EEF5"/>
<rect x="312.34" y="491.28" width="45.29" height="6.66" fill="#FEEA9F"/>
<rect x="357.63" y="491.28" width="45.29" height="6.66" fill="#FEE699"/>
<rect x="40.60" y="497.94" width="45.29" height="6.66" fill="#FEE191"/>
<rect x="85.89" y="497.94" width="45.29" height="6.66" fill="#DCF0F6"/>
<rect x="131.18" y="497.94" width="45.29" height="6.66" fill="#E6F5ED"/>
<rect x="176.47" y="497.94" width="45.29" height="6.66" fill="#FEE699"/>
<rect x="221.76" y="497.94" width="45.29" height="6.66" fill="#FEE597"/>
<rect x="267.05" y="497.94" width="45.29" height="6.66" fill="#A4CCE2"/>
<rect x="312.34" y="497.94" width="45.29" height="6.66" fill="#FEDB8D"/>
<rect x="357.63" y="497.94" width="45.29" height="6.66" fill="#FEECA3"/>
<rect x="40.60" y="504.60" width="45.29" height="6.66" fill="#FDC07B"/>
<rect x="85.89" y="504.60" width="45.29" height="6.66" fill="#94C1DC"/>
<rect x="131.18" y="504.60" width="45.29" height="6.66" fill="#DCF0F6"/>
<rect x="176.47" y="504.60" width="45.29" height="6.66" fill="#FED588"/>
<rect x="221.76" y="504.60" width="45.29" height="6.66" fill="#FDB976"/>
<rect x="267.05" y="504.60" width="45.29" height="6.66" fill="#94C1DC"/>
<rect x="312.34" y="504.60" width="45.29" height="6.66" fill="#E6F5ED"/>
<rect x="357.63" y="504.60" width="45.29" height="6.66" fill="#FED186"/>
<rect x="40.60" y="511.26" width="45.29" height="6.66" fill="#FEE597"/>
<rect x="85.89" y="511.26" width="45.29" height="6.66" fill="#E7F6EB"/>
<rect x="131.18" y="511.26" width="45.29" height="6.66" fill="#FEECA3"/>
<rect x="176.47" y="511.26" width="45.29" height="6.66" fill="#C8E3EF"/>
<rect x="221.76" y="511.26" width="45.29" height="6.66" fill="#FEE99D"/>
<rect x="267.05" y="511.26" width="45.29" height="6.66" fill="#E2F4F4"/>
<rect x="312.34" y="511.26" width="45.29" height="6.66" fill="#C1DFED"/>
<rect x="357.63" y="511.26" width="45.29" height="6.66" fill="#FDAB6D"/>
<rect x="40.60" y="517.92" width="45.29" height="6.66" fill="#FEEBA1"/>
<rect x="85.89" y="517.92" width="45.29" height="6.66" fill="#C5E1EE"/>
<rect x="131.18" y="517.92" width="45.29" height="6.66" fill="#DCF0F6"/>
<rect x="176.47" y="517.92" width="45.29" height="6.66" fill="#C8E3EF"/>
<rect x="221.76" y="517.92" width="45.29" height="6.66" fill="#FEEBA1"/>
<rect x="267.05" y="517.92" width="45.29" height="6.66" fill="#E5F5EF"/>
<rect x="312.34" y="517.92" width="45.29" height="6.66" fill="#E1F3F6"/>
<rect x="357.63" y="517.92" width="45.29" height="6.66" fill="#FDB272"/>
<rect x="40.60" y="524.58" width="45.29" height="6.66" fill="#FEE395"/>
<rect x="85.89" y="524.58" width="45.29" height="6.66" fill="#ABD0E4"/>
<rect x="131.18" y="524.58" width="45.29" height="6.66" fill="#FFF2AB"/>
<rect x="176.47" y="524.58" width="45.29" height="6.66" fill="#FDCA82"/>
<rect x="221.76" y="524.58" width="45.29" height="6.66" fill="#FEE597"/>
<rect x="267.05" y="524.58" width="45.29" height="6.66" fill="#C5E1EE"/>
<rect x="312.34" y="524.58" width="45.29" height="6.66" fill="#AED2E6"/>
<rect x="357.63" y="524.58" width="45.29" height="6.66" fill="#FED588"/>
<rect x="40.60" y="531.24" width="45.29" height="6.66" fill="#FED88B"/>
<rect x="85.89" y="531.24" width="45.29" height="6.66" fill="#BEDDEC"/>
<rect x="131.18" y="531.24" width="45.29" height="6.66" fill="#E9F6E8"/>
<rect x="176.47" y="531.24" width="45.29" height="6.66" fill="#FED186"/>
<rect x="221.76" y="531.24" width="45.29" height="6.66" fill="#FEE699"/>
<rect x="267.05" y="531.24" width="45.29" height="6.66" fill="#B8D8E9"/>
<rect x="312.34" y="531.24" width="45.29" height="6.66" fill="#D8EEF5"/>
<rect x="357.63" y="531.24" width="45.29" height="6.66" fill="#FEECA3"/>
<rect x="40.60" y="537.90" width="45.29" height="6.66" fill="#FEE597"/>
<rect x="85.89" y="537.90" width="45.29" height="6.66" fill="#C8E3EF"/>
<rect x="131.18" y="537.90" width="45.29" height="6.66" fill="#FFF0A9"/>
<rect x="176.47" y="537.90" width="45.29" height="6.66" fill="#FED588"/>
<rect x="221.76" y="537.90" width="45.29" height="6.66" fill="#FEECA3"/>
<rect x="267.05" y="537.90" width="45.29" height="6.66" fill="#C5E1EE"/>
<rect x="312.34" y="537.90" width="45.29" height="6.66" fill="#C1DFED"/>
<rect x="357.63" y="537.90" width="45.29" height="6.66" fill="#FEE99D"/>
<rect x="40.60" y="544.56" width="45.29" height="6.66" fill="#A7CEE3"/>
<rect x="85.89" y="544.56" width="45.29" height="6.66" fill="#FECE84"/>
<rect x="131.18" y="544.56" width="45.29" height="6.66" fill="#DC3C2D"/>
<rect x="176.47" y="544.56" width="45.29" height="6.66" fill="#FFF4AE"/>
<rect x="221.76" y="544.56" width="45.29" height="6.66" fill="#C1DFED"/>
<rect x="267.05" y="544.56" width="45.29" height="6.66" fill="#BBDBEA"/>
<rect x="312.34" y="544.56" width="45.29" height="6.66" fill="#87B5D6"/>
<rect x="357.63" y="544.56" width="45.29" height="6.66" fill="#FDC77F"/>
<rect x="40.60" y="551.22" width="45.29" height="6.66" fill="#94C1DC"/>
<rect x="85.89" y="551.22" width="45.29" height="6.66" fill="#FDC77F"/>
<rect x="131.18" y="551.22" width="45.29" height="6.66" fill="#E85A3E"/>
<rect x="176.47" y="551.22" width="45.29" height="6.66" fill="#FFF5B0"/>
<rect x="221.76" y="551.22" width="45.29" height="6.66" fill="#B1D4E7"/>
<rect x="267.05" y="551.22" width="45.29" height="6.66" fill="#C8E3EF"/>
<rect x="312.34" y="551.22" width="45.29" height="6.66" fill="#94C1DC"/>
<rect x="357.63" y="551.22" width="45.29" height="6.66" fill="#FED88B"/>
<rect x="40.60" y="557.88" width="45.29" height="6.66" fill="#E1F3F6"/>
<rect x="85.89" y="557.88" width="45.29" height="6.66" fill="#D8EEF5"/>
<rect x="131.18" y="557.88" width="45.29" height="6.66" fill="#FDCA82"/>
<rect x="176.47" y="557.88" width="45.29" height="6.66" fill="#FEE99D"/>
<rect x="221.76" y="557.88" width="45.29" height="6.66" fill="#C1DFED"/>
<rect x="267.05" y="557.88" width="45.29" height="6.66" fill="#FEECA3"/>
<rect x="312.34" y="557.88" width="45.29" height="6.66" fill="#BEDDEC"/>
<rect x="357.63" y="557.88" width="45.29" height="6.66" fill="#FEE191"/>
<rect x="40.60" y="564.54" width="45.29" height="6.66" fill="#C8E3EF"/>
<rect x="85.89" y="564.54" width="45.29" height="6.66" fill="#FEEFA7"/>
<rect x="131.18" y="564.54" width="45.29" height="6.66" fill="#FC975F"/>
<rect x="176.47" y="564.54" width="45.29" height="6.66" fill="#FEE597"/>
<rect x="221.76" y="564.54" width="45.29" height="6.66" fill="#A7CEE3"/>
<rect x="267.05" y="564.54" width="45.29" height="6.66" fill="#FEE99D"/>
<rect x="312.34" y="564.54" width="45.29" height="6.66" fill="#77A6CE"/>
<rect x="357.63" y="564.54" width="45.29" height="6.66" fill="#FDA469"/>
<rect x="40.60" y="571.20" width="45.29" height="6.66" fill="#C1DFED"/>
<rect x="85.89" y="571.20" width="45.29" height="6.66" fill="#FFF0A9"/>
<rect x="131.18" y="571.20" width="45.29" height="6.66" fill="#FDC37D"/>
<rect x="176.47" y="571.20" width="45.29" height="6.66" fill="#FDCA82"/>
<rect x="221.76" y="571.20" width="45.29" height="6.66" fill="#ABD0E4"/>
<rect x="267.05" y="571.20" width="45.29" height="6.66" fill="#FEEA9F"/>
<rect x="312.34" y="571.20" width="45.29" height="6.66" fill="#74A3CC"/>
<rect x="357.63" y="571.20" width="45.29" height="6.66" fill="#F78152"/>
<rect x="40.60" y="577.86" width="45.29" height="6.66" fill="#C8E3EF"/>
<rect x="85.89" y="577.86" width="45.29" height="6.66" fill="#FFF3AD"/>
<rect x="131.18" y="577.86" width="45.29" height="6.66" fill="#FDB674"/>
<rect x="176.47" y="577.86" width="45.29" height="6.66" fill="#E9F6E8"/>
<rect x="221.76" y="577.86" width="45.29" height="6.66" fill="#DCF0F6"/>
<rect x="267.05" y="577.86" width="45.29" height="6.66" fill="#D8EEF5"/>
<rect x="312.34" y="577.86" width="45.29" height="6.66" fill="#FEE99D"/>
<rect x="357.63" y="577.86" width="45.29" height="6.66" fill="#E1F3F6"/>
<rect x="40.60" y="584.52" width="45.29" height="6.66" fill="#C1DFED"/>
<rect x="85.89" y="584.52" width="45.29" height="6.66" fill="#FEEFA7"/>
<rect x="131.18" y="584.52" width="45.29" height="6.66" fill="#FDC07B"/>
<rect x="176.47" y="584.52" width="45.29" height="6.66" fill="#ECF8E1"/>
<rect x="221.76" y="584.52" width="45.29" height="6.66" fill="#DCF0F6"/>
<rect x="267.05" y="584.52" width="45.29" height="6.66" fill="#FEDB8D"/>
<rect x="312.34" y="584.52" width="45.29" height="6.66" fill="#FEEA9F"/>
<rect x="357.63" y="584.52" width="45.29" height="6.66" fill="#EBF7E4"/>
<rect x="40.60" y="591.18" width="45.29" height="6.66" fill="#DCF0F6"/>
<rect x="85.89" y="591.18" width="45.29" height="6.66" fill="#DCF0F6"/>
<rect x="131.18" y="591.18" width="45.29" height="6.66" fill="#FEE99D"/>
<rect x="176.47" y="591.18" width="45.29" height="6.66" fill="#BBDBEA"/>
<rect x="221.76" y="591.18" width="45.29" height="6.66" fill="#FEE191"/>
<rect x="267.05" y="591.18" width="45.29" height="6.66" fill="#FEE99D"/>
<rect x="312.34" y="591.18" width="45.29" height="6.66" fill="#FEEBA1"/>
<rect x="357.63" y="591.18" width="45.29" height="6.66" fill="#FEEEA5"/>
<rect x="40.60" y="597.84" width="45.29" height="6.66" fill="#C5E1EE"/>
<rect x="85.89" y="597.84" width="45.29" height="6.66" fill="#FFF0A9"/>
<rect x="131.18" y="597.84" width="45.29" height="6.66" fill="#FC9A62"/>
<rect x="176.47" y="597.84" width="45.29" height="6.66" fill="#C1DFED"/>
<rect x="221.76" y="597.84" width="45.29" height="6.66" fill="#FEEEA5"/>
<rect x="267.05" y="597.84" width="45.29" height="6.66" fill="#FA8957"/>
<rect x="312.34" y="597.84" width="45.29" height="6.66" fill="#D8EEF5"/>
<rect x="357.63" y="597.84" width="45.29" height="6.66" fill="#FEEFA7"/>
<path d="M40.6 271.50h362.3M40.6 278.16h362.3M40.6 284.82h362.3M40.6 291.48h362.3M40.6 298.14h362.3M40.6 304.80h362.3M40.6 311.46h362.3M40.6 318.12h362.3M40.6 324.78h362.3M40.6 331.44h362.3M40.6 338.10h362.3M40.6 344.76h362.3M40.6 351.42h362.3M40.6 358.08h362.3M40.6 364.74h362.3M40.6 371.40h362.3M40.6 378.06h362.3M40.6 384.72h362.3M40.6 391.38h362.3M40.6 398.04h362.3M40.6 404.70h362.3M40.6 411.36h362.3M40.6 418.02h362.3M40.6 424.68h362.3M40.6 431.34h362.3M40.6 438.00h362.3M40.6 444.66h362.3M40.6 451.32h362.3M40.6 457.98h362.3M40.6 464.64h362.3M40.6 471.30h362.3M40.6 477.96h362.3M40.6 484.62h362.3M40.6 491.28h362.3M40.6 497.94h362.3M40.6 504.60h362.3M40.6 511.26h362.3M40.6 517.92h362.3M40.6 524.58h362.3M40.6 531.24h362.3M40.6 537.90h362.3M40.6 544.56h362.3M40.6 551.22h362.3M40.6 557.88h362.3M40.6 564.54h362.3M40.6 571.20h362.3M40.6 577.86h362.3M40.6 584.52h362.3M40.6 591.18h362.3M40.6 597.84h362.3M40.6 604.50h362.3M40.60 271.5v333.0M85.89 271.5v333.0M131.18 271.5v333.0M176.47 271.5v333.0M221.76 271.5v333.0M267.05 271.5v333.0M312.34 271.5v333.0M357.63 271.5v333.0M402.92 271.5v333.0" stroke="#999" stroke-width="0.6" fill="none"/>
<text class="rl" transform="translate(404.9 277.2) scale(.92 1)">HALLMARK_INTERFERON_ALPHA_RESPONSE</text>
<text class="rl" transform="translate(404.9 283.9) scale(.92 1)">HALLMARK_ALLOGRAFT_REJECTION</text>
<text class="rl" transform="translate(404.9 290.5) scale(.92 1)">HALLMARK_INTERFERON_GAMMA_RESPONSE</text>
<text class="rl" transform="translate(404.9 297.2) scale(.92 1)">HALLMARK_TNFA_SIGNALING_VIA_NFKB</text>
<text class="rl" transform="translate(404.9 303.9) scale(.92 1)">HALLMARK_IL6_JAK_STAT3_SIGNALING</text>
<text class="rl" transform="translate(404.9 310.5) scale(.92 1)">HALLMARK_INFLAMMATORY_RESPONSE</text>
<text class="rl" transform="translate(404.9 317.2) scale(.92 1)">HALLMARK_EPITHELIAL_MESENCHYMAL_TRANSITION</text>
<text class="rl" transform="translate(404.9 323.8) scale(.92 1)">HALLMARK_ANGIOGENESIS</text>
<text class="rl" transform="translate(404.9 330.5) scale(.92 1)">HALLMARK_GLYCOLYSIS</text>
<text class="rl" transform="translate(404.9 337.2) scale(.92 1)">HALLMARK_UV_RESPONSE_DN</text>
<text class="rl" transform="translate(404.9 343.8) scale(.92 1)">HALLMARK_XENOBIOTIC_METABOLISM</text>
<text class="rl" transform="translate(404.9 350.5) scale(.92 1)">HALLMARK_COAGULATION</text>
<text class="rl" transform="translate(404.9 357.1) scale(.92 1)">HALLMARK_TGF_BETA_SIGNALING</text>
<text class="rl" transform="translate(404.9 363.8) scale(.92 1)">HALLMARK_UNFOLDED_PROTEIN_RESPONSE</text>
<text class="rl" transform="translate(404.9 370.5) scale(.92 1)">HALLMARK_APICAL_SURFACE</text>
<text class="rl" transform="translate(404.9 377.1) scale(.92 1)">HALLMARK_MTORC1_SIGNALING</text>
<text class="rl" transform="translate(404.9 383.8) scale(.92 1)">HALLMARK_HEME_METABOLISM</text>
<text class="rl" transform="translate(404.9 390.4) scale(.92 1)">HALLMARK_MYOGENESIS</text>
<text class="rl" transform="translate(404.9 397.1) scale(.92 1)">HALLMARK_ANDROGEN_RESPONSE</text>
<text class="rl" transform="translate(404.9 403.8) scale(.92 1)">HALLMARK_APICAL_JUNCTION</text>
<text class="rl" transform="translate(404.9 410.4) scale(.92 1)">HALLMARK_PI3K_AKT_MTOR_SIGNALING</text>
<text class="rl" transform="translate(404.9 417.1) scale(.92 1)">HALLMARK_ESTROGEN_RESPONSE_LATE</text>
<text class="rl" transform="translate(404.9 423.8) scale(.92 1)">HALLMARK_UV_RESPONSE_UP</text>
<text class="rl" transform="translate(404.9 430.4) scale(.92 1)">HALLMARK_HYPOXIA</text>
<text class="rl" transform="translate(404.9 437.1) scale(.92 1)">HALLMARK_KRAS_SIGNALING_UP</text>
<text class="rl" transform="translate(404.9 443.7) scale(.92 1)">HALLMARK_APOPTOSIS</text>
<text class="rl" transform="translate(404.9 450.4) scale(.92 1)">HALLMARK_COMPLEMENT</text>
<text class="rl" transform="translate(404.9 457.0) scale(.92 1)">HALLMARK_IL2_STAT5_SIGNALING</text>
<text class="rl" transform="translate(404.9 463.7) scale(.92 1)">HALLMARK_REACTIVE_OXYGEN_SPECIES_PATHWAY</text>
<text class="rl" transform="translate(404.9 470.4) scale(.92 1)">HALLMARK_ESTROGEN_RESPONSE_EARLY</text>
<text class="rl" transform="translate(404.9 477.0) scale(.92 1)">HALLMARK_P53_PATHWAY</text>
<text class="rl" transform="translate(404.9 483.7) scale(.92 1)">HALLMARK_PROTEIN_SECRETION</text>
<text class="rl" transform="translate(404.9 490.4) scale(.92 1)">HALLMARK_CHOLESTEROL_HOMEOSTASIS</text>
<text class="rl" transform="translate(404.9 497.0) scale(.92 1)">HALLMARK_PEROXISOME</text>
<text class="rl" transform="translate(404.9 503.7) scale(.92 1)">HALLMARK_BILE_ACID_METABOLISM</text>
<text class="rl" transform="translate(404.9 510.3) scale(.92 1)">HALLMARK_NOTCH_SIGNALING</text>
<text class="rl" transform="translate(404.9 517.0) scale(.92 1)">HALLMARK_HEDGEHOG_SIGNALING</text>
<text class="rl" transform="translate(404.9 523.6) scale(.92 1)">HALLMARK_WNT_BETA_CATENIN_SIGNALING</text>
<text class="rl" transform="translate(404.9 530.3) scale(.92 1)">HALLMARK_OXIDATIVE_PHOSPHORYLATION</text>
<text class="rl" transform="translate(404.9 537.0) scale(.92 1)">HALLMARK_ADIPOGENESIS</text>
<text class="rl" transform="translate(404.9 543.6) scale(.92 1)">HALLMARK_FATTY_ACID_METABOLISM</text>
<text class="rl" transform="translate(404.9 550.3) scale(.92 1)">HALLMARK_E2F_TARGETS</text>
<text class="rl" transform="translate(404.9 556.9) scale(.92 1)">HALLMARK_G2M_CHECKPOINT</text>
<text class="rl" transform="translate(404.9 563.6) scale(.92 1)">HALLMARK_DNA_REPAIR</text>
<text class="rl" transform="translate(404.9 570.3) scale(.92 1)">HALLMARK_MYC_TARGETS_V1</text>
<text class="rl" transform="translate(404.9 576.9) scale(.92 1)">HALLMARK_MYC_TARGETS_V2</text>
<text class="rl" transform="translate(404.9 583.6) scale(.92 1)">HALLMARK_MITOTIC_SPINDLE</text>
<text class="rl" transform="translate(404.9 590.2) scale(.92 1)">HALLMARK_SPERMATOGENESIS</text>
<text class="rl" transform="translate(404.9 596.9) scale(.92 1)">HALLMARK_KRAS_SIGNALING_DN</text>
<text class="rl" transform="translate(404.9 603.6) scale(.92 1)">HALLMARK_PANCREAS_BETA_CELLS</text>
<text class="cl" transform="translate(66.3 606.3) rotate(-90)" text-anchor="end">AC−like Malignant</text>
<text class="cl" transform="translate(111.6 606.3) rotate(-90)" text-anchor="end">CD8Tex</text>
<text class="cl" transform="translate(156.9 606.3) rotate(-90)" text-anchor="end">Malignant</text>
<text class="cl" transform="translate(202.2 606.3) rotate(-90)" text-anchor="end">MES−like Malignant</text>
<text class="cl" transform="translate(247.5 606.3) rotate(-90)" text-anchor="end">Mono/Macro</text>
<text class="cl" transform="translate(292.8 606.3) rotate(-90)" text-anchor="end">NPC−like Malignant</text>
<text class="cl" transform="translate(338.1 606.3) rotate(-90)" text-anchor="end">Oligodendrocyte</text>
<text class="cl" transform="translate(383.4 606.3) rotate(-90)" text-anchor="end">OPC−like Malignant</text>
<path d="M40.6 281.5H35.6V288.1H40.6M40.6 301.5H36.8V308.1H40.6M40.6 294.8H35.4V304.8H36.8M35.6 284.8H32.3V299.8H35.4M40.6 274.8H24.5V292.3H32.3M40.6 321.4H34.7V328.1H40.6M40.6 314.8H31.5V324.8H34.7M40.6 348.1H34.1V354.8H40.6M40.6 341.4H30.4V351.4H34.1M40.6 334.8H24.5V346.4H30.4M31.5 319.8H21.6V340.6H24.5M40.6 368.1H32.5V374.7H40.6M40.6 361.4H28.4V371.4H32.5M40.6 394.7H35.4V401.4H40.6M40.6 388.1H31.3V398.0H35.4M40.6 381.4H30.4V393.0H31.3M40.6 414.7H35.6V421.4H40.6M40.6 428.0H35.4V434.7H40.6M35.6 418.0H32.7V431.3H35.4M40.6 448.0H37.1V454.6H40.6M40.6 441.3H35.4V451.3H37.1M40.6 468.0H36.8V474.6H40.6M40.6 461.3H32.3V471.3H36.8M35.4 446.3H30.6V466.3H32.3M32.7 424.7H27.4V456.3H30.6M40.6 408.0H25.4V440.5H27.4M30.4 387.2H23.3V424.3H25.4M28.4 366.4H19.3V405.7H23.3M21.6 330.2H17.5V386.1H19.3M24.5 283.6H12.3V358.1H17.5M40.6 488.0H25.4V494.6H40.6M40.6 481.3H21.4V491.3H25.4M40.6 501.3H28.4V507.9H40.6M40.6 514.6H28.6V521.2H40.6M40.6 534.6H33.6V541.2H40.6M40.6 527.9H28.6V537.9H33.6M28.6 517.9H22.4V532.9H28.6M28.4 504.6H19.8V525.4H22.4M21.4 486.3H15.4V515.0H19.8M40.6 547.9H37.1V554.5H40.6M40.6 567.9H35.4V574.5H40.6M40.6 561.2H29.2V571.2H35.4M37.1 551.2H21.4V566.2H29.2M40.6 581.2H29.8V587.9H40.6M40.6 594.5H26.6V601.2H40.6M29.8 584.5H19.3V597.8H26.6M21.4 558.7H13.4V591.2H19.3M15.4 500.6H4.7V574.9H13.4M12.3 320.9H2.3V537.8H4.7" stroke="#222" stroke-width="0.7" fill="none"/>
<defs><linearGradient id="cb" x1="0" y1="1" x2="0" y2="0"><stop offset="0.0000" stop-color="#4575B4"/><stop offset="0.1667" stop-color="#91BFDB"/><stop offset="0.3333" stop-color="#E0F3F8"/><stop offset="0.5000" stop-color="#FFFFBF"/><stop offset="0.6667" stop-color="#FEE090"/><stop offset="0.8333" stop-color="#FC8D59"/><stop offset="1.0000" stop-color="#D73027"/></linearGradient></defs>
<rect x="603.7" y="271.8" width="7.5" height="109.4" fill="url(#cb)"/>
<text class="hl" x="614" y="285.5">0.6</text>
<text class="hl" x="614" y="300.7">0.4</text>
<text class="hl" x="614" y="315.9">0.2</text>
<text class="hl" x="614" y="331.1">0</text>
<text class="hl" x="614" y="346.3">−0.2</text>
<text class="hl" x="614" y="361.5">−0.4</text>
<text class="hl" x="614" y="376.7">−0.6</text>
</svg></body></html>
